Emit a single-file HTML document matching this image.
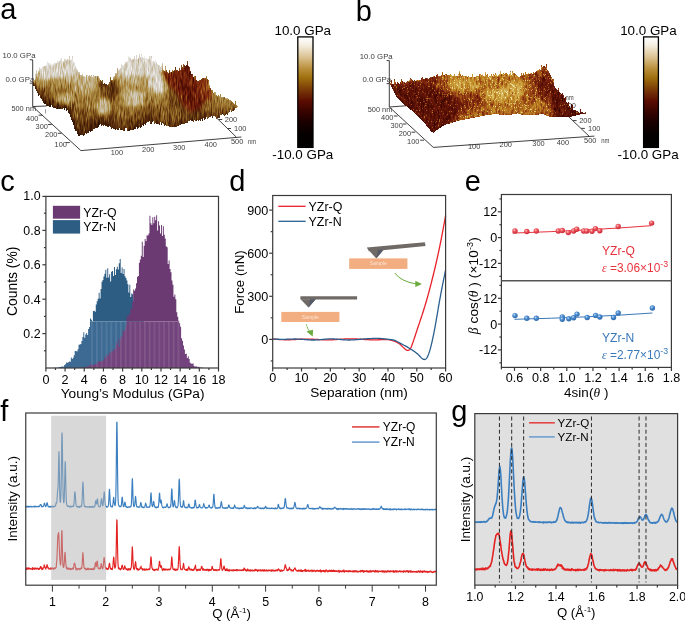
<!DOCTYPE html>
<html><head><meta charset="utf-8"><title>figure</title>
<style>html,body{margin:0;padding:0;background:#fff;width:685px;height:621px;overflow:hidden}svg{display:block;font-family:"Liberation Sans",sans-serif;will-change:transform}</style>
</head><body>
<svg width="685" height="621" viewBox="0 0 685 621">
<rect width="685" height="621" fill="#fff"/>
<defs><linearGradient id="cbar" x1="0" y1="0" x2="0" y2="1"><stop offset="0" stop-color="#ffffff"/><stop offset="0.07" stop-color="#f6f0e4"/><stop offset="0.18" stop-color="#dcc494"/><stop offset="0.28" stop-color="#bb9240"/><stop offset="0.37" stop-color="#a0700e"/><stop offset="0.47" stop-color="#7c3e08"/><stop offset="0.58" stop-color="#5a0c02"/><stop offset="0.67" stop-color="#3a0400"/><stop offset="0.77" stop-color="#1a0000"/><stop offset="0.88" stop-color="#060000"/><stop offset="1" stop-color="#000000"/></linearGradient></defs>
<rect x="297.8" y="36.9" width="15.199999999999989" height="110.5" fill="url(#cbar)" stroke="#000" stroke-width="1.3"/>
<text x="302.75" y="35.00" font-size="13.4" text-anchor="middle" fill="#000" >10.0 GPa</text>
<text x="302.75" y="159.40" font-size="13.4" text-anchor="middle" fill="#000" >-10.0 GPa</text>
<rect x="643.6" y="36.9" width="14.799999999999955" height="110.5" fill="url(#cbar)" stroke="#000" stroke-width="1.3"/>
<text x="648.45" y="35.00" font-size="13.4" text-anchor="middle" fill="#000" >10.0 GPa</text>
<text x="648.10" y="159.40" font-size="13.4" text-anchor="middle" fill="#000" >-10.0 GPa</text>
<line x1="32.7" y1="59.8" x2="32.7" y2="106.5" stroke="#2a2a2a" stroke-width="0.9"/>
<line x1="29.8" y1="59.8" x2="32.7" y2="59.8" stroke="#2a2a2a" stroke-width="0.9"/>
<line x1="29.8" y1="83.2" x2="32.7" y2="83.2" stroke="#2a2a2a" stroke-width="0.9"/>
<line x1="32.7" y1="106.5" x2="46.5" y2="106.0" stroke="#2a2a2a" stroke-width="0.9"/>
<line x1="45.6" y1="109.3" x2="45.6" y2="113.4" stroke="#777" stroke-width="0.8"/>
<line x1="32.7" y1="106.5" x2="80.9" y2="150.6" stroke="#2a2a2a" stroke-width="0.9"/>
<line x1="80.9" y1="150.6" x2="241.4" y2="137.0" stroke="#2a2a2a" stroke-width="0.9"/>
<line x1="236.2" y1="137.0" x2="216.0" y2="117.3" stroke="#2a2a2a" stroke-width="0.9"/>
<line x1="38.6" y1="115.2" x2="42.4" y2="115.2" stroke="#2a2a2a" stroke-width="0.9"/>
<line x1="47.9" y1="124.5" x2="51.7" y2="124.5" stroke="#2a2a2a" stroke-width="0.9"/>
<line x1="57.8" y1="133.3" x2="61.6" y2="133.3" stroke="#2a2a2a" stroke-width="0.9"/>
<line x1="66.0" y1="142.6" x2="69.8" y2="142.6" stroke="#2a2a2a" stroke-width="0.9"/>
<line x1="218.6" y1="119.5" x2="222.2" y2="119.5" stroke="#2a2a2a" stroke-width="0.9"/>
<line x1="227.4" y1="128.5" x2="231.0" y2="128.5" stroke="#2a2a2a" stroke-width="0.9"/>
<text x="2.5" y="57.9" font-family="Liberation Sans" font-size="7.2" fill="#3c3c3c" text-anchor="start" textLength="33.0" lengthAdjust="spacingAndGlyphs">10.0 GPa</text>
<text x="5.5" y="81.8" font-family="Liberation Sans" font-size="7.2" fill="#3c3c3c" text-anchor="start" textLength="28.8" lengthAdjust="spacingAndGlyphs">0.0 GPa</text>
<text x="11.4" y="111.2" font-family="Liberation Sans" font-size="7.2" fill="#3c3c3c" text-anchor="start" textLength="24.7" lengthAdjust="spacingAndGlyphs">500 nm</text>
<text x="26.0" y="120.5" font-family="Liberation Sans" font-size="7.2" fill="#3c3c3c" text-anchor="start" textLength="12.4" lengthAdjust="spacingAndGlyphs">400</text>
<text x="35.6" y="129.0" font-family="Liberation Sans" font-size="7.2" fill="#3c3c3c" text-anchor="start" textLength="12.4" lengthAdjust="spacingAndGlyphs">300</text>
<text x="45.0" y="137.4" font-family="Liberation Sans" font-size="7.2" fill="#3c3c3c" text-anchor="start" textLength="12.4" lengthAdjust="spacingAndGlyphs">200</text>
<text x="54.6" y="146.8" font-family="Liberation Sans" font-size="7.2" fill="#3c3c3c" text-anchor="start" textLength="12.4" lengthAdjust="spacingAndGlyphs">100</text>
<text x="110.7" y="154.6" font-family="Liberation Sans" font-size="7.2" fill="#3c3c3c" text-anchor="start" textLength="12.4" lengthAdjust="spacingAndGlyphs">100</text>
<text x="142.0" y="152.1" font-family="Liberation Sans" font-size="7.2" fill="#3c3c3c" text-anchor="start" textLength="12.4" lengthAdjust="spacingAndGlyphs">200</text>
<text x="173.0" y="149.6" font-family="Liberation Sans" font-size="7.2" fill="#3c3c3c" text-anchor="start" textLength="12.4" lengthAdjust="spacingAndGlyphs">300</text>
<text x="204.6" y="146.7" font-family="Liberation Sans" font-size="7.2" fill="#3c3c3c" text-anchor="start" textLength="12.4" lengthAdjust="spacingAndGlyphs">400</text>
<text x="230.9" y="143.6" font-family="Liberation Sans" font-size="7.2" fill="#3c3c3c" text-anchor="start" textLength="12.4" lengthAdjust="spacingAndGlyphs">500</text>
<text x="248.0" y="143.6" font-family="Liberation Sans" font-size="7.2" fill="#3c3c3c" text-anchor="start" textLength="8.2" lengthAdjust="spacingAndGlyphs">nm</text>
<text x="224.8" y="121.8" font-family="Liberation Sans" font-size="7.2" fill="#3c3c3c" text-anchor="start" textLength="12.4" lengthAdjust="spacingAndGlyphs">200</text>
<text x="234.0" y="131.0" font-family="Liberation Sans" font-size="7.2" fill="#3c3c3c" text-anchor="start" textLength="12.4" lengthAdjust="spacingAndGlyphs">100</text>
<line x1="389.3" y1="60.6" x2="389.3" y2="107.0" stroke="#2a2a2a" stroke-width="0.9"/>
<line x1="386.6" y1="60.6" x2="389.3" y2="60.6" stroke="#2a2a2a" stroke-width="0.9"/>
<line x1="386.6" y1="83.6" x2="389.3" y2="83.6" stroke="#2a2a2a" stroke-width="0.9"/>
<line x1="389.3" y1="107.0" x2="408.5" y2="105.6" stroke="#2a2a2a" stroke-width="0.9"/>
<line x1="389.3" y1="107.0" x2="433.3" y2="147.4" stroke="#2a2a2a" stroke-width="0.9"/>
<line x1="433.3" y1="147.4" x2="594.4" y2="136.1" stroke="#2a2a2a" stroke-width="0.9"/>
<line x1="589.2" y1="136.3" x2="568.3" y2="116.4" stroke="#2a2a2a" stroke-width="0.9"/>
<line x1="393.8" y1="116.0" x2="397.6" y2="116.0" stroke="#2a2a2a" stroke-width="0.9"/>
<line x1="402.6" y1="124.0" x2="406.4" y2="124.0" stroke="#2a2a2a" stroke-width="0.9"/>
<line x1="411.4" y1="132.2" x2="415.2" y2="132.2" stroke="#2a2a2a" stroke-width="0.9"/>
<line x1="420.2" y1="140.2" x2="424.0" y2="140.2" stroke="#2a2a2a" stroke-width="0.9"/>
<line x1="573.0" y1="120.6" x2="576.6" y2="120.6" stroke="#2a2a2a" stroke-width="0.9"/>
<line x1="581.3" y1="128.4" x2="584.9" y2="128.4" stroke="#2a2a2a" stroke-width="0.9"/>
<text x="359.7" y="58.6" font-family="Liberation Sans" font-size="7.2" fill="#3c3c3c" text-anchor="start" textLength="33.0" lengthAdjust="spacingAndGlyphs">10.0 GPa</text>
<text x="362.4" y="82.0" font-family="Liberation Sans" font-size="7.2" fill="#3c3c3c" text-anchor="start" textLength="28.8" lengthAdjust="spacingAndGlyphs">0.0 GPa</text>
<text x="367.7" y="112.1" font-family="Liberation Sans" font-size="7.2" fill="#3c3c3c" text-anchor="start" textLength="24.7" lengthAdjust="spacingAndGlyphs">500 nm</text>
<text x="381.0" y="120.0" font-family="Liberation Sans" font-size="7.2" fill="#3c3c3c" text-anchor="start" textLength="12.4" lengthAdjust="spacingAndGlyphs">400</text>
<text x="390.4" y="128.0" font-family="Liberation Sans" font-size="7.2" fill="#3c3c3c" text-anchor="start" textLength="12.4" lengthAdjust="spacingAndGlyphs">300</text>
<text x="398.7" y="136.0" font-family="Liberation Sans" font-size="7.2" fill="#3c3c3c" text-anchor="start" textLength="12.4" lengthAdjust="spacingAndGlyphs">200</text>
<text x="407.0" y="144.0" font-family="Liberation Sans" font-size="7.2" fill="#3c3c3c" text-anchor="start" textLength="12.4" lengthAdjust="spacingAndGlyphs">100</text>
<text x="467.9" y="148.7" font-family="Liberation Sans" font-size="7.2" fill="#3c3c3c" text-anchor="start" textLength="12.4" lengthAdjust="spacingAndGlyphs">100</text>
<text x="499.5" y="147.2" font-family="Liberation Sans" font-size="7.2" fill="#3c3c3c" text-anchor="start" textLength="12.4" lengthAdjust="spacingAndGlyphs">200</text>
<text x="532.3" y="145.7" font-family="Liberation Sans" font-size="7.2" fill="#3c3c3c" text-anchor="start" textLength="12.4" lengthAdjust="spacingAndGlyphs">300</text>
<text x="556.7" y="144.6" font-family="Liberation Sans" font-size="7.2" fill="#3c3c3c" text-anchor="start" textLength="12.4" lengthAdjust="spacingAndGlyphs">400</text>
<text x="584.0" y="143.1" font-family="Liberation Sans" font-size="7.2" fill="#3c3c3c" text-anchor="start" textLength="12.4" lengthAdjust="spacingAndGlyphs">500</text>
<text x="601.2" y="143.1" font-family="Liberation Sans" font-size="7.2" fill="#3c3c3c" text-anchor="start" textLength="8.2" lengthAdjust="spacingAndGlyphs">nm</text>
<text x="579.2" y="122.7" font-family="Liberation Sans" font-size="7.2" fill="#3c3c3c" text-anchor="start" textLength="12.4" lengthAdjust="spacingAndGlyphs">200</text>
<text x="588.1" y="131.0" font-family="Liberation Sans" font-size="7.2" fill="#3c3c3c" text-anchor="start" textLength="12.4" lengthAdjust="spacingAndGlyphs">100</text>
<text x="565.6" y="99.6" font-family="Liberation Sans" font-size="7.2" fill="#3c3c3c" text-anchor="start" textLength="8.2" lengthAdjust="spacingAndGlyphs">nm</text>
<text x="567.7" y="107.5" font-family="Liberation Sans" font-size="7.2" fill="#3c3c3c" text-anchor="start" textLength="8.2" lengthAdjust="spacingAndGlyphs">00</text><g fill="none" stroke-width="1"><path stroke="#eeece8" d="M42.5 70v4M44.5 72v5M46.5 64v1M47.5 64v2M51.5 64v2M52.5 64v1M53.5 63v2M54.5 62v2M57.5 66v5M59.5 72v2M62.5 61v1M65.5 72v1M73.5 61v1M73.5 67v2M126.5 72v3M128.5 56v1M128.5 61v1M129.5 63v4M131.5 67v3M144.5 56v2M145.5 59v3M146.5 58v2M147.5 69v5M151.5 60v1M152.5 61v1M153.5 73v1M155.5 60v3M156.5 77v4M159.5 83v2"/><path stroke="#e9e6e1" d="M42.5 69v1M44.5 77v1M46.5 65v1M47.5 63v1M49.5 64v1M50.5 63v2M53.5 73v2M56.5 70v2M57.5 65v1M59.5 74v1M61.5 75v1M65.5 71v1M65.5 73v1M68.5 59v1M71.5 59v1M72.5 60v1M73.5 69v1M74.5 65v2M122.5 69v2M123.5 65v1M126.5 71v1M127.5 68v2M128.5 57v1M128.5 60v1M128.5 65v3M129.5 67v1M129.5 70v3M131.5 66v1M133.5 70v1M134.5 73v1M139.5 68v1M141.5 56v2M143.5 60v2M145.5 58v1M146.5 60v1M147.5 63v1M147.5 67v2M147.5 74v1M150.5 56v2M151.5 59v1M151.5 61v1M152.5 62v2M153.5 72v1M153.5 74v1M154.5 61v1M154.5 72v2M155.5 63v1M156.5 76v1M156.5 81v1M159.5 82v1M159.5 85v1M161.5 87v4"/><path stroke="#e4e1da" d="M39.5 67v1M42.5 68v1M42.5 74v1M44.5 71v1M47.5 66v2M49.5 75v2M51.5 66v1M52.5 65v1M54.5 69v2M56.5 72v1M57.5 62v1M57.5 64v1M57.5 71v1M59.5 70v2M60.5 64v2M61.5 74v1M61.5 76v1M62.5 62v4M63.5 69v2M67.5 66v3M68.5 60v1M68.5 66v4M68.5 71v2M71.5 64v2M72.5 59v1M72.5 61v2M73.5 66v1M74.5 67v1M76.5 68v1M87.5 76v1M121.5 64v1M122.5 65v2M122.5 68v1M122.5 71v1M126.5 75v1M127.5 61v1M127.5 70v3M128.5 58v2M128.5 62v3M128.5 68v1M129.5 57v1M129.5 62v1M129.5 68v2M129.5 73v1M130.5 62v2M130.5 72v2M131.5 65v1M131.5 70v1M133.5 69v1M133.5 71v1M134.5 72v1M134.5 74v1M135.5 60v2M135.5 65v3M139.5 66v2M139.5 69v1M140.5 65v2M141.5 63v3M143.5 59v1M144.5 58v1M145.5 62v1M146.5 61v1M147.5 61v2M147.5 64v3M149.5 66v6M150.5 58v1M151.5 62v1M152.5 64v1M153.5 68v1M153.5 71v1M154.5 71v1M154.5 74v1M154.5 86v2M156.5 75v1M156.5 88v2M159.5 65v1M159.5 86v2M161.5 85v2"/><path stroke="#dfdbd4" d="M39.5 68v1M41.5 68v1M42.5 67v1M42.5 75v1M43.5 66v1M47.5 62v1M47.5 68v1M49.5 70v2M49.5 74v1M49.5 77v1M51.5 67v1M51.5 71v2M52.5 66v1M53.5 72v1M53.5 75v1M54.5 68v1M54.5 71v1M55.5 63v1M55.5 74v1M56.5 69v1M56.5 73v1M57.5 61v1M57.5 63v1M59.5 69v1M60.5 63v1M60.5 66v1M61.5 61v1M61.5 73v1M62.5 66v1M63.5 61v1M63.5 68v1M64.5 71v2M65.5 59v2M65.5 70v1M66.5 67v2M67.5 69v1M68.5 65v1M68.5 70v1M68.5 73v1M71.5 60v1M71.5 63v1M71.5 66v6M72.5 58v1M72.5 63v1M72.5 73v2M73.5 62v1M73.5 70v1M74.5 64v1M87.5 77v1M119.5 69v1M121.5 65v1M122.5 67v1M122.5 72v1M123.5 66v1M124.5 64v1M125.5 72v1M126.5 70v1M127.5 62v2M127.5 67v1M127.5 73v1M128.5 69v1M129.5 58v1M129.5 74v1M130.5 64v1M130.5 67v5M130.5 74v1M132.5 72v2M133.5 72v1M134.5 56v1M134.5 75v1M135.5 59v1M135.5 62v3M135.5 68v1M136.5 58v1M137.5 59v1M138.5 72v1M139.5 61v5M139.5 70v1M140.5 64v1M140.5 67v1M141.5 55v1M141.5 66v1M143.5 62v1M144.5 59v1M145.5 63v1M146.5 62v2M147.5 60v1M148.5 72v2M149.5 65v1M149.5 72v1M149.5 81v2M150.5 59v1M150.5 82v1M151.5 58v1M151.5 63v2M151.5 74v3M152.5 74v2M153.5 61v1M153.5 67v1M153.5 69v2M154.5 70v1M154.5 75v1M154.5 85v1M154.5 88v1M155.5 64v1M155.5 77v1M155.5 84v2M156.5 62v1M156.5 74v1M156.5 82v1M156.5 87v1M156.5 90v1M157.5 65v7M157.5 81v1M158.5 82v2M159.5 81v1M159.5 88v1M161.5 84v1M161.5 91v1"/><path stroke="#dad6cd" d="M37.5 73v1M40.5 69v4M41.5 69v1M44.5 70v1M44.5 78v1M46.5 66v2M46.5 71v1M47.5 69v1M48.5 64v1M48.5 66v3M48.5 74v3M49.5 69v1M49.5 72v2M51.5 68v3M51.5 73v1M52.5 75v1M53.5 65v1M54.5 64v1M54.5 67v1M54.5 72v2M55.5 73v1M55.5 75v1M56.5 74v1M57.5 72v1M58.5 62v1M59.5 68v1M60.5 60v2M61.5 58v3M61.5 72v1M62.5 67v1M64.5 70v1M64.5 73v2M65.5 74v1M66.5 66v1M66.5 69v1M67.5 65v1M67.5 70v1M68.5 64v1M68.5 74v1M69.5 69v5M71.5 62v1M71.5 72v1M72.5 57v1M72.5 64v1M72.5 72v1M73.5 63v1M73.5 65v1M74.5 63v1M74.5 68v1M75.5 66v2M87.5 75v1M87.5 78v1M120.5 68v1M121.5 66v2M123.5 67v1M123.5 70v2M124.5 65v2M125.5 73v1M126.5 62v1M127.5 64v1M128.5 70v1M129.5 59v3M130.5 61v1M130.5 65v2M131.5 64v1M132.5 59v1M132.5 71v1M133.5 68v1M134.5 57v2M134.5 64v4M134.5 71v1M135.5 69v1M136.5 55v3M136.5 97v3M137.5 60v4M138.5 71v1M138.5 73v1M139.5 54v2M139.5 60v1M139.5 71v1M140.5 62v2M140.5 73v1M141.5 58v1M141.5 62v1M141.5 73v1M142.5 57v1M142.5 70v1M143.5 58v1M145.5 64v1M145.5 67v3M146.5 64v1M146.5 68v2M146.5 73v3M147.5 75v1M148.5 63v4M148.5 74v1M149.5 56v2M149.5 73v1M149.5 83v2M150.5 80v2M150.5 83v1M151.5 65v1M151.5 73v1M151.5 77v1M151.5 83v1M152.5 65v1M152.5 73v1M153.5 66v1M153.5 75v1M153.5 83v4M154.5 62v1M155.5 65v2M155.5 75v2M155.5 78v1M155.5 83v1M155.5 86v1M156.5 68v6M157.5 64v1M157.5 72v1M157.5 79v2M157.5 82v1M158.5 81v1M158.5 84v3M159.5 66v2M159.5 80v1M159.5 89v1M160.5 78v6M161.5 67v1"/><path stroke="#d5d0c5" d="M40.5 73v2M42.5 76v1M43.5 67v1M45.5 74v2M46.5 68v3M46.5 72v2M47.5 70v1M47.5 77v1M48.5 63v1M48.5 65v1M48.5 69v1M48.5 73v1M49.5 65v1M49.5 68v1M50.5 65v1M52.5 67v1M52.5 70v2M52.5 73v2M53.5 76v1M54.5 65v2M54.5 74v1M55.5 72v1M55.5 76v1M56.5 68v1M56.5 75v1M59.5 67v1M59.5 75v1M60.5 62v1M60.5 67v1M61.5 62v2M61.5 71v1M61.5 77v1M62.5 68v1M62.5 75v1M63.5 71v1M64.5 59v2M64.5 69v1M64.5 75v1M65.5 69v1M66.5 70v1M68.5 61v1M68.5 63v1M69.5 58v1M69.5 68v1M69.5 74v2M70.5 60v1M70.5 62v2M70.5 71v1M71.5 61v1M72.5 75v1M73.5 64v1M73.5 71v1M74.5 72v2M75.5 68v1M75.5 88v1M76.5 69v1M84.5 76v1M85.5 77v3M118.5 70v1M119.5 70v1M122.5 73v1M123.5 68v2M123.5 72v1M125.5 62v2M125.5 71v1M125.5 74v1M126.5 69v1M126.5 76v1M127.5 65v2M127.5 74v1M128.5 71v1M128.5 76v2M129.5 75v1M130.5 58v2M131.5 63v1M131.5 71v1M132.5 74v1M133.5 63v2M133.5 73v1M134.5 59v1M134.5 62v2M134.5 68v3M134.5 76v1M134.5 95v2M135.5 70v1M136.5 59v4M136.5 72v2M136.5 96v1M138.5 66v3M139.5 58v2M139.5 72v1M140.5 57v1M140.5 61v1M140.5 68v1M140.5 71v2M140.5 74v2M141.5 54v1M141.5 59v1M141.5 61v1M141.5 67v2M141.5 71v2M141.5 74v1M142.5 58v3M142.5 68v2M142.5 71v1M143.5 72v1M144.5 60v1M145.5 65v2M145.5 70v1M146.5 65v3M146.5 70v3M147.5 59v1M148.5 59v1M148.5 62v1M148.5 71v1M149.5 58v1M149.5 64v1M149.5 80v1M149.5 85v1M150.5 66v4M150.5 75v5M151.5 57v1M151.5 66v1M151.5 78v1M151.5 81v2M151.5 84v1M152.5 76v1M153.5 62v1M153.5 81v2M153.5 87v1M154.5 63v1M154.5 69v1M154.5 76v1M154.5 84v1M154.5 89v1M155.5 67v2M155.5 73v2M155.5 79v4M155.5 87v2M156.5 63v5M156.5 83v1M156.5 86v1M156.5 91v1M157.5 73v2M157.5 77v2M157.5 83v1M158.5 73v3M158.5 80v1M158.5 87v3M159.5 68v1M159.5 76v4M160.5 68v1M160.5 77v1M160.5 84v1M160.5 88v2M161.5 66v1M161.5 68v2M161.5 83v1"/><path stroke="#d2cbbb" d="M35.5 75v2M36.5 70v1M37.5 74v1M39.5 69v1M40.5 75v1M41.5 70v3M43.5 68v1M44.5 69v1M45.5 76v1M46.5 74v1M47.5 76v1M47.5 78v1M48.5 70v1M48.5 72v1M48.5 77v1M49.5 66v1M49.5 78v1M50.5 70v4M51.5 74v1M52.5 68v2M52.5 72v1M52.5 76v1M53.5 71v1M54.5 75v1M55.5 64v1M57.5 73v2M58.5 75v1M59.5 61v2M60.5 68v2M61.5 70v1M62.5 74v1M62.5 76v1M63.5 67v1M64.5 61v1M64.5 76v1M65.5 61v4M66.5 60v1M66.5 65v1M66.5 71v1M67.5 64v1M67.5 71v1M68.5 62v1M68.5 75v1M69.5 57v1M69.5 59v1M69.5 66v2M69.5 76v1M69.5 79v2M70.5 61v1M70.5 64v1M70.5 68v3M70.5 72v3M71.5 73v1M72.5 56v1M72.5 65v1M72.5 71v1M73.5 72v1M74.5 69v1M74.5 71v1M75.5 87v1M75.5 89v1M76.5 70v1M81.5 87v1M85.5 80v1M87.5 79v1M100.5 101v2M104.5 100v2M119.5 71v1M120.5 69v3M121.5 68v3M123.5 73v1M124.5 67v1M125.5 70v1M125.5 75v1M126.5 68v1M128.5 72v4M130.5 60v1M131.5 62v1M131.5 92v3M132.5 70v1M133.5 62v1M133.5 65v3M134.5 60v2M134.5 93v2M134.5 97v1M135.5 71v1M136.5 63v2M136.5 71v1M136.5 100v1M137.5 64v1M138.5 65v1M138.5 69v2M138.5 74v1M139.5 56v2M139.5 73v1M140.5 60v1M140.5 69v2M140.5 76v1M141.5 60v1M141.5 69v2M141.5 95v2M142.5 61v7M142.5 72v1M143.5 63v1M143.5 71v1M143.5 73v1M145.5 71v2M146.5 76v1M148.5 61v1M148.5 67v1M148.5 75v1M148.5 82v2M149.5 59v1M149.5 63v1M149.5 74v1M149.5 86v1M150.5 60v3M150.5 65v1M150.5 70v1M150.5 73v2M150.5 84v1M151.5 56v1M151.5 67v1M151.5 72v1M151.5 79v2M151.5 85v1M152.5 72v1M153.5 63v1M153.5 65v1M153.5 80v1M154.5 83v1M155.5 72v1M155.5 89v1M156.5 84v2M157.5 75v2M157.5 84v4M158.5 70v3M158.5 76v1M158.5 79v1M158.5 90v1M159.5 69v1M159.5 75v1M159.5 90v1M160.5 67v1M160.5 69v1M160.5 76v1M160.5 85v3M160.5 90v1M162.5 83v2M162.5 89v1"/><path stroke="#cec6b1" d="M35.5 74v1M36.5 71v1M37.5 75v1M40.5 76v1M41.5 73v1M42.5 77v1M43.5 69v4M45.5 73v1M45.5 77v1M46.5 75v1M47.5 71v1M47.5 75v1M47.5 79v1M48.5 71v1M49.5 67v1M50.5 66v1M50.5 69v1M50.5 74v1M51.5 75v1M53.5 66v1M53.5 77v1M55.5 65v2M55.5 71v1M56.5 63v1M56.5 67v1M56.5 76v1M57.5 75v1M58.5 63v2M58.5 71v4M58.5 76v1M59.5 65v2M60.5 70v1M61.5 64v1M61.5 69v1M62.5 69v1M62.5 73v1M63.5 72v1M65.5 65v1M65.5 68v1M65.5 75v1M66.5 64v1M66.5 72v1M67.5 59v2M67.5 72v1M67.5 95v3M69.5 56v1M69.5 60v1M69.5 65v1M69.5 77v2M69.5 81v1M70.5 65v3M70.5 75v1M72.5 66v2M72.5 70v1M72.5 76v1M74.5 70v1M74.5 74v1M75.5 69v4M75.5 75v5M77.5 70v1M77.5 75v2M78.5 72v1M79.5 72v1M81.5 86v1M81.5 88v1M82.5 74v1M85.5 81v1M89.5 84v2M93.5 75v2M94.5 76v1M100.5 103v2M105.5 105v3M118.5 74v1M119.5 72v3M120.5 72v1M121.5 71v1M122.5 74v1M124.5 68v1M125.5 64v3M126.5 77v1M127.5 75v1M128.5 78v1M128.5 103v1M129.5 76v1M130.5 75v1M131.5 60v2M131.5 95v1M132.5 60v1M132.5 67v3M133.5 74v1M133.5 79v2M134.5 77v1M134.5 98v1M134.5 103v1M135.5 72v1M135.5 81v1M135.5 93v2M136.5 65v1M136.5 74v1M136.5 95v1M136.5 101v1M137.5 65v5M137.5 73v2M139.5 74v1M140.5 58v2M141.5 97v1M142.5 73v2M142.5 101v3M143.5 67v4M144.5 61v1M144.5 64v2M145.5 73v1M147.5 76v1M148.5 60v1M148.5 70v1M148.5 81v1M148.5 84v1M149.5 62v1M149.5 79v1M149.5 87v1M150.5 63v2M150.5 71v2M150.5 85v1M151.5 68v1M151.5 71v1M151.5 86v1M152.5 66v1M152.5 71v1M153.5 64v1M153.5 76v1M153.5 79v1M153.5 88v1M154.5 64v1M154.5 68v1M154.5 77v1M154.5 82v1M154.5 90v1M155.5 69v3M156.5 92v1M157.5 88v1M158.5 65v2M158.5 68v2M158.5 77v2M158.5 91v1M159.5 74v1M160.5 70v1M161.5 70v1M161.5 82v1M161.5 92v1M162.5 63v1M162.5 82v1M162.5 88v1M162.5 90v1"/><path stroke="#cbc0a6" d="M35.5 77v1M36.5 72v1M39.5 70v1M39.5 77v1M42.5 78v1M43.5 73v1M44.5 66v3M44.5 79v1M45.5 66v2M45.5 72v1M46.5 76v2M47.5 72v3M50.5 67v2M52.5 77v1M53.5 70v1M53.5 78v1M54.5 76v1M55.5 67v1M55.5 70v1M55.5 77v1M57.5 76v1M58.5 65v2M58.5 68v3M59.5 63v2M60.5 71v1M60.5 75v1M62.5 70v3M62.5 77v1M63.5 62v1M64.5 68v1M64.5 77v1M64.5 99v1M65.5 66v2M66.5 63v1M66.5 73v1M66.5 78v1M67.5 62v2M67.5 98v1M68.5 76v1M69.5 64v1M69.5 82v1M70.5 76v1M71.5 74v1M72.5 68v2M73.5 73v1M75.5 73v2M75.5 80v1M75.5 86v1M76.5 71v1M76.5 78v2M77.5 71v1M77.5 74v1M77.5 77v1M79.5 73v1M83.5 76v1M83.5 82v2M84.5 77v1M89.5 83v1M91.5 76v1M96.5 76v1M100.5 100v1M100.5 105v1M101.5 109v3M102.5 101v2M102.5 109v3M103.5 110v2M104.5 99v1M104.5 102v1M105.5 104v1M105.5 108v1M118.5 71v3M118.5 75v1M119.5 75v1M120.5 73v1M122.5 75v1M123.5 74v1M124.5 69v3M125.5 67v1M125.5 69v1M125.5 76v1M126.5 63v1M126.5 67v1M126.5 78v1M128.5 102v1M129.5 97v6M131.5 72v1M131.5 91v1M132.5 61v6M132.5 75v1M132.5 96v2M133.5 59v1M133.5 75v1M133.5 78v1M133.5 81v1M133.5 95v2M133.5 101v4M134.5 92v1M134.5 101v2M134.5 104v1M135.5 73v1M135.5 80v1M135.5 82v1M135.5 95v1M135.5 99v2M135.5 102v3M136.5 66v2M136.5 70v1M136.5 79v2M136.5 94v1M136.5 102v1M137.5 70v3M137.5 75v1M137.5 93v2M138.5 58v1M138.5 64v1M138.5 100v2M140.5 77v1M141.5 75v1M141.5 94v1M142.5 75v1M142.5 94v3M142.5 100v1M143.5 64v3M143.5 74v1M144.5 62v2M144.5 66v1M146.5 77v1M148.5 68v2M148.5 85v1M149.5 60v2M149.5 75v1M151.5 69v2M151.5 87v1M152.5 70v1M152.5 77v1M152.5 83v2M153.5 77v2M154.5 65v1M154.5 78v1M154.5 81v1M155.5 90v1M157.5 89v2M158.5 67v1M158.5 92v1M159.5 91v1M160.5 75v1M160.5 91v1M162.5 85v1M162.5 91v1"/><path stroke="#c8bb9c" d="M35.5 78v1M36.5 73v1M37.5 76v1M38.5 71v1M39.5 76v1M39.5 78v1M40.5 77v1M41.5 74v2M43.5 74v3M45.5 68v4M45.5 78v1M46.5 78v1M47.5 80v1M48.5 78v1M50.5 75v1M51.5 76v1M53.5 67v3M53.5 79v1M55.5 68v2M56.5 64v1M56.5 66v1M56.5 77v1M57.5 77v1M58.5 67v1M58.5 77v1M59.5 76v1M60.5 74v1M60.5 76v1M61.5 65v1M61.5 68v1M61.5 78v1M63.5 66v1M63.5 73v1M64.5 62v1M64.5 98v1M65.5 99v1M66.5 61v2M66.5 74v4M66.5 79v1M67.5 61v1M67.5 73v4M67.5 94v1M67.5 99v1M68.5 77v1M68.5 100v2M70.5 77v1M72.5 77v1M74.5 75v1M75.5 81v1M75.5 90v1M76.5 77v1M77.5 72v2M78.5 73v1M78.5 81v3M79.5 82v3M80.5 75v1M81.5 85v1M81.5 89v1M82.5 75v1M82.5 87v3M83.5 81v1M83.5 84v1M84.5 78v4M85.5 82v1M85.5 91v2M87.5 80v1M89.5 86v1M90.5 76v1M91.5 75v1M91.5 77v1M91.5 84v1M93.5 77v1M96.5 77v1M97.5 104v3M100.5 106v2M100.5 110v1M101.5 108v1M102.5 100v1M102.5 103v1M102.5 108v1M103.5 109v1M105.5 102v2M105.5 109v2M106.5 103v2M118.5 76v1M120.5 81v1M121.5 72v1M122.5 76v1M123.5 75v4M124.5 72v5M124.5 97v1M125.5 68v1M126.5 64v1M126.5 66v1M126.5 79v2M126.5 98v2M128.5 79v1M128.5 104v1M129.5 77v1M129.5 103v1M130.5 94v3M131.5 79v2M131.5 96v1M132.5 95v1M132.5 98v1M133.5 61v1M133.5 76v2M133.5 93v2M133.5 97v1M133.5 100v1M133.5 105v1M134.5 91v1M134.5 99v2M135.5 74v1M135.5 92v1M135.5 96v3M135.5 101v1M136.5 68v2M136.5 75v1M136.5 81v1M136.5 93v1M136.5 103v1M137.5 95v1M138.5 63v1M138.5 99v1M138.5 102v1M139.5 75v1M141.5 98v1M142.5 97v1M142.5 104v1M144.5 67v1M144.5 70v2M144.5 94v1M145.5 74v1M148.5 76v1M148.5 80v1M148.5 86v1M149.5 78v1M151.5 88v1M152.5 67v1M152.5 82v1M152.5 85v1M153.5 89v1M154.5 66v2M154.5 79v2M154.5 91v1M156.5 93v1M157.5 91v1M159.5 70v1M159.5 73v1M160.5 71v1M160.5 74v1M161.5 81v1M162.5 64v1M162.5 81v1M162.5 86v2"/><path stroke="#c4b48f" d="M34.5 80v1M36.5 74v1M39.5 71v1M39.5 79v1M41.5 76v2M43.5 77v3M50.5 76v1M56.5 65v1M60.5 72v2M61.5 66v2M62.5 78v1M62.5 98v2M63.5 74v1M64.5 63v2M64.5 67v1M64.5 78v1M64.5 100v1M65.5 76v1M65.5 98v1M65.5 100v1M66.5 80v1M67.5 77v1M67.5 80v1M68.5 78v1M69.5 61v1M69.5 63v1M69.5 83v1M70.5 78v1M73.5 74v1M73.5 79v2M74.5 80v2M76.5 72v1M76.5 76v1M76.5 80v1M77.5 78v1M78.5 79v2M79.5 81v1M79.5 85v1M80.5 76v1M81.5 75v1M82.5 86v1M82.5 90v3M83.5 77v1M83.5 80v1M84.5 82v1M85.5 90v1M85.5 93v1M86.5 85v3M87.5 86v1M88.5 80v3M88.5 90v3M89.5 75v1M89.5 82v1M90.5 84v2M91.5 78v1M91.5 82v2M91.5 85v1M92.5 77v11M93.5 78v1M94.5 77v1M96.5 78v1M97.5 107v1M99.5 78v1M100.5 108v2M100.5 111v1M101.5 107v1M102.5 104v1M103.5 112v1M104.5 103v1M105.5 101v1M105.5 111v1M106.5 105v5M109.5 105v2M115.5 73v1M116.5 73v1M119.5 76v1M120.5 74v1M120.5 80v1M120.5 82v1M122.5 77v2M123.5 79v1M124.5 77v1M124.5 95v2M124.5 98v1M126.5 65v1M126.5 81v1M126.5 87v1M126.5 97v1M126.5 100v1M127.5 76v1M127.5 94v2M128.5 80v1M128.5 101v1M129.5 90v2M129.5 96v1M130.5 93v1M130.5 97v2M131.5 73v1M131.5 78v1M131.5 81v1M131.5 90v1M132.5 76v1M132.5 99v1M133.5 60v1M133.5 82v1M133.5 98v2M134.5 78v1M134.5 90v1M135.5 79v1M135.5 83v1M136.5 78v1M136.5 82v1M136.5 92v1M137.5 76v1M137.5 92v1M137.5 96v1M137.5 101v3M138.5 75v1M138.5 96v3M139.5 76v1M139.5 93v2M140.5 78v1M140.5 94v3M140.5 98v3M141.5 99v3M142.5 76v1M142.5 93v1M142.5 98v2M143.5 75v1M144.5 68v2M144.5 72v1M144.5 93v1M145.5 75v1M145.5 79v3M147.5 77v1M148.5 77v3M148.5 87v1M149.5 76v2M149.5 88v1M150.5 86v1M151.5 89v1M152.5 68v2M152.5 81v1M152.5 86v1M153.5 90v1M155.5 91v1M157.5 92v1M158.5 93v1M160.5 72v2M160.5 92v1M161.5 80v1M162.5 65v1M162.5 80v1M162.5 92v1M165.5 88v2"/><path stroke="#c0ad80" d="M36.5 75v1M38.5 72v1M39.5 75v1M40.5 78v1M41.5 78v1M42.5 79v1M43.5 80v5M45.5 79v2M46.5 79v1M49.5 79v1M51.5 77v1M53.5 80v1M54.5 77v1M55.5 78v1M57.5 78v1M58.5 78v1M60.5 77v1M61.5 79v1M62.5 97v1M63.5 63v1M63.5 65v1M63.5 75v1M64.5 65v2M64.5 79v1M64.5 97v1M65.5 97v1M65.5 101v1M67.5 78v2M67.5 81v1M67.5 93v1M67.5 100v1M68.5 79v1M68.5 99v1M68.5 102v1M69.5 62v1M69.5 84v1M69.5 96v4M70.5 79v1M71.5 75v1M71.5 93v3M73.5 75v1M73.5 78v1M73.5 81v1M74.5 76v1M74.5 79v1M74.5 82v1M75.5 82v1M75.5 85v1M76.5 73v1M76.5 75v1M76.5 81v1M78.5 74v1M78.5 78v1M78.5 84v1M79.5 80v1M80.5 77v1M80.5 81v7M81.5 84v1M82.5 93v1M83.5 78v2M83.5 85v1M84.5 83v1M85.5 83v1M86.5 84v1M86.5 88v1M87.5 85v1M87.5 87v1M88.5 76v2M88.5 79v1M88.5 83v1M88.5 89v1M88.5 93v1M89.5 76v1M89.5 87v1M89.5 106v1M90.5 82v2M90.5 86v1M91.5 79v3M91.5 86v4M93.5 79v1M94.5 78v1M96.5 79v2M97.5 103v1M98.5 76v2M99.5 107v6M100.5 99v1M101.5 101v4M101.5 106v1M101.5 112v1M102.5 99v1M102.5 105v3M102.5 112v1M103.5 103v3M103.5 108v1M104.5 107v1M106.5 102v1M106.5 110v1M107.5 108v2M108.5 101v2M109.5 104v1M109.5 107v4M114.5 76v1M115.5 74v1M117.5 68v1M118.5 77v1M120.5 79v1M120.5 83v1M121.5 73v1M122.5 79v2M123.5 80v4M124.5 78v1M124.5 92v3M124.5 99v1M125.5 77v1M126.5 86v1M126.5 88v1M126.5 95v2M126.5 101v1M127.5 77v3M127.5 93v1M127.5 96v1M128.5 90v2M128.5 97v2M129.5 78v1M129.5 92v1M129.5 104v1M130.5 76v1M130.5 92v1M130.5 99v2M131.5 74v1M131.5 77v1M131.5 82v1M132.5 77v9M132.5 94v1M133.5 92v1M133.5 106v1M134.5 105v1M135.5 75v1M135.5 84v1M135.5 91v1M135.5 105v1M136.5 76v2M136.5 104v1M137.5 77v1M137.5 84v1M137.5 97v1M137.5 100v1M138.5 59v1M138.5 62v1M138.5 81v2M138.5 94v2M138.5 103v1M139.5 77v1M140.5 93v1M140.5 97v1M140.5 101v1M141.5 76v1M141.5 93v1M141.5 102v1M142.5 77v1M142.5 105v1M144.5 73v1M144.5 92v1M144.5 95v1M145.5 76v3M145.5 82v4M149.5 89v1M151.5 90v1M153.5 91v1M156.5 94v1M158.5 94v1M159.5 71v2M160.5 93v1M161.5 77v3M161.5 93v1M162.5 66v2M162.5 79v1M163.5 83v9M165.5 84v1M165.5 87v1M165.5 90v1M225.5 98v1M226.5 98v1"/><path stroke="#bca571" d="M34.5 81v1M37.5 77v1M38.5 73v4M39.5 72v1M39.5 80v1M41.5 79v1M43.5 85v2M45.5 81v1M45.5 83v2M47.5 81v1M48.5 79v1M50.5 77v1M52.5 78v1M56.5 78v1M58.5 95v1M58.5 98v2M59.5 77v1M59.5 82v2M59.5 98v2M60.5 97v2M61.5 80v1M62.5 79v1M62.5 96v1M62.5 100v1M63.5 64v1M63.5 76v1M63.5 96v2M64.5 101v1M66.5 81v1M67.5 82v1M67.5 101v1M68.5 80v1M69.5 85v2M70.5 80v1M71.5 92v1M72.5 78v1M73.5 76v2M73.5 99v2M74.5 77v2M74.5 83v1M75.5 83v1M76.5 74v1M76.5 85v2M77.5 79v1M78.5 75v3M79.5 74v1M79.5 86v1M79.5 90v2M80.5 78v3M81.5 76v2M81.5 90v1M82.5 76v1M82.5 85v1M82.5 94v1M84.5 84v1M85.5 89v1M86.5 75v2M86.5 89v4M87.5 81v1M87.5 84v1M87.5 102v2M88.5 78v1M88.5 88v1M89.5 77v1M89.5 107v1M90.5 77v5M90.5 87v2M91.5 90v1M92.5 88v1M93.5 80v6M94.5 79v9M94.5 106v1M95.5 85v1M96.5 81v1M98.5 109v2M99.5 106v1M99.5 113v1M101.5 105v1M103.5 106v2M104.5 98v1M104.5 104v3M104.5 108v2M105.5 100v1M105.5 112v1M107.5 107v1M107.5 110v1M108.5 103v1M113.5 77v1M116.5 74v1M117.5 69v9M119.5 77v1M120.5 75v1M121.5 74v1M122.5 81v1M123.5 84v1M123.5 94v3M124.5 90v2M124.5 100v1M126.5 82v1M126.5 85v1M126.5 89v1M126.5 93v2M126.5 102v3M127.5 80v1M127.5 87v4M127.5 92v1M127.5 97v1M127.5 102v3M128.5 81v5M128.5 89v1M128.5 92v1M128.5 96v1M128.5 99v2M129.5 79v2M129.5 89v1M129.5 95v1M130.5 101v3M131.5 75v2M131.5 83v1M131.5 97v1M131.5 102v1M132.5 93v1M132.5 100v2M133.5 91v1M133.5 107v1M134.5 88v2M135.5 76v3M135.5 85v1M135.5 90v1M136.5 83v1M136.5 91v1M137.5 83v1M137.5 85v1M137.5 91v1M137.5 98v2M137.5 104v1M138.5 60v2M138.5 83v1M138.5 92v2M139.5 78v3M139.5 82v5M139.5 92v1M139.5 95v1M139.5 102v2M140.5 79v1M140.5 92v1M141.5 103v1M142.5 92v1M143.5 76v1M144.5 74v2M144.5 79v4M144.5 85v1M146.5 78v1M148.5 88v4M149.5 90v2M150.5 87v1M150.5 97v2M151.5 91v2M152.5 78v1M152.5 80v1M152.5 87v1M153.5 92v1M154.5 92v1M155.5 92v1M157.5 93v1M158.5 95v1M159.5 92v1M160.5 94v2M162.5 68v1M162.5 93v2M163.5 82v1M165.5 67v1M165.5 85v2M167.5 87v1M215.5 92v3M219.5 96v1M227.5 98v1"/><path stroke="#b79d62" d="M38.5 77v2M39.5 73v2M40.5 79v1M41.5 80v1M42.5 80v1M44.5 80v1M45.5 82v1M45.5 85v1M47.5 82v1M50.5 78v1M51.5 78v1M51.5 88v1M52.5 84v3M57.5 79v1M58.5 79v1M58.5 94v1M58.5 96v2M58.5 100v1M59.5 78v4M59.5 84v1M59.5 97v1M59.5 100v1M60.5 96v1M60.5 99v1M61.5 81v1M62.5 80v2M62.5 95v1M63.5 77v1M63.5 83v3M63.5 95v1M64.5 80v2M65.5 77v1M65.5 96v1M65.5 102v1M66.5 82v1M66.5 93v2M67.5 102v1M68.5 98v1M69.5 87v1M69.5 95v1M69.5 100v1M71.5 76v1M71.5 96v1M72.5 79v1M73.5 82v1M73.5 94v2M73.5 98v1M74.5 84v2M74.5 90v1M75.5 84v1M75.5 91v1M76.5 82v3M76.5 87v1M76.5 90v2M77.5 94v1M78.5 85v1M79.5 75v1M79.5 79v1M79.5 87v3M79.5 92v1M80.5 88v1M81.5 78v1M81.5 83v1M82.5 77v5M82.5 84v1M83.5 86v1M83.5 89v3M84.5 85v1M85.5 94v1M86.5 77v4M86.5 83v1M87.5 82v2M87.5 88v1M87.5 96v3M87.5 101v1M87.5 104v1M88.5 84v1M88.5 87v1M88.5 94v1M89.5 81v1M89.5 105v1M90.5 89v1M90.5 95v2M91.5 91v1M92.5 89v1M93.5 86v5M94.5 88v1M94.5 105v1M94.5 107v1M95.5 78v3M95.5 84v1M95.5 86v2M96.5 82v1M97.5 102v1M97.5 108v1M98.5 78v1M98.5 108v1M98.5 111v1M99.5 79v1M99.5 105v1M100.5 112v1M101.5 100v1M102.5 98v1M103.5 102v1M104.5 110v2M105.5 113v1M106.5 111v1M107.5 106v1M107.5 111v1M108.5 104v1M109.5 103v1M109.5 111v1M113.5 78v1M114.5 77v1M115.5 75v1M116.5 75v1M117.5 78v1M118.5 78v1M119.5 112v1M120.5 78v1M120.5 84v1M121.5 75v1M121.5 92v2M122.5 82v1M123.5 93v1M124.5 79v1M124.5 89v1M125.5 78v1M125.5 98v3M125.5 103v1M126.5 83v2M126.5 92v1M127.5 91v1M127.5 98v1M127.5 100v2M127.5 105v1M128.5 86v1M128.5 88v1M128.5 93v1M128.5 95v1M128.5 105v1M129.5 81v1M129.5 93v2M129.5 105v1M130.5 81v2M130.5 91v1M130.5 104v1M131.5 89v1M131.5 101v1M131.5 103v1M132.5 86v1M132.5 102v2M133.5 83v1M133.5 108v1M134.5 79v1M134.5 83v5M135.5 86v4M136.5 105v1M137.5 78v1M137.5 82v1M138.5 76v1M138.5 80v1M138.5 91v1M138.5 104v1M139.5 81v1M139.5 87v5M139.5 101v1M139.5 104v1M140.5 80v4M140.5 102v1M141.5 82v1M142.5 78v3M143.5 87v2M144.5 76v3M144.5 83v2M144.5 86v1M144.5 91v1M144.5 96v1M145.5 86v1M145.5 93v4M147.5 78v1M148.5 92v1M149.5 92v1M151.5 93v1M152.5 79v1M154.5 93v1M156.5 95v1M158.5 96v1M160.5 96v1M162.5 95v1M163.5 81v1M163.5 92v1M165.5 66v1M165.5 91v1M166.5 87v3M167.5 88v1"/><path stroke="#b39656" d="M36.5 76v1M38.5 82v3M39.5 81v1M41.5 81v1M43.5 87v1M46.5 80v1M47.5 83v1M51.5 79v2M51.5 87v1M51.5 89v1M52.5 83v1M52.5 87v1M53.5 81v1M54.5 78v1M55.5 79v1M56.5 86v2M56.5 100v1M58.5 80v5M59.5 85v1M60.5 78v1M60.5 100v1M61.5 96v3M62.5 82v2M62.5 101v1M63.5 78v1M63.5 82v1M63.5 86v1M63.5 98v1M64.5 82v1M64.5 96v1M65.5 86v1M65.5 95v1M66.5 83v1M66.5 101v2M67.5 83v1M67.5 92v1M67.5 103v1M68.5 81v1M68.5 103v1M69.5 88v1M70.5 81v1M70.5 96v3M71.5 91v1M71.5 97v7M72.5 80v4M72.5 87v1M72.5 96v3M73.5 83v1M73.5 88v6M73.5 96v2M73.5 101v1M74.5 86v4M74.5 91v1M76.5 88v2M76.5 92v1M77.5 80v1M77.5 93v1M77.5 95v1M79.5 78v1M80.5 89v1M81.5 79v4M82.5 82v2M82.5 95v1M82.5 99v1M83.5 87v2M83.5 92v4M84.5 86v2M85.5 84v1M86.5 81v2M86.5 93v1M87.5 95v1M87.5 99v2M88.5 85v2M89.5 80v1M89.5 88v1M89.5 108v1M90.5 90v1M90.5 94v1M90.5 97v1M91.5 92v1M93.5 91v1M94.5 104v1M94.5 108v1M95.5 77v1M95.5 81v1M95.5 83v1M96.5 83v1M98.5 107v1M99.5 97v3M99.5 103v2M99.5 114v1M101.5 113v1M102.5 113v1M103.5 101v1M103.5 113v1M104.5 112v1M105.5 99v1M106.5 101v1M107.5 103v3M108.5 100v1M108.5 105v2M109.5 102v1M115.5 76v1M116.5 76v1M117.5 79v1M119.5 78v1M119.5 111v1M119.5 113v1M120.5 76v2M121.5 76v1M121.5 91v1M121.5 94v1M122.5 83v1M122.5 94v3M123.5 85v1M123.5 89v4M123.5 97v1M123.5 103v2M124.5 88v1M124.5 101v2M125.5 92v6M125.5 101v2M125.5 104v1M126.5 90v2M126.5 105v1M127.5 81v1M127.5 86v1M127.5 99v1M128.5 87v1M128.5 94v1M129.5 82v1M129.5 88v1M130.5 77v1M130.5 80v1M130.5 83v1M130.5 105v1M131.5 84v2M131.5 88v1M131.5 98v3M131.5 104v1M132.5 87v2M132.5 91v2M132.5 104v1M133.5 90v1M134.5 82v1M134.5 106v1M135.5 106v1M136.5 84v1M137.5 79v3M137.5 86v1M138.5 77v1M138.5 79v1M138.5 84v1M138.5 90v1M139.5 96v1M139.5 100v1M140.5 84v1M140.5 91v1M141.5 77v1M141.5 81v1M141.5 83v2M141.5 92v1M142.5 81v1M142.5 91v1M142.5 106v1M143.5 77v1M143.5 86v1M143.5 89v1M144.5 87v1M145.5 87v1M145.5 92v1M147.5 79v1M147.5 87v3M148.5 93v1M149.5 93v1M150.5 88v1M150.5 96v1M150.5 99v1M151.5 94v1M152.5 88v1M152.5 91v3M153.5 93v1M155.5 100v3M156.5 96v1M157.5 94v1M160.5 97v1M162.5 96v1M163.5 93v2M166.5 85v2M166.5 90v1M214.5 93v1M220.5 98v3M221.5 97v1M222.5 97v1M222.5 99v2M225.5 99v1M227.5 99v1"/><path stroke="#af904c" d="M34.5 82v1M35.5 79v1M36.5 77v5M37.5 78v1M37.5 82v2M38.5 79v3M39.5 82v1M40.5 80v1M45.5 86v1M48.5 80v1M49.5 80v1M50.5 79v1M51.5 81v1M51.5 86v1M52.5 79v1M52.5 88v2M54.5 81v2M55.5 80v1M56.5 79v1M56.5 82v4M56.5 88v1M56.5 99v1M57.5 80v1M58.5 85v1M58.5 93v1M59.5 86v1M59.5 96v1M59.5 101v1M60.5 83v3M60.5 95v1M61.5 82v1M61.5 95v1M62.5 84v2M62.5 94v1M63.5 81v1M63.5 94v1M64.5 83v1M65.5 78v1M65.5 85v1M65.5 87v1M66.5 84v1M66.5 92v1M66.5 95v1M66.5 100v1M67.5 84v1M67.5 88v4M68.5 94v4M69.5 89v1M69.5 94v1M70.5 95v1M70.5 99v1M71.5 77v2M71.5 82v3M71.5 104v2M72.5 84v3M72.5 88v1M73.5 84v1M73.5 87v1M76.5 93v1M76.5 103v4M77.5 88v5M77.5 96v1M77.5 115v2M78.5 86v1M79.5 76v2M79.5 93v1M81.5 91v1M82.5 96v3M82.5 100v1M83.5 96v1M84.5 88v2M85.5 85v1M85.5 88v1M85.5 95v1M87.5 89v1M87.5 105v1M89.5 78v2M89.5 89v1M89.5 91v2M89.5 104v1M90.5 91v1M90.5 93v1M90.5 98v1M92.5 90v1M94.5 89v1M94.5 103v1M95.5 76v1M95.5 82v1M95.5 88v2M96.5 88v3M96.5 106v1M97.5 82v1M97.5 109v1M98.5 79v1M98.5 104v3M98.5 112v1M99.5 80v1M99.5 91v1M99.5 95v2M99.5 100v3M100.5 98v1M101.5 99v1M106.5 112v1M107.5 102v1M107.5 112v1M108.5 107v1M109.5 112v1M110.5 107v2M114.5 78v1M116.5 77v1M117.5 80v1M119.5 110v1M120.5 85v1M120.5 94v2M120.5 100v3M121.5 77v1M121.5 79v8M122.5 93v1M122.5 97v1M122.5 113v2M123.5 86v3M123.5 102v1M123.5 105v1M124.5 80v1M124.5 87v1M124.5 103v1M125.5 79v1M125.5 90v2M125.5 105v1M127.5 82v1M127.5 85v1M127.5 106v1M129.5 83v1M129.5 106v1M130.5 79v1M130.5 84v1M130.5 90v1M131.5 86v2M131.5 105v1M132.5 89v2M133.5 88v2M133.5 109v1M134.5 80v2M136.5 90v1M137.5 90v1M137.5 105v1M138.5 78v1M138.5 85v1M138.5 89v1M138.5 105v1M139.5 97v3M139.5 105v1M141.5 79v2M141.5 85v1M141.5 87v2M141.5 104v1M142.5 82v5M142.5 90v1M143.5 78v1M143.5 90v4M143.5 97v2M143.5 103v1M144.5 88v3M144.5 97v1M145.5 91v1M145.5 97v1M146.5 79v1M147.5 80v1M147.5 86v1M147.5 102v2M148.5 94v4M148.5 99v3M149.5 94v2M149.5 97v3M150.5 89v3M152.5 89v2M152.5 94v2M154.5 94v1M155.5 93v1M155.5 99v1M155.5 103v2M158.5 97v1M159.5 93v1M159.5 97v1M161.5 94v1M163.5 95v1M163.5 114v1M165.5 92v1M166.5 91v1M215.5 99v2M217.5 104v1M219.5 97v1M220.5 96v2M220.5 101v1M222.5 98v1M222.5 101v1M225.5 100v1M226.5 99v1M229.5 100v5"/><path stroke="#ab8a43" d="M33.5 80v1M36.5 82v1M37.5 79v3M37.5 84v2M40.5 81v1M40.5 84v3M41.5 82v1M42.5 81v1M44.5 81v1M46.5 81v1M47.5 84v1M51.5 82v1M51.5 85v1M51.5 90v1M52.5 82v1M52.5 90v1M54.5 79v2M54.5 83v1M54.5 95v3M55.5 81v2M56.5 80v2M56.5 89v1M56.5 98v1M56.5 101v1M57.5 81v1M57.5 86v2M59.5 87v1M59.5 95v1M60.5 86v1M60.5 101v1M61.5 94v1M61.5 99v1M62.5 93v1M62.5 102v1M63.5 79v2M63.5 87v1M63.5 99v2M64.5 84v1M64.5 94v2M64.5 102v1M65.5 94v1M65.5 103v1M66.5 85v1M66.5 99v1M66.5 103v1M67.5 85v1M67.5 87v1M67.5 104v1M68.5 82v1M68.5 93v1M69.5 93v1M69.5 101v1M70.5 82v1M70.5 93v2M71.5 79v3M71.5 85v1M71.5 90v1M71.5 106v1M72.5 89v1M72.5 95v1M72.5 99v1M73.5 85v2M74.5 92v1M75.5 99v2M77.5 81v2M77.5 87v1M77.5 97v1M77.5 114v1M78.5 96v9M79.5 94v1M79.5 104v3M80.5 90v5M82.5 101v1M83.5 97v1M85.5 86v2M85.5 96v1M87.5 90v1M87.5 94v1M88.5 95v1M89.5 90v1M89.5 93v2M90.5 92v1M90.5 99v1M91.5 93v1M92.5 91v1M92.5 102v5M93.5 92v1M93.5 98v3M94.5 96v3M94.5 109v1M95.5 90v1M95.5 94v4M95.5 104v1M96.5 84v1M96.5 87v1M96.5 91v1M96.5 104v2M96.5 107v1M97.5 76v1M97.5 83v2M97.5 101v1M98.5 80v1M98.5 103v1M99.5 89v2M99.5 92v3M100.5 113v1M102.5 97v1M103.5 100v1M104.5 97v1M104.5 113v1M105.5 114v1M107.5 101v1M108.5 108v1M109.5 101v1M110.5 106v1M110.5 109v1M115.5 77v1M116.5 78v1M118.5 79v1M119.5 79v1M119.5 82v2M119.5 103v1M119.5 109v1M119.5 114v1M120.5 96v1M121.5 78v1M121.5 87v4M121.5 95v1M121.5 102v1M122.5 84v1M122.5 89v4M122.5 98v1M122.5 115v1M123.5 98v1M123.5 106v1M124.5 86v1M124.5 104v1M125.5 84v6M126.5 106v1M127.5 83v2M129.5 84v1M129.5 87v1M129.5 107v1M130.5 78v1M130.5 106v1M131.5 106v1M131.5 112v2M133.5 84v1M133.5 87v1M134.5 107v1M136.5 106v1M137.5 87v1M138.5 86v1M138.5 88v1M138.5 106v1M140.5 85v1M140.5 90v1M140.5 103v1M141.5 78v1M141.5 86v1M141.5 89v3M142.5 87v3M143.5 79v1M143.5 85v1M143.5 94v3M143.5 99v1M143.5 102v1M143.5 104v1M144.5 98v4M144.5 103v1M145.5 88v1M145.5 90v1M146.5 80v1M146.5 83v1M146.5 90v3M147.5 85v1M147.5 90v1M147.5 101v1M147.5 104v1M148.5 98v1M148.5 102v1M149.5 96v1M150.5 92v1M150.5 95v1M151.5 95v1M152.5 96v2M153.5 94v1M154.5 95v7M155.5 105v1M156.5 97v1M157.5 95v1M157.5 97v6M158.5 98v5M159.5 96v1M159.5 98v1M160.5 98v1M162.5 97v1M163.5 113v1M163.5 115v1M164.5 82v1M164.5 87v5M164.5 96v2M165.5 93v1M166.5 102v2M167.5 89v1M168.5 95v1M215.5 95v1M215.5 98v1M215.5 101v1M216.5 95v1M217.5 105v1M220.5 102v1M222.5 102v3M223.5 97v1M224.5 101v2M225.5 101v1M230.5 100v1M231.5 107v2M237.5 106v1"/><path stroke="#a5823b" d="M36.5 83v1M37.5 86v1M38.5 85v1M39.5 83v1M40.5 82v2M40.5 87v1M41.5 83v3M42.5 82v1M43.5 88v1M44.5 82v1M46.5 82v1M47.5 85v1M48.5 81v1M49.5 81v1M50.5 80v1M51.5 83v2M51.5 91v1M52.5 80v2M52.5 91v1M53.5 82v1M54.5 89v6M54.5 98v1M55.5 83v1M56.5 97v1M57.5 82v4M57.5 88v1M57.5 93v5M58.5 86v1M58.5 92v1M58.5 101v1M59.5 88v1M59.5 102v1M60.5 79v1M60.5 82v1M60.5 87v1M60.5 94v1M62.5 86v1M62.5 92v1M63.5 88v1M63.5 93v1M63.5 101v2M64.5 85v1M64.5 92v2M65.5 84v1M65.5 88v1M66.5 91v1M66.5 96v3M67.5 86v1M68.5 83v1M69.5 90v3M70.5 92v1M70.5 100v1M71.5 86v1M73.5 102v1M74.5 93v1M74.5 97v3M75.5 98v1M75.5 101v1M76.5 102v1M76.5 107v1M77.5 83v2M77.5 117v1M78.5 87v1M78.5 94v2M78.5 105v1M79.5 95v3M79.5 107v2M80.5 95v2M81.5 92v1M82.5 102v4M83.5 98v1M84.5 90v5M85.5 97v5M86.5 94v1M86.5 102v7M87.5 93v1M88.5 107v3M89.5 95v1M89.5 103v1M89.5 109v1M90.5 100v1M92.5 92v1M92.5 101v1M92.5 107v2M93.5 93v1M93.5 97v1M93.5 101v2M94.5 90v1M94.5 95v1M94.5 99v4M95.5 91v3M95.5 98v1M95.5 103v1M95.5 105v2M96.5 85v2M96.5 103v1M96.5 108v1M97.5 81v1M97.5 85v5M97.5 100v1M97.5 110v1M98.5 102v1M98.5 113v1M99.5 88v1M99.5 115v1M101.5 114v1M104.5 114v1M105.5 98v1M106.5 100v1M106.5 113v1M107.5 100v1M107.5 113v1M108.5 109v1M110.5 105v1M113.5 79v1M115.5 104v5M117.5 81v2M117.5 107v2M118.5 113v3M119.5 80v2M119.5 84v1M119.5 101v2M119.5 104v2M120.5 86v1M120.5 93v1M120.5 97v3M120.5 103v1M121.5 96v1M121.5 100v2M121.5 103v2M122.5 85v1M122.5 112v1M123.5 101v1M123.5 110v2M124.5 81v1M124.5 83v3M124.5 105v1M125.5 80v1M125.5 83v1M125.5 106v1M125.5 115v3M127.5 107v1M128.5 106v1M129.5 85v2M129.5 108v2M130.5 85v1M130.5 89v1M130.5 107v1M131.5 107v5M131.5 114v1M132.5 105v1M133.5 85v2M133.5 110v1M136.5 85v1M137.5 88v2M137.5 106v2M138.5 87v1M138.5 107v1M139.5 106v1M140.5 86v1M140.5 104v1M142.5 107v1M143.5 80v2M143.5 84v1M143.5 105v1M144.5 102v1M144.5 104v1M145.5 89v1M146.5 81v2M146.5 84v6M147.5 81v1M147.5 84v1M149.5 100v1M150.5 93v2M150.5 100v1M153.5 95v1M154.5 102v1M155.5 98v1M155.5 106v1M156.5 98v1M156.5 102v2M157.5 96v1M158.5 103v1M159.5 94v2M159.5 99v1M159.5 106v2M160.5 99v2M161.5 95v1M163.5 96v1M163.5 112v1M163.5 116v1M164.5 83v4M164.5 92v1M164.5 98v1M166.5 92v1M166.5 101v1M166.5 104v1M168.5 94v1M168.5 96v1M176.5 111v2M208.5 108v1M214.5 94v1M215.5 96v2M215.5 102v1M217.5 103v1M217.5 106v1M218.5 95v2M219.5 98v1M220.5 94v2M221.5 98v1M221.5 106v4M222.5 105v1M224.5 100v1M224.5 103v1M225.5 102v1M227.5 103v2M229.5 105v1M233.5 103v1M235.5 101v1"/><path stroke="#9f7a34" d="M35.5 80v1M41.5 86v1M42.5 83v2M44.5 83v1M45.5 87v1M46.5 83v1M48.5 82v3M49.5 82v4M50.5 81v1M51.5 92v1M52.5 92v1M53.5 83v1M53.5 85v3M54.5 84v1M54.5 88v1M55.5 84v1M56.5 90v1M56.5 96v1M57.5 89v1M57.5 92v1M57.5 98v2M59.5 94v1M60.5 81v1M60.5 102v1M61.5 83v1M61.5 93v1M61.5 100v1M62.5 87v1M64.5 86v2M65.5 79v1M65.5 93v1M66.5 86v1M67.5 105v1M68.5 92v1M68.5 104v1M69.5 102v1M70.5 83v1M70.5 91v1M71.5 87v3M71.5 107v1M72.5 94v1M72.5 100v1M74.5 94v3M74.5 108v3M75.5 92v1M75.5 102v1M75.5 113v1M76.5 94v1M76.5 101v1M77.5 85v2M77.5 98v1M77.5 113v1M78.5 93v1M78.5 106v1M79.5 98v2M79.5 103v1M79.5 109v1M80.5 97v2M81.5 93v2M81.5 104v3M82.5 106v1M84.5 95v1M85.5 102v1M86.5 101v1M86.5 109v1M87.5 91v2M87.5 114v1M88.5 96v1M88.5 110v1M89.5 96v1M89.5 102v1M89.5 114v1M90.5 101v1M91.5 94v4M92.5 93v3M92.5 100v1M92.5 109v1M93.5 94v3M93.5 103v1M94.5 94v1M95.5 102v1M95.5 107v1M96.5 92v1M96.5 102v1M96.5 109v1M97.5 97v3M97.5 111v1M98.5 87v1M98.5 96v4M98.5 101v1M99.5 81v1M100.5 97v1M101.5 98v1M103.5 99v1M103.5 114v1M106.5 114v4M107.5 99v1M108.5 99v1M108.5 110v3M109.5 113v1M110.5 104v1M111.5 104v6M112.5 99v4M114.5 79v1M115.5 78v1M115.5 103v1M115.5 109v1M116.5 79v1M116.5 97v3M117.5 83v2M117.5 96v3M117.5 106v1M118.5 102v2M118.5 112v1M119.5 85v1M119.5 94v4M119.5 100v1M119.5 106v3M119.5 115v1M120.5 92v1M121.5 97v3M122.5 86v1M122.5 88v1M122.5 99v6M122.5 116v1M123.5 99v2M123.5 107v3M123.5 112v1M124.5 82v1M124.5 106v2M125.5 81v2M125.5 112v3M127.5 108v1M129.5 110v1M130.5 86v3M130.5 108v6M132.5 111v2M133.5 111v1M135.5 107v1M136.5 89v1M137.5 108v2M138.5 108v1M139.5 107v2M140.5 87v3M140.5 105v1M142.5 108v1M143.5 82v2M143.5 100v2M144.5 105v1M145.5 98v1M145.5 104v2M146.5 93v1M147.5 82v2M147.5 91v1M147.5 105v1M148.5 103v1M152.5 98v1M153.5 96v1M154.5 103v1M155.5 94v1M156.5 101v1M156.5 104v1M157.5 103v1M159.5 105v1M159.5 108v1M160.5 101v2M161.5 96v4M161.5 110v4M162.5 98v1M163.5 97v1M163.5 103v1M163.5 117v1M164.5 93v1M164.5 95v1M164.5 99v5M165.5 94v2M165.5 102v3M166.5 100v1M166.5 105v1M166.5 113v1M167.5 90v1M167.5 93v2M167.5 100v2M168.5 93v1M168.5 97v1M168.5 109v2M172.5 117v2M176.5 110v1M176.5 113v1M178.5 117v2M180.5 113v3M206.5 108v2M207.5 103v1M208.5 107v1M208.5 109v1M209.5 103v1M210.5 104v3M212.5 105v1M214.5 95v2M216.5 98v4M217.5 96v1M218.5 99v4M219.5 99v1M220.5 103v1M221.5 99v1M221.5 105v1M222.5 106v1M224.5 104v1M225.5 103v2M226.5 100v1M227.5 102v1M227.5 105v4M228.5 99v1M229.5 106v1M230.5 101v1M231.5 101v1M231.5 106v1M231.5 109v1M234.5 104v1M236.5 105v3"/><path stroke="#99712d" d="M33.5 81v1M34.5 83v1M36.5 84v1M37.5 87v1M38.5 86v1M39.5 84v1M40.5 88v1M41.5 87v1M42.5 85v1M44.5 84v2M45.5 88v6M46.5 84v1M47.5 86v1M48.5 85v2M49.5 86v1M50.5 82v1M50.5 89v2M51.5 93v1M52.5 93v1M53.5 84v1M53.5 88v9M54.5 85v3M54.5 99v1M55.5 85v2M56.5 102v1M57.5 90v2M57.5 100v1M58.5 87v1M58.5 91v1M59.5 89v1M59.5 92v2M59.5 103v1M60.5 80v1M60.5 88v1M62.5 91v1M62.5 103v1M63.5 89v1M63.5 92v1M63.5 103v1M64.5 88v1M64.5 91v1M65.5 83v1M66.5 87v1M68.5 84v1M68.5 91v1M70.5 90v1M72.5 90v1M74.5 100v1M74.5 107v1M74.5 111v1M75.5 97v1M75.5 103v1M75.5 112v1M75.5 114v2M76.5 108v1M77.5 105v1M77.5 112v1M78.5 88v1M79.5 100v1M79.5 102v1M79.5 110v1M80.5 103v3M81.5 95v3M81.5 99v2M81.5 103v1M81.5 107v1M82.5 107v1M83.5 99v1M84.5 96v1M86.5 95v1M86.5 100v1M86.5 110v1M86.5 119v1M87.5 106v1M87.5 113v1M87.5 115v1M88.5 106v1M88.5 111v1M89.5 101v1M89.5 110v1M89.5 113v1M89.5 115v1M90.5 102v4M90.5 113v2M91.5 98v2M92.5 96v4M92.5 110v1M93.5 104v3M94.5 91v1M94.5 93v1M94.5 110v1M95.5 99v1M95.5 101v1M96.5 93v1M96.5 100v2M96.5 110v1M97.5 80v1M97.5 90v1M97.5 94v3M97.5 112v1M98.5 81v1M98.5 86v1M98.5 88v2M98.5 93v3M98.5 100v1M101.5 97v1M101.5 115v1M102.5 96v1M102.5 114v1M103.5 98v1M104.5 115v1M105.5 115v1M106.5 99v1M107.5 98v1M107.5 114v1M108.5 113v1M109.5 100v1M110.5 110v1M111.5 103v1M112.5 80v1M112.5 103v1M113.5 80v1M114.5 102v3M115.5 102v1M115.5 110v1M116.5 100v1M116.5 107v1M117.5 85v1M117.5 99v1M117.5 105v1M117.5 109v1M117.5 116v2M118.5 80v1M118.5 104v1M118.5 111v1M118.5 116v1M119.5 86v5M119.5 92v2M119.5 98v2M120.5 87v1M120.5 104v1M120.5 110v2M121.5 105v1M121.5 114v2M122.5 87v1M122.5 105v1M122.5 111v1M122.5 117v1M123.5 113v1M125.5 107v2M125.5 110v2M125.5 118v1M126.5 107v1M129.5 111v1M130.5 114v1M132.5 106v1M132.5 110v1M132.5 113v1M133.5 112v5M133.5 118v1M134.5 108v1M135.5 108v3M136.5 107v1M139.5 109v1M140.5 106v1M141.5 105v1M142.5 109v1M143.5 106v1M144.5 113v1M145.5 103v1M145.5 106v1M146.5 94v2M147.5 92v1M147.5 100v1M149.5 101v1M150.5 101v2M151.5 96v1M151.5 102v2M153.5 97v1M153.5 103v2M154.5 104v1M155.5 95v1M155.5 97v1M155.5 107v1M156.5 99v2M156.5 105v1M158.5 104v1M159.5 100v1M159.5 104v1M160.5 103v1M161.5 100v1M161.5 107v3M162.5 103v2M162.5 108v2M163.5 102v1M163.5 104v1M163.5 111v1M163.5 118v1M164.5 94v1M164.5 104v3M165.5 96v1M165.5 101v1M165.5 105v1M166.5 93v1M166.5 112v1M166.5 114v1M166.5 121v3M167.5 91v2M167.5 95v2M167.5 99v1M167.5 102v1M168.5 89v4M168.5 106v3M168.5 111v1M171.5 91v1M172.5 116v1M172.5 119v1M173.5 113v4M174.5 119v2M175.5 107v1M176.5 109v1M178.5 116v1M178.5 119v1M180.5 116v1M186.5 112v1M206.5 107v1M206.5 110v1M209.5 104v1M210.5 103v1M210.5 107v1M212.5 100v1M212.5 103v2M212.5 106v6M213.5 98v4M214.5 97v2M215.5 103v1M216.5 96v2M216.5 102v1M217.5 102v1M217.5 112v1M218.5 97v2M218.5 103v2M221.5 104v1M221.5 110v1M223.5 102v4M224.5 105v1M226.5 103v3M227.5 100v2M227.5 109v1M228.5 105v1M228.5 112v1M230.5 102v1M232.5 103v2M233.5 104v1M235.5 102v3"/><path stroke="#916827" d="M35.5 81v1M37.5 88v1M40.5 89v1M43.5 89v1M45.5 94v1M47.5 87v2M48.5 87v1M49.5 95v1M50.5 83v1M50.5 88v1M50.5 91v1M51.5 94v1M52.5 94v1M55.5 87v1M55.5 93v8M56.5 91v1M56.5 95v1M59.5 90v2M60.5 89v1M60.5 93v1M60.5 103v1M61.5 92v1M61.5 101v1M62.5 88v3M63.5 90v2M64.5 89v2M64.5 103v1M65.5 80v3M65.5 89v1M65.5 104v1M66.5 90v1M66.5 104v1M68.5 89v2M69.5 103v2M70.5 89v1M70.5 101v1M71.5 108v1M72.5 93v1M72.5 101v1M74.5 106v1M75.5 104v1M76.5 95v1M76.5 100v1M77.5 99v1M77.5 104v1M77.5 106v1M77.5 118v1M78.5 89v1M78.5 92v1M79.5 101v1M79.5 111v1M80.5 99v1M80.5 102v1M80.5 106v1M81.5 98v1M81.5 101v2M82.5 108v1M82.5 119v2M83.5 104v3M84.5 103v3M84.5 110v3M84.5 129v1M85.5 103v1M86.5 99v1M86.5 118v1M86.5 120v1M87.5 116v1M88.5 97v1M88.5 101v5M88.5 112v1M89.5 97v2M89.5 100v1M89.5 111v2M90.5 106v1M90.5 112v1M91.5 100v1M91.5 107v3M92.5 111v1M93.5 107v1M94.5 92v1M94.5 111v1M95.5 100v1M95.5 108v1M96.5 94v1M96.5 98v2M96.5 111v1M97.5 77v1M97.5 91v3M97.5 113v1M98.5 82v1M98.5 85v1M98.5 90v3M98.5 114v1M99.5 87v1M99.5 116v1M100.5 92v5M100.5 114v1M101.5 96v1M102.5 95v1M103.5 87v3M104.5 88v3M104.5 96v1M106.5 94v1M106.5 118v1M107.5 97v1M108.5 84v1M108.5 114v1M110.5 77v1M110.5 103v1M111.5 110v1M112.5 98v1M112.5 104v1M114.5 101v1M114.5 110v2M114.5 119v2M115.5 79v1M115.5 99v3M115.5 111v1M116.5 80v1M116.5 96v1M116.5 101v1M116.5 106v1M116.5 108v3M117.5 95v1M117.5 100v1M117.5 114v2M117.5 118v1M118.5 95v1M118.5 101v1M118.5 109v2M119.5 91v1M119.5 116v1M120.5 88v1M120.5 91v1M120.5 105v1M120.5 109v1M120.5 112v1M121.5 113v1M121.5 116v1M122.5 106v1M122.5 118v1M123.5 114v1M124.5 108v1M124.5 123v1M125.5 109v1M125.5 119v1M127.5 109v1M128.5 107v1M128.5 116v2M130.5 115v1M131.5 115v1M132.5 109v1M132.5 114v1M133.5 117v1M133.5 119v1M135.5 111v1M136.5 86v1M136.5 112v3M136.5 118v2M137.5 110v1M138.5 109v1M138.5 116v2M140.5 107v1M140.5 113v1M142.5 110v1M143.5 107v1M144.5 106v1M144.5 112v1M144.5 114v1M145.5 99v1M145.5 102v1M145.5 107v1M146.5 96v1M146.5 102v4M147.5 93v2M147.5 106v1M148.5 104v1M150.5 103v5M151.5 101v1M151.5 104v1M152.5 99v1M152.5 104v5M153.5 98v2M153.5 102v1M153.5 105v1M154.5 114v1M155.5 96v1M156.5 106v3M156.5 111v4M158.5 105v4M159.5 101v1M159.5 103v1M159.5 109v1M161.5 101v1M161.5 114v1M161.5 118v3M162.5 99v1M162.5 102v1M162.5 105v1M162.5 107v1M162.5 110v1M162.5 114v4M163.5 98v1M163.5 101v1M163.5 105v1M164.5 107v1M165.5 97v1M165.5 100v1M165.5 106v1M166.5 99v1M166.5 106v1M166.5 111v1M166.5 115v1M166.5 117v4M167.5 97v2M167.5 125v1M168.5 88v1M168.5 98v2M168.5 105v1M168.5 112v1M171.5 92v1M171.5 113v2M172.5 94v2M172.5 120v1M173.5 112v1M173.5 117v1M174.5 121v1M175.5 106v1M175.5 108v1M176.5 114v1M178.5 111v1M178.5 115v1M180.5 112v1M180.5 117v1M186.5 113v6M205.5 109v1M206.5 106v1M207.5 104v1M208.5 106v1M209.5 105v1M212.5 101v2M212.5 112v2M213.5 102v1M213.5 110v1M214.5 104v3M214.5 109v3M215.5 104v2M216.5 103v5M217.5 107v1M217.5 110v2M217.5 113v1M218.5 105v2M219.5 100v2M219.5 103v3M219.5 111v1M220.5 104v1M221.5 100v1M222.5 107v1M223.5 98v1M223.5 101v1M223.5 106v1M224.5 99v1M224.5 106v4M225.5 105v1M226.5 101v2M226.5 106v1M227.5 110v1M228.5 100v2M228.5 104v1M228.5 106v1M228.5 111v1M229.5 107v1M230.5 103v4M231.5 105v1M232.5 102v1M232.5 105v1M235.5 105v2"/><path stroke="#895f22" d="M38.5 87v1M39.5 85v1M41.5 88v1M42.5 86v1M44.5 86v1M44.5 93v2M46.5 85v1M46.5 89v2M47.5 89v4M48.5 88v1M49.5 87v1M49.5 91v4M49.5 96v1M50.5 87v1M51.5 95v5M52.5 95v1M53.5 97v1M54.5 100v1M55.5 92v1M56.5 94v1M57.5 101v1M58.5 88v1M58.5 90v1M60.5 90v3M61.5 84v1M61.5 89v3M63.5 104v1M65.5 90v1M65.5 92v1M66.5 88v2M67.5 106v1M68.5 85v1M68.5 88v1M69.5 105v1M70.5 84v1M70.5 88v1M72.5 91v2M73.5 103v1M73.5 114v3M74.5 112v1M75.5 93v1M75.5 105v1M75.5 111v1M75.5 116v1M76.5 109v1M76.5 115v2M77.5 107v1M77.5 111v1M77.5 125v2M78.5 90v2M78.5 107v1M80.5 100v2M80.5 107v3M80.5 116v2M81.5 108v1M81.5 114v2M82.5 118v1M82.5 121v1M83.5 100v4M83.5 107v1M84.5 97v1M84.5 102v1M84.5 106v2M84.5 109v1M84.5 113v1M84.5 128v1M84.5 130v1M85.5 104v1M85.5 107v1M86.5 96v1M86.5 111v1M86.5 117v1M87.5 112v1M88.5 100v1M88.5 113v2M88.5 117v2M89.5 99v1M89.5 116v1M90.5 107v1M90.5 115v1M91.5 101v1M91.5 106v1M91.5 110v1M92.5 112v4M93.5 117v2M96.5 95v1M96.5 97v1M96.5 112v1M97.5 79v1M97.5 114v1M98.5 83v2M99.5 82v1M100.5 91v1M102.5 94v1M103.5 90v2M103.5 97v1M104.5 87v1M104.5 91v1M104.5 116v4M105.5 97v1M105.5 116v1M106.5 90v1M106.5 92v2M106.5 95v4M107.5 115v1M108.5 119v1M109.5 83v1M109.5 99v1M109.5 114v1M110.5 78v1M110.5 102v1M110.5 111v1M111.5 111v1M113.5 104v4M114.5 105v1M114.5 109v1M114.5 112v2M114.5 118v1M115.5 97v2M115.5 112v1M116.5 81v3M116.5 102v4M116.5 111v1M117.5 86v1M117.5 101v4M117.5 110v1M117.5 113v1M117.5 119v1M118.5 81v1M118.5 83v4M118.5 94v1M118.5 96v1M118.5 105v4M118.5 117v5M120.5 89v2M120.5 106v1M121.5 106v1M121.5 112v1M121.5 117v1M122.5 110v1M122.5 119v1M123.5 115v1M123.5 122v3M124.5 109v1M124.5 122v1M124.5 124v1M125.5 120v1M126.5 108v1M126.5 111v2M126.5 115v3M127.5 110v1M128.5 118v1M129.5 112v3M130.5 116v1M132.5 107v2M133.5 120v1M134.5 109v1M136.5 88v1M136.5 108v2M136.5 111v1M136.5 115v3M136.5 120v1M138.5 115v1M139.5 110v1M139.5 117v2M140.5 108v1M140.5 111v2M140.5 114v2M141.5 110v2M142.5 120v1M144.5 115v1M145.5 100v2M145.5 108v1M146.5 97v1M146.5 101v1M146.5 106v1M147.5 95v2M147.5 99v1M147.5 107v1M149.5 102v1M150.5 108v2M152.5 103v1M152.5 109v1M153.5 100v2M153.5 106v1M154.5 105v1M154.5 113v1M154.5 115v1M155.5 108v1M156.5 109v2M157.5 104v1M158.5 109v1M159.5 102v1M160.5 104v1M161.5 106v1M161.5 115v1M161.5 117v1M162.5 100v2M162.5 106v1M162.5 111v1M162.5 113v1M162.5 118v2M163.5 99v2M163.5 119v1M164.5 108v1M164.5 111v3M164.5 121v1M165.5 98v2M165.5 107v1M165.5 113v6M166.5 94v1M166.5 116v1M166.5 124v1M167.5 103v1M167.5 105v3M167.5 124v1M168.5 100v5M168.5 113v1M168.5 119v1M169.5 102v1M170.5 108v3M171.5 93v1M171.5 111v2M171.5 115v1M172.5 93v1M172.5 115v1M172.5 121v1M173.5 111v1M173.5 118v1M174.5 101v2M174.5 118v1M175.5 96v4M175.5 109v1M175.5 114v2M177.5 99v2M178.5 110v1M178.5 112v3M178.5 120v1M180.5 111v1M183.5 117v2M186.5 119v1M197.5 114v3M203.5 107v5M204.5 106v2M205.5 108v1M205.5 110v1M207.5 105v4M207.5 116v1M208.5 110v1M209.5 106v2M210.5 102v1M210.5 108v3M211.5 102v1M213.5 103v1M213.5 108v2M213.5 111v1M214.5 99v1M214.5 107v2M215.5 106v2M216.5 108v1M217.5 97v1M217.5 101v1M217.5 108v2M217.5 114v1M218.5 107v1M219.5 102v1M219.5 106v2M219.5 110v1M219.5 112v1M220.5 105v2M221.5 101v1M221.5 103v1M221.5 111v1M223.5 99v2M223.5 107v1M224.5 97v1M224.5 110v2M225.5 106v1M226.5 107v2M228.5 102v2M228.5 107v1M230.5 107v1M231.5 102v1M231.5 110v1M232.5 106v2M233.5 105v1M234.5 105v1"/><path stroke="#80561c" d="M35.5 82v1M36.5 85v1M38.5 88v1M39.5 86v1M40.5 90v1M41.5 89v1M42.5 87v1M44.5 95v1M46.5 86v3M46.5 91v1M47.5 93v1M48.5 89v2M49.5 88v3M50.5 84v3M50.5 92v1M50.5 95v2M51.5 100v1M52.5 96v1M55.5 88v1M55.5 101v1M56.5 92v2M56.5 103v1M58.5 89v1M59.5 104v1M60.5 104v1M61.5 88v1M61.5 102v1M65.5 91v1M68.5 86v2M68.5 105v1M69.5 106v1M70.5 85v1M70.5 87v1M70.5 102v1M72.5 102v1M73.5 113v1M74.5 101v1M75.5 96v1M75.5 106v1M76.5 96v4M76.5 114v1M76.5 117v1M77.5 100v1M77.5 103v1M77.5 108v3M77.5 124v1M78.5 123v4M79.5 112v1M80.5 110v1M80.5 115v1M80.5 118v1M81.5 113v1M81.5 116v1M82.5 109v1M82.5 117v1M82.5 122v2M84.5 98v1M84.5 100v2M84.5 108v1M84.5 114v1M85.5 105v2M85.5 108v2M86.5 97v2M86.5 121v1M87.5 107v1M87.5 117v1M88.5 98v2M88.5 115v2M88.5 119v1M89.5 117v1M90.5 108v1M90.5 111v1M91.5 102v1M91.5 111v5M92.5 116v1M93.5 108v1M93.5 115v2M93.5 119v2M94.5 112v1M95.5 109v1M96.5 96v1M96.5 113v1M97.5 78v1M97.5 115v1M100.5 80v1M100.5 89v2M100.5 115v1M101.5 81v1M101.5 95v1M101.5 116v1M102.5 82v1M102.5 92v2M102.5 115v1M103.5 86v1M103.5 92v1M103.5 115v1M104.5 92v1M104.5 95v1M104.5 120v1M106.5 88v2M106.5 91v1M106.5 119v1M107.5 96v1M107.5 116v1M108.5 91v3M108.5 98v1M108.5 115v1M108.5 118v1M108.5 120v1M109.5 82v1M109.5 84v3M110.5 79v1M110.5 112v2M111.5 80v1M111.5 102v1M111.5 112v1M112.5 81v1M112.5 97v1M112.5 105v1M113.5 81v1M113.5 101v3M113.5 108v1M114.5 106v3M114.5 114v4M114.5 121v1M115.5 80v4M115.5 96v1M115.5 113v1M116.5 84v1M116.5 95v1M116.5 112v1M117.5 87v1M117.5 94v1M117.5 111v2M117.5 120v1M118.5 82v1M118.5 87v1M118.5 93v1M118.5 97v1M118.5 100v1M118.5 122v2M119.5 117v1M120.5 107v2M121.5 107v1M121.5 111v1M122.5 107v3M122.5 120v1M123.5 116v1M124.5 117v5M125.5 121v1M126.5 109v2M126.5 113v2M126.5 118v1M127.5 111v1M127.5 116v2M128.5 108v2M128.5 115v1M128.5 119v1M129.5 115v1M130.5 117v2M130.5 123v1M131.5 126v1M132.5 115v1M134.5 110v4M134.5 120v3M135.5 112v1M136.5 87v1M136.5 110v1M137.5 111v1M138.5 110v1M139.5 116v1M140.5 109v2M140.5 116v1M141.5 109v1M141.5 112v2M142.5 111v1M142.5 119v1M142.5 121v1M143.5 108v1M143.5 113v2M144.5 107v1M144.5 111v1M144.5 116v1M145.5 109v2M146.5 98v3M146.5 107v2M147.5 97v2M147.5 108v5M148.5 105v1M148.5 111v2M150.5 110v1M151.5 97v1M151.5 100v1M151.5 105v1M152.5 100v1M152.5 110v1M152.5 113v3M154.5 106v1M154.5 108v2M154.5 112v1M155.5 109v6M156.5 115v1M157.5 110v2M158.5 110v2M159.5 110v1M160.5 105v1M161.5 102v1M161.5 116v1M161.5 121v1M162.5 112v1M162.5 120v1M163.5 106v1M163.5 110v1M163.5 120v1M164.5 109v2M164.5 120v1M164.5 122v1M165.5 108v1M165.5 112v1M165.5 119v1M166.5 98v1M166.5 107v1M166.5 110v1M167.5 104v1M167.5 108v1M167.5 123v1M168.5 114v5M168.5 120v1M169.5 89v1M169.5 101v1M169.5 103v1M170.5 98v1M170.5 107v1M170.5 111v2M171.5 94v1M171.5 110v1M171.5 116v1M172.5 92v1M172.5 96v1M172.5 108v3M173.5 102v3M173.5 110v1M173.5 119v1M174.5 99v2M174.5 103v1M174.5 117v1M175.5 95v1M175.5 100v1M175.5 110v1M175.5 113v1M175.5 116v2M176.5 108v1M177.5 101v1M177.5 107v3M178.5 109v1M179.5 109v2M180.5 105v1M180.5 108v3M183.5 116v1M183.5 119v1M193.5 118v1M197.5 113v1M197.5 117v2M202.5 109v1M202.5 112v2M203.5 112v1M204.5 105v1M204.5 108v1M205.5 104v1M206.5 105v1M206.5 111v1M207.5 109v1M207.5 115v1M207.5 117v2M208.5 103v3M209.5 108v2M210.5 111v1M212.5 114v1M213.5 104v4M214.5 103v1M214.5 112v1M215.5 108v1M218.5 108v1M219.5 108v2M219.5 113v1M220.5 107v1M220.5 114v1M221.5 102v1M224.5 98v1M224.5 112v1M225.5 107v4M226.5 109v1M227.5 111v1M228.5 110v1M229.5 108v1M230.5 108v1M231.5 103v2M232.5 108v1M234.5 106v1M235.5 107v1"/><path stroke="#784d18" d="M37.5 89v1M38.5 89v1M39.5 87v1M40.5 91v2M44.5 87v1M45.5 95v1M46.5 92v1M47.5 94v1M47.5 98v2M48.5 91v1M49.5 97v1M50.5 93v2M50.5 97v1M51.5 101v1M53.5 98v1M55.5 91v1M55.5 102v3M58.5 102v1M61.5 85v1M61.5 87v1M61.5 103v1M62.5 104v1M70.5 86v1M70.5 103v1M71.5 109v1M73.5 112v1M73.5 117v1M74.5 105v1M74.5 113v1M75.5 117v1M76.5 110v1M76.5 118v2M77.5 101v2M77.5 119v1M77.5 127v1M78.5 122v1M79.5 113v1M80.5 119v1M81.5 109v1M81.5 112v1M81.5 117v1M82.5 116v1M82.5 124v1M83.5 108v1M84.5 99v1M84.5 131v1M85.5 110v1M86.5 112v1M86.5 116v1M88.5 120v1M88.5 123v3M89.5 118v1M90.5 109v2M90.5 116v1M91.5 105v1M92.5 117v1M93.5 114v1M93.5 121v1M94.5 113v2M95.5 110v4M96.5 114v1M96.5 120v2M97.5 116v1M98.5 115v1M99.5 83v1M99.5 86v1M100.5 81v1M100.5 87v2M101.5 94v1M102.5 80v2M102.5 91v1M103.5 93v1M103.5 96v1M104.5 86v1M104.5 93v1M105.5 117v1M107.5 85v1M108.5 116v2M108.5 121v1M109.5 87v1M109.5 98v1M110.5 80v2M110.5 100v2M110.5 114v1M111.5 113v1M112.5 106v4M113.5 82v1M113.5 109v1M114.5 80v1M114.5 100v1M115.5 84v2M115.5 92v4M115.5 114v1M116.5 85v1M118.5 88v5M118.5 98v2M118.5 124v2M119.5 118v1M119.5 124v1M120.5 113v1M120.5 121v2M121.5 108v3M122.5 121v1M123.5 117v1M123.5 121v1M123.5 125v1M124.5 110v1M124.5 116v1M125.5 122v1M127.5 112v4M127.5 118v1M128.5 110v2M128.5 114v1M129.5 116v1M130.5 119v1M130.5 122v1M130.5 124v1M131.5 116v1M131.5 125v1M131.5 127v1M132.5 116v1M132.5 119v2M133.5 121v1M134.5 114v1M134.5 119v1M134.5 123v1M138.5 111v1M138.5 114v1M138.5 118v1M139.5 111v1M139.5 115v1M139.5 119v1M140.5 117v1M141.5 106v1M141.5 108v1M141.5 114v1M142.5 118v1M142.5 122v1M143.5 109v4M143.5 115v1M144.5 110v1M144.5 117v1M145.5 111v1M146.5 109v5M147.5 113v2M148.5 109v2M148.5 113v1M149.5 110v2M151.5 98v1M152.5 101v2M152.5 111v2M152.5 116v1M153.5 107v1M153.5 116v3M154.5 107v1M154.5 110v2M154.5 116v1M154.5 120v3M155.5 115v1M156.5 116v1M157.5 109v1M157.5 112v1M157.5 116v3M158.5 112v2M160.5 118v3M161.5 105v1M164.5 114v1M165.5 109v3M166.5 95v1M166.5 97v1M166.5 108v2M167.5 109v1M169.5 90v1M169.5 93v2M169.5 100v1M169.5 110v2M170.5 97v1M170.5 106v1M170.5 113v1M171.5 95v1M171.5 109v1M172.5 97v1M172.5 107v1M172.5 111v4M172.5 122v1M173.5 93v2M173.5 100v2M173.5 105v5M173.5 120v5M174.5 96v3M174.5 104v1M174.5 110v3M174.5 122v1M175.5 105v1M175.5 111v2M175.5 118v1M176.5 115v1M177.5 102v1M177.5 106v1M177.5 110v1M177.5 114v2M178.5 103v2M178.5 108v1M178.5 121v1M179.5 108v1M179.5 111v1M179.5 117v2M180.5 106v2M180.5 118v1M181.5 106v2M183.5 114v2M183.5 120v1M184.5 115v1M186.5 120v1M187.5 61v1M188.5 113v1M191.5 114v2M193.5 117v1M193.5 119v1M195.5 119v1M197.5 112v1M198.5 113v3M201.5 110v2M202.5 110v2M202.5 114v1M203.5 113v1M205.5 107v1M205.5 111v1M206.5 104v1M207.5 110v1M207.5 114v1M208.5 111v1M208.5 115v1M209.5 110v1M211.5 103v1M213.5 112v1M214.5 100v1M214.5 102v1M214.5 113v1M215.5 109v3M216.5 109v1M216.5 113v4M217.5 98v3M220.5 113v1M221.5 112v1M222.5 108v1M223.5 108v1M223.5 111v2M224.5 113v1M225.5 111v1M228.5 108v2M230.5 109v1M232.5 109v1M233.5 106v1"/><path stroke="#704415" d="M34.5 84v1M35.5 83v1M38.5 90v1M39.5 91v2M40.5 93v1M41.5 90v1M42.5 88v2M43.5 90v1M44.5 92v1M44.5 96v1M46.5 93v6M47.5 95v3M47.5 100v1M48.5 92v2M50.5 98v1M51.5 102v1M52.5 97v1M54.5 101v4M55.5 89v2M56.5 104v1M57.5 102v1M61.5 86v1M61.5 104v1M63.5 105v1M64.5 104v1M66.5 105v1M67.5 107v1M69.5 107v1M70.5 104v1M72.5 103v1M73.5 111v1M74.5 102v1M75.5 94v2M75.5 107v1M75.5 110v1M75.5 118v1M76.5 113v1M76.5 120v1M77.5 123v1M78.5 108v1M78.5 110v7M78.5 121v1M78.5 127v1M79.5 127v2M80.5 111v1M80.5 114v1M80.5 120v1M81.5 110v2M81.5 118v1M82.5 110v1M82.5 115v1M83.5 109v1M84.5 127v1M85.5 111v1M85.5 117v2M86.5 113v1M86.5 122v1M87.5 111v1M87.5 118v1M88.5 121v2M88.5 126v1M89.5 119v1M91.5 103v2M91.5 116v1M93.5 109v1M93.5 113v1M93.5 122v1M94.5 115v1M95.5 114v1M95.5 118v2M96.5 115v1M96.5 119v1M96.5 122v1M97.5 117v1M98.5 116v1M99.5 117v1M100.5 82v2M100.5 86v1M100.5 116v1M101.5 91v3M102.5 83v1M102.5 89v2M103.5 94v2M104.5 94v1M105.5 90v2M105.5 96v1M105.5 118v1M106.5 87v1M106.5 120v1M107.5 86v1M107.5 95v1M107.5 117v1M108.5 85v1M108.5 90v1M108.5 94v1M108.5 97v1M109.5 88v4M109.5 115v1M110.5 83v1M110.5 99v1M111.5 88v2M111.5 114v1M112.5 82v1M112.5 96v1M112.5 110v3M113.5 83v1M113.5 100v1M113.5 110v1M113.5 114v4M114.5 91v4M114.5 122v1M115.5 86v1M115.5 88v4M116.5 86v2M116.5 94v1M116.5 113v1M116.5 121v1M117.5 88v1M117.5 93v1M117.5 121v1M118.5 126v1M119.5 119v1M119.5 123v1M119.5 125v1M120.5 119v2M120.5 123v2M121.5 118v1M122.5 125v2M123.5 118v3M124.5 125v1M125.5 123v1M126.5 119v1M126.5 123v4M127.5 119v1M127.5 126v4M128.5 112v2M128.5 120v1M129.5 117v1M130.5 120v2M131.5 124v1M131.5 128v1M132.5 117v2M133.5 122v3M134.5 115v1M134.5 117v2M136.5 121v1M137.5 112v6M138.5 112v2M139.5 114v1M139.5 124v3M140.5 118v1M141.5 107v1M141.5 115v2M141.5 120v3M142.5 112v1M142.5 117v1M143.5 116v1M144.5 108v2M144.5 118v1M148.5 106v3M149.5 103v1M149.5 109v1M149.5 112v1M150.5 111v1M151.5 99v1M151.5 106v1M153.5 108v1M153.5 115v1M153.5 119v1M154.5 117v1M154.5 119v1M155.5 116v1M157.5 105v1M157.5 113v3M158.5 114v6M159.5 111v1M160.5 106v1M160.5 116v2M160.5 121v1M161.5 103v2M162.5 121v1M163.5 107v1M163.5 109v1M163.5 121v1M164.5 119v1M164.5 123v1M165.5 120v1M166.5 96v1M166.5 125v1M167.5 110v1M167.5 115v3M167.5 122v1M168.5 121v1M169.5 91v2M169.5 95v2M169.5 104v1M169.5 112v1M170.5 96v1M170.5 99v1M170.5 105v1M170.5 114v1M171.5 96v1M171.5 101v8M171.5 117v1M171.5 125v1M172.5 123v1M173.5 95v5M173.5 125v1M174.5 95v1M174.5 105v1M174.5 108v2M174.5 113v4M175.5 101v1M175.5 119v1M176.5 107v1M176.5 120v3M177.5 103v1M177.5 105v1M177.5 111v3M177.5 116v2M178.5 102v1M178.5 105v3M179.5 107v1M179.5 116v1M181.5 108v1M182.5 110v3M182.5 118v1M183.5 113v1M183.5 121v1M184.5 114v1M184.5 116v1M185.5 111v1M185.5 116v2M187.5 113v1M188.5 118v3M191.5 116v1M193.5 116v1M193.5 120v1M195.5 118v1M197.5 119v1M198.5 112v1M198.5 116v1M201.5 112v1M202.5 115v1M203.5 114v1M204.5 109v1M205.5 105v2M206.5 103v1M206.5 112v1M207.5 111v3M208.5 112v3M208.5 116v1M209.5 111v1M210.5 112v1M212.5 115v1M214.5 101v1M214.5 114v2M215.5 112v1M215.5 116v1M216.5 110v3M216.5 117v2M217.5 115v1M218.5 109v1M219.5 114v1M220.5 108v1M220.5 112v1M221.5 113v1M223.5 109v2M223.5 113v1M224.5 114v1M226.5 110v1M227.5 112v1M229.5 109v1M234.5 107v1"/><path stroke="#673b11" d="M33.5 82v1M35.5 84v1M36.5 86v1M37.5 90v1M39.5 88v3M39.5 93v1M40.5 94v1M41.5 91v3M42.5 90v1M44.5 97v1M45.5 96v1M48.5 94v1M49.5 98v1M51.5 103v1M53.5 99v1M54.5 105v1M55.5 105v1M59.5 105v1M60.5 105v1M61.5 105v3M65.5 105v1M68.5 106v1M70.5 105v1M71.5 110v1M72.5 112v3M73.5 104v1M73.5 110v1M74.5 103v2M75.5 108v2M75.5 121v3M76.5 111v2M77.5 120v1M77.5 128v1M78.5 109v1M78.5 117v1M78.5 119v2M79.5 114v1M79.5 119v3M79.5 129v1M80.5 112v2M80.5 121v1M81.5 119v4M83.5 115v7M83.5 126v5M84.5 115v1M85.5 112v1M85.5 115v2M85.5 119v3M85.5 123v4M86.5 114v2M87.5 108v1M88.5 127v1M89.5 120v1M90.5 117v1M91.5 117v1M92.5 118v1M93.5 110v3M93.5 123v1M94.5 116v2M95.5 115v3M96.5 116v1M96.5 123v1M97.5 118v3M99.5 84v2M100.5 84v2M100.5 117v4M101.5 90v1M102.5 84v5M102.5 116v1M103.5 85v1M103.5 116v1M104.5 121v1M105.5 84v1M105.5 89v1M105.5 92v1M106.5 84v1M107.5 87v1M108.5 95v2M109.5 92v1M109.5 97v1M110.5 82v1M110.5 84v2M110.5 92v7M110.5 115v1M111.5 87v1M111.5 101v1M111.5 121v2M112.5 95v1M112.5 113v1M112.5 118v2M113.5 84v1M113.5 111v3M113.5 124v1M114.5 90v1M114.5 95v1M114.5 99v1M115.5 87v1M115.5 115v1M116.5 88v2M116.5 114v1M116.5 118v3M116.5 122v3M117.5 89v1M117.5 92v1M117.5 122v1M118.5 127v1M119.5 120v3M119.5 126v1M120.5 114v1M120.5 118v1M120.5 125v2M122.5 122v3M122.5 127v1M123.5 126v1M124.5 111v1M124.5 115v1M125.5 124v1M126.5 120v3M126.5 127v1M127.5 120v1M127.5 125v1M128.5 121v1M130.5 125v1M131.5 117v1M132.5 121v1M133.5 125v1M134.5 116v1M134.5 124v1M135.5 113v1M135.5 119v2M137.5 118v1M139.5 112v2M139.5 120v1M141.5 117v3M144.5 119v1M145.5 112v1M146.5 114v1M147.5 115v1M149.5 108v1M150.5 112v1M150.5 115v5M151.5 107v2M152.5 117v1M153.5 114v1M153.5 120v1M154.5 118v1M154.5 123v1M155.5 117v1M155.5 121v1M156.5 117v1M157.5 108v1M157.5 119v1M158.5 120v2M159.5 120v2M160.5 112v4M161.5 122v1M163.5 108v1M164.5 115v1M167.5 111v4M167.5 118v2M167.5 121v1M169.5 97v3M169.5 105v1M169.5 109v1M170.5 90v6M170.5 100v1M170.5 104v1M171.5 97v4M171.5 118v1M171.5 123v2M171.5 126v1M172.5 98v1M172.5 104v3M174.5 94v1M174.5 106v2M176.5 97v2M176.5 116v1M176.5 119v1M176.5 123v2M177.5 104v1M177.5 118v1M178.5 101v1M178.5 122v1M179.5 119v1M180.5 119v1M182.5 109v1M182.5 113v1M182.5 117v1M182.5 119v1M183.5 112v1M183.5 122v1M184.5 110v1M184.5 113v1M184.5 123v1M185.5 112v1M185.5 114v2M185.5 118v2M186.5 121v1M187.5 114v1M188.5 114v1M188.5 117v1M192.5 114v1M193.5 121v1M195.5 117v1M195.5 120v1M198.5 117v1M200.5 110v1M203.5 115v1M205.5 112v1M206.5 113v1M206.5 116v1M209.5 112v2M209.5 115v2M211.5 104v1M213.5 113v1M215.5 113v3M218.5 110v1M220.5 109v3M222.5 109v1M223.5 114v1M225.5 112v1M227.5 113v1M229.5 110v1M231.5 111v1M232.5 110v1M233.5 107v1M234.5 108v1"/><path stroke="#60350f" d="M35.5 85v1M36.5 87v1M38.5 91v1M39.5 94v1M40.5 95v1M41.5 94v1M42.5 91v2M42.5 97v1M43.5 91v1M43.5 94v2M44.5 98v1M46.5 99v1M47.5 101v1M48.5 95v3M48.5 101v1M50.5 99v1M52.5 98v1M53.5 105v1M56.5 105v1M57.5 103v1M61.5 108v1M62.5 105v1M63.5 106v1M67.5 108v1M69.5 108v1M72.5 104v1M72.5 111v1M72.5 115v2M73.5 109v1M73.5 118v1M74.5 114v1M75.5 119v2M75.5 124v1M76.5 121v1M77.5 122v1M78.5 118v1M78.5 128v1M79.5 115v4M79.5 122v1M79.5 126v1M79.5 130v1M81.5 123v2M81.5 126v3M82.5 111v1M82.5 114v1M82.5 125v1M83.5 110v5M83.5 122v2M83.5 125v1M83.5 131v2M84.5 116v1M84.5 119v1M85.5 113v2M85.5 122v1M85.5 127v1M86.5 123v1M86.5 127v3M87.5 109v2M87.5 119v1M88.5 128v1M89.5 121v2M90.5 118v1M93.5 124v2M94.5 128v1M95.5 120v1M96.5 117v2M97.5 121v1M98.5 117v1M99.5 118v1M100.5 121v2M101.5 82v1M101.5 89v1M101.5 117v1M103.5 117v1M104.5 83v1M104.5 85v1M105.5 88v1M105.5 93v1M105.5 95v1M105.5 119v1M106.5 86v1M106.5 121v1M107.5 88v2M107.5 94v1M107.5 118v1M108.5 86v1M108.5 89v1M108.5 122v1M109.5 93v1M109.5 116v1M110.5 86v1M110.5 91v1M110.5 116v1M111.5 90v1M111.5 115v1M111.5 120v1M111.5 123v1M112.5 83v1M112.5 94v1M112.5 114v1M112.5 117v1M112.5 120v1M113.5 85v1M113.5 94v3M113.5 99v1M113.5 118v1M113.5 123v1M113.5 125v1M114.5 81v1M114.5 86v2M114.5 89v1M114.5 96v3M114.5 123v1M115.5 119v6M116.5 90v1M116.5 93v1M116.5 115v3M116.5 125v4M117.5 90v2M117.5 123v1M120.5 115v1M120.5 117v1M120.5 127v1M121.5 125v2M122.5 128v1M123.5 127v3M124.5 112v1M124.5 114v1M124.5 126v1M125.5 125v1M127.5 121v1M127.5 130v1M128.5 122v1M128.5 125v2M129.5 118v1M133.5 126v1M135.5 118v1M135.5 121v1M136.5 122v1M137.5 119v1M138.5 119v1M139.5 121v1M139.5 123v1M141.5 123v1M142.5 116v1M142.5 123v1M144.5 120v1M147.5 116v1M147.5 121v1M148.5 114v1M149.5 104v1M149.5 113v1M150.5 113v2M150.5 120v1M151.5 109v5M153.5 109v5M155.5 118v3M155.5 122v1M156.5 118v1M157.5 106v2M158.5 122v1M159.5 112v1M159.5 119v1M160.5 107v1M160.5 111v1M162.5 122v1M163.5 122v1M164.5 118v1M165.5 121v1M167.5 120v1M168.5 122v1M169.5 106v3M169.5 113v1M170.5 103v1M170.5 115v1M170.5 119v3M170.5 126v1M171.5 119v1M171.5 122v1M172.5 103v1M172.5 124v1M173.5 126v1M174.5 123v1M175.5 67v1M175.5 104v1M175.5 120v1M176.5 99v1M176.5 102v3M176.5 106v1M176.5 117v2M176.5 125v1M177.5 119v2M179.5 106v1M179.5 112v1M179.5 115v1M179.5 124v1M181.5 109v1M182.5 108v1M182.5 114v3M182.5 120v1M183.5 111v1M183.5 123v1M184.5 111v2M184.5 117v1M184.5 122v1M185.5 113v1M185.5 120v1M186.5 122v1M187.5 115v5M188.5 115v2M189.5 114v1M190.5 114v4M191.5 117v1M192.5 115v1M193.5 115v1M194.5 113v2M198.5 111v1M198.5 118v1M199.5 115v1M201.5 113v1M202.5 116v1M203.5 116v1M204.5 110v1M206.5 114v2M208.5 117v1M209.5 114v1M210.5 113v1M210.5 116v1M211.5 105v3M212.5 116v1M213.5 114v1M217.5 116v1M219.5 115v1M221.5 114v1M224.5 115v1M225.5 113v1M234.5 109v1"/><path stroke="#592f0d" d="M36.5 88v2M37.5 91v1M40.5 96v1M42.5 93v1M42.5 96v1M42.5 98v1M43.5 92v2M43.5 96v1M44.5 88v1M44.5 91v1M44.5 99v1M46.5 100v1M47.5 102v1M48.5 98v3M48.5 102v2M51.5 104v1M53.5 104v1M53.5 106v1M56.5 106v2M60.5 106v1M68.5 107v1M70.5 106v1M71.5 111v1M72.5 105v3M72.5 110v1M72.5 117v1M73.5 105v1M73.5 107v2M74.5 115v4M75.5 125v1M77.5 121v1M79.5 123v1M79.5 125v1M79.5 131v1M80.5 122v1M81.5 125v1M81.5 129v1M82.5 112v2M82.5 134v1M83.5 124v1M83.5 133v1M84.5 117v2M84.5 120v1M84.5 126v1M84.5 132v1M86.5 124v1M86.5 126v1M86.5 130v1M88.5 129v1M89.5 123v5M90.5 119v4M91.5 118v1M91.5 121v1M92.5 119v1M93.5 126v1M94.5 118v1M94.5 127v1M97.5 122v1M101.5 83v1M101.5 88v1M102.5 117v1M102.5 120v1M105.5 87v1M105.5 94v1M106.5 85v1M107.5 90v2M107.5 119v1M108.5 87v2M109.5 94v3M110.5 117v2M111.5 81v1M111.5 86v1M111.5 91v1M111.5 97v4M111.5 116v1M111.5 119v1M111.5 124v3M112.5 115v2M113.5 86v1M113.5 93v1M113.5 97v2M113.5 126v1M114.5 85v1M114.5 88v1M115.5 116v1M115.5 118v1M115.5 125v1M116.5 91v2M117.5 124v2M118.5 128v1M119.5 127v1M120.5 116v1M120.5 128v1M121.5 119v1M121.5 124v1M121.5 127v1M122.5 129v1M123.5 130v1M124.5 113v1M125.5 126v2M127.5 122v3M128.5 123v2M128.5 127v1M129.5 123v2M131.5 118v1M131.5 123v1M131.5 129v1M132.5 122v1M132.5 126v3M135.5 117v1M135.5 122v2M136.5 123v1M138.5 123v2M139.5 122v1M140.5 119v1M142.5 113v1M142.5 115v1M143.5 117v1M144.5 121v1M145.5 113v1M146.5 115v1M146.5 119v3M148.5 115v1M149.5 105v3M149.5 114v1M150.5 121v1M151.5 114v1M152.5 118v1M156.5 119v1M157.5 120v1M158.5 123v1M159.5 122v1M163.5 123v1M164.5 116v2M164.5 124v1M169.5 114v1M169.5 126v1M170.5 101v2M170.5 116v3M170.5 122v4M171.5 120v2M172.5 99v1M172.5 102v1M172.5 125v1M175.5 102v1M175.5 121v1M176.5 100v2M176.5 105v1M176.5 126v1M177.5 121v5M178.5 123v1M179.5 120v1M179.5 122v2M181.5 114v3M182.5 121v1M183.5 110v1M184.5 118v1M184.5 121v1M185.5 121v1M187.5 120v2M189.5 115v2M189.5 119v1M190.5 118v1M193.5 114v1M194.5 115v2M198.5 119v2M199.5 112v3M199.5 116v2M200.5 111v1M201.5 114v4M210.5 114v2M211.5 108v1M213.5 115v1M218.5 111v1M218.5 115v3M219.5 116v1M225.5 114v1M226.5 111v1M227.5 114v1M229.5 111v1M233.5 108v1"/><path stroke="#51280b" d="M34.5 85v1M35.5 86v1M36.5 90v1M37.5 92v1M38.5 92v1M40.5 97v1M41.5 95v1M42.5 94v2M42.5 99v1M44.5 100v1M45.5 97v1M46.5 101v4M49.5 99v1M50.5 100v1M52.5 99v1M53.5 100v1M53.5 103v1M54.5 106v1M55.5 106v1M58.5 103v1M59.5 106v1M62.5 106v1M64.5 105v1M66.5 106v1M67.5 109v1M68.5 108v1M69.5 109v1M70.5 107v1M71.5 112v4M72.5 108v2M72.5 118v1M73.5 106v1M73.5 119v1M74.5 119v1M74.5 126v2M76.5 122v1M77.5 129v1M79.5 124v1M79.5 132v1M80.5 130v2M82.5 126v1M82.5 133v1M85.5 128v1M86.5 125v1M86.5 131v2M87.5 120v1M87.5 127v5M89.5 128v1M90.5 123v1M91.5 119v2M91.5 122v1M92.5 120v1M92.5 124v6M93.5 127v1M95.5 121v1M96.5 124v1M98.5 118v1M99.5 119v1M100.5 123v1M101.5 84v4M101.5 118v1M102.5 118v2M102.5 121v2M103.5 84v1M103.5 118v1M103.5 124v2M104.5 84v1M104.5 122v1M105.5 85v2M105.5 120v1M106.5 122v1M107.5 92v2M107.5 120v1M108.5 123v1M109.5 117v1M109.5 119v4M110.5 87v1M110.5 90v1M110.5 119v1M110.5 123v3M111.5 92v1M111.5 96v1M111.5 117v2M111.5 127v1M112.5 84v2M112.5 93v1M112.5 121v1M112.5 126v1M113.5 92v1M113.5 119v1M113.5 122v1M113.5 127v1M114.5 82v1M114.5 84v1M114.5 124v4M115.5 117v1M115.5 126v1M117.5 126v2M128.5 128v1M129.5 119v1M129.5 122v1M129.5 125v1M130.5 126v1M132.5 125v1M132.5 129v1M133.5 127v1M134.5 125v1M135.5 114v1M135.5 116v1M135.5 124v1M136.5 124v1M137.5 120v1M138.5 122v1M138.5 125v1M141.5 124v1M142.5 114v1M144.5 122v1M145.5 117v2M146.5 116v3M146.5 122v1M147.5 117v1M147.5 120v1M148.5 116v1M148.5 118v4M149.5 115v1M150.5 122v1M151.5 115v1M159.5 113v1M159.5 118v1M160.5 108v3M161.5 123v1M164.5 125v1M165.5 122v1M168.5 123v3M169.5 115v2M169.5 125v1M172.5 100v2M175.5 103v1M175.5 122v1M175.5 124v3M179.5 105v1M179.5 113v2M179.5 121v1M180.5 120v1M180.5 123v2M181.5 113v1M181.5 117v1M182.5 122v1M183.5 109v1M184.5 119v2M185.5 122v1M187.5 122v1M189.5 117v2M189.5 120v1M190.5 119v1M191.5 118v1M193.5 113v1M194.5 117v2M195.5 116v1M199.5 111v1M199.5 118v1M200.5 112v1M202.5 117v1M203.5 117v1M204.5 111v1M205.5 113v1M205.5 118v1M211.5 109v1M217.5 117v1M218.5 112v3M219.5 117v1M222.5 110v1M226.5 112v2M233.5 109v1"/><path stroke="#4a2309" d="M33.5 83v1M42.5 100v1M43.5 97v1M44.5 89v2M45.5 98v1M46.5 105v1M47.5 103v1M48.5 104v1M50.5 101v1M52.5 100v4M53.5 101v1M56.5 108v1M57.5 104v1M58.5 107v2M62.5 107v2M63.5 107v1M68.5 109v3M69.5 110v1M70.5 108v1M70.5 110v4M71.5 116v1M74.5 125v1M76.5 123v1M76.5 125v4M78.5 129v1M80.5 123v1M80.5 132v1M81.5 130v1M81.5 133v2M82.5 132v1M83.5 134v1M84.5 121v1M86.5 133v1M87.5 121v2M87.5 126v1M87.5 132v1M88.5 130v1M89.5 129v1M90.5 124v1M91.5 123v1M92.5 121v3M92.5 130v1M94.5 119v1M97.5 123v1M101.5 119v2M103.5 119v1M103.5 123v1M107.5 121v2M109.5 118v1M109.5 123v1M110.5 88v2M110.5 120v3M110.5 126v1M111.5 82v1M111.5 93v3M111.5 128v1M112.5 86v1M112.5 91v2M112.5 124v2M112.5 127v1M113.5 87v1M113.5 120v2M113.5 128v1M114.5 83v1M114.5 128v1M115.5 127v1M117.5 128v1M118.5 129v1M120.5 129v1M121.5 120v1M121.5 123v1M121.5 128v1M124.5 127v1M129.5 120v2M129.5 126v1M131.5 119v1M132.5 123v2M135.5 115v1M135.5 125v3M136.5 125v1M137.5 121v1M138.5 120v1M142.5 124v1M143.5 118v1M144.5 123v1M145.5 114v3M145.5 119v1M147.5 118v2M148.5 117v1M149.5 116v1M150.5 123v1M151.5 116v1M151.5 119v3M152.5 119v1M156.5 120v1M157.5 121v1M159.5 123v1M169.5 117v4M169.5 124v1M172.5 126v1M174.5 124v1M175.5 123v1M178.5 124v1M180.5 121v2M181.5 110v1M181.5 112v1M181.5 118v2M182.5 123v1M191.5 119v2M192.5 116v1M194.5 119v1M195.5 115v1M196.5 115v4M199.5 119v1M200.5 113v8M201.5 118v1M202.5 118v1M204.5 112v3M205.5 114v1M205.5 117v1M211.5 110v1M211.5 113v3M212.5 117v1M222.5 111v1M222.5 113v1M233.5 110v1"/><path stroke="#451f08" d="M35.5 87v1M38.5 93v1M41.5 96v1M43.5 98v1M44.5 101v1M45.5 99v1M48.5 105v1M49.5 100v1M50.5 102v1M52.5 104v1M53.5 102v1M53.5 107v1M58.5 106v1M60.5 107v1M64.5 106v1M65.5 106v1M68.5 112v1M70.5 109v1M70.5 114v1M71.5 117v1M72.5 119v1M73.5 120v1M74.5 120v1M74.5 124v1M74.5 128v1M75.5 126v1M76.5 124v1M76.5 129v2M77.5 130v1M79.5 133v1M80.5 124v2M80.5 129v1M81.5 131v2M82.5 127v1M82.5 131v1M85.5 129v1M87.5 123v3M88.5 131v1M89.5 130v1M90.5 125v1M93.5 128v1M94.5 126v1M95.5 122v1M96.5 125v1M97.5 127v1M98.5 119v1M99.5 120v1M101.5 121v5M102.5 123v1M103.5 120v3M104.5 123v1M105.5 121v1M106.5 123v1M106.5 125v1M107.5 123v4M108.5 124v1M108.5 126v1M109.5 124v1M111.5 85v1M112.5 87v2M112.5 90v1M112.5 122v2M113.5 88v4M117.5 129v1M121.5 122v1M124.5 128v3M128.5 129v1M130.5 127v1M131.5 122v1M135.5 128v1M136.5 126v1M137.5 122v1M138.5 121v1M138.5 126v2M140.5 120v1M141.5 125v1M143.5 119v1M145.5 123v2M149.5 117v1M151.5 117v2M151.5 122v1M152.5 120v1M156.5 123v1M159.5 114v1M159.5 117v1M159.5 124v1M165.5 123v1M169.5 121v3M178.5 125v1M179.5 103v2M181.5 111v1M181.5 120v1M195.5 113v2M196.5 112v3M196.5 119v1M202.5 119v1M204.5 115v2M204.5 118v2M205.5 115v2M211.5 111v2M222.5 112v1"/><path stroke="#401c07" d="M33.5 84v1M43.5 99v1M47.5 104v1M52.5 105v1M54.5 107v1M58.5 104v2M59.5 107v1M66.5 107v1M69.5 111v1M71.5 118v1M75.5 127v1M77.5 131v3M78.5 130v1M80.5 126v1M80.5 128v1M80.5 133v1M82.5 128v3M83.5 135v1M84.5 122v1M84.5 125v1M84.5 133v1M88.5 132v1M90.5 126v1M91.5 124v1M91.5 130v1M94.5 120v1M95.5 126v2M96.5 126v1M97.5 124v1M97.5 126v1M99.5 124v1M102.5 124v1M104.5 124v1M105.5 122v4M106.5 124v1M108.5 125v1M109.5 125v1M111.5 83v2M112.5 89v1M115.5 128v1M121.5 121v1M121.5 129v1M129.5 127v3M130.5 128v1M131.5 120v1M133.5 128v1M134.5 126v1M137.5 123v1M137.5 126v3M140.5 121v1M140.5 124v2M143.5 120v1M145.5 120v3M149.5 118v1M151.5 123v1M156.5 121v2M157.5 122v1M159.5 115v2M161.5 124v1M165.5 124v1M174.5 125v2M192.5 117v1M202.5 120v1M204.5 117v1"/><path stroke="#3a1906" d="M38.5 94v1M41.5 97v2M43.5 100v3M44.5 102v1M45.5 100v1M49.5 101v1M50.5 103v1M52.5 106v1M55.5 107v1M57.5 105v1M59.5 108v1M60.5 108v1M64.5 107v1M65.5 107v1M66.5 108v1M71.5 119v1M73.5 121v1M74.5 121v3M75.5 128v3M78.5 131v1M79.5 134v1M80.5 127v1M80.5 134v1M85.5 130v1M90.5 127v3M91.5 129v1M94.5 121v1M94.5 125v1M95.5 123v3M96.5 127v1M97.5 125v1M98.5 120v1M99.5 121v1M115.5 129v1M128.5 130v1M129.5 130v1M130.5 129v1M131.5 121v1M134.5 127v1M137.5 124v2M140.5 122v2M140.5 126v1M141.5 126v1M143.5 121v2M149.5 119v2M152.5 121v1M181.5 121v1M196.5 120v1"/><path stroke="#351504" d="M33.5 85v1M35.5 88v1M38.5 95v1M44.5 103v1M45.5 101v1M49.5 106v1M64.5 108v1M66.5 109v1M69.5 112v1M70.5 115v1M72.5 120v1M78.5 132v3M84.5 123v2M85.5 131v1M90.5 130v2M91.5 125v1M91.5 128v1M94.5 122v3M98.5 121v1M99.5 123v1M134.5 128v1M143.5 123v1M157.5 123v1M192.5 118v1"/><path stroke="#301303" d="M47.5 105v1M49.5 102v1M49.5 105v1M50.5 104v1M64.5 109v1M66.5 110v1M72.5 121v1M73.5 122v1M78.5 135v1M84.5 134v1M85.5 132v1M91.5 126v2M98.5 122v1M99.5 122v1M133.5 129v1M140.5 127v1M143.5 124v2M181.5 122v1"/><path stroke="#2d1203" d="M45.5 102v2M49.5 103v2M50.5 105v2M57.5 106v1M69.5 113v1M70.5 116v1M73.5 123v2M79.5 135v1M98.5 126v1M181.5 123v1M192.5 119v1"/><path stroke="#291003" d="M98.5 123v3M192.5 120v1"/><path stroke="#260f03" d="M57.5 107v1"/><path stroke="#220d02" d="M57.5 108v1"/><path stroke="#c8bb9c" d="M161.5 71v1"/><path stroke="#c4b48f" d="M162.5 76v1M165.5 83v1"/><path stroke="#c0aa7d" d="M162.5 75v1M162.5 77v2M165.5 82v1"/><path stroke="#bca16c" d="M161.5 76v1M165.5 68v2"/><path stroke="#b7985a" d="M161.5 72v1M164.5 79v1M167.5 86v1M214.5 92v1"/><path stroke="#b38f4b" d="M161.5 75v1M162.5 74v1M164.5 80v1M165.5 70v1M165.5 81v1"/><path stroke="#af8741" d="M161.5 73v2M162.5 69v1M163.5 80v1M164.5 81v1M166.5 84v1M167.5 85v1M207.5 101v1M212.5 95v2"/><path stroke="#aa8039" d="M162.5 70v1M162.5 73v1M163.5 76v1M163.5 79v1M166.5 83v1M206.5 76v1M207.5 102v1M212.5 94v1M212.5 97v1"/><path stroke="#a57832" d="M162.5 71v2M163.5 70v1M163.5 77v2M165.5 80v1M167.5 84v1M172.5 70v1M209.5 100v3M212.5 90v2M212.5 93v1M212.5 98v1"/><path stroke="#9f702d" d="M166.5 82v1M206.5 77v1M212.5 99v1M213.5 94v3"/><path stroke="#996727" d="M163.5 71v1M186.5 110v2M205.5 102v1M213.5 93v1M213.5 97v1"/><path stroke="#925e22" d="M171.5 90v1M183.5 64v2M186.5 109v1M202.5 105v3M205.5 103v1"/><path stroke="#8b551d" d="M166.5 70v1M168.5 87v1M169.5 70v1M171.5 89v1M173.5 90v1M179.5 68v1M181.5 65v2M203.5 105v2M211.5 101v1"/><path stroke="#834c19" d="M168.5 86v1M169.5 87v2M173.5 91v2M174.5 70v1M175.5 94v1M177.5 98v1M180.5 103v2M181.5 67v1M185.5 108v1M188.5 112v1M202.5 108v1M208.5 101v2M211.5 100v1"/><path stroke="#7c4416" d="M168.5 85v1M169.5 71v1M169.5 86v1M171.5 88v1M172.5 91v1M180.5 102v1M181.5 105v1M185.5 109v1M187.5 62v1M188.5 111v1M190.5 112v1M200.5 108v1M203.5 104v1M204.5 103v2M206.5 101v1M210.5 101v1M211.5 99v1"/><path stroke="#743b12" d="M172.5 89v2M175.5 69v1M175.5 92v2M177.5 97v1M181.5 104v1M184.5 108v1M185.5 110v1M187.5 63v1M187.5 112v1M191.5 113v1M192.5 112v2M194.5 111v1M200.5 109v1M201.5 109v1M204.5 102v1M206.5 102v1M210.5 100v1M211.5 98v1"/><path stroke="#6c3410" d="M170.5 87v2M175.5 68v1M176.5 96v1M177.5 96v1M180.5 101v1M181.5 103v1M184.5 107v1M184.5 109v1M189.5 111v3M190.5 113v1M191.5 112v1M194.5 112v1M197.5 111v1M203.5 103v1"/><path stroke="#652e0e" d="M170.5 89v1M174.5 93v1M176.5 95v1M177.5 95v1M178.5 97v4M179.5 99v2M182.5 107v1M183.5 106v2M184.5 65v1M187.5 111v1M197.5 110v1M201.5 108v1"/><path stroke="#5e280c" d="M176.5 94v1M182.5 105v2M183.5 108v1M187.5 110v1M196.5 110v1M201.5 107v1"/><path stroke="#56220a" d="M174.5 91v2M176.5 93v1M179.5 101v1M198.5 110v1M199.5 109v2"/><path stroke="#4f1d08" d="M179.5 102v1M193.5 112v1M195.5 111v2M196.5 111v1M198.5 109v1"/><path stroke="#491a07" d="M193.5 111v1"/><path stroke="#bc9d66" d="M209.5 85v1"/><path stroke="#b79252" d="M164.5 78v1"/><path stroke="#b38840" d="M164.5 77v1"/><path stroke="#af7f35" d="M208.5 82v1M209.5 86v1"/><path stroke="#aa772f" d="M163.5 75v1M164.5 76v1M170.5 72v1M194.5 77v1M207.5 100v1"/><path stroke="#a46e2a" d="M165.5 71v1M194.5 76v1M207.5 99v1M208.5 81v1"/><path stroke="#9e6625" d="M163.5 74v1M172.5 71v1M206.5 78v2M209.5 99v1"/><path stroke="#995d20" d="M163.5 73v1M164.5 75v1M166.5 81v1M167.5 83v1M170.5 73v1M204.5 78v1M208.5 80v1M211.5 90v4M212.5 92v1"/><path stroke="#93541d" d="M163.5 72v1M165.5 79v1M167.5 72v1M167.5 82v1M172.5 72v1M178.5 93v2M183.5 66v2M186.5 106v1M205.5 78v1M205.5 101v1M209.5 97v2M211.5 94v1"/><path stroke="#8d4b19" d="M166.5 80v1M167.5 81v1M170.5 84v1M175.5 89v1M179.5 69v1M186.5 107v2M190.5 110v1M195.5 76v3M202.5 78v1M202.5 104v1M204.5 79v1M211.5 95v1"/><path stroke="#864216" d="M164.5 74v1M165.5 72v1M165.5 78v1M166.5 71v1M167.5 80v1M173.5 89v1M175.5 90v1M177.5 70v2M178.5 95v1M179.5 70v1M181.5 99v1M182.5 67v1M183.5 68v1M185.5 107v1M190.5 111v1M201.5 79v1M203.5 78v1M205.5 100v1M206.5 99v2M207.5 79v1M210.5 88v1M210.5 94v4"/><path stroke="#803a13" d="M164.5 71v1M166.5 79v1M170.5 85v1M171.5 85v3M175.5 70v1M175.5 91v1M182.5 68v1M182.5 101v1M185.5 106v1M187.5 107v1M194.5 110v1M200.5 107v1M202.5 103v1M205.5 79v1M207.5 80v1M208.5 100v1M210.5 90v1M210.5 98v1M211.5 96v1"/><path stroke="#793210" d="M164.5 72v2M165.5 77v1M166.5 72v1M169.5 72v1M169.5 85v1M170.5 86v1M172.5 88v1M173.5 88v1M174.5 88v1M175.5 71v1M176.5 70v1M178.5 96v1M181.5 68v2M182.5 102v1M183.5 103v2M188.5 110v1M189.5 67v1M192.5 110v2M194.5 109v1M200.5 106v1M202.5 79v1M203.5 79v1M203.5 100v1M208.5 99v1M210.5 89v1M210.5 99v1M211.5 97v1"/><path stroke="#722c0e" d="M165.5 73v1M165.5 76v1M166.5 78v1M168.5 84v1M169.5 84v1M172.5 86v2M173.5 71v2M179.5 97v2M181.5 100v1M183.5 105v1M184.5 106v1M185.5 105v1M187.5 64v1M187.5 108v1M188.5 108v2M191.5 111v1M202.5 102v1M204.5 101v1M205.5 99v1M208.5 98v1"/><path stroke="#6b270c" d="M169.5 83v1M173.5 87v1M174.5 71v1M174.5 89v1M176.5 71v1M177.5 92v2M179.5 96v1M181.5 102v1M182.5 103v2M184.5 66v1M184.5 104v2M185.5 66v1M187.5 109v1M189.5 109v2M196.5 108v1M199.5 106v1M200.5 105v1M202.5 101v1M203.5 101v2M204.5 100v1"/><path stroke="#63210a" d="M168.5 83v1M169.5 73v1M174.5 72v1M177.5 94v1M180.5 100v1M181.5 101v1M188.5 66v1M191.5 110v1M196.5 109v1M197.5 109v1M198.5 107v1M199.5 107v1M201.5 103v1"/><path stroke="#5b1c08" d="M168.5 82v1M174.5 90v1M176.5 90v3M179.5 95v1M180.5 97v3M184.5 67v1M186.5 65v1M187.5 65v1M193.5 109v1M197.5 108v1M198.5 108v1M199.5 108v1M201.5 104v1M201.5 106v1"/><path stroke="#541707" d="M187.5 66v1M193.5 110v1M201.5 105v1"/><path stroke="#4d1406" d="M186.5 66v1M195.5 109v2"/><path stroke="#471205" d="M171.5 72v2"/><path stroke="#ae7629" d="M181.5 96v2M208.5 84v2"/><path stroke="#a96e26" d="M201.5 91v1M208.5 83v1M208.5 86v2"/><path stroke="#a36522" d="M181.5 95v1M201.5 90v1M201.5 92v1M202.5 96v1M206.5 82v2M206.5 86v4M209.5 87v1"/><path stroke="#9e5c1e" d="M181.5 98v1M199.5 80v1M202.5 95v1M202.5 97v1M204.5 88v2M206.5 81v1M206.5 84v2M206.5 90v1M207.5 87v1M208.5 88v1"/><path stroke="#99531a" d="M170.5 82v2M186.5 97v2M194.5 78v1M195.5 95v2M201.5 93v1M203.5 87v3M204.5 90v1M206.5 80v1M206.5 91v1M207.5 85v2M207.5 88v1M207.5 98v1M209.5 88v1M209.5 94v1"/><path stroke="#944a18" d="M170.5 74v1M170.5 81v1M175.5 87v2M181.5 94v1M186.5 96v1M186.5 99v1M190.5 82v2M191.5 79v4M195.5 97v1M197.5 81v1M201.5 89v1M202.5 84v2M202.5 94v1M202.5 98v1M203.5 86v1M204.5 87v1M204.5 91v1M207.5 89v1M207.5 97v1M208.5 89v1M209.5 92v2M209.5 95v2"/><path stroke="#8f4115" d="M167.5 74v2M172.5 73v1M174.5 79v2M175.5 86v1M180.5 72v2M186.5 105v1M189.5 103v1M190.5 81v1M191.5 83v1M194.5 79v1M195.5 79v1M195.5 94v1M197.5 82v1M197.5 88v3M202.5 83v1M202.5 86v2M203.5 84v2M203.5 90v1M204.5 80v1M206.5 92v1M207.5 84v1M207.5 96v1M209.5 89v1M209.5 91v1"/><path stroke="#893913" d="M167.5 73v1M167.5 76v1M168.5 73v1M170.5 75v1M170.5 80v1M172.5 74v1M174.5 78v1M174.5 81v1M175.5 80v1M175.5 85v1M177.5 72v1M177.5 81v5M178.5 92v1M180.5 71v1M180.5 74v1M181.5 76v2M184.5 73v2M186.5 95v1M186.5 100v1M186.5 104v1M189.5 83v1M189.5 102v1M189.5 104v1M190.5 84v1M190.5 109v1M191.5 78v1M191.5 84v1M192.5 74v2M193.5 93v2M195.5 98v1M197.5 91v2M197.5 98v3M198.5 88v1M199.5 81v1M199.5 86v2M200.5 84v2M200.5 91v2M201.5 94v1M202.5 88v1M202.5 93v1M203.5 82v2M204.5 81v1M204.5 86v1M205.5 93v2M206.5 98v1M207.5 90v1M207.5 95v1M209.5 90v1M210.5 92v2"/><path stroke="#833110" d="M167.5 77v3M170.5 76v2M171.5 79v1M172.5 75v1M172.5 82v2M174.5 77v1M175.5 79v1M175.5 81v1M177.5 80v1M177.5 86v1M179.5 84v1M180.5 70v1M180.5 75v1M181.5 75v1M181.5 93v1M182.5 100v1M184.5 75v1M186.5 101v1M189.5 68v1M189.5 82v1M189.5 84v1M189.5 105v1M190.5 80v1M191.5 85v1M193.5 85v1M193.5 92v1M193.5 95v1M193.5 102v1M194.5 80v1M195.5 99v1M197.5 83v1M197.5 87v1M197.5 93v2M197.5 97v1M197.5 101v1M198.5 82v2M198.5 87v1M198.5 89v2M199.5 85v1M200.5 83v1M200.5 86v1M200.5 93v1M201.5 80v2M201.5 88v1M201.5 95v1M202.5 82v1M202.5 99v1M203.5 80v2M203.5 91v1M203.5 97v3M204.5 82v1M204.5 85v1M204.5 92v1M205.5 82v3M205.5 92v1M205.5 95v1M206.5 93v1M207.5 83v1M207.5 94v1M208.5 90v1M210.5 91v1"/><path stroke="#7e2a0e" d="M170.5 78v2M171.5 78v1M171.5 80v2M171.5 83v2M172.5 76v1M172.5 84v1M174.5 76v1M174.5 87v1M175.5 72v1M175.5 82v3M177.5 73v1M177.5 78v2M177.5 87v4M178.5 76v2M178.5 91v1M179.5 83v1M179.5 85v1M180.5 84v2M180.5 91v2M181.5 78v1M181.5 92v1M182.5 99v1M183.5 69v1M184.5 72v1M184.5 76v6M184.5 92v1M185.5 74v3M185.5 97v1M186.5 75v1M186.5 94v1M186.5 102v2M187.5 84v1M187.5 106v1M188.5 71v2M188.5 105v3M189.5 69v1M189.5 81v1M189.5 85v1M189.5 101v1M189.5 106v1M190.5 76v2M190.5 79v1M190.5 85v1M190.5 108v1M191.5 77v1M191.5 86v1M191.5 90v2M192.5 76v1M192.5 108v2M193.5 86v1M193.5 91v1M193.5 96v1M193.5 101v1M193.5 103v3M194.5 81v1M195.5 80v1M195.5 93v1M195.5 100v3M197.5 84v3M197.5 95v2M197.5 102v1M198.5 81v1M198.5 84v3M199.5 82v1M199.5 88v1M200.5 80v3M200.5 87v1M200.5 90v1M201.5 82v2M201.5 96v4M202.5 81v1M202.5 89v1M202.5 92v1M203.5 92v1M203.5 95v2M204.5 83v2M205.5 80v2M205.5 85v1M205.5 91v1M205.5 96v1M206.5 94v1M206.5 97v1"/><path stroke="#77240c" d="M166.5 73v1M171.5 77v1M171.5 82v1M172.5 81v1M172.5 85v1M173.5 73v1M174.5 75v1M174.5 82v1M174.5 86v1M175.5 73v1M175.5 78v1M176.5 72v4M176.5 87v1M177.5 74v1M177.5 77v1M177.5 91v1M178.5 75v1M178.5 78v2M179.5 71v1M179.5 75v2M179.5 86v1M180.5 76v1M180.5 83v1M180.5 89v2M180.5 93v3M181.5 72v3M181.5 89v3M182.5 92v7M183.5 80v5M184.5 82v1M184.5 91v1M184.5 93v1M185.5 72v2M185.5 77v1M185.5 96v1M185.5 98v1M186.5 74v1M186.5 76v1M186.5 90v4M187.5 83v1M187.5 85v1M187.5 94v1M187.5 105v1M188.5 70v1M188.5 73v1M188.5 78v2M188.5 84v2M188.5 104v1M189.5 70v1M190.5 71v1M190.5 78v1M190.5 107v1M191.5 87v3M191.5 92v1M192.5 77v2M192.5 92v2M192.5 107v1M193.5 84v1M193.5 87v1M193.5 100v1M193.5 106v2M194.5 82v2M194.5 94v1M194.5 108v1M196.5 80v1M196.5 82v2M198.5 91v1M199.5 83v2M200.5 88v2M200.5 94v1M201.5 100v2M202.5 80v1M202.5 90v2M202.5 100v1M203.5 93v2M204.5 93v1M205.5 86v1M205.5 90v1M205.5 97v2M206.5 95v2M207.5 82v1M207.5 91v1M207.5 93v1M208.5 91v1M208.5 95v3"/><path stroke="#70200a" d="M165.5 74v2M166.5 74v1M168.5 74v1M171.5 76v1M172.5 77v1M172.5 80v1M174.5 74v1M175.5 74v1M176.5 86v1M176.5 88v1M177.5 75v2M178.5 71v1M178.5 74v1M178.5 80v1M178.5 90v1M179.5 72v3M179.5 77v3M179.5 81v2M180.5 86v3M180.5 96v1M181.5 70v2M181.5 88v1M182.5 69v1M182.5 91v1M183.5 70v1M183.5 72v4M183.5 79v1M183.5 85v1M183.5 102v1M184.5 71v1M184.5 83v1M184.5 99v2M185.5 78v1M185.5 81v3M185.5 89v1M185.5 95v1M185.5 99v1M186.5 73v1M186.5 77v1M186.5 89v1M187.5 77v2M187.5 82v1M187.5 93v1M187.5 95v1M187.5 104v1M188.5 69v1M188.5 74v1M188.5 77v1M188.5 80v1M188.5 83v1M188.5 103v1M189.5 80v1M189.5 86v1M189.5 100v1M189.5 107v2M190.5 75v1M190.5 86v1M190.5 105v2M191.5 76v1M191.5 93v1M192.5 79v3M192.5 91v1M192.5 94v1M192.5 102v5M193.5 90v1M193.5 97v1M193.5 108v1M194.5 84v1M194.5 93v1M194.5 95v1M195.5 81v1M195.5 87v1M195.5 103v1M196.5 81v1M196.5 89v4M196.5 99v3M197.5 103v1M198.5 92v2M198.5 100v1M199.5 89v1M199.5 94v3M200.5 99v1M201.5 84v1M201.5 87v1M201.5 102v1M204.5 94v1M205.5 87v3M207.5 81v1M207.5 92v1M208.5 93v2"/><path stroke="#691b09" d="M166.5 75v3M168.5 75v1M169.5 74v9M172.5 78v2M173.5 74v1M173.5 78v4M174.5 73v1M174.5 83v1M175.5 77v1M176.5 76v1M176.5 85v1M178.5 72v2M178.5 81v1M179.5 80v1M179.5 87v1M180.5 77v1M180.5 82v1M181.5 79v1M181.5 86v2M182.5 70v1M182.5 77v3M183.5 71v1M183.5 76v3M183.5 86v1M183.5 92v2M184.5 84v1M184.5 94v1M184.5 101v3M185.5 67v1M185.5 71v1M185.5 79v2M185.5 88v1M185.5 90v1M185.5 100v1M185.5 103v2M186.5 69v4M186.5 78v4M187.5 76v1M187.5 79v1M187.5 81v1M187.5 86v1M187.5 92v1M188.5 75v2M188.5 81v2M188.5 86v1M188.5 102v1M189.5 71v1M189.5 89v4M190.5 87v2M190.5 104v1M191.5 75v1M191.5 97v3M192.5 82v2M192.5 95v1M192.5 101v1M193.5 83v1M193.5 88v2M193.5 98v2M194.5 85v1M194.5 92v1M194.5 96v1M194.5 107v1M195.5 82v5M195.5 88v1M195.5 92v1M195.5 104v1M196.5 84v1M196.5 88v1M196.5 93v1M196.5 98v1M196.5 102v6M197.5 104v1M198.5 94v1M198.5 99v1M198.5 101v1M198.5 105v2M199.5 90v1M199.5 93v1M199.5 97v1M199.5 105v1M200.5 98v1M201.5 85v2M204.5 99v1M208.5 92v1"/><path stroke="#601507" d="M168.5 76v1M171.5 75v1M173.5 75v1M173.5 77v1M173.5 82v3M173.5 86v1M174.5 85v1M175.5 75v2M176.5 89v1M178.5 82v1M178.5 89v1M179.5 91v4M181.5 85v1M182.5 71v1M182.5 76v1M182.5 80v2M183.5 94v1M184.5 68v3M184.5 85v1M184.5 90v1M184.5 98v1M185.5 84v1M185.5 101v2M186.5 68v1M186.5 82v1M186.5 88v1M187.5 75v1M187.5 80v1M187.5 91v1M187.5 96v1M187.5 103v1M188.5 68v1M188.5 92v2M188.5 100v2M189.5 79v1M189.5 87v2M189.5 93v1M189.5 99v1M190.5 74v1M190.5 89v1M190.5 103v1M191.5 74v1M191.5 94v3M191.5 100v1M191.5 107v3M192.5 84v1M192.5 90v1M192.5 96v1M192.5 100v1M193.5 77v1M194.5 86v1M194.5 97v1M194.5 106v1M195.5 105v1M196.5 85v3M196.5 94v4M197.5 105v1M197.5 107v1M198.5 95v4M198.5 102v3M199.5 91v2M199.5 104v1M200.5 95v3M200.5 100v1M200.5 104v1M204.5 95v1"/><path stroke="#581105" d="M168.5 77v1M168.5 81v1M171.5 74v1M173.5 76v1M173.5 85v1M174.5 84v1M176.5 77v1M176.5 84v1M178.5 83v1M179.5 88v3M180.5 78v1M180.5 81v1M181.5 84v1M182.5 72v1M182.5 82v1M182.5 90v1M183.5 87v1M183.5 91v1M183.5 95v1M183.5 101v1M184.5 86v1M184.5 95v1M184.5 97v1M185.5 68v1M185.5 70v1M185.5 85v1M185.5 87v1M185.5 94v1M186.5 67v1M186.5 83v1M187.5 67v4M187.5 74v1M187.5 87v1M187.5 90v1M187.5 101v2M188.5 67v1M188.5 87v1M188.5 91v1M188.5 94v1M188.5 99v1M189.5 78v1M189.5 94v1M190.5 72v1M190.5 90v1M191.5 101v1M191.5 106v1M192.5 85v2M192.5 89v1M194.5 87v1M194.5 91v1M194.5 98v1M194.5 103v3M195.5 89v1M195.5 91v1M195.5 106v2M197.5 106v1M204.5 96v3"/><path stroke="#510f04" d="M168.5 78v1M168.5 80v1M176.5 78v6M178.5 84v1M178.5 88v1M180.5 79v2M181.5 80v1M181.5 83v1M182.5 73v3M182.5 83v1M183.5 88v3M184.5 87v3M184.5 96v1M185.5 69v1M185.5 86v1M185.5 91v1M186.5 84v1M186.5 87v1M187.5 71v3M187.5 88v2M187.5 97v1M187.5 99v2M188.5 90v1M188.5 95v1M188.5 98v1M189.5 72v1M189.5 77v1M189.5 98v1M190.5 73v1M190.5 97v3M190.5 102v1M191.5 102v4M192.5 87v2M192.5 97v3M193.5 82v1M194.5 88v3M194.5 99v4M195.5 90v1M195.5 108v1M199.5 98v1M199.5 103v1M200.5 101v1M200.5 103v1"/><path stroke="#4b0d04" d="M168.5 79v1M178.5 85v1M182.5 84v1M182.5 89v1M183.5 96v1M183.5 100v1M185.5 92v2M186.5 85v2M187.5 98v1M188.5 88v2M188.5 96v2M189.5 73v1M189.5 76v1M189.5 95v3M190.5 91v1M190.5 96v1M190.5 100v2M193.5 78v1M199.5 102v1M200.5 102v1"/><path stroke="#440b03" d="M178.5 86v2M181.5 81v2M182.5 85v4M183.5 97v3M189.5 74v2M190.5 92v1M190.5 95v1M199.5 99v1M199.5 101v1"/><path stroke="#3d0902" d="M190.5 93v2M193.5 79v1M193.5 81v1M199.5 100v1"/><path stroke="#380701" d="M193.5 80v1"/></g><g fill="none" stroke-width="1"><path stroke="#f4ecc8" d="M502.5 93v1M505.5 97v1"/><path stroke="#f1e7bc" d="M507.5 91v1"/><path stroke="#efe3b1" d="M459.5 82v1M464.5 87v1M499.5 93v1M501.5 90v1"/><path stroke="#eddea6" d="M457.5 85v1M487.5 91v1M492.5 90v1M496.5 74v1M496.5 92v1M497.5 92v1M501.5 98v1M506.5 92v1M513.5 86v1M517.5 89v1M518.5 92v1"/><path stroke="#ebda9b" d="M450.5 83v1M452.5 87v1M454.5 80v1M464.5 84v1M466.5 80v1M489.5 95v1M490.5 78v1M495.5 106v1M498.5 95v1M505.5 91v1M511.5 84v1M511.5 98v1M513.5 85v1M518.5 97v1M521.5 86v1"/><path stroke="#e8d590" d="M452.5 88v1M456.5 84v1M458.5 75v1M482.5 74v1M489.5 77v1M490.5 92v1M492.5 80v1M498.5 91v1M510.5 83v1M510.5 88v1M511.5 88v1M511.5 97v1M511.5 99v1M512.5 84v2M513.5 94v1M514.5 92v1M515.5 87v1M515.5 101v1M518.5 90v1"/><path stroke="#e6d185" d="M454.5 82v1M461.5 88v1M464.5 77v1M470.5 82v1M476.5 87v1M488.5 95v1M489.5 104v1M491.5 95v1M491.5 111v1M493.5 89v1M495.5 83v1M495.5 99v1M496.5 98v1M499.5 97v1M502.5 78v1M507.5 93v1M509.5 104v1M510.5 72v1M510.5 97v1M514.5 80v1M514.5 107v1M520.5 88v1M521.5 112v1M530.5 109v1"/><path stroke="#e4cc7a" d="M450.5 77v1M454.5 88v1M460.5 78v1M465.5 116v1M477.5 77v1M478.5 79v1M479.5 83v1M485.5 84v1M486.5 100v1M487.5 78v1M490.5 79v1M490.5 97v1M492.5 82v1M493.5 106v1M494.5 91v1M495.5 75v1M498.5 100v1M503.5 79v1M507.5 92v1M507.5 94v1M508.5 75v1M511.5 106v1M512.5 73v1M512.5 75v1M514.5 86v1M516.5 85v1M525.5 80v1M536.5 90v1M546.5 106v1"/><path stroke="#e0c56f" d="M460.5 80v1M490.5 84v1M492.5 94v2M494.5 92v1M495.5 87v1M499.5 83v1M500.5 80v1M501.5 93v2M502.5 92v1M504.5 90v1M505.5 82v1M511.5 93v1M511.5 103v1M513.5 89v2M516.5 107v1M525.5 105v1M526.5 95v1M527.5 95v1M531.5 109v1M534.5 102v1M534.5 111v1M536.5 99v1M541.5 102v1"/><path stroke="#dbbd64" d="M442.5 77v1M445.5 75v1M450.5 87v1M458.5 78v1M460.5 83v1M465.5 88v1M468.5 87v1M470.5 85v1M471.5 90v1M471.5 101v1M475.5 90v1M479.5 115v1M481.5 86v1M481.5 110v1M482.5 93v1M484.5 76v1M486.5 80v1M487.5 92v2M491.5 86v2M491.5 109v1M492.5 93v1M492.5 96v1M493.5 75v1M493.5 95v3M494.5 100v1M498.5 109v1M499.5 92v1M499.5 102v1M500.5 82v1M501.5 92v1M502.5 94v2M502.5 110v1M504.5 91v1M504.5 110v1M505.5 98v1M505.5 107v1M507.5 95v1M512.5 90v1M514.5 85v1M514.5 87v1M514.5 103v1M515.5 110v1M517.5 92v2M517.5 99v1M522.5 105v1M526.5 89v1M526.5 102v1M526.5 108v1M527.5 80v1M527.5 94v1M534.5 75v1M535.5 109v1M539.5 100v1M547.5 110v1"/><path stroke="#d6b45a" d="M457.5 83v2M458.5 86v2M459.5 83v2M459.5 87v1M460.5 87v1M460.5 92v1M462.5 77v1M463.5 84v1M463.5 89v2M464.5 86v1M467.5 116v1M469.5 99v1M470.5 84v1M470.5 86v1M472.5 87v1M473.5 87v2M477.5 86v1M477.5 110v1M482.5 100v1M483.5 92v1M483.5 109v1M489.5 99v1M489.5 101v1M492.5 91v2M492.5 97v2M493.5 94v1M496.5 79v1M497.5 89v1M499.5 106v1M501.5 95v3M502.5 91v1M502.5 96v1M503.5 74v1M503.5 87v1M503.5 94v2M504.5 89v1M505.5 102v1M509.5 81v1M510.5 74v1M510.5 92v1M510.5 103v1M512.5 89v1M513.5 88v1M513.5 91v1M514.5 104v1M515.5 96v1M515.5 103v1M516.5 99v1M516.5 111v1M517.5 88v1M518.5 95v1M519.5 87v2M520.5 102v1M520.5 107v1M522.5 112v1M524.5 104v1M525.5 88v1M525.5 109v1M528.5 73v1M529.5 80v1M529.5 85v1M531.5 111v1M535.5 92v1M535.5 111v1M537.5 70v1M553.5 81v1"/><path stroke="#d2ac4f" d="M409.5 80v1M447.5 82v1M447.5 89v1M451.5 75v1M451.5 77v1M454.5 85v2M457.5 82v1M458.5 85v1M458.5 88v1M459.5 71v1M459.5 81v1M459.5 86v1M459.5 120v1M460.5 82v1M460.5 84v1M460.5 86v1M460.5 116v1M463.5 82v2M463.5 85v1M464.5 81v1M464.5 85v1M467.5 90v1M467.5 117v1M468.5 110v1M469.5 77v1M469.5 81v2M472.5 86v1M473.5 77v1M473.5 86v1M474.5 85v1M475.5 85v1M477.5 87v1M477.5 114v1M480.5 75v1M483.5 87v1M484.5 98v1M485.5 72v2M487.5 94v1M487.5 101v2M487.5 111v1M489.5 96v1M490.5 101v1M493.5 76v1M493.5 93v1M493.5 98v1M496.5 75v1M496.5 84v1M497.5 93v2M499.5 90v1M499.5 104v1M500.5 89v3M500.5 93v1M501.5 89v1M501.5 91v1M501.5 101v1M502.5 88v1M503.5 88v1M503.5 96v1M504.5 75v1M504.5 92v1M504.5 97v2M504.5 114v1M505.5 89v2M506.5 90v2M507.5 103v1M508.5 84v1M508.5 87v2M510.5 73v1M510.5 75v1M510.5 93v1M511.5 83v1M512.5 88v1M513.5 103v1M514.5 88v1M515.5 76v1M515.5 95v1M515.5 97v1M516.5 100v1M517.5 84v2M517.5 87v1M517.5 91v1M517.5 94v1M518.5 87v2M518.5 96v1M518.5 106v1M519.5 86v1M519.5 89v1M519.5 94v1M519.5 103v1M520.5 92v1M521.5 100v1M521.5 107v1M523.5 88v1M526.5 105v1M528.5 105v1M530.5 86v1M531.5 90v1M533.5 82v1M535.5 94v1M539.5 98v1M541.5 67v1M548.5 104v1"/><path stroke="#cea444" d="M416.5 80v1M441.5 84v1M442.5 79v1M445.5 79v1M450.5 82v1M450.5 94v1M451.5 76v1M451.5 78v1M452.5 86v1M453.5 82v1M454.5 84v1M454.5 87v1M456.5 79v2M457.5 81v1M459.5 80v1M459.5 85v1M459.5 90v1M459.5 93v1M460.5 85v1M460.5 88v1M461.5 108v1M462.5 82v1M463.5 86v1M463.5 88v1M463.5 91v1M463.5 94v1M463.5 117v1M464.5 79v2M464.5 82v2M464.5 88v1M466.5 92v2M469.5 78v3M469.5 83v1M469.5 109v1M470.5 87v1M472.5 77v1M472.5 85v1M472.5 88v1M473.5 78v1M474.5 82v3M474.5 86v1M474.5 116v1M475.5 84v1M475.5 86v1M476.5 85v2M477.5 79v1M478.5 85v2M479.5 113v1M481.5 102v1M484.5 80v2M487.5 82v1M487.5 95v1M488.5 88v2M488.5 92v2M489.5 97v1M491.5 76v1M492.5 99v1M493.5 92v1M494.5 85v1M495.5 90v2M496.5 91v1M496.5 93v1M497.5 96v2M497.5 110v1M498.5 94v1M499.5 91v1M499.5 94v1M500.5 71v4M500.5 97v1M501.5 88v1M501.5 99v2M502.5 89v2M502.5 97v1M503.5 76v1M503.5 86v1M503.5 89v1M503.5 93v1M503.5 97v1M504.5 76v1M504.5 93v1M505.5 88v1M505.5 96v1M505.5 99v1M506.5 89v1M506.5 93v2M507.5 80v1M507.5 87v4M507.5 96v1M508.5 85v2M508.5 89v2M509.5 85v2M509.5 100v1M509.5 102v1M510.5 84v1M511.5 82v1M511.5 87v1M511.5 90v2M512.5 86v2M512.5 91v1M512.5 94v1M513.5 81v2M513.5 84v1M513.5 92v1M514.5 84v1M514.5 94v2M515.5 98v3M517.5 86v1M517.5 90v1M517.5 95v1M518.5 83v4M518.5 89v1M518.5 91v1M518.5 93v2M519.5 90v4M519.5 95v1M520.5 81v2M520.5 86v1M520.5 91v1M520.5 93v1M521.5 85v1M521.5 87v1M521.5 93v2M524.5 84v1M525.5 107v1M528.5 89v1M528.5 96v1M528.5 100v1M531.5 97v1M535.5 87v1M535.5 96v1M546.5 70v1M547.5 114v1M548.5 109v1"/><path stroke="#c99b39" d="M418.5 80v1M436.5 79v1M438.5 84v1M443.5 86v1M450.5 80v2M450.5 84v1M451.5 83v1M451.5 85v1M452.5 76v2M452.5 85v1M453.5 83v1M454.5 75v1M454.5 83v1M455.5 78v2M455.5 83v2M455.5 89v1M456.5 81v3M456.5 85v2M456.5 120v1M457.5 80v1M458.5 74v1M458.5 84v1M461.5 110v1M462.5 83v1M462.5 89v1M463.5 81v1M463.5 87v1M464.5 78v1M464.5 92v1M465.5 94v1M466.5 79v1M466.5 81v1M467.5 113v1M468.5 77v5M468.5 98v1M469.5 84v1M469.5 115v2M470.5 83v1M470.5 88v2M471.5 83v4M471.5 115v1M472.5 78v2M473.5 79v1M473.5 89v1M474.5 106v1M475.5 83v1M476.5 94v1M477.5 78v1M477.5 80v1M477.5 85v1M477.5 88v1M477.5 106v1M478.5 84v1M478.5 87v1M480.5 93v2M480.5 104v1M481.5 90v1M481.5 97v1M482.5 75v1M483.5 79v1M484.5 82v1M485.5 75v1M486.5 94v5M487.5 81v1M487.5 83v1M487.5 88v3M487.5 96v1M488.5 90v2M488.5 94v1M489.5 78v1M490.5 76v2M490.5 91v1M490.5 94v2M491.5 94v1M491.5 112v1M493.5 90v2M493.5 99v1M494.5 84v1M494.5 96v1M494.5 110v1M495.5 101v2M496.5 96v2M497.5 76v1M497.5 78v1M497.5 91v1M497.5 98v5M497.5 111v1M498.5 75v1M498.5 89v1M498.5 92v2M499.5 89v1M499.5 99v2M500.5 92v1M500.5 94v1M500.5 96v1M500.5 98v4M501.5 87v1M501.5 102v1M501.5 107v1M502.5 74v1M502.5 98v1M503.5 84v2M503.5 90v3M504.5 88v1M504.5 96v1M504.5 99v1M506.5 95v3M506.5 102v1M507.5 86v1M508.5 91v1M508.5 94v2M509.5 84v1M509.5 87v1M509.5 94v2M509.5 103v1M510.5 87v1M510.5 91v1M510.5 94v1M511.5 81v1M511.5 89v1M511.5 96v1M512.5 82v1M513.5 80v1M513.5 83v1M513.5 87v1M513.5 93v1M514.5 89v1M514.5 93v1M514.5 97v1M515.5 75v1M515.5 82v2M515.5 88v3M516.5 94v4M517.5 83v1M518.5 82v1M518.5 98v1M519.5 81v2M519.5 85v1M519.5 98v1M520.5 83v3M520.5 87v1M520.5 90v1M520.5 94v1M521.5 82v3M521.5 88v1M522.5 83v3M522.5 90v4M523.5 80v1M524.5 77v1M524.5 90v1M525.5 106v1M528.5 76v1M528.5 107v1M530.5 73v1M537.5 104v1M538.5 98v1M542.5 108v1M544.5 75v1M545.5 74v1M546.5 68v1M551.5 78v2"/><path stroke="#c5932e" d="M443.5 77v2M444.5 81v1M448.5 82v2M449.5 84v1M450.5 75v1M450.5 79v1M450.5 85v1M451.5 79v1M451.5 87v2M452.5 78v1M452.5 81v4M452.5 89v1M453.5 81v1M453.5 84v1M454.5 74v1M454.5 81v1M455.5 77v1M455.5 80v3M455.5 85v1M455.5 88v1M456.5 78v1M456.5 87v1M457.5 86v1M457.5 89v1M458.5 80v2M458.5 89v1M459.5 72v1M459.5 79v1M459.5 88v1M460.5 81v1M460.5 89v1M461.5 79v5M462.5 81v1M462.5 88v1M462.5 90v1M462.5 115v1M463.5 76v1M464.5 76v1M464.5 99v1M464.5 105v1M465.5 82v2M465.5 107v1M465.5 117v1M466.5 78v1M466.5 85v3M467.5 81v2M468.5 82v1M471.5 81v2M471.5 87v1M472.5 74v3M472.5 80v1M472.5 84v1M472.5 89v2M472.5 98v1M473.5 80v2M473.5 85v1M474.5 81v1M474.5 90v2M474.5 103v1M474.5 108v1M475.5 80v3M475.5 87v1M476.5 77v1M478.5 77v2M478.5 83v1M479.5 84v1M480.5 74v1M480.5 76v1M480.5 88v1M480.5 95v1M480.5 115v1M481.5 108v1M482.5 77v2M483.5 78v1M483.5 95v1M484.5 79v1M484.5 91v1M485.5 98v1M486.5 93v1M486.5 99v1M487.5 80v1M487.5 84v2M487.5 87v1M487.5 97v1M488.5 87v1M488.5 96v1M489.5 76v1M489.5 91v4M489.5 105v1M490.5 83v1M490.5 90v1M490.5 93v1M490.5 96v1M491.5 75v1M491.5 77v2M491.5 93v1M491.5 96v4M491.5 113v1M492.5 79v1M492.5 81v1M492.5 112v1M493.5 110v2M494.5 95v1M494.5 97v1M494.5 109v1M494.5 111v1M495.5 81v2M495.5 84v1M495.5 89v1M495.5 92v1M495.5 100v1M495.5 105v1M495.5 107v1M496.5 76v1M496.5 82v1M496.5 89v1M496.5 94v2M497.5 103v1M498.5 96v1M498.5 98v2M499.5 74v1M499.5 95v2M499.5 98v1M500.5 87v1M500.5 95v1M500.5 108v1M501.5 78v2M501.5 108v1M502.5 86v1M502.5 99v3M503.5 83v1M503.5 98v1M503.5 101v2M504.5 95v1M505.5 92v1M506.5 88v1M506.5 101v1M506.5 103v1M507.5 74v1M507.5 83v3M508.5 83v1M508.5 92v2M508.5 96v1M509.5 74v1M509.5 83v1M509.5 96v1M509.5 99v1M509.5 101v1M510.5 86v1M510.5 89v1M511.5 80v1M511.5 85v2M511.5 92v1M511.5 105v1M512.5 74v1M512.5 81v1M512.5 83v1M512.5 98v3M513.5 95v1M514.5 79v1M514.5 81v1M514.5 83v1M514.5 90v2M514.5 98v1M515.5 84v3M515.5 91v1M515.5 94v1M516.5 83v2M516.5 93v1M517.5 96v1M518.5 81v1M518.5 99v2M519.5 80v1M519.5 96v2M519.5 99v1M520.5 112v1M521.5 81v1M521.5 89v1M521.5 92v1M521.5 95v1M521.5 111v1M522.5 82v1M522.5 86v1M522.5 89v1M522.5 94v1M523.5 73v1M523.5 93v1M524.5 83v1M525.5 108v1M527.5 98v3M528.5 109v1M529.5 87v1M530.5 84v1M530.5 97v1M530.5 108v1M537.5 105v1M540.5 107v1M541.5 72v1M544.5 98v1M545.5 99v1M550.5 111v1"/><path stroke="#c08927" d="M401.5 82v1M408.5 81v1M433.5 83v1M448.5 81v1M448.5 84v1M449.5 85v1M449.5 90v1M450.5 74v1M450.5 78v1M450.5 122v1M451.5 80v1M451.5 82v1M451.5 84v1M451.5 89v1M452.5 80v1M452.5 90v1M453.5 85v1M454.5 78v2M455.5 76v1M455.5 86v2M456.5 77v1M457.5 79v1M457.5 87v2M457.5 90v1M458.5 82v2M460.5 90v1M461.5 85v2M461.5 89v3M462.5 78v3M462.5 84v1M462.5 91v2M463.5 92v1M464.5 89v1M465.5 81v1M465.5 84v1M465.5 118v1M466.5 77v1M466.5 83v2M468.5 76v1M468.5 84v2M469.5 85v1M469.5 90v1M470.5 80v2M470.5 90v1M470.5 108v1M471.5 80v1M471.5 88v1M472.5 81v3M472.5 91v1M473.5 82v1M474.5 87v1M474.5 89v1M475.5 79v1M475.5 114v2M476.5 78v2M477.5 76v1M478.5 76v1M479.5 85v2M480.5 86v1M480.5 92v1M480.5 114v1M481.5 79v2M481.5 107v1M481.5 109v1M482.5 76v1M482.5 79v1M483.5 77v1M483.5 80v1M483.5 84v2M484.5 92v1M485.5 74v1M485.5 76v1M485.5 97v1M486.5 76v3M486.5 88v2M486.5 92v1M487.5 79v1M487.5 86v1M487.5 105v1M488.5 97v1M489.5 90v1M489.5 98v1M489.5 103v1M489.5 106v2M491.5 82v1M491.5 84v1M491.5 100v1M492.5 100v1M492.5 113v1M493.5 80v1M493.5 88v1M493.5 109v1M493.5 112v1M494.5 80v2M494.5 90v1M494.5 94v1M494.5 98v1M494.5 102v1M494.5 108v1M495.5 85v1M495.5 103v1M496.5 81v1M496.5 88v1M496.5 99v2M497.5 95v1M497.5 104v1M497.5 109v1M497.5 112v1M498.5 97v1M499.5 75v1M499.5 84v2M499.5 88v1M499.5 101v1M500.5 85v2M500.5 102v1M500.5 107v1M500.5 109v1M501.5 80v1M501.5 86v1M501.5 106v1M501.5 109v1M502.5 75v3M502.5 79v1M502.5 87v1M502.5 102v1M503.5 73v1M503.5 82v1M503.5 99v2M503.5 103v1M503.5 105v2M504.5 87v1M504.5 100v1M504.5 108v2M505.5 73v1M505.5 93v3M505.5 109v1M506.5 80v2M506.5 87v1M506.5 98v1M506.5 104v1M506.5 109v2M507.5 97v1M507.5 100v2M509.5 75v1M509.5 88v1M509.5 92v1M509.5 105v1M509.5 111v1M510.5 76v3M510.5 90v1M510.5 98v4M511.5 95v1M511.5 100v1M511.5 104v1M511.5 107v1M512.5 72v1M512.5 80v1M512.5 96v2M513.5 100v2M514.5 78v1M514.5 82v1M514.5 99v1M514.5 101v1M514.5 108v1M515.5 92v1M516.5 75v1M516.5 77v2M516.5 82v1M516.5 86v7M516.5 98v1M517.5 76v1M517.5 78v2M519.5 78v2M519.5 83v2M519.5 100v1M520.5 80v1M520.5 95v1M520.5 111v1M521.5 80v1M521.5 90v2M522.5 87v2M523.5 84v1M523.5 86v1M523.5 92v1M523.5 94v1M524.5 89v1M525.5 73v2M527.5 97v1M527.5 101v1M528.5 113v1M529.5 110v2M532.5 78v1M532.5 89v1M532.5 107v1M533.5 106v1M533.5 114v1M534.5 97v1M534.5 103v3M534.5 113v2M535.5 104v5M536.5 100v1M537.5 103v1M538.5 70v1M539.5 80v1M540.5 106v1M540.5 108v1M542.5 103v1M542.5 105v1M543.5 74v1M543.5 103v2M545.5 70v1M546.5 105v1M546.5 115v1"/><path stroke="#ba7d23" d="M391.5 83v1M394.5 85v1M420.5 84v1M427.5 98v1M428.5 81v1M432.5 112v1M433.5 76v1M433.5 82v1M438.5 125v1M446.5 88v1M446.5 101v1M448.5 85v1M449.5 75v1M449.5 83v1M450.5 76v1M450.5 86v1M451.5 81v1M451.5 94v1M453.5 77v2M453.5 80v1M453.5 86v5M454.5 76v1M454.5 89v1M456.5 76v1M457.5 91v1M458.5 76v1M458.5 79v1M458.5 90v1M459.5 75v1M459.5 78v1M460.5 76v2M460.5 79v1M460.5 91v1M461.5 78v1M461.5 92v1M462.5 87v1M462.5 93v1M463.5 77v1M465.5 80v1M465.5 85v2M466.5 88v1M467.5 79v1M467.5 83v4M468.5 86v1M469.5 89v1M470.5 79v1M471.5 79v1M471.5 89v1M471.5 107v1M472.5 92v1M473.5 84v1M473.5 90v1M474.5 88v1M474.5 92v1M474.5 114v1M475.5 77v2M475.5 113v1M476.5 76v1M476.5 113v2M477.5 81v1M477.5 84v1M477.5 89v1M478.5 82v1M479.5 102v1M480.5 85v1M481.5 75v4M481.5 93v2M481.5 114v1M482.5 80v1M482.5 108v2M483.5 76v1M483.5 86v1M484.5 78v1M484.5 84v1M484.5 89v1M485.5 77v1M485.5 90v5M485.5 96v1M485.5 99v1M486.5 75v1M486.5 79v1M486.5 85v2M486.5 90v2M486.5 101v1M487.5 76v2M487.5 98v2M487.5 106v2M488.5 77v2M488.5 98v1M488.5 102v1M488.5 104v2M489.5 79v1M489.5 89v1M489.5 102v1M489.5 108v1M490.5 89v1M490.5 98v1M491.5 85v1M491.5 89v3M492.5 83v1M492.5 88v2M492.5 108v3M493.5 74v1M493.5 87v1M493.5 105v1M493.5 107v2M494.5 79v1M494.5 89v1M494.5 93v1M494.5 101v1M494.5 103v1M494.5 107v1M495.5 73v2M495.5 76v1M495.5 80v1M495.5 86v1M495.5 88v1M495.5 93v1M495.5 98v1M495.5 104v1M495.5 111v2M496.5 77v1M496.5 83v1M496.5 90v1M496.5 102v1M497.5 90v1M498.5 88v1M498.5 90v1M498.5 107v2M499.5 82v1M499.5 86v1M500.5 75v1M500.5 78v2M500.5 83v2M500.5 88v1M500.5 110v1M501.5 77v1M501.5 103v1M502.5 103v1M503.5 80v2M503.5 104v1M503.5 108v2M504.5 81v2M504.5 85v2M504.5 107v1M505.5 78v4M505.5 100v1M505.5 108v1M505.5 110v3M506.5 79v1M506.5 82v1M506.5 86v1M506.5 99v2M506.5 105v1M507.5 82v1M507.5 99v1M507.5 102v1M507.5 110v3M508.5 76v1M508.5 81v2M508.5 97v2M508.5 103v2M508.5 112v1M509.5 82v1M509.5 93v1M509.5 97v2M509.5 109v2M509.5 112v1M510.5 82v1M510.5 85v1M510.5 105v1M510.5 107v3M511.5 75v4M511.5 101v1M511.5 108v2M512.5 71v1M512.5 76v1M512.5 101v1M512.5 105v2M513.5 75v2M513.5 79v1M513.5 96v1M513.5 99v1M514.5 96v1M514.5 100v1M514.5 102v1M514.5 106v1M514.5 111v2M515.5 81v1M515.5 93v1M515.5 102v1M516.5 76v1M516.5 79v3M516.5 106v1M517.5 77v1M517.5 80v1M518.5 80v1M518.5 101v1M518.5 112v1M519.5 77v1M520.5 96v1M520.5 113v1M521.5 74v1M521.5 110v1M521.5 113v1M522.5 111v1M523.5 83v1M523.5 91v1M523.5 108v1M524.5 91v1M524.5 106v1M524.5 109v3M525.5 78v2M525.5 81v3M526.5 96v1M526.5 113v1M527.5 85v2M527.5 96v1M527.5 105v1M528.5 112v1M529.5 100v1M529.5 109v1M529.5 112v1M530.5 113v2M531.5 108v1M532.5 106v1M532.5 108v1M533.5 105v1M533.5 107v1M533.5 113v1M534.5 106v1M534.5 112v1M535.5 98v2M535.5 103v1M536.5 89v1M536.5 101v2M537.5 106v3M538.5 76v1M538.5 101v1M539.5 69v1M539.5 91v1M539.5 101v7M540.5 109v3M541.5 101v1M543.5 105v1M544.5 103v1M544.5 110v2M546.5 108v2M549.5 78v1M550.5 82v1M550.5 104v1"/><path stroke="#b3721f" d="M396.5 87v1M402.5 88v1M404.5 87v1M407.5 88v1M414.5 81v1M418.5 92v1M419.5 110v1M424.5 117v1M428.5 86v1M429.5 86v1M432.5 88v1M436.5 85v2M437.5 84v2M439.5 92v1M441.5 89v1M442.5 75v1M443.5 76v1M443.5 79v1M443.5 88v1M445.5 77v1M445.5 83v3M446.5 78v1M447.5 94v2M448.5 75v1M448.5 78v3M449.5 78v2M449.5 86v1M450.5 92v1M450.5 105v1M451.5 86v1M451.5 90v1M451.5 122v1M452.5 91v1M453.5 76v1M453.5 79v1M454.5 77v1M454.5 90v1M455.5 90v1M456.5 88v1M457.5 92v1M458.5 77v1M458.5 116v1M459.5 73v2M460.5 74v1M461.5 77v1M461.5 84v1M461.5 115v2M462.5 75v1M462.5 85v2M463.5 78v1M463.5 80v1M464.5 90v1M465.5 76v1M465.5 78v2M465.5 87v1M466.5 76v1M466.5 82v1M467.5 80v1M467.5 87v1M468.5 83v1M468.5 88v3M468.5 113v1M468.5 116v1M469.5 86v1M469.5 88v1M469.5 117v1M470.5 77v2M470.5 91v1M470.5 103v1M472.5 93v1M473.5 83v1M473.5 91v1M473.5 109v5M474.5 80v1M474.5 115v1M475.5 88v2M475.5 91v2M475.5 116v1M476.5 80v1M476.5 112v1M476.5 115v1M477.5 82v1M477.5 90v2M478.5 80v2M478.5 88v1M478.5 109v1M479.5 82v1M479.5 88v1M480.5 77v1M480.5 90v2M480.5 96v1M480.5 113v1M481.5 83v3M481.5 87v1M481.5 113v1M481.5 115v1M482.5 84v2M482.5 92v1M482.5 99v1M482.5 107v1M483.5 83v1M483.5 90v2M483.5 98v3M483.5 108v1M484.5 83v1M484.5 90v1M484.5 93v1M485.5 78v1M485.5 83v1M485.5 85v1M485.5 100v1M485.5 110v2M486.5 81v4M487.5 74v2M488.5 82v1M488.5 99v3M488.5 103v1M488.5 112v2M490.5 85v2M490.5 88v1M490.5 99v1M490.5 107v2M491.5 74v1M491.5 80v2M491.5 83v1M491.5 101v1M491.5 108v1M491.5 114v1M492.5 78v1M492.5 84v2M492.5 101v1M492.5 107v1M493.5 78v1M493.5 81v1M493.5 86v1M494.5 75v1M494.5 78v1M494.5 82v1M494.5 87v2M494.5 99v1M494.5 104v3M494.5 112v1M495.5 77v3M495.5 94v4M495.5 113v1M496.5 80v1M496.5 87v1M496.5 103v2M497.5 84v1M497.5 113v1M498.5 84v2M498.5 101v1M498.5 106v1M499.5 76v1M499.5 81v1M499.5 87v1M499.5 107v2M500.5 77v1M500.5 81v1M500.5 103v1M500.5 106v1M501.5 85v1M501.5 105v1M501.5 110v1M501.5 113v1M502.5 80v1M502.5 85v1M502.5 111v2M503.5 78v1M504.5 83v2M504.5 94v1M504.5 101v1M504.5 106v1M504.5 111v2M505.5 74v4M505.5 83v1M505.5 86v2M505.5 101v1M506.5 73v1M506.5 76v3M506.5 108v1M506.5 111v1M507.5 75v3M507.5 98v1M507.5 108v2M508.5 80v1M508.5 99v1M508.5 110v1M509.5 91v1M509.5 108v1M510.5 71v1M510.5 79v1M510.5 95v2M510.5 102v1M510.5 104v1M510.5 110v4M511.5 94v1M511.5 102v1M512.5 95v1M512.5 102v3M512.5 107v2M513.5 73v1M513.5 77v2M513.5 97v2M513.5 102v1M513.5 113v1M514.5 73v1M514.5 109v1M515.5 77v1M515.5 108v2M516.5 104v2M516.5 108v3M517.5 81v1M517.5 97v1M517.5 100v1M518.5 77v3M518.5 104v1M518.5 113v1M519.5 101v1M519.5 107v1M519.5 109v1M520.5 79v1M520.5 97v1M520.5 101v1M520.5 104v2M520.5 110v1M521.5 75v1M521.5 79v1M521.5 96v1M521.5 104v1M522.5 81v1M522.5 95v1M522.5 101v4M522.5 110v1M523.5 82v1M523.5 85v1M523.5 87v1M523.5 90v1M523.5 106v2M523.5 109v1M524.5 82v1M524.5 85v2M524.5 105v1M524.5 107v2M524.5 113v1M525.5 72v1M525.5 77v1M525.5 84v1M525.5 89v1M525.5 113v2M526.5 75v1M526.5 97v1M526.5 101v1M526.5 114v1M527.5 74v1M527.5 84v1M527.5 87v1M527.5 106v1M527.5 112v2M528.5 114v1M529.5 84v1M530.5 104v1M530.5 107v1M530.5 110v1M530.5 112v1M531.5 99v1M531.5 105v3M531.5 110v1M531.5 112v1M532.5 109v2M532.5 112v1M533.5 108v1M534.5 80v1M534.5 107v1M534.5 110v1M536.5 103v1M536.5 108v2M537.5 87v1M537.5 97v6M537.5 109v1M538.5 102v5M539.5 108v1M539.5 112v1M541.5 95v1M542.5 102v1M542.5 104v1M542.5 106v1M544.5 68v1M544.5 102v1M544.5 104v1M544.5 109v1M544.5 112v1M545.5 97v1M546.5 104v1M546.5 107v1M546.5 114v1M548.5 76v1M548.5 113v2M549.5 109v2M550.5 92v1M551.5 83v1M560.5 105v1M576.5 112v1"/><path stroke="#ad661b" d="M394.5 81v2M395.5 85v1M404.5 84v1M414.5 84v1M417.5 97v1M418.5 86v1M421.5 82v1M424.5 116v1M425.5 105v1M426.5 98v1M431.5 82v1M431.5 121v1M432.5 94v1M432.5 110v1M434.5 90v1M437.5 86v1M439.5 121v1M442.5 72v1M442.5 76v1M442.5 78v1M442.5 83v1M443.5 87v1M445.5 74v1M445.5 76v1M445.5 78v1M445.5 82v1M445.5 86v1M446.5 77v1M446.5 79v1M447.5 75v1M447.5 83v1M448.5 76v2M448.5 86v1M448.5 93v1M449.5 76v2M449.5 80v3M449.5 111v1M450.5 88v1M450.5 93v1M451.5 111v1M452.5 79v1M452.5 100v1M453.5 91v1M453.5 107v1M454.5 91v1M455.5 91v1M457.5 78v1M457.5 93v3M457.5 114v1M458.5 111v1M458.5 119v1M459.5 76v2M459.5 89v1M461.5 76v1M461.5 87v1M461.5 117v1M462.5 76v1M462.5 94v1M463.5 79v1M463.5 93v1M465.5 77v1M465.5 89v1M465.5 115v1M466.5 89v1M466.5 116v2M467.5 88v1M467.5 100v1M467.5 110v2M467.5 115v1M468.5 91v1M468.5 111v2M468.5 115v1M469.5 87v1M469.5 91v1M469.5 93v1M469.5 100v1M469.5 107v1M469.5 111v1M469.5 113v2M470.5 117v1M471.5 77v2M471.5 100v1M472.5 94v1M472.5 114v1M474.5 112v1M475.5 106v1M476.5 83v2M476.5 88v1M476.5 110v2M476.5 116v1M477.5 83v1M477.5 99v1M477.5 109v1M478.5 110v1M479.5 74v2M479.5 87v1M479.5 114v1M480.5 84v1M480.5 87v1M480.5 89v1M481.5 82v1M481.5 88v1M481.5 92v1M481.5 95v1M481.5 112v1M482.5 81v1M482.5 83v1M482.5 86v1M482.5 91v1M482.5 97v2M482.5 110v1M483.5 81v1M483.5 89v1M483.5 97v1M483.5 101v1M483.5 107v1M484.5 77v1M484.5 108v1M485.5 79v1M485.5 89v1M485.5 109v1M485.5 114v1M486.5 87v1M486.5 102v1M486.5 106v1M486.5 109v2M487.5 100v1M487.5 103v1M487.5 108v1M488.5 79v1M488.5 81v1M488.5 83v1M488.5 86v1M488.5 106v1M488.5 111v1M489.5 82v2M489.5 88v1M489.5 109v1M490.5 80v3M490.5 106v1M490.5 109v5M491.5 79v1M491.5 88v1M491.5 92v1M491.5 102v1M491.5 107v1M492.5 76v1M492.5 86v2M492.5 102v1M492.5 111v1M493.5 79v1M493.5 104v1M493.5 113v1M494.5 76v2M494.5 86v1M495.5 108v1M495.5 110v1M496.5 78v1M496.5 86v1M496.5 101v1M496.5 105v1M497.5 85v2M497.5 105v1M497.5 108v1M498.5 76v1M498.5 87v1M498.5 102v1M498.5 110v1M498.5 113v1M500.5 76v1M500.5 111v1M501.5 76v1M501.5 81v1M501.5 111v2M501.5 114v1M502.5 104v4M502.5 109v1M502.5 113v1M503.5 110v1M504.5 74v1M504.5 79v1M504.5 102v4M504.5 113v1M505.5 84v2M505.5 106v1M505.5 113v1M506.5 74v1M506.5 85v1M506.5 106v1M506.5 112v1M507.5 78v1M507.5 81v1M507.5 107v1M507.5 113v1M508.5 77v1M508.5 105v2M508.5 108v2M508.5 113v1M509.5 89v2M509.5 106v2M509.5 113v1M510.5 80v2M511.5 79v1M511.5 110v1M512.5 77v1M512.5 79v1M512.5 92v1M512.5 109v1M513.5 74v1M513.5 105v1M513.5 112v1M514.5 77v1M514.5 105v1M514.5 110v1M514.5 113v1M515.5 78v1M515.5 80v1M515.5 107v1M515.5 111v1M516.5 103v1M517.5 82v1M517.5 98v1M517.5 101v1M517.5 110v2M518.5 102v2M518.5 105v1M519.5 102v1M519.5 110v1M520.5 89v1M520.5 98v3M520.5 106v1M520.5 108v2M521.5 97v3M521.5 103v1M521.5 105v1M522.5 100v1M522.5 106v2M522.5 109v1M523.5 95v1M523.5 105v1M523.5 114v1M524.5 81v1M524.5 87v2M524.5 114v1M525.5 75v2M525.5 85v1M525.5 90v1M525.5 112v1M526.5 74v1M526.5 76v1M526.5 83v1M526.5 88v1M526.5 90v1M526.5 94v1M526.5 98v1M526.5 107v1M526.5 109v1M526.5 112v1M527.5 75v1M527.5 79v1M527.5 81v1M527.5 83v1M527.5 88v6M527.5 102v1M527.5 104v1M527.5 107v5M527.5 114v1M528.5 79v1M528.5 86v1M528.5 97v1M529.5 81v2M529.5 113v1M530.5 101v3M530.5 105v2M531.5 73v1M531.5 85v2M531.5 113v1M532.5 96v2M532.5 105v1M532.5 113v1M533.5 72v2M533.5 83v2M533.5 104v1M533.5 112v1M534.5 76v1M534.5 108v2M535.5 93v1M535.5 97v1M535.5 110v1M536.5 91v1M536.5 98v1M536.5 104v1M537.5 82v1M537.5 110v3M538.5 107v1M538.5 111v1M539.5 70v1M539.5 73v2M539.5 96v1M539.5 99v1M539.5 109v1M539.5 111v1M539.5 113v1M540.5 74v1M540.5 101v2M540.5 105v1M541.5 68v2M541.5 91v1M541.5 108v2M543.5 102v1M544.5 105v1M544.5 113v1M545.5 90v1M546.5 110v1M547.5 109v1M548.5 83v1M548.5 87v1M548.5 102v2M549.5 111v1M550.5 91v1M553.5 80v1M558.5 89v1M564.5 104v1M565.5 110v1M568.5 106v1"/><path stroke="#a55a18" d="M390.5 83v1M394.5 83v1M396.5 86v1M397.5 95v1M401.5 80v1M403.5 82v1M408.5 91v1M409.5 98v1M411.5 83v1M413.5 109v1M416.5 110v1M420.5 102v1M422.5 91v1M426.5 110v1M426.5 115v1M428.5 121v1M436.5 87v1M437.5 83v1M438.5 76v1M439.5 76v1M439.5 83v3M439.5 120v1M440.5 76v1M440.5 88v1M441.5 75v1M441.5 111v1M442.5 73v2M442.5 84v1M442.5 94v1M443.5 89v1M444.5 94v1M444.5 96v1M445.5 81v1M446.5 74v1M446.5 76v1M446.5 84v2M447.5 84v1M447.5 88v1M447.5 114v1M448.5 87v1M449.5 87v1M450.5 91v1M456.5 89v7M456.5 99v1M457.5 76v2M458.5 110v1M459.5 115v2M459.5 119v1M460.5 75v1M460.5 96v2M460.5 115v1M460.5 117v2M461.5 100v1M461.5 114v1M461.5 118v2M462.5 118v2M463.5 119v1M464.5 91v1M464.5 103v1M464.5 118v1M465.5 90v1M466.5 90v2M466.5 118v1M467.5 78v1M467.5 89v1M467.5 91v1M468.5 92v1M468.5 103v1M468.5 117v1M469.5 92v1M469.5 98v1M469.5 106v1M469.5 110v1M469.5 112v1M470.5 115v2M471.5 102v1M471.5 112v2M472.5 95v1M472.5 113v1M472.5 115v1M472.5 117v1M473.5 92v1M473.5 97v1M473.5 108v1M473.5 114v1M474.5 79v1M474.5 93v1M474.5 113v1M475.5 93v1M475.5 104v2M475.5 107v1M475.5 112v1M476.5 82v1M476.5 104v1M476.5 109v1M477.5 92v1M477.5 111v2M478.5 89v1M478.5 107v1M478.5 116v1M479.5 81v1M479.5 89v1M479.5 93v2M479.5 105v1M479.5 110v1M479.5 116v1M480.5 78v1M480.5 110v3M481.5 101v1M481.5 106v1M481.5 111v1M482.5 82v1M482.5 87v4M482.5 94v3M483.5 82v1M483.5 93v1M483.5 102v2M483.5 106v1M483.5 110v1M484.5 86v3M484.5 97v1M484.5 107v1M484.5 109v1M484.5 114v2M485.5 80v3M485.5 86v1M485.5 88v1M485.5 95v1M485.5 101v1M485.5 108v1M485.5 112v2M486.5 105v1M486.5 107v2M486.5 111v1M487.5 104v1M487.5 110v1M488.5 80v1M488.5 107v4M488.5 114v1M489.5 80v2M489.5 84v4M489.5 100v1M489.5 111v3M490.5 105v1M490.5 114v1M492.5 77v1M493.5 82v1M493.5 85v1M493.5 100v2M495.5 109v1M496.5 106v1M496.5 113v1M497.5 80v3M498.5 83v1M498.5 103v1M499.5 77v1M499.5 80v1M499.5 103v1M499.5 113v1M500.5 104v2M500.5 112v3M501.5 84v1M501.5 104v1M502.5 108v1M502.5 114v1M503.5 75v1M503.5 77v1M503.5 107v1M503.5 111v1M504.5 78v1M506.5 83v1M506.5 107v1M506.5 113v1M507.5 79v1M507.5 106v1M507.5 114v1M508.5 78v2M508.5 100v1M508.5 102v1M508.5 107v1M508.5 111v1M509.5 76v1M509.5 114v1M510.5 106v1M510.5 114v1M512.5 78v1M513.5 104v1M513.5 106v1M513.5 111v1M515.5 79v1M515.5 112v2M516.5 102v1M517.5 102v1M517.5 104v6M519.5 106v1M519.5 108v1M519.5 111v3M520.5 78v1M521.5 73v1M521.5 78v1M521.5 106v1M521.5 108v2M522.5 75v1M522.5 79v2M522.5 108v1M523.5 74v1M523.5 81v1M523.5 89v1M523.5 102v3M523.5 110v1M523.5 113v1M524.5 92v1M525.5 96v1M525.5 104v1M526.5 84v1M526.5 91v1M526.5 99v1M526.5 103v1M526.5 106v1M527.5 76v1M527.5 78v1M527.5 82v1M527.5 103v1M528.5 80v1M528.5 85v1M528.5 87v1M528.5 90v3M528.5 99v1M528.5 101v1M528.5 106v1M528.5 111v1M529.5 104v2M529.5 108v1M530.5 80v1M530.5 87v1M531.5 91v1M531.5 98v1M531.5 100v1M531.5 104v1M531.5 114v1M532.5 95v1M532.5 98v1M533.5 76v1M533.5 109v3M534.5 74v1M535.5 88v1M535.5 91v1M535.5 100v1M535.5 102v1M535.5 112v1M536.5 88v1M536.5 105v1M536.5 107v1M536.5 111v1M537.5 71v2M537.5 96v1M538.5 71v1M538.5 99v2M538.5 108v1M538.5 110v1M538.5 112v1M539.5 71v2M539.5 75v1M539.5 97v1M539.5 110v1M540.5 71v1M540.5 73v1M540.5 75v1M540.5 100v1M540.5 103v1M540.5 113v1M541.5 75v1M541.5 100v1M541.5 103v1M541.5 107v1M541.5 110v1M542.5 107v1M543.5 106v1M543.5 110v2M544.5 88v2M544.5 106v1M544.5 108v1M545.5 106v5M547.5 94v1M547.5 106v3M547.5 111v1M547.5 115v1M548.5 101v1M548.5 111v2M548.5 115v1M550.5 108v2M553.5 79v1M555.5 101v1M560.5 94v1M562.5 105v1M562.5 113v1M571.5 113v1"/><path stroke="#9c4e16" d="M393.5 87v1M394.5 80v1M401.5 79v1M401.5 97v1M403.5 87v1M406.5 86v1M407.5 92v1M407.5 94v1M410.5 79v2M410.5 87v1M415.5 112v1M416.5 95v1M417.5 80v1M417.5 102v1M418.5 113v1M419.5 80v1M420.5 80v1M424.5 106v1M427.5 78v1M427.5 82v1M427.5 96v1M428.5 93v1M429.5 98v1M432.5 127v1M436.5 121v1M437.5 74v1M437.5 87v1M437.5 102v1M438.5 79v2M438.5 82v2M439.5 79v4M439.5 86v1M439.5 93v1M439.5 106v1M439.5 119v1M440.5 77v2M440.5 86v1M441.5 81v3M442.5 82v1M443.5 75v1M443.5 83v1M443.5 113v1M444.5 78v1M445.5 80v1M445.5 87v1M445.5 94v1M446.5 86v1M446.5 96v1M447.5 76v3M447.5 85v1M447.5 87v1M447.5 90v1M448.5 88v2M448.5 120v1M449.5 88v1M450.5 89v1M451.5 91v1M451.5 115v1M453.5 92v1M454.5 92v2M455.5 92v1M455.5 104v1M455.5 117v2M457.5 96v1M457.5 104v1M458.5 91v1M458.5 96v1M459.5 92v1M459.5 117v2M460.5 93v1M460.5 95v1M460.5 98v1M460.5 114v1M460.5 119v1M461.5 93v1M461.5 96v2M461.5 101v1M461.5 107v1M461.5 109v1M462.5 101v1M462.5 112v1M462.5 116v2M463.5 96v2M463.5 115v2M464.5 106v2M464.5 114v1M464.5 117v1M464.5 119v1M465.5 91v1M466.5 94v5M466.5 110v1M466.5 115v1M467.5 92v1M467.5 112v1M467.5 114v1M467.5 118v1M468.5 102v1M468.5 104v1M469.5 94v1M469.5 97v1M469.5 101v1M469.5 108v1M469.5 118v1M470.5 92v1M470.5 114v1M471.5 91v1M471.5 99v1M471.5 104v1M471.5 111v1M471.5 114v1M471.5 117v1M472.5 116v1M473.5 96v1M473.5 98v1M474.5 77v2M474.5 110v2M475.5 103v1M476.5 89v1M476.5 103v1M476.5 105v1M477.5 108v1M477.5 113v1M477.5 115v2M478.5 92v2M478.5 106v1M479.5 76v2M479.5 80v1M479.5 92v1M479.5 95v1M479.5 104v1M479.5 106v1M479.5 111v1M480.5 79v2M480.5 83v1M480.5 97v1M480.5 109v1M481.5 81v1M481.5 89v1M481.5 96v1M481.5 100v1M482.5 106v1M482.5 111v1M482.5 115v1M483.5 88v1M483.5 96v1M483.5 104v2M483.5 111v1M484.5 85v1M484.5 94v1M484.5 96v1M484.5 110v1M484.5 112v2M485.5 87v1M485.5 104v4M486.5 103v2M486.5 114v1M488.5 84v2M489.5 114v1M490.5 87v1M490.5 102v2M491.5 103v1M491.5 106v1M491.5 110v1M492.5 103v1M492.5 106v1M493.5 83v2M493.5 102v2M494.5 83v1M496.5 85v1M496.5 107v4M497.5 88v1M497.5 106v2M498.5 104v2M498.5 112v1M499.5 78v2M499.5 105v1M499.5 109v1M499.5 112v1M501.5 74v1M501.5 82v2M502.5 81v1M504.5 77v1M504.5 80v1M505.5 103v1M505.5 105v1M505.5 114v1M506.5 84v1M508.5 101v1M509.5 79v2M511.5 111v1M513.5 107v4M514.5 74v1M514.5 76v1M515.5 74v1M515.5 104v1M515.5 106v1M516.5 101v1M516.5 112v1M517.5 103v1M518.5 107v4M519.5 104v2M520.5 76v2M521.5 77v1M521.5 101v2M521.5 114v1M522.5 78v1M522.5 96v1M522.5 113v1M523.5 75v1M523.5 101v1M523.5 112v1M524.5 80v1M524.5 95v4M524.5 100v1M524.5 112v1M525.5 86v2M525.5 91v5M525.5 97v1M525.5 102v2M526.5 77v1M526.5 82v1M526.5 92v2M526.5 104v1M526.5 110v1M527.5 77v1M528.5 74v1M528.5 78v1M528.5 81v4M528.5 88v1M528.5 102v1M529.5 86v1M529.5 91v6M529.5 102v2M529.5 106v2M530.5 79v1M530.5 85v1M530.5 88v2M530.5 100v1M531.5 74v1M531.5 79v3M531.5 84v1M531.5 87v1M531.5 92v1M531.5 95v1M532.5 74v1M532.5 83v1M532.5 99v1M532.5 103v2M532.5 111v1M532.5 114v1M533.5 75v1M533.5 77v1M533.5 85v1M533.5 94v2M533.5 102v2M534.5 73v1M534.5 83v2M534.5 94v1M535.5 89v2M535.5 113v1M536.5 78v2M536.5 86v2M536.5 92v1M536.5 97v1M536.5 106v1M536.5 112v2M537.5 113v2M538.5 72v2M538.5 78v1M539.5 76v1M539.5 95v1M540.5 72v1M540.5 98v2M540.5 104v1M540.5 112v1M541.5 65v2M541.5 74v1M541.5 76v1M541.5 111v1M542.5 67v1M542.5 101v1M542.5 111v1M543.5 109v1M543.5 112v1M544.5 107v1M544.5 114v1M545.5 78v1M545.5 103v3M545.5 111v1M546.5 66v1M546.5 96v1M546.5 103v1M546.5 111v1M546.5 113v1M547.5 85v1M547.5 90v1M548.5 71v1M548.5 89v1M548.5 100v1M548.5 110v1M549.5 103v3M549.5 108v1M549.5 112v1M550.5 110v1M551.5 77v1M551.5 113v4M552.5 113v2M553.5 82v1M553.5 113v1M554.5 93v1M555.5 112v1M577.5 112v1"/><path stroke="#934115" d="M395.5 82v1M401.5 81v1M403.5 83v1M404.5 99v1M406.5 82v1M409.5 81v1M410.5 84v1M411.5 79v2M411.5 104v1M412.5 89v1M412.5 99v1M414.5 93v1M417.5 81v1M418.5 94v1M419.5 97v1M419.5 114v1M420.5 81v1M421.5 117v1M422.5 108v1M423.5 92v1M423.5 101v1M424.5 101v1M425.5 103v1M428.5 98v1M431.5 77v1M431.5 102v1M435.5 126v1M436.5 88v1M436.5 93v1M437.5 96v1M437.5 99v1M437.5 119v1M438.5 77v2M439.5 78v1M439.5 87v1M440.5 85v1M440.5 103v1M441.5 76v5M442.5 80v2M442.5 85v3M442.5 92v2M442.5 123v1M443.5 80v1M443.5 82v1M444.5 80v1M444.5 88v3M445.5 88v4M446.5 75v1M446.5 80v1M446.5 83v1M447.5 79v1M447.5 81v1M447.5 86v1M448.5 90v1M448.5 104v1M450.5 90v1M453.5 93v2M454.5 94v1M455.5 94v1M455.5 116v1M455.5 119v1M456.5 96v1M458.5 95v1M459.5 91v1M459.5 95v2M460.5 94v1M460.5 99v1M461.5 95v1M461.5 98v2M462.5 102v1M462.5 113v1M463.5 95v1M463.5 98v1M463.5 118v1M464.5 113v1M464.5 115v1M465.5 92v1M465.5 95v1M465.5 106v1M465.5 110v1M465.5 114v1M466.5 111v1M467.5 77v1M467.5 93v3M467.5 109v1M468.5 94v4M468.5 105v1M468.5 114v1M469.5 96v1M470.5 99v2M470.5 110v3M471.5 98v1M471.5 103v1M471.5 105v1M471.5 110v1M471.5 116v1M472.5 96v2M472.5 104v1M472.5 112v1M473.5 93v1M473.5 115v1M474.5 94v1M474.5 109v1M475.5 94v1M475.5 96v1M475.5 108v1M476.5 92v2M476.5 106v1M476.5 108v1M477.5 107v1M478.5 90v2M478.5 94v1M478.5 105v1M478.5 108v1M478.5 111v1M478.5 114v1M479.5 78v2M479.5 90v1M479.5 112v1M480.5 81v2M480.5 105v2M481.5 91v1M481.5 99v1M481.5 103v1M482.5 101v1M483.5 94v1M484.5 95v1M484.5 99v6M484.5 106v1M485.5 102v2M486.5 112v2M487.5 112v1M493.5 77v1M494.5 113v1M496.5 112v1M497.5 77v1M497.5 79v1M497.5 83v1M498.5 82v1M498.5 86v1M499.5 114v1M502.5 84v1M503.5 112v1M505.5 104v1M506.5 75v1M506.5 114v1M507.5 104v2M508.5 114v1M509.5 77v1M511.5 112v2M512.5 93v1M512.5 111v3M514.5 75v1M515.5 105v1M516.5 113v1M517.5 112v1M518.5 111v1M520.5 103v1M521.5 76v1M522.5 97v2M523.5 76v2M523.5 96v1M523.5 100v1M523.5 111v1M524.5 75v2M524.5 78v2M524.5 93v2M524.5 99v1M524.5 101v3M525.5 98v1M525.5 101v1M525.5 110v2M526.5 78v4M526.5 85v1M526.5 87v1M526.5 100v1M526.5 111v1M528.5 75v1M528.5 77v1M528.5 93v1M528.5 98v1M528.5 103v2M528.5 110v1M529.5 83v1M529.5 89v2M529.5 97v1M529.5 101v1M529.5 114v1M530.5 90v2M530.5 93v4M530.5 111v1M531.5 75v1M531.5 82v2M531.5 88v2M531.5 93v2M532.5 82v1M532.5 94v1M532.5 102v1M533.5 78v1M533.5 81v1M533.5 96v1M533.5 100v2M534.5 77v1M534.5 85v1M534.5 87v3M534.5 93v1M534.5 95v1M534.5 100v2M535.5 77v1M535.5 95v1M535.5 114v1M536.5 85v1M536.5 93v1M536.5 110v1M536.5 114v1M537.5 73v1M537.5 92v2M537.5 95v1M538.5 74v1M538.5 79v1M539.5 77v2M540.5 97v1M541.5 70v1M541.5 73v1M541.5 106v1M542.5 68v2M542.5 109v2M542.5 112v1M543.5 98v1M543.5 101v1M543.5 113v1M544.5 73v2M544.5 101v1M545.5 67v1M545.5 77v1M545.5 86v1M545.5 112v1M546.5 67v1M546.5 112v1M547.5 112v2M548.5 98v2M548.5 105v1M548.5 108v1M549.5 94v2M549.5 102v1M549.5 106v1M550.5 106v2M550.5 116v1M551.5 110v2M552.5 80v1M552.5 110v3M553.5 110v1M554.5 115v1M561.5 99v1M562.5 114v1M563.5 97v1"/><path stroke="#8a3613" d="M390.5 84v1M391.5 80v1M393.5 90v1M394.5 79v1M394.5 84v1M395.5 83v1M403.5 90v1M407.5 82v2M410.5 78v1M410.5 81v1M411.5 81v1M412.5 82v1M417.5 82v1M417.5 106v1M417.5 110v1M419.5 106v1M420.5 89v1M422.5 77v3M422.5 81v1M423.5 99v1M424.5 121v1M426.5 82v1M426.5 100v1M426.5 103v1M426.5 105v1M427.5 99v1M428.5 79v1M428.5 84v1M430.5 77v1M430.5 108v1M431.5 79v1M432.5 84v1M433.5 108v1M435.5 122v1M436.5 80v1M436.5 104v1M437.5 82v1M438.5 85v2M438.5 92v1M439.5 77v1M439.5 90v1M440.5 79v1M441.5 86v1M441.5 119v1M442.5 88v1M442.5 114v1M442.5 120v1M443.5 81v1M443.5 84v2M444.5 77v1M444.5 82v1M444.5 84v1M444.5 91v1M444.5 102v1M446.5 87v1M446.5 90v2M447.5 80v1M447.5 91v1M449.5 89v1M449.5 92v1M451.5 92v1M452.5 92v1M453.5 120v2M454.5 95v1M455.5 95v1M455.5 107v1M458.5 92v1M458.5 97v1M459.5 97v1M459.5 113v1M460.5 111v3M461.5 94v1M461.5 106v1M461.5 111v1M462.5 111v1M463.5 113v2M464.5 100v2M464.5 108v1M464.5 116v1M465.5 93v1M465.5 96v1M465.5 105v1M465.5 109v1M465.5 111v1M466.5 99v1M466.5 109v1M467.5 96v2M468.5 99v3M468.5 106v1M468.5 109v1M469.5 95v1M469.5 105v1M470.5 101v1M470.5 109v1M471.5 92v1M471.5 95v3M471.5 106v1M472.5 103v1M472.5 110v2M473.5 94v1M473.5 107v1M473.5 116v1M474.5 95v1M474.5 97v2M474.5 102v1M474.5 105v1M474.5 107v1M475.5 95v1M475.5 102v1M475.5 109v1M475.5 111v1M476.5 81v1M476.5 90v2M476.5 98v2M476.5 102v1M477.5 93v1M478.5 95v1M478.5 104v1M478.5 115v1M479.5 91v1M479.5 96v1M479.5 107v3M480.5 101v3M480.5 107v2M481.5 98v1M481.5 104v2M482.5 102v1M482.5 105v1M482.5 114v1M483.5 112v1M484.5 105v1M487.5 109v1M487.5 114v1M489.5 110v1M490.5 100v1M490.5 104v1M491.5 104v2M492.5 105v1M496.5 111v1M497.5 87v1M498.5 77v1M498.5 81v1M498.5 111v1M499.5 110v2M502.5 82v1M503.5 113v1M522.5 77v1M522.5 99v1M522.5 114v1M523.5 78v2M523.5 99v1M525.5 99v2M526.5 86v1M528.5 94v2M528.5 108v1M529.5 75v1M529.5 79v1M529.5 88v1M530.5 76v1M530.5 78v1M530.5 92v1M530.5 98v2M531.5 78v1M531.5 101v1M531.5 103v1M532.5 75v1M532.5 84v1M532.5 87v2M532.5 91v3M532.5 100v2M533.5 79v2M533.5 86v1M533.5 88v4M533.5 97v3M534.5 86v1M534.5 90v1M534.5 96v1M535.5 76v1M536.5 71v1M536.5 77v1M536.5 80v1M536.5 84v1M537.5 91v1M537.5 94v1M538.5 113v1M539.5 79v1M539.5 89v2M539.5 94v1M540.5 70v1M540.5 76v1M540.5 96v1M541.5 71v1M541.5 104v2M543.5 66v1M543.5 68v3M543.5 97v1M543.5 99v2M544.5 72v1M545.5 68v1M545.5 98v1M545.5 113v1M546.5 65v1M546.5 69v1M546.5 71v1M547.5 70v2M547.5 77v2M549.5 97v2M549.5 107v1M549.5 113v1M549.5 115v2M550.5 105v1M551.5 101v1M551.5 109v1M552.5 79v1M552.5 109v1M552.5 115v1M553.5 106v1M557.5 91v1M559.5 106v1M560.5 114v1M565.5 102v1M566.5 104v1M570.5 109v1M571.5 108v1M571.5 116v1M585.5 112v1"/><path stroke="#832f10" d="M398.5 90v1M401.5 83v1M403.5 84v1M406.5 83v1M407.5 81v1M416.5 85v1M417.5 83v1M419.5 81v1M420.5 82v1M420.5 85v2M422.5 80v1M423.5 87v1M424.5 82v1M425.5 93v1M426.5 81v1M426.5 83v1M427.5 100v1M428.5 80v1M428.5 83v1M428.5 85v1M430.5 90v1M431.5 80v1M432.5 83v1M432.5 85v1M433.5 77v1M433.5 84v1M433.5 92v1M433.5 121v1M433.5 129v1M433.5 131v1M434.5 76v2M434.5 83v2M435.5 77v1M435.5 84v2M436.5 76v1M436.5 78v1M436.5 83v2M436.5 89v1M437.5 75v1M437.5 78v2M437.5 112v1M438.5 81v1M438.5 87v1M438.5 124v1M439.5 88v2M439.5 91v1M439.5 114v1M440.5 80v1M440.5 84v1M440.5 87v1M440.5 125v1M441.5 85v1M443.5 90v1M443.5 92v1M443.5 94v1M444.5 75v1M444.5 79v1M444.5 85v1M444.5 87v1M445.5 92v1M446.5 81v2M446.5 89v1M446.5 102v1M448.5 91v1M449.5 91v1M450.5 95v1M451.5 93v1M452.5 94v1M454.5 96v1M455.5 93v1M455.5 96v1M455.5 120v1M456.5 97v1M456.5 119v1M458.5 93v2M458.5 113v2M459.5 94v1M459.5 112v1M459.5 114v1M460.5 100v1M460.5 110v1M461.5 102v1M461.5 112v1M462.5 95v2M462.5 99v1M462.5 103v1M462.5 114v1M463.5 99v2M463.5 107v1M463.5 111v1M464.5 93v1M464.5 95v4M465.5 97v3M465.5 108v1M466.5 112v3M467.5 98v1M468.5 118v1M470.5 93v1M470.5 98v1M470.5 107v1M471.5 93v2M471.5 109v1M472.5 102v1M472.5 105v1M472.5 109v1M473.5 99v1M473.5 106v1M473.5 117v1M474.5 96v1M474.5 99v1M474.5 101v1M474.5 104v1M474.5 117v1M475.5 98v4M475.5 110v1M476.5 95v1M476.5 100v2M477.5 105v1M478.5 96v1M478.5 98v2M478.5 112v2M479.5 103v1M480.5 98v1M480.5 100v1M482.5 103v2M484.5 111v1M487.5 113v1M498.5 80v1M502.5 83v1M503.5 114v1M511.5 114v1M512.5 110v1M522.5 76v1M523.5 97v2M529.5 74v1M529.5 76v1M529.5 98v1M530.5 75v1M530.5 77v1M530.5 81v2M531.5 76v1M531.5 96v1M531.5 102v1M532.5 76v2M532.5 79v3M532.5 85v2M532.5 90v1M533.5 87v1M533.5 92v1M534.5 91v2M535.5 72v1M535.5 75v1M535.5 86v1M535.5 101v1M536.5 76v1M536.5 94v1M536.5 96v1M537.5 85v2M538.5 75v1M538.5 97v1M538.5 109v1M541.5 77v1M541.5 80v2M541.5 93v1M541.5 112v1M542.5 70v1M542.5 95v1M543.5 67v1M543.5 73v1M543.5 89v1M543.5 91v2M543.5 96v1M543.5 107v1M544.5 71v1M544.5 76v1M544.5 97v1M544.5 99v2M545.5 69v1M545.5 71v2M545.5 102v1M545.5 114v1M546.5 64v1M546.5 102v1M547.5 72v1M547.5 76v1M547.5 79v1M547.5 97v2M547.5 100v2M547.5 104v2M548.5 72v3M548.5 97v1M548.5 106v1M549.5 73v1M549.5 93v1M549.5 99v1M549.5 101v1M549.5 114v1M550.5 75v1M550.5 77v1M550.5 94v2M550.5 99v4M550.5 112v1M550.5 115v1M551.5 80v1M551.5 100v1M551.5 102v1M551.5 108v1M551.5 112v1M553.5 88v1M553.5 105v1M554.5 111v1M563.5 111v2M585.5 113v1"/><path stroke="#7b270e" d="M391.5 81v1M393.5 84v1M396.5 89v2M397.5 83v1M400.5 83v1M402.5 84v1M404.5 82v1M404.5 85v2M405.5 83v1M407.5 89v2M408.5 84v2M411.5 109v1M412.5 80v1M413.5 89v1M414.5 80v1M414.5 82v1M415.5 93v1M415.5 95v1M416.5 84v1M416.5 97v1M418.5 81v1M419.5 89v1M419.5 109v1M420.5 83v1M421.5 78v2M422.5 82v1M423.5 86v1M423.5 88v1M424.5 79v1M424.5 81v1M425.5 82v3M425.5 94v1M425.5 108v1M427.5 79v1M427.5 120v1M428.5 82v1M429.5 78v1M429.5 80v1M429.5 83v2M429.5 118v1M430.5 78v1M430.5 98v1M432.5 82v1M432.5 86v1M432.5 111v1M433.5 78v2M433.5 124v1M434.5 108v1M435.5 78v1M435.5 86v1M436.5 75v1M436.5 81v1M436.5 98v1M437.5 76v2M437.5 80v2M437.5 88v1M438.5 108v1M438.5 123v1M440.5 81v3M440.5 98v1M441.5 87v1M442.5 89v1M442.5 96v1M444.5 76v1M444.5 86v1M444.5 92v1M446.5 92v1M446.5 103v1M447.5 92v1M447.5 123v1M449.5 93v1M452.5 93v1M452.5 95v1M452.5 97v2M452.5 115v1M453.5 96v3M453.5 119v1M454.5 97v1M454.5 120v1M456.5 116v3M457.5 97v1M457.5 120v1M458.5 98v3M458.5 112v1M458.5 115v1M459.5 98v1M459.5 111v1M460.5 105v5M462.5 98v1M462.5 100v1M463.5 106v1M463.5 108v1M463.5 110v1M464.5 94v1M464.5 109v1M464.5 112v1M465.5 100v2M465.5 112v2M467.5 108v1M468.5 93v1M468.5 107v2M470.5 97v1M470.5 102v1M470.5 105v2M470.5 113v1M472.5 99v3M472.5 106v1M473.5 103v1M473.5 105v1M474.5 100v1M476.5 97v1M477.5 94v1M478.5 97v1M478.5 100v2M478.5 103v1M479.5 97v1M480.5 99v1M482.5 113v1M483.5 113v1M483.5 115v1M498.5 78v2M501.5 75v1M509.5 78v1M529.5 78v1M530.5 74v1M530.5 83v1M531.5 77v1M533.5 74v1M534.5 81v1M534.5 98v1M535.5 73v1M535.5 79v1M535.5 85v1M536.5 75v1M536.5 83v1M536.5 95v1M537.5 74v1M537.5 77v4M537.5 84v1M537.5 90v1M538.5 90v2M538.5 94v3M538.5 114v1M539.5 81v1M539.5 88v1M540.5 78v1M540.5 95v1M541.5 87v1M541.5 92v1M541.5 94v1M541.5 113v1M542.5 100v1M543.5 71v1M543.5 75v1M543.5 88v1M543.5 90v1M543.5 93v3M543.5 108v1M544.5 70v1M544.5 91v2M545.5 73v1M545.5 100v1M546.5 72v1M546.5 78v3M546.5 98v4M547.5 81v1M547.5 96v1M547.5 99v1M547.5 102v1M549.5 76v1M549.5 96v1M549.5 100v1M550.5 76v1M550.5 78v1M550.5 83v1M550.5 93v1M550.5 96v1M550.5 98v1M550.5 103v1M550.5 113v2M551.5 81v2M551.5 98v2M552.5 108v1M553.5 87v1M553.5 107v1M554.5 86v1M561.5 109v2M562.5 109v2M563.5 110v1M573.5 113v1M576.5 113v1"/><path stroke="#731f0b" d="M391.5 82v1M394.5 86v1M395.5 84v1M396.5 88v1M397.5 82v1M397.5 84v2M399.5 84v1M399.5 95v2M400.5 82v1M400.5 84v1M400.5 100v1M401.5 84v2M402.5 82v2M402.5 85v1M403.5 85v1M403.5 98v1M405.5 84v1M406.5 84v1M406.5 90v1M407.5 84v1M408.5 86v1M409.5 82v1M409.5 101v2M414.5 83v1M416.5 82v2M416.5 86v1M416.5 96v1M416.5 98v1M416.5 101v2M418.5 82v1M418.5 87v2M419.5 82v1M419.5 90v1M419.5 108v1M420.5 87v1M420.5 103v1M421.5 80v2M421.5 113v1M423.5 79v1M423.5 81v2M424.5 80v1M424.5 83v1M424.5 94v1M425.5 78v1M425.5 81v1M425.5 85v1M425.5 92v1M426.5 84v1M427.5 124v1M428.5 91v1M429.5 79v1M429.5 81v2M429.5 85v1M429.5 117v1M430.5 79v3M430.5 99v1M431.5 78v1M431.5 81v1M431.5 111v2M431.5 122v1M432.5 80v1M432.5 87v1M432.5 104v1M432.5 113v2M433.5 80v2M433.5 85v1M433.5 126v1M434.5 78v1M434.5 82v1M434.5 85v1M434.5 107v1M435.5 83v1M435.5 91v2M436.5 77v1M436.5 82v1M436.5 90v1M436.5 97v1M437.5 111v1M438.5 96v1M438.5 107v1M438.5 126v1M439.5 111v1M440.5 99v1M442.5 95v1M442.5 97v1M444.5 83v1M446.5 93v1M446.5 120v1M447.5 93v1M447.5 96v1M447.5 122v1M448.5 92v1M448.5 95v1M449.5 101v1M450.5 104v1M450.5 109v2M450.5 121v1M451.5 100v1M451.5 103v1M451.5 117v1M452.5 96v1M452.5 99v1M452.5 102v1M452.5 117v1M452.5 119v2M453.5 99v2M454.5 117v1M454.5 119v1M455.5 115v1M455.5 121v1M456.5 101v3M456.5 114v2M457.5 112v2M458.5 101v1M458.5 120v1M459.5 99v2M459.5 110v1M460.5 101v1M461.5 113v1M462.5 97v1M462.5 110v1M463.5 102v1M463.5 109v1M463.5 112v1M465.5 102v3M466.5 101v2M466.5 104v5M467.5 99v1M467.5 105v3M469.5 102v3M470.5 96v1M471.5 108v1M472.5 107v2M473.5 95v1M473.5 102v1M475.5 97v1M476.5 96v1M476.5 107v1M477.5 101v4M478.5 102v1M479.5 101v1M483.5 114v1M492.5 104v1M529.5 77v1M529.5 99v1M533.5 93v1M534.5 82v1M535.5 78v1M535.5 80v2M535.5 84v1M536.5 72v3M536.5 82v1M537.5 75v2M537.5 83v1M538.5 92v2M539.5 82v2M540.5 79v1M541.5 79v1M541.5 82v1M542.5 71v1M542.5 73v5M542.5 94v1M542.5 113v1M543.5 87v1M544.5 67v1M544.5 69v1M544.5 93v1M544.5 96v1M545.5 75v1M545.5 81v2M545.5 101v1M546.5 75v3M546.5 81v1M547.5 73v2M547.5 82v2M547.5 95v1M547.5 103v1M548.5 96v1M548.5 107v1M549.5 75v1M549.5 79v3M549.5 88v1M549.5 92v1M550.5 79v1M550.5 81v1M550.5 97v1M551.5 97v1M551.5 103v1M551.5 106v2M552.5 81v1M552.5 107v1M552.5 116v1M553.5 83v1M553.5 89v1M555.5 105v2M555.5 114v2M556.5 94v1M556.5 96v1M557.5 111v2M559.5 95v1M560.5 106v1M561.5 102v1M562.5 93v1M562.5 108v1M562.5 111v1M563.5 95v1M563.5 109v1M563.5 113v1M564.5 103v1M565.5 99v1M565.5 108v2M566.5 114v1M568.5 104v1M576.5 111v1M584.5 113v1"/><path stroke="#6d1b0a" d="M391.5 84v1M394.5 87v3M395.5 86v1M396.5 91v1M398.5 94v2M399.5 94v1M400.5 85v2M402.5 81v1M402.5 87v1M402.5 89v1M402.5 98v1M403.5 97v1M403.5 99v1M404.5 101v1M405.5 85v1M406.5 89v1M406.5 91v1M407.5 91v1M408.5 82v2M409.5 97v1M409.5 103v1M410.5 82v1M410.5 88v1M411.5 82v1M411.5 87v1M411.5 96v1M412.5 81v1M413.5 81v1M413.5 93v2M413.5 99v1M414.5 86v3M415.5 105v2M415.5 111v1M416.5 81v1M416.5 99v2M416.5 103v1M417.5 84v1M417.5 96v1M417.5 113v1M418.5 89v1M418.5 91v1M418.5 107v2M419.5 83v1M419.5 88v1M420.5 104v1M420.5 107v3M421.5 93v1M421.5 114v1M422.5 83v1M422.5 85v2M422.5 92v1M423.5 80v1M423.5 89v1M423.5 117v1M424.5 93v1M424.5 118v1M425.5 97v1M425.5 104v1M425.5 119v1M426.5 78v1M426.5 80v1M426.5 85v1M426.5 123v1M427.5 80v1M427.5 101v1M427.5 123v1M428.5 92v1M429.5 114v3M429.5 119v1M430.5 82v2M430.5 97v1M430.5 100v2M431.5 98v1M431.5 113v1M431.5 123v1M432.5 79v1M432.5 95v1M432.5 103v1M432.5 115v1M433.5 97v1M433.5 99v3M434.5 79v1M434.5 109v1M435.5 79v1M435.5 87v1M435.5 89v2M435.5 93v1M435.5 105v1M435.5 109v1M436.5 109v1M436.5 114v2M437.5 117v1M438.5 95v1M438.5 97v1M438.5 106v1M439.5 101v1M439.5 103v1M439.5 110v1M439.5 122v1M440.5 97v1M440.5 116v3M441.5 90v1M441.5 121v1M442.5 90v1M442.5 117v1M444.5 93v1M445.5 93v1M445.5 102v2M445.5 108v1M446.5 94v1M446.5 100v1M446.5 104v1M447.5 112v2M448.5 94v1M448.5 96v1M448.5 106v1M449.5 94v1M449.5 112v1M450.5 111v1M451.5 99v1M451.5 102v1M451.5 104v1M451.5 116v1M451.5 118v4M452.5 101v1M452.5 103v1M452.5 114v1M452.5 118v1M452.5 121v2M453.5 95v1M453.5 101v1M453.5 108v1M454.5 118v1M455.5 97v1M456.5 98v1M456.5 100v1M456.5 104v2M456.5 113v1M457.5 115v3M457.5 119v1M458.5 106v2M458.5 117v2M459.5 101v3M459.5 109v1M460.5 104v1M461.5 105v1M462.5 104v1M463.5 101v1M463.5 103v2M464.5 104v1M464.5 110v1M466.5 103v1M467.5 101v2M467.5 104v1M470.5 94v1M470.5 104v1M473.5 100v2M477.5 95v1M477.5 98v1M477.5 100v1M479.5 98v1M479.5 100v1M482.5 112v1M534.5 78v1M534.5 99v1M535.5 82v2M537.5 81v1M537.5 88v2M538.5 81v3M538.5 89v1M539.5 84v1M539.5 87v1M539.5 92v1M540.5 77v1M540.5 80v2M540.5 89v2M540.5 94v1M541.5 78v1M541.5 86v1M541.5 88v1M541.5 96v1M541.5 99v1M542.5 72v1M542.5 92v2M542.5 96v1M543.5 76v1M543.5 82v2M543.5 86v1M544.5 66v1M544.5 83v2M544.5 90v1M544.5 94v2M545.5 80v1M545.5 89v1M545.5 93v1M546.5 74v1M546.5 85v4M546.5 97v1M547.5 80v1M547.5 84v1M547.5 89v1M548.5 80v2M548.5 84v3M548.5 92v2M549.5 74v1M549.5 77v1M549.5 82v1M549.5 87v1M550.5 80v1M550.5 84v1M551.5 89v2M551.5 95v2M551.5 104v2M552.5 82v1M552.5 93v2M552.5 105v2M553.5 104v1M555.5 91v2M555.5 116v1M556.5 89v1M556.5 92v2M558.5 88v1M559.5 96v2M560.5 103v2M560.5 107v1M561.5 101v1M561.5 103v1M561.5 108v1M561.5 111v1M562.5 94v1M562.5 107v1M562.5 112v1M563.5 96v1M563.5 103v2M565.5 97v2M565.5 100v1M565.5 105v3M566.5 113v1M571.5 114v1M576.5 114v1M577.5 111v1M580.5 110v1"/><path stroke="#671709" d="M391.5 85v2M395.5 88v1M396.5 84v2M397.5 86v1M397.5 93v1M398.5 84v1M398.5 92v2M398.5 96v1M399.5 85v1M399.5 97v1M400.5 87v2M400.5 96v1M401.5 86v1M402.5 86v1M402.5 97v1M402.5 99v1M404.5 83v1M404.5 88v1M404.5 102v1M405.5 86v1M405.5 92v1M405.5 99v3M406.5 85v1M407.5 85v1M407.5 87v1M407.5 103v2M408.5 87v1M408.5 92v1M409.5 100v1M410.5 89v1M410.5 100v1M411.5 84v3M411.5 88v1M411.5 97v1M412.5 94v1M413.5 95v1M413.5 100v1M413.5 110v1M414.5 85v1M414.5 101v1M415.5 81v3M415.5 85v2M415.5 99v1M415.5 110v1M416.5 104v1M417.5 85v3M417.5 95v1M417.5 103v2M417.5 112v1M418.5 83v1M418.5 90v1M418.5 93v1M419.5 84v1M419.5 87v1M419.5 91v1M419.5 107v1M419.5 111v2M420.5 105v1M420.5 110v1M420.5 116v1M421.5 83v2M421.5 86v2M421.5 92v1M421.5 94v1M421.5 112v1M422.5 84v1M422.5 93v1M422.5 105v2M423.5 85v1M423.5 90v1M423.5 116v1M423.5 118v1M424.5 113v3M424.5 119v1M425.5 80v1M425.5 86v1M425.5 91v1M425.5 95v2M425.5 98v1M425.5 114v3M425.5 118v1M425.5 120v1M426.5 79v1M426.5 86v2M426.5 97v1M426.5 109v1M426.5 114v1M426.5 116v1M426.5 124v1M427.5 84v2M427.5 88v2M427.5 97v1M427.5 117v2M427.5 125v1M428.5 87v1M428.5 89v1M428.5 117v2M428.5 120v1M429.5 87v1M429.5 90v2M429.5 99v1M429.5 113v1M429.5 124v1M430.5 84v1M430.5 102v1M430.5 110v2M431.5 94v1M431.5 97v1M431.5 99v1M431.5 110v1M431.5 120v1M431.5 124v1M432.5 89v1M432.5 93v1M432.5 96v1M432.5 98v2M432.5 105v1M432.5 118v1M433.5 96v1M433.5 102v1M433.5 114v2M434.5 81v1M434.5 86v1M434.5 89v1M434.5 106v1M435.5 82v1M435.5 88v1M435.5 104v1M435.5 108v1M435.5 110v1M436.5 91v1M436.5 108v1M436.5 110v1M436.5 113v1M436.5 116v4M437.5 89v1M437.5 107v1M438.5 89v1M438.5 94v1M438.5 98v4M438.5 109v1M438.5 127v1M439.5 97v2M439.5 107v3M439.5 112v1M439.5 123v2M440.5 91v2M440.5 115v1M440.5 122v2M441.5 91v1M441.5 97v2M441.5 101v1M441.5 110v1M441.5 122v1M442.5 106v2M442.5 111v1M442.5 116v1M443.5 111v2M444.5 95v1M444.5 108v1M444.5 116v1M444.5 123v2M445.5 101v1M445.5 104v1M445.5 107v1M445.5 109v1M445.5 117v1M446.5 95v1M446.5 123v1M447.5 97v1M447.5 101v1M447.5 105v3M447.5 111v1M447.5 121v1M448.5 97v1M448.5 105v1M449.5 104v2M449.5 113v1M449.5 120v4M450.5 96v1M450.5 103v1M450.5 112v2M450.5 120v1M451.5 95v1M451.5 105v1M452.5 104v1M452.5 112v1M452.5 116v1M453.5 104v1M453.5 106v1M453.5 109v3M454.5 98v1M454.5 115v1M454.5 121v1M455.5 99v2M456.5 106v1M457.5 105v4M457.5 118v1M458.5 102v1M458.5 109v1M459.5 104v5M460.5 102v2M462.5 105v3M462.5 109v1M464.5 111v1M466.5 100v1M467.5 103v1M470.5 95v1M473.5 104v1M477.5 96v2M479.5 99v1M534.5 79v1M535.5 74v1M536.5 81v1M538.5 88v1M539.5 85v1M540.5 82v1M540.5 88v1M540.5 91v2M541.5 97v2M542.5 88v1M542.5 90v2M542.5 97v1M542.5 99v1M543.5 72v1M543.5 84v2M544.5 77v1M544.5 82v1M544.5 85v1M544.5 87v1M545.5 83v1M545.5 91v2M545.5 94v1M546.5 89v1M547.5 75v1M548.5 75v1M548.5 77v1M548.5 79v1M548.5 82v1M548.5 88v1M548.5 94v2M549.5 83v2M549.5 89v1M551.5 84v1M551.5 88v1M551.5 93v1M552.5 83v2M552.5 87v2M552.5 102v3M553.5 84v1M553.5 86v1M553.5 112v1M554.5 87v2M554.5 91v2M554.5 100v1M555.5 88v1M555.5 90v1M555.5 102v1M555.5 104v1M555.5 113v1M556.5 91v1M556.5 97v1M557.5 110v1M557.5 113v1M558.5 90v1M559.5 98v1M560.5 95v2M560.5 108v1M562.5 95v1M562.5 103v2M562.5 106v1M563.5 100v3M563.5 105v1M563.5 108v1M564.5 98v1M565.5 111v1M566.5 108v1M566.5 115v1M567.5 103v1M568.5 102v2M568.5 111v1M569.5 112v2M579.5 113v1M580.5 109v1M580.5 111v1M581.5 112v1M583.5 113v1"/><path stroke="#601307" d="M389.5 82v1M393.5 86v1M393.5 88v1M395.5 89v1M395.5 93v1M396.5 92v3M397.5 87v1M397.5 92v1M398.5 83v1M398.5 85v1M398.5 97v1M399.5 98v1M400.5 97v1M401.5 87v1M401.5 92v1M401.5 98v1M402.5 90v1M402.5 92v1M402.5 94v1M402.5 96v1M403.5 91v2M403.5 96v1M403.5 100v1M404.5 89v4M404.5 100v1M404.5 103v1M405.5 87v1M405.5 91v1M405.5 93v1M405.5 98v1M406.5 92v1M406.5 103v1M407.5 86v1M407.5 101v2M408.5 90v1M408.5 96v2M409.5 83v1M409.5 86v3M409.5 96v1M409.5 99v1M409.5 104v1M410.5 83v1M410.5 93v1M410.5 99v1M410.5 105v1M411.5 95v1M412.5 93v1M412.5 95v1M413.5 82v2M413.5 92v1M413.5 98v1M413.5 111v1M414.5 89v4M414.5 100v1M414.5 103v1M414.5 106v2M415.5 87v1M415.5 98v1M415.5 100v2M415.5 104v1M415.5 107v1M416.5 90v2M416.5 105v1M416.5 109v1M416.5 111v2M417.5 88v1M417.5 91v3M417.5 114v2M418.5 84v2M418.5 106v1M418.5 109v1M419.5 85v2M419.5 92v1M419.5 113v1M420.5 88v1M420.5 93v2M420.5 111v1M420.5 115v1M421.5 85v1M421.5 88v1M421.5 115v1M422.5 87v1M422.5 94v1M422.5 107v1M422.5 112v2M422.5 118v2M423.5 83v1M423.5 91v1M423.5 95v3M423.5 115v1M424.5 84v1M424.5 87v3M424.5 95v2M424.5 107v6M425.5 79v1M425.5 87v1M425.5 89v2M425.5 113v1M425.5 117v1M426.5 88v1M426.5 96v1M426.5 99v1M426.5 108v1M426.5 111v3M426.5 117v1M426.5 122v1M427.5 81v1M427.5 83v1M427.5 86v2M427.5 109v3M427.5 122v1M428.5 88v1M428.5 90v1M428.5 116v1M428.5 119v1M429.5 88v1M429.5 92v1M429.5 100v1M429.5 104v1M429.5 110v1M429.5 120v1M429.5 123v1M429.5 126v1M430.5 85v1M430.5 103v1M430.5 109v1M430.5 112v1M430.5 118v2M430.5 124v2M431.5 83v1M431.5 86v2M431.5 89v1M431.5 95v1M431.5 114v1M431.5 119v1M431.5 125v5M432.5 77v1M432.5 81v1M432.5 97v1M432.5 100v1M432.5 102v1M432.5 116v2M432.5 119v1M432.5 122v1M432.5 125v2M433.5 87v1M433.5 103v2M434.5 80v1M434.5 87v2M434.5 91v1M434.5 104v2M434.5 110v1M434.5 119v2M434.5 129v1M435.5 94v1M435.5 103v1M435.5 106v2M435.5 111v1M436.5 106v2M436.5 120v1M437.5 100v2M437.5 108v1M437.5 116v1M437.5 125v4M438.5 88v1M438.5 90v1M438.5 102v1M438.5 122v1M439.5 96v1M439.5 99v1M439.5 102v1M439.5 104v1M439.5 125v2M440.5 90v1M440.5 100v1M440.5 107v3M440.5 114v1M440.5 119v3M440.5 124v1M441.5 88v1M441.5 92v2M441.5 109v1M441.5 112v1M441.5 120v1M441.5 123v1M442.5 98v1M442.5 108v3M442.5 112v1M442.5 118v1M443.5 91v1M443.5 97v1M443.5 108v2M443.5 114v1M443.5 121v1M444.5 109v1M444.5 115v1M444.5 117v1M445.5 106v1M445.5 116v1M445.5 121v2M446.5 105v1M446.5 109v1M446.5 114v1M446.5 116v1M447.5 102v1M447.5 104v1M447.5 108v1M447.5 110v1M448.5 98v2M448.5 107v1M448.5 111v1M448.5 121v1M449.5 95v1M449.5 119v1M450.5 99v2M450.5 108v1M451.5 101v1M451.5 110v1M451.5 112v1M452.5 105v1M452.5 111v1M453.5 102v1M453.5 112v1M454.5 107v1M454.5 116v1M455.5 98v1M455.5 101v3M456.5 112v1M457.5 98v1M457.5 101v2M457.5 109v2M458.5 103v1M458.5 105v1M461.5 103v1M462.5 108v1M464.5 102v1M538.5 84v1M538.5 87v1M539.5 86v1M539.5 93v1M540.5 83v2M540.5 86v1M541.5 83v1M541.5 89v2M542.5 78v1M542.5 86v2M542.5 89v1M543.5 81v1M544.5 81v1M544.5 86v1M545.5 76v1M545.5 84v1M545.5 88v1M545.5 95v2M546.5 73v1M546.5 82v1M546.5 84v1M546.5 90v4M547.5 87v1M547.5 93v1M548.5 78v1M548.5 91v1M549.5 85v2M549.5 91v1M550.5 85v1M550.5 89v2M551.5 91v2M552.5 85v2M552.5 92v1M552.5 101v1M553.5 85v1M553.5 111v1M553.5 114v2M554.5 89v2M554.5 96v1M554.5 98v2M554.5 102v1M555.5 89v1M555.5 93v1M555.5 100v1M555.5 103v1M555.5 107v1M556.5 90v1M556.5 95v1M556.5 98v1M556.5 105v1M556.5 111v1M556.5 114v3M557.5 90v1M557.5 95v2M558.5 101v3M558.5 107v3M558.5 112v2M559.5 93v1M559.5 103v2M560.5 93v1M560.5 97v2M560.5 102v1M560.5 109v4M561.5 100v1M561.5 104v1M561.5 107v1M561.5 115v1M564.5 102v1M564.5 108v2M565.5 104v1M566.5 106v2M566.5 109v1M566.5 112v1M567.5 111v4M568.5 112v1M569.5 109v3M569.5 114v3M571.5 115v1M577.5 113v1M578.5 112v1M579.5 114v1M580.5 112v1"/><path stroke="#5a1106" d="M392.5 84v1M393.5 85v1M393.5 89v1M394.5 90v1M395.5 87v1M395.5 91v2M395.5 94v1M396.5 95v2M397.5 88v1M397.5 91v1M397.5 96v1M398.5 86v1M398.5 91v1M399.5 86v1M399.5 88v1M399.5 93v1M401.5 88v1M401.5 90v2M401.5 93v1M401.5 96v1M401.5 99v1M402.5 91v1M402.5 95v1M403.5 93v1M403.5 101v2M404.5 94v1M404.5 98v1M405.5 88v3M405.5 96v1M405.5 102v4M406.5 88v1M406.5 93v1M406.5 99v1M406.5 104v1M407.5 93v1M407.5 95v1M407.5 100v1M407.5 105v1M408.5 88v2M408.5 93v3M409.5 84v1M409.5 89v2M410.5 90v3M410.5 94v2M410.5 101v1M410.5 104v1M410.5 106v1M410.5 108v1M411.5 89v1M411.5 91v2M412.5 88v1M412.5 92v1M412.5 96v3M412.5 107v1M413.5 84v1M413.5 96v2M413.5 101v1M413.5 108v1M414.5 98v2M414.5 104v2M414.5 111v2M415.5 97v1M415.5 102v1M415.5 108v2M416.5 87v1M416.5 92v1M416.5 106v1M416.5 108v1M416.5 113v1M417.5 89v2M417.5 94v1M417.5 98v1M417.5 105v1M417.5 111v1M418.5 98v5M418.5 112v1M418.5 114v1M419.5 93v1M419.5 96v1M419.5 102v1M420.5 92v1M420.5 112v3M420.5 117v1M421.5 89v3M421.5 95v1M421.5 116v1M421.5 119v1M422.5 95v2M422.5 104v1M422.5 111v1M423.5 84v1M423.5 94v1M423.5 98v1M423.5 100v1M423.5 119v1M424.5 85v2M424.5 92v1M424.5 105v1M424.5 120v1M425.5 88v1M425.5 99v1M425.5 106v1M425.5 121v1M426.5 90v2M426.5 94v2M426.5 107v1M426.5 125v1M427.5 95v1M427.5 102v1M427.5 108v1M427.5 112v2M427.5 116v1M427.5 126v1M428.5 94v2M428.5 100v1M428.5 103v1M428.5 114v2M428.5 122v1M429.5 89v1M429.5 101v1M429.5 103v1M429.5 105v1M429.5 108v2M429.5 111v2M429.5 122v1M429.5 127v1M430.5 88v1M430.5 104v1M430.5 117v1M430.5 123v1M430.5 126v1M431.5 84v2M431.5 90v1M431.5 93v1M431.5 100v2M431.5 103v1M431.5 109v1M432.5 78v1M432.5 92v1M432.5 101v1M432.5 120v2M432.5 123v2M432.5 128v1M433.5 88v1M433.5 95v1M433.5 98v1M433.5 105v1M433.5 113v1M433.5 116v1M434.5 93v1M434.5 100v4M434.5 130v1M435.5 80v2M435.5 112v1M435.5 116v3M435.5 120v2M435.5 125v1M436.5 92v1M436.5 105v1M436.5 111v1M436.5 122v1M436.5 125v2M437.5 90v1M437.5 97v2M437.5 106v1M437.5 115v1M437.5 118v1M437.5 129v1M438.5 91v1M438.5 93v1M438.5 105v1M438.5 121v1M438.5 128v1M439.5 94v2M439.5 100v1M439.5 105v1M439.5 113v1M439.5 118v1M439.5 127v1M440.5 89v1M440.5 93v1M440.5 101v1M440.5 110v4M441.5 94v1M441.5 96v1M441.5 99v1M442.5 104v2M442.5 113v1M442.5 115v1M443.5 96v1M443.5 98v2M443.5 107v1M443.5 115v2M443.5 120v1M443.5 122v1M444.5 97v1M444.5 104v1M444.5 110v1M444.5 114v1M444.5 118v1M444.5 122v1M445.5 100v1M445.5 105v1M445.5 110v3M445.5 115v1M445.5 118v1M445.5 120v1M445.5 123v1M446.5 99v1M446.5 108v1M446.5 110v1M446.5 115v1M446.5 117v1M446.5 122v1M447.5 100v1M447.5 103v1M447.5 109v1M447.5 115v2M448.5 100v1M448.5 110v1M448.5 113v1M448.5 119v1M448.5 122v1M449.5 106v1M449.5 110v1M449.5 114v1M450.5 97v2M450.5 101v2M450.5 106v1M450.5 114v3M451.5 98v1M451.5 106v1M452.5 113v1M453.5 103v1M453.5 105v1M453.5 115v1M453.5 118v1M454.5 99v3M454.5 106v1M454.5 108v4M454.5 114v1M455.5 105v1M455.5 109v1M455.5 114v1M456.5 107v5M457.5 99v2M457.5 103v1M457.5 111v1M458.5 104v1M458.5 108v1M461.5 104v1M463.5 105v1M538.5 77v1M538.5 85v2M540.5 85v1M540.5 93v1M541.5 85v1M542.5 81v2M542.5 85v1M542.5 98v1M545.5 85v1M545.5 87v1M546.5 83v1M546.5 94v2M547.5 86v1M547.5 88v1M548.5 90v1M550.5 86v1M550.5 88v1M551.5 85v1M551.5 87v1M551.5 94v1M552.5 95v1M553.5 90v1M553.5 95v1M553.5 102v2M553.5 109v1M554.5 94v2M554.5 97v1M554.5 101v1M554.5 104v3M554.5 112v3M554.5 116v1M556.5 99v1M556.5 107v1M556.5 110v1M556.5 112v2M557.5 109v1M557.5 114v1M558.5 100v1M558.5 104v3M559.5 94v1M559.5 105v1M559.5 116v1M560.5 99v3M561.5 106v1M561.5 112v1M561.5 114v1M561.5 116v1M562.5 102v1M563.5 99v1M563.5 106v2M564.5 105v1M564.5 107v1M564.5 110v3M564.5 114v3M565.5 101v1M565.5 112v1M565.5 115v1M566.5 102v1M566.5 105v1M567.5 110v1M567.5 115v1M568.5 105v1M568.5 107v1M568.5 110v1M569.5 106v1M570.5 114v1M572.5 106v2M574.5 110v1M574.5 114v2M575.5 110v1M578.5 113v1M582.5 112v2"/><path stroke="#530e04" d="M392.5 85v3M397.5 89v2M397.5 94v1M398.5 98v1M399.5 87v1M399.5 89v1M399.5 99v1M400.5 89v1M400.5 95v1M401.5 100v1M402.5 93v1M402.5 100v1M403.5 86v1M403.5 88v1M403.5 94v2M403.5 103v1M404.5 95v1M404.5 97v1M404.5 104v1M405.5 94v1M406.5 87v1M406.5 94v1M406.5 97v2M406.5 100v3M406.5 105v1M407.5 106v1M408.5 102v2M409.5 91v2M409.5 105v1M410.5 97v2M411.5 90v1M411.5 93v2M411.5 98v1M411.5 103v1M411.5 105v1M412.5 85v3M412.5 90v2M412.5 100v2M412.5 106v1M412.5 108v1M413.5 85v3M413.5 91v1M413.5 102v3M413.5 107v1M414.5 94v1M414.5 102v1M414.5 108v1M414.5 110v1M415.5 84v1M415.5 88v1M415.5 96v1M415.5 103v1M416.5 89v1M416.5 114v1M417.5 101v1M418.5 95v3M418.5 103v3M418.5 110v2M418.5 115v1M419.5 94v2M419.5 100v1M419.5 115v1M420.5 90v2M420.5 95v3M420.5 101v1M420.5 106v1M421.5 98v2M421.5 102v1M421.5 111v1M422.5 88v1M422.5 90v1M422.5 109v2M422.5 114v1M422.5 117v1M422.5 120v1M423.5 93v1M423.5 109v2M423.5 114v1M423.5 120v2M424.5 90v1M424.5 97v1M424.5 100v1M424.5 102v3M425.5 112v1M425.5 122v1M426.5 92v2M426.5 101v2M426.5 104v1M426.5 106v1M426.5 118v1M427.5 91v1M427.5 94v1M427.5 103v1M427.5 114v2M427.5 119v1M428.5 96v2M428.5 102v1M428.5 108v4M428.5 113v1M428.5 123v5M429.5 93v1M429.5 96v2M429.5 106v2M429.5 121v1M429.5 125v1M429.5 128v1M430.5 86v2M430.5 89v1M430.5 96v1M430.5 105v1M430.5 120v1M430.5 122v1M431.5 91v2M431.5 104v2M431.5 115v1M431.5 118v1M431.5 130v1M432.5 90v1M432.5 106v1M432.5 109v1M432.5 129v1M433.5 86v1M433.5 89v1M433.5 94v1M433.5 107v1M433.5 109v4M433.5 117v1M434.5 94v1M434.5 99v1M434.5 111v1M434.5 117v2M434.5 128v1M435.5 102v1M435.5 113v2M435.5 119v1M435.5 123v1M435.5 127v3M436.5 123v2M436.5 127v1M436.5 129v1M437.5 91v1M437.5 94v2M437.5 103v1M437.5 113v2M437.5 123v1M440.5 96v1M440.5 102v1M440.5 104v2M441.5 95v1M441.5 113v5M442.5 91v1M442.5 102v2M442.5 119v1M442.5 121v2M442.5 124v1M443.5 95v1M443.5 103v2M443.5 106v1M443.5 117v1M443.5 119v1M443.5 123v1M444.5 107v1M444.5 111v1M444.5 119v1M445.5 95v2M445.5 113v1M445.5 119v1M445.5 124v1M446.5 97v1M446.5 106v2M446.5 111v1M447.5 98v2M447.5 120v1M448.5 108v2M448.5 114v1M448.5 123v1M449.5 103v1M449.5 107v1M449.5 118v1M450.5 107v1M450.5 118v2M451.5 96v1M451.5 107v1M451.5 109v1M451.5 113v2M452.5 106v1M452.5 110v1M453.5 113v2M453.5 116v2M454.5 102v1M454.5 104v2M455.5 106v1M455.5 108v1M455.5 110v1M538.5 80v1M540.5 87v1M541.5 84v1M542.5 79v2M542.5 83v2M543.5 80v1M544.5 80v1M545.5 79v1M547.5 91v2M549.5 90v1M550.5 87v1M551.5 86v1M552.5 90v1M552.5 96v2M552.5 100v1M553.5 94v1M553.5 96v1M553.5 100v2M553.5 108v1M553.5 116v1M554.5 103v1M554.5 107v1M555.5 99v1M555.5 111v1M556.5 106v1M557.5 92v3M557.5 97v1M557.5 104v1M557.5 115v2M558.5 91v1M558.5 95v5M558.5 114v1M558.5 116v1M559.5 92v1M559.5 102v1M559.5 113v3M560.5 113v1M561.5 94v1M561.5 98v1M561.5 105v1M561.5 113v1M563.5 98v1M563.5 114v1M564.5 106v1M565.5 103v1M565.5 114v1M565.5 116v1M566.5 103v1M566.5 110v2M567.5 104v3M567.5 109v1M568.5 113v1M570.5 113v1M571.5 109v1M571.5 112v1M572.5 108v1M573.5 110v1M574.5 113v1M575.5 111v1M578.5 114v1M580.5 113v1M581.5 113v1"/><path stroke="#4d0c03" d="M392.5 88v1M394.5 91v2M395.5 90v1M397.5 97v1M398.5 87v1M400.5 92v2M400.5 98v1M401.5 94v2M401.5 101v1M402.5 101v1M403.5 89v1M404.5 93v1M404.5 96v1M406.5 96v1M407.5 96v1M407.5 99v1M408.5 98v1M408.5 104v1M409.5 93v1M409.5 95v1M409.5 106v1M409.5 108v1M410.5 102v2M412.5 83v2M412.5 109v2M413.5 88v1M413.5 105v2M414.5 95v1M414.5 97v1M414.5 109v1M415.5 89v4M415.5 113v1M416.5 88v1M417.5 107v3M418.5 116v1M419.5 98v2M419.5 103v3M419.5 116v1M420.5 98v1M420.5 100v1M421.5 96v2M421.5 104v1M421.5 110v1M421.5 118v1M422.5 89v1M422.5 97v1M422.5 103v1M423.5 102v1M423.5 108v1M424.5 91v1M424.5 99v1M424.5 122v1M425.5 100v1M425.5 102v1M425.5 109v3M425.5 123v1M426.5 89v1M426.5 119v1M426.5 121v1M427.5 90v1M427.5 92v2M427.5 104v1M427.5 106v2M427.5 121v1M428.5 99v1M428.5 101v1M428.5 104v1M428.5 112v1M429.5 95v1M430.5 91v3M430.5 106v2M430.5 116v1M430.5 121v1M430.5 128v2M431.5 88v1M431.5 96v1M431.5 106v1M431.5 108v1M431.5 117v1M432.5 91v1M433.5 90v2M433.5 93v1M433.5 118v2M433.5 122v2M433.5 128v1M433.5 130v1M433.5 132v1M434.5 95v1M434.5 98v1M434.5 115v2M434.5 121v1M434.5 131v1M435.5 95v1M435.5 130v1M436.5 94v1M436.5 99v5M436.5 128v1M437.5 92v2M437.5 104v2M437.5 109v1M437.5 120v3M437.5 124v1M438.5 103v2M438.5 113v5M439.5 117v1M441.5 108v1M441.5 118v1M441.5 124v1M442.5 99v1M442.5 125v1M443.5 100v1M443.5 102v1M443.5 105v1M443.5 110v1M443.5 118v1M443.5 124v2M444.5 98v1M444.5 105v1M444.5 112v2M444.5 120v2M445.5 97v1M445.5 99v1M445.5 114v1M446.5 98v1M446.5 121v1M447.5 117v1M448.5 101v1M448.5 112v1M448.5 115v1M448.5 118v1M449.5 96v1M449.5 108v2M449.5 115v1M451.5 97v1M451.5 108v1M454.5 103v1M454.5 112v2M455.5 111v3M543.5 77v1M543.5 79v1M544.5 78v1M552.5 89v1M552.5 91v1M552.5 98v2M553.5 91v1M553.5 93v1M553.5 97v1M553.5 99v1M554.5 108v1M555.5 94v1M555.5 98v1M556.5 100v1M556.5 104v1M556.5 108v2M557.5 98v2M557.5 103v1M557.5 105v1M557.5 108v1M558.5 92v1M558.5 94v1M558.5 111v1M558.5 115v1M559.5 100v2M559.5 107v1M559.5 112v1M560.5 115v2M561.5 96v2M562.5 101v1M564.5 100v2M564.5 113v1M565.5 113v1M567.5 107v2M567.5 116v1M568.5 108v2M568.5 114v1M568.5 116v1M569.5 107v1M570.5 110v1M570.5 115v1M571.5 104v1M571.5 110v2M572.5 105v1M572.5 115v1M573.5 114v1"/><path stroke="#460902" d="M398.5 88v2M399.5 92v1M400.5 94v1M401.5 89v1M405.5 97v1M406.5 95v1M408.5 101v1M409.5 85v1M409.5 94v1M409.5 107v1M410.5 85v1M410.5 109v1M411.5 99v1M411.5 106v1M411.5 108v1M412.5 102v4M413.5 90v1M416.5 93v2M416.5 107v1M417.5 99v1M419.5 101v1M420.5 118v1M421.5 100v2M421.5 109v1M422.5 102v1M422.5 115v2M423.5 107v1M423.5 111v3M424.5 98v1M425.5 107v1M426.5 120v1M427.5 105v1M428.5 107v1M429.5 94v1M429.5 102v1M430.5 94v2M430.5 114v2M430.5 130v1M431.5 107v1M431.5 116v1M431.5 131v1M432.5 108v1M434.5 92v1M434.5 96v2M434.5 112v3M435.5 99v3M436.5 112v1M438.5 110v1M438.5 120v1M440.5 94v1M440.5 106v1M440.5 127v1M441.5 100v1M441.5 104v1M442.5 100v1M443.5 93v1M443.5 101v1M444.5 101v1M444.5 103v1M444.5 106v1M445.5 98v1M446.5 113v1M446.5 118v1M447.5 118v2M448.5 102v2M448.5 116v2M449.5 99v2M449.5 116v2M452.5 107v1M544.5 79v1M553.5 92v1M554.5 109v2M555.5 95v2M555.5 108v1M555.5 110v1M556.5 101v1M557.5 100v1M557.5 106v2M558.5 93v1M558.5 110v1M559.5 99v1M559.5 108v1M561.5 95v1M562.5 96v1M564.5 99v1M566.5 116v1M568.5 115v1M570.5 108v1M570.5 111v2M571.5 107v1M572.5 109v3M572.5 114v1M573.5 111v1M573.5 115v1M574.5 111v2M577.5 114v1"/><path stroke="#3f0700" d="M399.5 90v1M400.5 90v2M400.5 99v1M405.5 95v1M407.5 97v2M408.5 99v2M408.5 105v3M410.5 96v1M410.5 107v1M411.5 102v1M411.5 107v1M419.5 117v1M421.5 103v1M421.5 105v1M422.5 98v4M423.5 103v1M423.5 105v1M428.5 105v2M430.5 113v1M432.5 107v1M432.5 130v1M433.5 106v1M433.5 125v1M433.5 127v1M435.5 96v1M435.5 98v1M435.5 115v1M435.5 124v1M436.5 96v1M437.5 110v1M438.5 118v1M439.5 115v2M440.5 95v1M440.5 126v1M441.5 103v1M441.5 105v1M441.5 125v1M444.5 99v1M446.5 112v1M449.5 102v1M450.5 117v1M452.5 108v2M556.5 102v2M557.5 101v2M562.5 100v1M562.5 115v1M569.5 108v1M570.5 116v1M571.5 106v1M572.5 112v2M573.5 112v1M575.5 112v3"/><path stroke="#3a0500" d="M399.5 91v1M402.5 102v1M411.5 100v2M414.5 96v1M420.5 99v1M421.5 108v1M423.5 104v1M430.5 127v1M432.5 131v1M433.5 120v1M434.5 124v1M434.5 127v1M435.5 97v1M438.5 112v1M438.5 119v1M441.5 106v2M442.5 101v1M446.5 119v1M449.5 97v2M543.5 78v1M553.5 98v1M555.5 97v1M555.5 109v1M559.5 109v1M559.5 111v1M562.5 97v3M563.5 115v1M575.5 115v1"/><path stroke="#360500" d="M410.5 86v1M417.5 100v1M421.5 106v1M423.5 106v1M425.5 101v1M434.5 122v1M434.5 125v2M438.5 111v1M441.5 102v1M441.5 126v1M562.5 116v1M563.5 116v1M571.5 105v1"/><path stroke="#310400" d="M415.5 94v1M421.5 107v1M434.5 123v1M436.5 95v1M444.5 100v1M559.5 110v1"/></g>
<text x="0.30" y="19.20" font-size="29" text-anchor="start" fill="#000" >a</text>
<text x="355.80" y="20.50" font-size="29" text-anchor="start" fill="#000" >b</text>
<text x="0.30" y="190.70" font-size="29" text-anchor="start" fill="#000" >c</text>
<text x="229.20" y="191.20" font-size="29" text-anchor="start" fill="#000" >d</text>
<text x="464.70" y="190.60" font-size="29" text-anchor="start" fill="#000" >e</text>
<text x="0.20" y="420.60" font-size="29" text-anchor="start" fill="#000" >f</text>
<text x="451.20" y="420.80" font-size="29" text-anchor="start" fill="#000" >g</text>
<defs><clipPath id="cup"><rect x="45.9" y="196.4" width="172.6" height="125.16"/></clipPath><clipPath id="clo"><rect x="45.9" y="321.56" width="172.6" height="46.44"/></clipPath><pattern id="stripes" x="0" y="0" width="4.8" height="10" patternUnits="userSpaceOnUse"><rect x="0" y="0" width="1.6" height="10" fill="#fff" fill-opacity="0.11"/></pattern></defs>
<g clip-path="url(#cup)"><path d="M53.57,368.00 L53.57,367.75 L54.53,367.75 L54.53,367.73 L55.49,367.73 L55.49,367.66 L56.45,367.66 L56.45,368.00 L57.41,368.00 L57.41,367.49 L58.37,367.49 L58.37,367.35 L59.32,367.35 L59.32,367.09 L60.28,367.09 L60.28,367.09 L61.24,367.09 L61.24,366.53 L62.20,366.53 L62.20,366.46 L63.16,366.46 L63.16,366.66 L64.12,366.66 L64.12,365.01 L65.08,365.01 L65.08,364.29 L66.04,364.29 L66.04,362.51 L67.00,362.51 L67.00,362.87 L67.95,362.87 L67.95,362.32 L68.91,362.32 L68.91,361.50 L69.87,361.50 L69.87,361.70 L70.83,361.70 L70.83,357.54 L71.79,357.54 L71.79,358.92 L72.75,358.92 L72.75,357.84 L73.71,357.84 L73.71,355.19 L74.67,355.19 L74.67,351.00 L75.63,351.00 L75.63,351.11 L76.58,351.11 L76.58,351.46 L77.54,351.46 L77.54,349.15 L78.50,349.15 L78.50,344.82 L79.46,344.82 L79.46,344.51 L80.42,344.51 L80.42,343.95 L81.38,343.95 L81.38,341.03 L82.34,341.03 L82.34,337.03 L83.30,337.03 L83.30,332.28 L84.26,332.28 L84.26,337.81 L85.21,337.81 L85.21,334.51 L86.17,334.51 L86.17,333.10 L87.13,333.10 L87.13,335.12 L88.09,335.12 L88.09,328.97 L89.05,328.97 L89.05,326.91 L90.01,326.91 L90.01,318.61 L90.97,318.61 L90.97,319.70 L91.93,319.70 L91.93,321.16 L92.89,321.16 L92.89,311.00 L93.84,311.00 L93.84,310.63 L94.80,310.63 L94.80,311.68 L95.76,311.68 L95.76,304.61 L96.72,304.61 L96.72,301.19 L97.68,301.19 L97.68,298.79 L98.64,298.79 L98.64,292.73 L99.60,292.73 L99.60,298.51 L100.56,298.51 L100.56,289.00 L101.52,289.00 L101.52,281.86 L102.47,281.86 L102.47,280.00 L103.43,280.00 L103.43,276.49 L104.39,276.49 L104.39,273.80 L105.35,273.80 L105.35,269.71 L106.31,269.71 L106.31,277.84 L107.27,277.84 L107.27,268.29 L108.23,268.29 L108.23,277.48 L109.19,277.48 L109.19,274.34 L110.15,274.34 L110.15,281.47 L111.10,281.47 L111.10,271.75 L112.06,271.75 L112.06,271.05 L113.02,271.05 L113.02,275.90 L113.98,275.90 L113.98,266.95 L114.94,266.95 L114.94,274.91 L115.90,274.91 L115.90,269.24 L116.86,269.24 L116.86,266.86 L117.82,266.86 L117.82,269.53 L118.78,269.53 L118.78,263.13 L119.73,263.13 L119.73,259.00 L120.69,259.00 L120.69,273.12 L121.65,273.12 L121.65,267.53 L122.61,267.53 L122.61,274.12 L123.57,274.12 L123.57,268.94 L124.53,268.94 L124.53,276.37 L125.49,276.37 L125.49,277.99 L126.45,277.99 L126.45,280.44 L127.41,280.44 L127.41,284.23 L128.36,284.23 L128.36,292.56 L129.32,292.56 L129.32,284.72 L130.28,284.72 L130.28,296.91 L131.24,296.91 L131.24,293.42 L132.20,293.42 L132.20,294.28 L133.16,294.28 L133.16,301.40 L134.12,301.40 L134.12,300.22 L135.08,300.22 L135.08,299.01 L136.04,299.01 L136.04,305.08 L136.99,305.08 L136.99,309.94 L137.95,309.94 L137.95,318.30 L138.91,318.30 L138.91,314.23 L139.87,314.23 L139.87,315.09 L140.83,315.09 L140.83,316.90 L141.79,316.90 L141.79,320.22 L142.75,320.22 L142.75,318.42 L143.71,318.42 L143.71,323.16 L144.67,323.16 L144.67,323.92 L145.62,323.92 L145.62,323.89 L146.58,323.89 L146.58,329.97 L147.54,329.97 L147.54,330.57 L148.50,330.57 L148.50,326.59 L149.46,326.59 L149.46,331.86 L150.42,331.86 L150.42,338.99 L151.38,338.99 L151.38,338.08 L152.34,338.08 L152.34,338.39 L153.30,338.39 L153.30,338.74 L154.25,338.74 L154.25,342.76 L155.21,342.76 L155.21,345.82 L156.17,345.82 L156.17,347.88 L157.13,347.88 L157.13,347.05 L158.09,347.05 L158.09,349.40 L159.05,349.40 L159.05,352.51 L160.01,352.51 L160.01,353.67 L160.97,353.67 L160.97,355.29 L161.93,355.29 L161.93,354.49 L162.88,354.49 L162.88,357.35 L163.84,357.35 L163.84,356.60 L164.80,356.60 L164.80,357.02 L165.76,357.02 L165.76,358.37 L166.72,358.37 L166.72,360.80 L167.68,360.80 L167.68,359.21 L168.64,359.21 L168.64,362.25 L169.60,362.25 L169.60,362.00 L170.56,362.00 L170.56,363.74 L171.51,363.74 L171.51,365.00 L172.47,365.00 L172.47,363.73 L173.43,363.73 L173.43,364.12 L174.39,364.12 L174.39,364.83 L175.35,364.83 L175.35,365.02 L176.31,365.02 L176.31,366.04 L177.27,366.04 L177.27,366.48 L178.23,366.48 L178.23,366.58 L179.19,366.58 L179.19,366.12 L180.14,366.12 L180.14,366.85 L181.10,366.85 L181.10,367.38 L182.06,367.38 L182.06,367.02 L183.02,367.02 L183.02,367.42 L183.98,367.42 L183.98,367.45 L184.94,367.45 L184.94,367.03 L185.90,367.03 L185.90,367.53 L186.86,367.53 L186.86,367.92 L187.82,367.92 L187.82,367.70 L188.77,367.70 L188.77,367.43 L189.73,367.43 L189.73,367.45 L190.69,367.45 L190.69,367.17 L191.65,367.17 L191.65,367.75 L192.61,367.75 L192.61,367.39 L193.57,367.39 L193.57,367.51 L194.53,367.51 L194.53,367.69 L195.49,367.69 L195.49,367.49 L196.45,367.49 L196.45,367.61 L197.40,367.61 L197.40,367.93 L198.36,367.93 L198.36,367.58 L199.32,367.58 L199.32,368.00 L200.28,368.00 L200.28,367.84 L201.24,367.84 L201.24,367.88 L202.20,367.88 L202.20,367.87 L203.16,367.87 L203.16,368.00 L204.12,368.00 L204.12,367.99 L205.08,367.99 L205.08,368.00 Z" fill="#2e5d84"/><path d="M53.57,368.00 L53.57,368.00 L54.53,368.00 L54.53,368.00 L55.49,368.00 L55.49,368.00 L56.45,368.00 L56.45,368.00 L57.41,368.00 L57.41,368.00 L58.37,368.00 L58.37,368.00 L59.32,368.00 L59.32,368.00 L60.28,368.00 L60.28,368.00 L61.24,368.00 L61.24,368.00 L62.20,368.00 L62.20,368.00 L63.16,368.00 L63.16,368.00 L64.12,368.00 L64.12,368.00 L65.08,368.00 L65.08,368.00 L66.04,368.00 L66.04,368.00 L67.00,368.00 L67.00,368.00 L67.95,368.00 L67.95,368.00 L68.91,368.00 L68.91,368.00 L69.87,368.00 L69.87,368.00 L70.83,368.00 L70.83,368.00 L71.79,368.00 L71.79,368.00 L72.75,368.00 L72.75,368.00 L73.71,368.00 L73.71,368.00 L74.67,368.00 L74.67,368.00 L75.63,368.00 L75.63,368.00 L76.58,368.00 L76.58,368.00 L77.54,368.00 L77.54,368.00 L78.50,368.00 L78.50,368.00 L79.46,368.00 L79.46,368.00 L80.42,368.00 L80.42,367.95 L81.38,367.95 L81.38,367.50 L82.34,367.50 L82.34,367.19 L83.30,367.19 L83.30,367.43 L84.26,367.43 L84.26,367.29 L85.21,367.29 L85.21,367.55 L86.17,367.55 L86.17,366.77 L87.13,366.77 L87.13,366.35 L88.09,366.35 L88.09,365.94 L89.05,365.94 L89.05,366.35 L90.01,366.35 L90.01,364.33 L90.97,364.33 L90.97,364.50 L91.93,364.50 L91.93,365.07 L92.89,365.07 L92.89,365.10 L93.84,365.10 L93.84,364.63 L94.80,364.63 L94.80,363.89 L95.76,363.89 L95.76,363.66 L96.72,363.66 L96.72,362.85 L97.68,362.85 L97.68,362.21 L98.64,362.21 L98.64,361.25 L99.60,361.25 L99.60,361.06 L100.56,361.06 L100.56,361.93 L101.52,361.93 L101.52,360.82 L102.47,360.82 L102.47,360.85 L103.43,360.85 L103.43,360.30 L104.39,360.30 L104.39,356.43 L105.35,356.43 L105.35,358.58 L106.31,358.58 L106.31,354.50 L107.27,354.50 L107.27,356.85 L108.23,356.85 L108.23,355.03 L109.19,355.03 L109.19,352.62 L110.15,352.62 L110.15,353.10 L111.10,353.10 L111.10,351.36 L112.06,351.36 L112.06,351.28 L113.02,351.28 L113.02,350.57 L113.98,350.57 L113.98,348.91 L114.94,348.91 L114.94,348.48 L115.90,348.48 L115.90,342.58 L116.86,342.58 L116.86,344.51 L117.82,344.51 L117.82,339.09 L118.78,339.09 L118.78,346.77 L119.73,346.77 L119.73,339.49 L120.69,339.49 L120.69,336.50 L121.65,336.50 L121.65,336.45 L122.61,336.45 L122.61,331.16 L123.57,331.16 L123.57,330.21 L124.53,330.21 L124.53,330.47 L125.49,330.47 L125.49,325.81 L126.45,325.81 L126.45,315.61 L127.41,315.61 L127.41,318.90 L128.36,318.90 L128.36,315.06 L129.32,315.06 L129.32,313.61 L130.28,313.61 L130.28,308.18 L131.24,308.18 L131.24,309.17 L132.20,309.17 L132.20,302.12 L133.16,302.12 L133.16,289.53 L134.12,289.53 L134.12,290.65 L135.08,290.65 L135.08,288.55 L136.04,288.55 L136.04,283.26 L136.99,283.26 L136.99,276.72 L137.95,276.72 L137.95,276.08 L138.91,276.08 L138.91,262.79 L139.87,262.79 L139.87,259.39 L140.83,259.39 L140.83,255.87 L141.79,255.87 L141.79,241.68 L142.75,241.68 L142.75,256.88 L143.71,256.88 L143.71,245.81 L144.67,245.81 L144.67,238.92 L145.62,238.92 L145.62,241.32 L146.58,241.32 L146.58,235.25 L147.54,235.25 L147.54,235.42 L148.50,235.42 L148.50,233.43 L149.46,233.43 L149.46,215.77 L150.42,215.77 L150.42,223.36 L151.38,223.36 L151.38,224.88 L152.34,224.88 L152.34,217.30 L153.30,217.30 L153.30,223.27 L154.25,223.27 L154.25,216.84 L155.21,216.84 L155.21,220.27 L156.17,220.27 L156.17,215.31 L157.13,215.31 L157.13,230.39 L158.09,230.39 L158.09,221.21 L159.05,221.21 L159.05,225.62 L160.01,225.62 L160.01,233.44 L160.97,233.44 L160.97,225.03 L161.93,225.03 L161.93,235.90 L162.88,235.90 L162.88,226.25 L163.84,226.25 L163.84,234.69 L164.80,234.69 L164.80,238.61 L165.76,238.61 L165.76,246.16 L166.72,246.16 L166.72,247.27 L167.68,247.27 L167.68,264.04 L168.64,264.04 L168.64,260.40 L169.60,260.40 L169.60,269.09 L170.56,269.09 L170.56,272.23 L171.51,272.23 L171.51,280.39 L172.47,280.39 L172.47,284.80 L173.43,284.80 L173.43,296.85 L174.39,296.85 L174.39,294.61 L175.35,294.61 L175.35,299.27 L176.31,299.27 L176.31,312.28 L177.27,312.28 L177.27,316.66 L178.23,316.66 L178.23,320.79 L179.19,320.79 L179.19,323.24 L180.14,323.24 L180.14,326.86 L181.10,326.86 L181.10,338.31 L182.06,338.31 L182.06,340.82 L183.02,340.82 L183.02,345.60 L183.98,345.60 L183.98,349.48 L184.94,349.48 L184.94,354.12 L185.90,354.12 L185.90,353.80 L186.86,353.80 L186.86,357.90 L187.82,357.90 L187.82,356.30 L188.77,356.30 L188.77,359.11 L189.73,359.11 L189.73,362.65 L190.69,362.65 L190.69,363.50 L191.65,363.50 L191.65,363.98 L192.61,363.98 L192.61,363.28 L193.57,363.28 L193.57,365.87 L194.53,365.87 L194.53,366.81 L195.49,366.81 L195.49,366.31 L196.45,366.31 L196.45,366.45 L197.40,366.45 L197.40,367.24 L198.36,367.24 L198.36,366.76 L199.32,366.76 L199.32,367.46 L200.28,367.46 L200.28,367.50 L201.24,367.50 L201.24,367.89 L202.20,367.89 L202.20,367.79 L203.16,367.79 L203.16,367.89 L204.12,367.89 L204.12,368.00 L205.08,368.00 L205.08,368.00 Z" fill="#6b3a73"/></g>
<g clip-path="url(#clo)"><path d="M53.57,368.00 L53.57,367.75 L54.53,367.75 L54.53,367.73 L55.49,367.73 L55.49,367.66 L56.45,367.66 L56.45,368.00 L57.41,368.00 L57.41,367.49 L58.37,367.49 L58.37,367.35 L59.32,367.35 L59.32,367.09 L60.28,367.09 L60.28,367.09 L61.24,367.09 L61.24,366.53 L62.20,366.53 L62.20,366.46 L63.16,366.46 L63.16,366.66 L64.12,366.66 L64.12,365.01 L65.08,365.01 L65.08,364.29 L66.04,364.29 L66.04,362.51 L67.00,362.51 L67.00,362.87 L67.95,362.87 L67.95,362.32 L68.91,362.32 L68.91,361.50 L69.87,361.50 L69.87,361.70 L70.83,361.70 L70.83,357.54 L71.79,357.54 L71.79,358.92 L72.75,358.92 L72.75,357.84 L73.71,357.84 L73.71,355.19 L74.67,355.19 L74.67,351.00 L75.63,351.00 L75.63,351.11 L76.58,351.11 L76.58,351.46 L77.54,351.46 L77.54,349.15 L78.50,349.15 L78.50,344.82 L79.46,344.82 L79.46,344.51 L80.42,344.51 L80.42,343.95 L81.38,343.95 L81.38,341.03 L82.34,341.03 L82.34,337.03 L83.30,337.03 L83.30,332.28 L84.26,332.28 L84.26,337.81 L85.21,337.81 L85.21,334.51 L86.17,334.51 L86.17,333.10 L87.13,333.10 L87.13,335.12 L88.09,335.12 L88.09,328.97 L89.05,328.97 L89.05,326.91 L90.01,326.91 L90.01,318.61 L90.97,318.61 L90.97,319.70 L91.93,319.70 L91.93,321.16 L92.89,321.16 L92.89,311.00 L93.84,311.00 L93.84,310.63 L94.80,310.63 L94.80,311.68 L95.76,311.68 L95.76,304.61 L96.72,304.61 L96.72,301.19 L97.68,301.19 L97.68,298.79 L98.64,298.79 L98.64,292.73 L99.60,292.73 L99.60,298.51 L100.56,298.51 L100.56,289.00 L101.52,289.00 L101.52,281.86 L102.47,281.86 L102.47,280.00 L103.43,280.00 L103.43,276.49 L104.39,276.49 L104.39,273.80 L105.35,273.80 L105.35,269.71 L106.31,269.71 L106.31,277.84 L107.27,277.84 L107.27,268.29 L108.23,268.29 L108.23,277.48 L109.19,277.48 L109.19,274.34 L110.15,274.34 L110.15,281.47 L111.10,281.47 L111.10,271.75 L112.06,271.75 L112.06,271.05 L113.02,271.05 L113.02,275.90 L113.98,275.90 L113.98,266.95 L114.94,266.95 L114.94,274.91 L115.90,274.91 L115.90,269.24 L116.86,269.24 L116.86,266.86 L117.82,266.86 L117.82,269.53 L118.78,269.53 L118.78,263.13 L119.73,263.13 L119.73,259.00 L120.69,259.00 L120.69,273.12 L121.65,273.12 L121.65,267.53 L122.61,267.53 L122.61,274.12 L123.57,274.12 L123.57,268.94 L124.53,268.94 L124.53,276.37 L125.49,276.37 L125.49,277.99 L126.45,277.99 L126.45,280.44 L127.41,280.44 L127.41,284.23 L128.36,284.23 L128.36,292.56 L129.32,292.56 L129.32,284.72 L130.28,284.72 L130.28,296.91 L131.24,296.91 L131.24,293.42 L132.20,293.42 L132.20,294.28 L133.16,294.28 L133.16,301.40 L134.12,301.40 L134.12,300.22 L135.08,300.22 L135.08,299.01 L136.04,299.01 L136.04,305.08 L136.99,305.08 L136.99,309.94 L137.95,309.94 L137.95,318.30 L138.91,318.30 L138.91,314.23 L139.87,314.23 L139.87,315.09 L140.83,315.09 L140.83,316.90 L141.79,316.90 L141.79,320.22 L142.75,320.22 L142.75,318.42 L143.71,318.42 L143.71,323.16 L144.67,323.16 L144.67,323.92 L145.62,323.92 L145.62,323.89 L146.58,323.89 L146.58,329.97 L147.54,329.97 L147.54,330.57 L148.50,330.57 L148.50,326.59 L149.46,326.59 L149.46,331.86 L150.42,331.86 L150.42,338.99 L151.38,338.99 L151.38,338.08 L152.34,338.08 L152.34,338.39 L153.30,338.39 L153.30,338.74 L154.25,338.74 L154.25,342.76 L155.21,342.76 L155.21,345.82 L156.17,345.82 L156.17,347.88 L157.13,347.88 L157.13,347.05 L158.09,347.05 L158.09,349.40 L159.05,349.40 L159.05,352.51 L160.01,352.51 L160.01,353.67 L160.97,353.67 L160.97,355.29 L161.93,355.29 L161.93,354.49 L162.88,354.49 L162.88,357.35 L163.84,357.35 L163.84,356.60 L164.80,356.60 L164.80,357.02 L165.76,357.02 L165.76,358.37 L166.72,358.37 L166.72,360.80 L167.68,360.80 L167.68,359.21 L168.64,359.21 L168.64,362.25 L169.60,362.25 L169.60,362.00 L170.56,362.00 L170.56,363.74 L171.51,363.74 L171.51,365.00 L172.47,365.00 L172.47,363.73 L173.43,363.73 L173.43,364.12 L174.39,364.12 L174.39,364.83 L175.35,364.83 L175.35,365.02 L176.31,365.02 L176.31,366.04 L177.27,366.04 L177.27,366.48 L178.23,366.48 L178.23,366.58 L179.19,366.58 L179.19,366.12 L180.14,366.12 L180.14,366.85 L181.10,366.85 L181.10,367.38 L182.06,367.38 L182.06,367.02 L183.02,367.02 L183.02,367.42 L183.98,367.42 L183.98,367.45 L184.94,367.45 L184.94,367.03 L185.90,367.03 L185.90,367.53 L186.86,367.53 L186.86,367.92 L187.82,367.92 L187.82,367.70 L188.77,367.70 L188.77,367.43 L189.73,367.43 L189.73,367.45 L190.69,367.45 L190.69,367.17 L191.65,367.17 L191.65,367.75 L192.61,367.75 L192.61,367.39 L193.57,367.39 L193.57,367.51 L194.53,367.51 L194.53,367.69 L195.49,367.69 L195.49,367.49 L196.45,367.49 L196.45,367.61 L197.40,367.61 L197.40,367.93 L198.36,367.93 L198.36,367.58 L199.32,367.58 L199.32,368.00 L200.28,368.00 L200.28,367.84 L201.24,367.84 L201.24,367.88 L202.20,367.88 L202.20,367.87 L203.16,367.87 L203.16,368.00 L204.12,368.00 L204.12,367.99 L205.08,367.99 L205.08,368.00 Z" fill="#3d6a93"/><path d="M53.57,368.00 L53.57,368.00 L54.53,368.00 L54.53,368.00 L55.49,368.00 L55.49,368.00 L56.45,368.00 L56.45,368.00 L57.41,368.00 L57.41,368.00 L58.37,368.00 L58.37,368.00 L59.32,368.00 L59.32,368.00 L60.28,368.00 L60.28,368.00 L61.24,368.00 L61.24,368.00 L62.20,368.00 L62.20,368.00 L63.16,368.00 L63.16,368.00 L64.12,368.00 L64.12,368.00 L65.08,368.00 L65.08,368.00 L66.04,368.00 L66.04,368.00 L67.00,368.00 L67.00,368.00 L67.95,368.00 L67.95,368.00 L68.91,368.00 L68.91,368.00 L69.87,368.00 L69.87,368.00 L70.83,368.00 L70.83,368.00 L71.79,368.00 L71.79,368.00 L72.75,368.00 L72.75,368.00 L73.71,368.00 L73.71,368.00 L74.67,368.00 L74.67,368.00 L75.63,368.00 L75.63,368.00 L76.58,368.00 L76.58,368.00 L77.54,368.00 L77.54,368.00 L78.50,368.00 L78.50,368.00 L79.46,368.00 L79.46,368.00 L80.42,368.00 L80.42,367.95 L81.38,367.95 L81.38,367.50 L82.34,367.50 L82.34,367.19 L83.30,367.19 L83.30,367.43 L84.26,367.43 L84.26,367.29 L85.21,367.29 L85.21,367.55 L86.17,367.55 L86.17,366.77 L87.13,366.77 L87.13,366.35 L88.09,366.35 L88.09,365.94 L89.05,365.94 L89.05,366.35 L90.01,366.35 L90.01,364.33 L90.97,364.33 L90.97,364.50 L91.93,364.50 L91.93,365.07 L92.89,365.07 L92.89,365.10 L93.84,365.10 L93.84,364.63 L94.80,364.63 L94.80,363.89 L95.76,363.89 L95.76,363.66 L96.72,363.66 L96.72,362.85 L97.68,362.85 L97.68,362.21 L98.64,362.21 L98.64,361.25 L99.60,361.25 L99.60,361.06 L100.56,361.06 L100.56,361.93 L101.52,361.93 L101.52,360.82 L102.47,360.82 L102.47,360.85 L103.43,360.85 L103.43,360.30 L104.39,360.30 L104.39,356.43 L105.35,356.43 L105.35,358.58 L106.31,358.58 L106.31,354.50 L107.27,354.50 L107.27,356.85 L108.23,356.85 L108.23,355.03 L109.19,355.03 L109.19,352.62 L110.15,352.62 L110.15,353.10 L111.10,353.10 L111.10,351.36 L112.06,351.36 L112.06,351.28 L113.02,351.28 L113.02,350.57 L113.98,350.57 L113.98,348.91 L114.94,348.91 L114.94,348.48 L115.90,348.48 L115.90,342.58 L116.86,342.58 L116.86,344.51 L117.82,344.51 L117.82,339.09 L118.78,339.09 L118.78,346.77 L119.73,346.77 L119.73,339.49 L120.69,339.49 L120.69,336.50 L121.65,336.50 L121.65,336.45 L122.61,336.45 L122.61,331.16 L123.57,331.16 L123.57,330.21 L124.53,330.21 L124.53,330.47 L125.49,330.47 L125.49,325.81 L126.45,325.81 L126.45,315.61 L127.41,315.61 L127.41,318.90 L128.36,318.90 L128.36,315.06 L129.32,315.06 L129.32,313.61 L130.28,313.61 L130.28,308.18 L131.24,308.18 L131.24,309.17 L132.20,309.17 L132.20,302.12 L133.16,302.12 L133.16,289.53 L134.12,289.53 L134.12,290.65 L135.08,290.65 L135.08,288.55 L136.04,288.55 L136.04,283.26 L136.99,283.26 L136.99,276.72 L137.95,276.72 L137.95,276.08 L138.91,276.08 L138.91,262.79 L139.87,262.79 L139.87,259.39 L140.83,259.39 L140.83,255.87 L141.79,255.87 L141.79,241.68 L142.75,241.68 L142.75,256.88 L143.71,256.88 L143.71,245.81 L144.67,245.81 L144.67,238.92 L145.62,238.92 L145.62,241.32 L146.58,241.32 L146.58,235.25 L147.54,235.25 L147.54,235.42 L148.50,235.42 L148.50,233.43 L149.46,233.43 L149.46,215.77 L150.42,215.77 L150.42,223.36 L151.38,223.36 L151.38,224.88 L152.34,224.88 L152.34,217.30 L153.30,217.30 L153.30,223.27 L154.25,223.27 L154.25,216.84 L155.21,216.84 L155.21,220.27 L156.17,220.27 L156.17,215.31 L157.13,215.31 L157.13,230.39 L158.09,230.39 L158.09,221.21 L159.05,221.21 L159.05,225.62 L160.01,225.62 L160.01,233.44 L160.97,233.44 L160.97,225.03 L161.93,225.03 L161.93,235.90 L162.88,235.90 L162.88,226.25 L163.84,226.25 L163.84,234.69 L164.80,234.69 L164.80,238.61 L165.76,238.61 L165.76,246.16 L166.72,246.16 L166.72,247.27 L167.68,247.27 L167.68,264.04 L168.64,264.04 L168.64,260.40 L169.60,260.40 L169.60,269.09 L170.56,269.09 L170.56,272.23 L171.51,272.23 L171.51,280.39 L172.47,280.39 L172.47,284.80 L173.43,284.80 L173.43,296.85 L174.39,296.85 L174.39,294.61 L175.35,294.61 L175.35,299.27 L176.31,299.27 L176.31,312.28 L177.27,312.28 L177.27,316.66 L178.23,316.66 L178.23,320.79 L179.19,320.79 L179.19,323.24 L180.14,323.24 L180.14,326.86 L181.10,326.86 L181.10,338.31 L182.06,338.31 L182.06,340.82 L183.02,340.82 L183.02,345.60 L183.98,345.60 L183.98,349.48 L184.94,349.48 L184.94,354.12 L185.90,354.12 L185.90,353.80 L186.86,353.80 L186.86,357.90 L187.82,357.90 L187.82,356.30 L188.77,356.30 L188.77,359.11 L189.73,359.11 L189.73,362.65 L190.69,362.65 L190.69,363.50 L191.65,363.50 L191.65,363.98 L192.61,363.98 L192.61,363.28 L193.57,363.28 L193.57,365.87 L194.53,365.87 L194.53,366.81 L195.49,366.81 L195.49,366.31 L196.45,366.31 L196.45,366.45 L197.40,366.45 L197.40,367.24 L198.36,367.24 L198.36,366.76 L199.32,366.76 L199.32,367.46 L200.28,367.46 L200.28,367.50 L201.24,367.50 L201.24,367.89 L202.20,367.89 L202.20,367.79 L203.16,367.79 L203.16,367.89 L204.12,367.89 L204.12,368.00 L205.08,368.00 L205.08,368.00 Z" fill="#72437c"/><rect x="90.96777777777777" y="321.56" width="91.09444444444443" height="46.44" fill="url(#stripes)"/></g>
<rect x="52.9" y="205.8" width="27.2" height="12.9" fill="#6b3a73"/>
<rect x="52.9" y="220.1" width="27.2" height="13.5" fill="#2e5d84"/>
<text x="83.20" y="216.50" font-size="12.3" text-anchor="start" fill="#000" >YZr-Q</text>
<text x="83.20" y="230.60" font-size="12.3" text-anchor="start" fill="#000" >YZr-N</text>
<rect x="45.9" y="196.4" width="172.6" height="171.6" fill="none" stroke="#3a3a3a" stroke-width="1.2"/>
<line x1="45.90" y1="368.00" x2="45.90" y2="371.50" stroke="#3a3a3a" stroke-width="1.2" />
<text x="45.90" y="383.60" font-size="12.6" text-anchor="middle" fill="#000" >0</text>
<line x1="55.49" y1="368.00" x2="55.49" y2="370.00" stroke="#3a3a3a" stroke-width="1.2" />
<line x1="65.08" y1="368.00" x2="65.08" y2="371.50" stroke="#3a3a3a" stroke-width="1.2" />
<text x="65.08" y="383.60" font-size="12.6" text-anchor="middle" fill="#000" >2</text>
<line x1="74.67" y1="368.00" x2="74.67" y2="370.00" stroke="#3a3a3a" stroke-width="1.2" />
<line x1="84.26" y1="368.00" x2="84.26" y2="371.50" stroke="#3a3a3a" stroke-width="1.2" />
<text x="84.26" y="383.60" font-size="12.6" text-anchor="middle" fill="#000" >4</text>
<line x1="93.84" y1="368.00" x2="93.84" y2="370.00" stroke="#3a3a3a" stroke-width="1.2" />
<line x1="103.43" y1="368.00" x2="103.43" y2="371.50" stroke="#3a3a3a" stroke-width="1.2" />
<text x="103.43" y="383.60" font-size="12.6" text-anchor="middle" fill="#000" >6</text>
<line x1="113.02" y1="368.00" x2="113.02" y2="370.00" stroke="#3a3a3a" stroke-width="1.2" />
<line x1="122.61" y1="368.00" x2="122.61" y2="371.50" stroke="#3a3a3a" stroke-width="1.2" />
<text x="122.61" y="383.60" font-size="12.6" text-anchor="middle" fill="#000" >8</text>
<line x1="132.20" y1="368.00" x2="132.20" y2="370.00" stroke="#3a3a3a" stroke-width="1.2" />
<line x1="141.79" y1="368.00" x2="141.79" y2="371.50" stroke="#3a3a3a" stroke-width="1.2" />
<text x="141.79" y="383.60" font-size="12.6" text-anchor="middle" fill="#000" >10</text>
<line x1="151.38" y1="368.00" x2="151.38" y2="370.00" stroke="#3a3a3a" stroke-width="1.2" />
<line x1="160.97" y1="368.00" x2="160.97" y2="371.50" stroke="#3a3a3a" stroke-width="1.2" />
<text x="160.97" y="383.60" font-size="12.6" text-anchor="middle" fill="#000" >12</text>
<line x1="170.56" y1="368.00" x2="170.56" y2="370.00" stroke="#3a3a3a" stroke-width="1.2" />
<line x1="180.14" y1="368.00" x2="180.14" y2="371.50" stroke="#3a3a3a" stroke-width="1.2" />
<text x="180.14" y="383.60" font-size="12.6" text-anchor="middle" fill="#000" >14</text>
<line x1="189.73" y1="368.00" x2="189.73" y2="370.00" stroke="#3a3a3a" stroke-width="1.2" />
<line x1="199.32" y1="368.00" x2="199.32" y2="371.50" stroke="#3a3a3a" stroke-width="1.2" />
<text x="199.32" y="383.60" font-size="12.6" text-anchor="middle" fill="#000" >16</text>
<line x1="208.91" y1="368.00" x2="208.91" y2="370.00" stroke="#3a3a3a" stroke-width="1.2" />
<line x1="218.50" y1="368.00" x2="218.50" y2="371.50" stroke="#3a3a3a" stroke-width="1.2" />
<text x="218.50" y="383.60" font-size="12.6" text-anchor="middle" fill="#000" >18</text>
<line x1="45.90" y1="350.80" x2="43.90" y2="350.80" stroke="#3a3a3a" stroke-width="1.2" />
<line x1="45.90" y1="333.60" x2="42.40" y2="333.60" stroke="#3a3a3a" stroke-width="1.2" />
<text x="40.60" y="338.00" font-size="12.4" text-anchor="end" fill="#000" >0.2</text>
<line x1="45.90" y1="316.40" x2="43.90" y2="316.40" stroke="#3a3a3a" stroke-width="1.2" />
<line x1="45.90" y1="299.20" x2="42.40" y2="299.20" stroke="#3a3a3a" stroke-width="1.2" />
<text x="40.60" y="303.60" font-size="12.4" text-anchor="end" fill="#000" >0.4</text>
<line x1="45.90" y1="282.00" x2="43.90" y2="282.00" stroke="#3a3a3a" stroke-width="1.2" />
<line x1="45.90" y1="264.80" x2="42.40" y2="264.80" stroke="#3a3a3a" stroke-width="1.2" />
<text x="40.60" y="269.20" font-size="12.4" text-anchor="end" fill="#000" >0.6</text>
<line x1="45.90" y1="247.60" x2="43.90" y2="247.60" stroke="#3a3a3a" stroke-width="1.2" />
<line x1="45.90" y1="230.40" x2="42.40" y2="230.40" stroke="#3a3a3a" stroke-width="1.2" />
<text x="40.60" y="234.80" font-size="12.4" text-anchor="end" fill="#000" >0.8</text>
<line x1="45.90" y1="213.20" x2="43.90" y2="213.20" stroke="#3a3a3a" stroke-width="1.2" />
<text x="1.00" y="0.00" font-size="1" text-anchor="start" fill="#000" ></text>
<text x="40.60" y="200.40" font-size="12.4" text-anchor="end" fill="#000" >1.0</text>
<line x1="45.90" y1="196.40" x2="42.40" y2="196.40" stroke="#3a3a3a" stroke-width="1.2" />
<text x="132.60" y="398.30" font-size="13.7" text-anchor="middle" fill="#000" >Young’s Modulus (GPa)</text>
<text transform="translate(17.4,281.3) rotate(-90)" font-size="13.9" text-anchor="middle">Counts (%)</text>
<path d="M272.70,339.09 L273.13,339.12 L273.57,339.14 L274.00,339.17 L274.43,339.20 L274.87,339.22 L275.30,339.25 L275.73,339.28 L276.17,339.31 L276.60,339.34 L277.03,339.37 L277.47,339.39 L277.90,339.42 L278.33,339.45 L278.77,339.48 L279.20,339.50 L279.63,339.53 L280.07,339.55 L280.50,339.58 L280.93,339.60 L281.37,339.62 L281.80,339.64 L282.23,339.66 L282.67,339.68 L283.10,339.70 L283.53,339.71 L283.97,339.73 L284.40,339.74 L284.83,339.75 L285.27,339.76 L285.70,339.77 L286.13,339.77 L286.57,339.78 L287.00,339.78 L287.43,339.78 L287.87,339.78 L288.30,339.77 L288.73,339.77 L289.17,339.76 L289.60,339.76 L290.03,339.75 L290.47,339.74 L290.90,339.72 L291.33,339.71 L291.77,339.69 L292.20,339.68 L292.63,339.66 L293.07,339.64 L293.50,339.62 L293.93,339.60 L294.37,339.58 L294.80,339.56 L295.23,339.54 L295.67,339.52 L296.10,339.49 L296.53,339.47 L296.97,339.45 L297.40,339.42 L297.83,339.40 L298.27,339.38 L298.70,339.36 L299.13,339.33 L299.57,339.31 L300.00,339.29 L300.43,339.27 L300.87,339.25 L301.30,339.23 L301.73,339.21 L302.17,339.20 L302.60,339.18 L303.03,339.16 L303.47,339.15 L303.90,339.14 L304.33,339.13 L304.77,339.12 L305.20,339.11 L305.63,339.11 L306.07,339.10 L306.50,339.10 L306.93,339.10 L307.37,339.10 L307.80,339.10 L308.23,339.10 L308.67,339.11 L309.10,339.12 L309.53,339.12 L309.97,339.13 L310.40,339.15 L310.83,339.16 L311.27,339.17 L311.70,339.19 L312.13,339.20 L312.57,339.22 L313.00,339.24 L313.43,339.26 L313.87,339.28 L314.30,339.30 L314.73,339.33 L315.17,339.35 L315.60,339.37 L316.03,339.40 L316.47,339.42 L316.90,339.45 L317.33,339.47 L317.77,339.50 L318.20,339.52 L318.63,339.55 L319.07,339.57 L319.50,339.60 L319.93,339.62 L320.37,339.64 L320.80,339.67 L321.23,339.69 L321.67,339.71 L322.10,339.73 L322.53,339.75 L322.97,339.76 L323.40,339.78 L323.83,339.79 L324.27,339.81 L324.70,339.82 L325.13,339.83 L325.57,339.84 L326.00,339.85 L326.43,339.85 L326.87,339.85 L327.30,339.86 L327.73,339.86 L328.17,339.86 L328.60,339.85 L329.03,339.85 L329.47,339.84 L329.90,339.83 L330.33,339.82 L330.77,339.81 L331.20,339.80 L331.63,339.78 L332.07,339.76 L332.50,339.75 L332.93,339.73 L333.37,339.70 L333.80,339.68 L334.23,339.66 L334.67,339.63 L335.10,339.61 L335.53,339.58 L335.97,339.55 L336.40,339.52 L336.83,339.50 L337.27,339.47 L337.70,339.44 L338.13,339.40 L338.57,339.37 L339.00,339.34 L339.43,339.31 L339.87,339.28 L340.30,339.25 L340.73,339.22 L341.17,339.19 L341.60,339.16 L342.03,339.13 L342.47,339.10 L342.90,339.08 L343.33,339.05 L343.77,339.03 L344.20,339.00 L344.63,338.98 L345.07,338.96 L345.50,338.94 L345.93,338.92 L346.37,338.90 L346.80,338.88 L347.23,338.87 L347.67,338.86 L348.10,338.85 L348.53,338.84 L348.97,338.83 L349.40,338.82 L349.83,338.82 L350.27,338.82 L350.70,338.82 L351.13,338.82 L351.57,338.82 L352.00,338.83 L352.43,338.83 L352.87,338.84 L353.30,338.85 L353.73,338.86 L354.17,338.88 L354.60,338.89 L355.03,338.91 L355.47,338.92 L355.90,338.94 L356.33,338.96 L356.77,338.99 L357.20,339.01 L357.63,339.03 L358.07,339.06 L358.50,339.08 L358.93,339.11 L359.37,339.14 L359.80,339.16 L360.23,339.19 L360.67,339.22 L361.10,339.25 L361.53,339.28 L361.97,339.31 L362.40,339.34 L362.83,339.37 L363.27,339.40 L363.70,339.42 L364.13,339.45 L364.57,339.48 L365.00,339.51 L365.43,339.54 L365.87,339.56 L366.30,339.59 L366.73,339.61 L367.17,339.64 L367.60,339.66 L368.03,339.68 L368.47,339.70 L368.90,339.72 L369.33,339.74 L369.77,339.76 L370.20,339.78 L370.63,339.79 L371.07,339.80 L371.50,339.82 L371.93,339.83 L372.37,339.84 L372.80,339.85 L373.23,339.85 L373.67,339.86 L374.10,339.86 L374.53,339.87 L374.97,339.87 L375.40,339.87 L375.83,339.87 L376.27,339.87 L376.70,339.85 L377.13,339.83 L377.57,339.81 L378.00,339.79 L378.43,339.77 L378.87,339.75 L379.30,339.73 L379.73,339.72 L380.17,339.70 L380.60,339.68 L381.03,339.67 L381.47,339.66 L381.90,339.65 L382.33,339.64 L382.77,339.63 L383.20,339.62 L383.63,339.62 L384.07,339.62 L384.50,339.62 L384.93,339.62 L385.37,339.62 L385.80,339.63 L386.23,339.64 L386.67,339.65 L387.10,339.66 L387.53,339.67 L387.97,339.69 L388.40,339.72 L388.83,339.76 L389.27,339.82 L389.70,339.90 L390.13,339.98 L390.57,340.08 L391.00,340.18 L391.43,340.30 L391.87,340.42 L392.30,340.54 L392.73,340.67 L393.17,340.81 L393.60,340.94 L394.03,341.08 L394.47,341.23 L394.90,341.39 L395.33,341.57 L395.77,341.76 L396.20,341.96 L396.63,342.18 L397.07,342.40 L397.50,342.64 L397.93,342.88 L398.37,343.14 L398.80,343.41 L399.23,343.68 L399.67,343.97 L400.10,344.31 L400.53,344.69 L400.97,345.10 L401.40,345.53 L401.83,345.98 L402.27,346.43 L402.70,346.87 L403.13,347.28 L403.57,347.67 L404.00,348.03 L404.43,348.40 L404.87,348.80 L405.30,349.20 L405.73,349.58 L406.17,349.91 L406.60,350.18 L407.03,350.37 L407.47,350.46 L407.90,350.44 L408.33,350.34 L408.77,350.17 L409.20,349.96 L409.63,349.71 L410.07,349.22 L410.50,348.47 L410.93,347.62 L411.37,346.68 L411.80,345.55 L412.23,344.34 L412.67,343.14 L413.10,341.92 L413.53,340.66 L413.97,339.38 L414.40,338.07 L414.83,336.76 L415.27,335.43 L415.70,334.10 L416.13,332.76 L416.57,331.44 L417.00,330.12 L417.43,328.82 L417.87,327.52 L418.30,326.23 L418.73,324.95 L419.17,323.66 L419.60,322.38 L420.03,321.10 L420.47,319.81 L420.90,318.52 L421.33,317.22 L421.77,315.91 L422.20,314.60 L422.63,313.27 L423.07,311.93 L423.50,310.57 L423.93,309.20 L424.37,307.80 L424.80,306.39 L425.23,304.95 L425.67,303.49 L426.10,302.00 L426.53,300.50 L426.97,298.98 L427.40,297.44 L427.83,295.89 L428.27,294.32 L428.70,292.74 L429.13,291.14 L429.57,289.52 L430.00,287.89 L430.43,286.24 L430.87,284.58 L431.30,282.90 L431.73,281.20 L432.17,279.48 L432.60,277.75 L433.03,276.00 L433.47,274.23 L433.90,272.45 L434.33,270.65 L434.77,268.83 L435.20,266.99 L435.63,265.13 L436.07,263.26 L436.50,261.37 L436.93,259.46 L437.37,257.53 L437.80,255.58 L438.23,253.59 L438.67,251.57 L439.10,249.52 L439.53,247.44 L439.97,245.33 L440.40,243.18 L440.83,241.01 L441.27,238.81 L441.70,236.59 L442.13,234.34 L442.57,232.06 L443.00,229.77 L443.43,227.45 L443.87,225.11 L444.30,222.75 L444.73,220.37 L445.17,217.97 L445.60,215.56" fill="none" stroke="#e8202a" stroke-width="1.3"/>
<path d="M272.70,338.99 L273.13,339.01 L273.57,339.03 L274.00,339.05 L274.43,339.08 L274.87,339.10 L275.30,339.12 L275.73,339.14 L276.17,339.17 L276.60,339.19 L277.03,339.21 L277.47,339.23 L277.90,339.24 L278.33,339.26 L278.77,339.28 L279.20,339.29 L279.63,339.30 L280.07,339.31 L280.50,339.32 L280.93,339.33 L281.37,339.33 L281.80,339.34 L282.23,339.34 L282.67,339.34 L283.10,339.33 L283.53,339.33 L283.97,339.32 L284.40,339.32 L284.83,339.31 L285.27,339.30 L285.70,339.28 L286.13,339.27 L286.57,339.26 L287.00,339.24 L287.43,339.22 L287.87,339.21 L288.30,339.19 L288.73,339.17 L289.17,339.16 L289.60,339.14 L290.03,339.12 L290.47,339.11 L290.90,339.09 L291.33,339.08 L291.77,339.06 L292.20,339.05 L292.63,339.04 L293.07,339.03 L293.50,339.02 L293.93,339.02 L294.37,339.01 L294.80,339.01 L295.23,339.01 L295.67,339.02 L296.10,339.02 L296.53,339.03 L296.97,339.04 L297.40,339.05 L297.83,339.06 L298.27,339.08 L298.70,339.10 L299.13,339.12 L299.57,339.15 L300.00,339.17 L300.43,339.20 L300.87,339.23 L301.30,339.26 L301.73,339.29 L302.17,339.33 L302.60,339.36 L303.03,339.40 L303.47,339.44 L303.90,339.47 L304.33,339.51 L304.77,339.55 L305.20,339.59 L305.63,339.62 L306.07,339.66 L306.50,339.70 L306.93,339.73 L307.37,339.77 L307.80,339.80 L308.23,339.83 L308.67,339.86 L309.10,339.89 L309.53,339.91 L309.97,339.94 L310.40,339.96 L310.83,339.98 L311.27,339.99 L311.70,340.00 L312.13,340.01 L312.57,340.02 L313.00,340.02 L313.43,340.02 L313.87,340.02 L314.30,340.01 L314.73,340.00 L315.17,339.99 L315.60,339.97 L316.03,339.96 L316.47,339.93 L316.90,339.91 L317.33,339.88 L317.77,339.86 L318.20,339.82 L318.63,339.79 L319.07,339.76 L319.50,339.72 L319.93,339.68 L320.37,339.64 L320.80,339.60 L321.23,339.56 L321.67,339.52 L322.10,339.47 L322.53,339.43 L322.97,339.39 L323.40,339.35 L323.83,339.31 L324.27,339.27 L324.70,339.23 L325.13,339.19 L325.57,339.15 L326.00,339.12 L326.43,339.09 L326.87,339.06 L327.30,339.03 L327.73,339.01 L328.17,338.98 L328.60,338.96 L329.03,338.95 L329.47,338.93 L329.90,338.92 L330.33,338.92 L330.77,338.91 L331.20,338.91 L331.63,338.92 L332.07,338.92 L332.50,338.93 L332.93,338.94 L333.37,338.96 L333.80,338.97 L334.23,339.00 L334.67,339.02 L335.10,339.05 L335.53,339.07 L335.97,339.10 L336.40,339.14 L336.83,339.17 L337.27,339.21 L337.70,339.24 L338.13,339.28 L338.57,339.32 L339.00,339.36 L339.43,339.40 L339.87,339.44 L340.30,339.48 L340.73,339.52 L341.17,339.56 L341.60,339.60 L342.03,339.64 L342.47,339.68 L342.90,339.72 L343.33,339.75 L343.77,339.78 L344.20,339.81 L344.63,339.84 L345.07,339.87 L345.50,339.89 L345.93,339.92 L346.37,339.93 L346.80,339.95 L347.23,339.97 L347.67,339.98 L348.10,339.98 L348.53,339.99 L348.97,339.99 L349.40,339.99 L349.83,339.99 L350.27,339.98 L350.70,339.97 L351.13,339.96 L351.57,339.95 L352.00,339.93 L352.43,339.91 L352.87,339.89 L353.30,339.87 L353.73,339.84 L354.17,339.81 L354.60,339.78 L355.03,339.75 L355.47,339.72 L355.90,339.69 L356.33,339.66 L356.77,339.62 L357.20,339.59 L357.63,339.55 L358.07,339.51 L358.50,339.48 L358.93,339.44 L359.37,339.40 L359.80,339.35 L360.23,339.31 L360.67,339.26 L361.10,339.22 L361.53,339.18 L361.97,339.13 L362.40,339.09 L362.83,339.05 L363.27,339.02 L363.70,338.98 L364.13,338.94 L364.57,338.91 L365.00,338.88 L365.43,338.85 L365.87,338.82 L366.30,338.79 L366.73,338.77 L367.17,338.74 L367.60,338.72 L368.03,338.70 L368.47,338.68 L368.90,338.67 L369.33,338.65 L369.77,338.64 L370.20,338.62 L370.63,338.61 L371.07,338.57 L371.50,338.54 L371.93,338.50 L372.37,338.48 L372.80,338.45 L373.23,338.43 L373.67,338.41 L374.10,338.40 L374.53,338.39 L374.97,338.38 L375.40,338.38 L375.83,338.37 L376.27,338.37 L376.70,338.38 L377.13,338.38 L377.57,338.39 L378.00,338.40 L378.43,338.41 L378.87,338.42 L379.30,338.44 L379.73,338.46 L380.17,338.48 L380.60,338.51 L381.03,338.54 L381.47,338.58 L381.90,338.62 L382.33,338.66 L382.77,338.70 L383.20,338.74 L383.63,338.78 L384.07,338.82 L384.50,338.87 L384.93,338.91 L385.37,338.96 L385.80,339.01 L386.23,339.06 L386.67,339.11 L387.10,339.16 L387.53,339.21 L387.97,339.26 L388.40,339.30 L388.83,339.35 L389.27,339.40 L389.70,339.45 L390.13,339.51 L390.57,339.56 L391.00,339.62 L391.43,339.69 L391.87,339.76 L392.30,339.83 L392.73,339.91 L393.17,340.00 L393.60,340.09 L394.03,340.19 L394.47,340.33 L394.90,340.48 L395.33,340.66 L395.77,340.86 L396.20,341.07 L396.63,341.30 L397.07,341.53 L397.50,341.77 L397.93,342.01 L398.37,342.25 L398.80,342.49 L399.23,342.72 L399.67,342.94 L400.10,343.15 L400.53,343.38 L400.97,343.60 L401.40,343.82 L401.83,344.05 L402.27,344.28 L402.70,344.51 L403.13,344.74 L403.57,344.98 L404.00,345.21 L404.43,345.45 L404.87,345.69 L405.30,345.93 L405.73,346.18 L406.17,346.42 L406.60,346.67 L407.03,346.92 L407.47,347.17 L407.90,347.42 L408.33,347.68 L408.77,347.93 L409.20,348.19 L409.63,348.45 L410.07,348.71 L410.50,348.97 L410.93,349.24 L411.37,349.51 L411.80,349.78 L412.23,350.06 L412.67,350.35 L413.10,350.63 L413.53,350.93 L413.97,351.23 L414.40,351.53 L414.83,351.85 L415.27,352.18 L415.70,352.51 L416.13,352.85 L416.57,353.19 L417.00,353.54 L417.43,353.88 L417.87,354.23 L418.30,354.62 L418.73,355.05 L419.17,355.50 L419.60,355.97 L420.03,356.44 L420.47,356.91 L420.90,357.38 L421.33,357.82 L421.77,358.23 L422.20,358.60 L422.63,358.92 L423.07,359.18 L423.50,359.37 L423.93,359.48 L424.37,359.51 L424.80,359.44 L425.23,359.28 L425.67,359.06 L426.10,358.78 L426.53,358.42 L426.97,357.76 L427.40,356.89 L427.83,355.91 L428.27,354.93 L428.70,353.82 L429.13,352.61 L429.57,351.28 L430.00,349.87 L430.43,348.36 L430.87,346.70 L431.30,344.92 L431.73,343.05 L432.17,341.12 L432.60,339.15 L433.03,337.16 L433.47,335.09 L433.90,332.93 L434.33,330.71 L434.77,328.44 L435.20,326.09 L435.63,323.68 L436.07,321.21 L436.50,318.69 L436.93,316.14 L437.37,313.58 L437.80,311.01 L438.23,308.46 L438.67,305.92 L439.10,303.42 L439.53,300.97 L439.97,298.59 L440.40,296.27 L440.83,293.97 L441.27,291.69 L441.70,289.43 L442.13,287.20 L442.57,284.99 L443.00,282.80 L443.43,280.63 L443.87,278.49 L444.30,276.37 L444.73,274.27 L445.17,272.20 L445.60,270.15" fill="none" stroke="#2b5f8f" stroke-width="1.3"/>
<rect x="272.7" y="195.5" width="172.90000000000003" height="172.5" fill="none" stroke="#3a3a3a" stroke-width="1.2"/>
<line x1="272.70" y1="368.00" x2="272.70" y2="371.50" stroke="#3a3a3a" stroke-width="1.2" />
<text x="272.70" y="381.90" font-size="12.6" text-anchor="middle" fill="#000" >0</text>
<line x1="287.11" y1="368.00" x2="287.11" y2="370.00" stroke="#3a3a3a" stroke-width="1.2" />
<line x1="301.52" y1="368.00" x2="301.52" y2="371.50" stroke="#3a3a3a" stroke-width="1.2" />
<text x="301.52" y="381.90" font-size="12.6" text-anchor="middle" fill="#000" >10</text>
<line x1="315.93" y1="368.00" x2="315.93" y2="370.00" stroke="#3a3a3a" stroke-width="1.2" />
<line x1="330.33" y1="368.00" x2="330.33" y2="371.50" stroke="#3a3a3a" stroke-width="1.2" />
<text x="330.33" y="381.90" font-size="12.6" text-anchor="middle" fill="#000" >20</text>
<line x1="344.74" y1="368.00" x2="344.74" y2="370.00" stroke="#3a3a3a" stroke-width="1.2" />
<line x1="359.15" y1="368.00" x2="359.15" y2="371.50" stroke="#3a3a3a" stroke-width="1.2" />
<text x="359.15" y="381.90" font-size="12.6" text-anchor="middle" fill="#000" >30</text>
<line x1="373.56" y1="368.00" x2="373.56" y2="370.00" stroke="#3a3a3a" stroke-width="1.2" />
<line x1="387.97" y1="368.00" x2="387.97" y2="371.50" stroke="#3a3a3a" stroke-width="1.2" />
<text x="387.97" y="381.90" font-size="12.6" text-anchor="middle" fill="#000" >40</text>
<line x1="402.38" y1="368.00" x2="402.38" y2="370.00" stroke="#3a3a3a" stroke-width="1.2" />
<line x1="416.78" y1="368.00" x2="416.78" y2="371.50" stroke="#3a3a3a" stroke-width="1.2" />
<text x="416.78" y="381.90" font-size="12.6" text-anchor="middle" fill="#000" >50</text>
<line x1="431.19" y1="368.00" x2="431.19" y2="370.00" stroke="#3a3a3a" stroke-width="1.2" />
<line x1="445.60" y1="368.00" x2="445.60" y2="371.50" stroke="#3a3a3a" stroke-width="1.2" />
<text x="445.60" y="381.90" font-size="12.6" text-anchor="middle" fill="#000" >60</text>
<line x1="272.70" y1="360.95" x2="270.70" y2="360.95" stroke="#3a3a3a" stroke-width="1.2" />
<line x1="272.70" y1="339.40" x2="269.20" y2="339.40" stroke="#3a3a3a" stroke-width="1.2" />
<text x="268.20" y="343.80" font-size="12.6" text-anchor="end" fill="#000" >0</text>
<line x1="272.70" y1="317.85" x2="270.70" y2="317.85" stroke="#3a3a3a" stroke-width="1.2" />
<line x1="272.70" y1="296.30" x2="269.20" y2="296.30" stroke="#3a3a3a" stroke-width="1.2" />
<text x="268.20" y="300.70" font-size="12.6" text-anchor="end" fill="#000" >300</text>
<line x1="272.70" y1="274.75" x2="270.70" y2="274.75" stroke="#3a3a3a" stroke-width="1.2" />
<line x1="272.70" y1="253.20" x2="269.20" y2="253.20" stroke="#3a3a3a" stroke-width="1.2" />
<text x="268.20" y="257.60" font-size="12.6" text-anchor="end" fill="#000" >600</text>
<line x1="272.70" y1="231.65" x2="270.70" y2="231.65" stroke="#3a3a3a" stroke-width="1.2" />
<line x1="272.70" y1="210.10" x2="269.20" y2="210.10" stroke="#3a3a3a" stroke-width="1.2" />
<text x="268.20" y="214.50" font-size="12.6" text-anchor="end" fill="#000" >900</text>
<text x="359.00" y="397.30" font-size="13.6" text-anchor="middle" fill="#000" >Separation (nm)</text>
<text transform="translate(243.6,282) rotate(-90)" font-size="13.3" text-anchor="middle">Force (nN)</text>
<line x1="278.30" y1="206.30" x2="305.60" y2="206.30" stroke="#e8202a" stroke-width="1.3" />
<line x1="278.30" y1="221.30" x2="305.60" y2="221.30" stroke="#2b5f8f" stroke-width="1.3" />
<text x="308.60" y="210.60" font-size="12.4" text-anchor="start" fill="#000" >YZr-Q</text>
<text x="308.60" y="225.70" font-size="12.4" text-anchor="start" fill="#000" >YZr-N</text>
<path d="M300.40,296.20 L357.10,296.20 L357.10,299.50 L300.40,299.50 Z" fill="#6f6a66"/>
<path d="M300.60,299.30 L315.70,299.30 L308.50,307.60 Z" fill="#6f6a66"/>
<path d="M310.15,299.30 L315.70,299.30 L308.50,307.60 Z" fill="#545a66"/>
<rect x="281.3" y="311.9" width="58.099999999999966" height="10.100000000000023" fill="#f2ad80"/>
<text x="310.35" y="318.75" font-size="5" text-anchor="middle" fill="#fbe3d3" >Sample</text>
<path d="M306.3,324.4 Q307.5,328.5 309.6,331.6" fill="none" stroke="#6aab3c" stroke-width="1" stroke-dasharray="2,0.6"/><path d="M306.5,331.6 L313.1,329.7 L312.7,336.5 Z" fill="#6aab3c"/>
<path d="M366.80,247.60 L424.80,242.30 L425.60,246.00 L372.50,251.20 L369.00,251.20 Z" fill="#6f6a66"/>
<path d="M368.30,249.80 L383.50,249.80 L376.30,258.40 Z" fill="#6f6a66"/>
<path d="M377.90,249.80 L383.50,249.80 L376.30,258.40 Z" fill="#545a66"/>
<rect x="349.2" y="258.4" width="58.19999999999999" height="10.5" fill="#f2ad80"/>
<text x="378.30" y="265.45" font-size="5" text-anchor="middle" fill="#fbe3d3" >Sample</text>
<path d="M394.9,273.1 Q401,281.5 416,283.9" fill="none" stroke="#6aab3c" stroke-width="1"/><path d="M415.3,280.7 L421.9,283.9 L415.3,286.9 Z" fill="#6aab3c"/>
<defs><radialGradient id="sr" cx="0.38" cy="0.35" r="0.7"><stop offset="0" stop-color="#ffd0d0"/><stop offset="0.35" stop-color="#ee5a60"/><stop offset="1" stop-color="#c82030"/></radialGradient><radialGradient id="sb" cx="0.38" cy="0.35" r="0.7"><stop offset="0" stop-color="#d0e4ff"/><stop offset="0.35" stop-color="#4f8fd0"/><stop offset="1" stop-color="#2a64a8"/></radialGradient></defs>
<path d="M512.6,233.1 Q590,230.5 651.1,225.7" fill="none" stroke="#e8323c" stroke-width="1"/>
<path d="M514.5,319.3 Q590,317.5 652.4,313" fill="none" stroke="#3a78b8" stroke-width="1"/>
<circle cx="515" cy="231" r="2.7" fill="url(#sr)"/>
<circle cx="526.8" cy="231.5" r="2.7" fill="url(#sr)"/>
<circle cx="536.3" cy="231" r="2.7" fill="url(#sr)"/>
<circle cx="558.3" cy="231" r="2.7" fill="url(#sr)"/>
<circle cx="562.3" cy="230.5" r="2.7" fill="url(#sr)"/>
<circle cx="568.3" cy="232.6" r="2.7" fill="url(#sr)"/>
<circle cx="573.6" cy="231" r="2.7" fill="url(#sr)"/>
<circle cx="576.7" cy="229.2" r="2.7" fill="url(#sr)"/>
<circle cx="583.6" cy="231" r="2.7" fill="url(#sr)"/>
<circle cx="586.7" cy="231" r="2.7" fill="url(#sr)"/>
<circle cx="592" cy="231.3" r="2.7" fill="url(#sr)"/>
<circle cx="595.4" cy="228.6" r="2.7" fill="url(#sr)"/>
<circle cx="599.8" cy="230.7" r="2.7" fill="url(#sr)"/>
<circle cx="618.2" cy="226.5" r="2.7" fill="url(#sr)"/>
<circle cx="651.6" cy="223.1" r="2.7" fill="url(#sr)"/>
<circle cx="515" cy="315.6" r="2.7" fill="url(#sb)"/>
<circle cx="526.8" cy="318.3" r="2.7" fill="url(#sb)"/>
<circle cx="536.3" cy="318.3" r="2.7" fill="url(#sb)"/>
<circle cx="562.3" cy="317" r="2.7" fill="url(#sb)"/>
<circle cx="562.3" cy="319.3" r="2.7" fill="url(#sb)"/>
<circle cx="568.8" cy="318.8" r="2.7" fill="url(#sb)"/>
<circle cx="573.6" cy="317.7" r="2.7" fill="url(#sb)"/>
<circle cx="577" cy="314.1" r="2.7" fill="url(#sb)"/>
<circle cx="587.2" cy="317.5" r="2.7" fill="url(#sb)"/>
<circle cx="595.6" cy="315.4" r="2.7" fill="url(#sb)"/>
<circle cx="599.8" cy="317" r="2.7" fill="url(#sb)"/>
<circle cx="613.5" cy="317.5" r="2.7" fill="url(#sb)"/>
<circle cx="618.2" cy="313" r="2.7" fill="url(#sb)"/>
<circle cx="652.4" cy="308" r="2.7" fill="url(#sb)"/>
<rect x="501.4" y="194.5" width="170.0" height="172.89999999999998" fill="none" stroke="#3a3a3a" stroke-width="1.2"/>
<line x1="501.40" y1="280.70" x2="671.40" y2="280.70" stroke="#555" stroke-width="1.6" />
<line x1="501.40" y1="276.30" x2="499.40" y2="276.30" stroke="#3a3a3a" stroke-width="1.2" />
<line x1="501.40" y1="362.80" x2="499.40" y2="362.80" stroke="#3a3a3a" stroke-width="1.2" />
<line x1="501.40" y1="263.40" x2="497.90" y2="263.40" stroke="#3a3a3a" stroke-width="1.2" />
<text x="497.30" y="267.80" font-size="12.6" text-anchor="end" fill="#000" >-12</text>
<line x1="501.40" y1="349.90" x2="497.90" y2="349.90" stroke="#3a3a3a" stroke-width="1.2" />
<text x="497.30" y="354.30" font-size="12.6" text-anchor="end" fill="#000" >-12</text>
<line x1="501.40" y1="250.50" x2="499.40" y2="250.50" stroke="#3a3a3a" stroke-width="1.2" />
<line x1="501.40" y1="337.00" x2="499.40" y2="337.00" stroke="#3a3a3a" stroke-width="1.2" />
<line x1="501.40" y1="237.60" x2="497.90" y2="237.60" stroke="#3a3a3a" stroke-width="1.2" />
<text x="497.30" y="242.00" font-size="12.6" text-anchor="end" fill="#000" >0</text>
<line x1="501.40" y1="324.10" x2="497.90" y2="324.10" stroke="#3a3a3a" stroke-width="1.2" />
<text x="497.30" y="328.50" font-size="12.6" text-anchor="end" fill="#000" >0</text>
<line x1="501.40" y1="224.70" x2="499.40" y2="224.70" stroke="#3a3a3a" stroke-width="1.2" />
<line x1="501.40" y1="311.20" x2="499.40" y2="311.20" stroke="#3a3a3a" stroke-width="1.2" />
<line x1="501.40" y1="211.80" x2="497.90" y2="211.80" stroke="#3a3a3a" stroke-width="1.2" />
<text x="497.30" y="216.20" font-size="12.6" text-anchor="end" fill="#000" >12</text>
<line x1="501.40" y1="298.30" x2="497.90" y2="298.30" stroke="#3a3a3a" stroke-width="1.2" />
<text x="497.30" y="302.70" font-size="12.6" text-anchor="end" fill="#000" >12</text>
<line x1="501.40" y1="198.90" x2="499.40" y2="198.90" stroke="#3a3a3a" stroke-width="1.2" />
<line x1="501.40" y1="285.40" x2="499.40" y2="285.40" stroke="#3a3a3a" stroke-width="1.2" />
<line x1="501.43" y1="367.40" x2="501.43" y2="369.40" stroke="#3a3a3a" stroke-width="1.2" />
<line x1="514.50" y1="367.40" x2="514.50" y2="370.90" stroke="#3a3a3a" stroke-width="1.2" />
<text x="514.50" y="381.70" font-size="12.6" text-anchor="middle" fill="#000" >0.6</text>
<line x1="527.58" y1="367.40" x2="527.58" y2="369.40" stroke="#3a3a3a" stroke-width="1.2" />
<line x1="540.65" y1="367.40" x2="540.65" y2="370.90" stroke="#3a3a3a" stroke-width="1.2" />
<text x="540.65" y="381.70" font-size="12.6" text-anchor="middle" fill="#000" >0.8</text>
<line x1="553.73" y1="367.40" x2="553.73" y2="369.40" stroke="#3a3a3a" stroke-width="1.2" />
<line x1="566.80" y1="367.40" x2="566.80" y2="370.90" stroke="#3a3a3a" stroke-width="1.2" />
<text x="566.80" y="381.70" font-size="12.6" text-anchor="middle" fill="#000" >1.0</text>
<line x1="579.88" y1="367.40" x2="579.88" y2="369.40" stroke="#3a3a3a" stroke-width="1.2" />
<line x1="592.95" y1="367.40" x2="592.95" y2="370.90" stroke="#3a3a3a" stroke-width="1.2" />
<text x="592.95" y="381.70" font-size="12.6" text-anchor="middle" fill="#000" >1.2</text>
<line x1="606.02" y1="367.40" x2="606.02" y2="369.40" stroke="#3a3a3a" stroke-width="1.2" />
<line x1="619.10" y1="367.40" x2="619.10" y2="370.90" stroke="#3a3a3a" stroke-width="1.2" />
<text x="619.10" y="381.70" font-size="12.6" text-anchor="middle" fill="#000" >1.4</text>
<line x1="632.17" y1="367.40" x2="632.17" y2="369.40" stroke="#3a3a3a" stroke-width="1.2" />
<line x1="645.25" y1="367.40" x2="645.25" y2="370.90" stroke="#3a3a3a" stroke-width="1.2" />
<text x="645.25" y="381.70" font-size="12.6" text-anchor="middle" fill="#000" >1.6</text>
<line x1="658.33" y1="367.40" x2="658.33" y2="369.40" stroke="#3a3a3a" stroke-width="1.2" />
<line x1="671.40" y1="367.40" x2="671.40" y2="370.90" stroke="#3a3a3a" stroke-width="1.2" />
<text x="671.40" y="381.70" font-size="12.6" text-anchor="middle" fill="#000" >1.8</text>
<text x="586.20" y="397.20" font-size="13.4" text-anchor="middle" fill="#000" textLength="44.5" lengthAdjust="spacing">4sin(<tspan font-family="Liberation Serif" font-style="italic">θ</tspan> )</text>
<text transform="translate(477.6,285.8) rotate(-90)" font-size="13.6" text-anchor="middle" textLength="97" lengthAdjust="spacing"><tspan font-family="Liberation Serif" font-style="italic">β</tspan> cos(<tspan font-family="Liberation Serif" font-style="italic">θ</tspan> ) (×10<tspan font-size="9" dy="-5">-3</tspan><tspan dy="5">)</tspan></text>
<text x="602.00" y="255.30" font-size="12.1" text-anchor="start" fill="#e8323c" >YZr-Q</text>
<text x="602.00" y="271.70" font-size="11.9" text-anchor="start" fill="#e8323c" ><tspan font-family="Liberation Serif" font-style="italic">ε</tspan> =3.06×10<tspan font-size="8.8" dy="-5">-3</tspan></text>
<text x="602.00" y="342.30" font-size="12.1" text-anchor="start" fill="#3a78b8" >YZr-N</text>
<text x="602.00" y="358.70" font-size="11.9" text-anchor="start" fill="#3a78b8" ><tspan font-family="Liberation Serif" font-style="italic">ε</tspan> =2.77×10<tspan font-size="8.8" dy="-5">-3</tspan></text>
<path d="M25.75,506.18 L25.96,506.74 L26.18,506.72 L26.39,506.86 L26.60,506.37 L26.82,507.17 L27.03,506.16 L27.24,506.78 L27.46,506.52 L27.67,506.66 L27.88,506.23 L28.10,507.11 L28.31,506.68 L28.52,506.70 L28.73,506.32 L28.95,506.88 L29.16,506.65 L29.37,506.83 L29.59,506.60 L29.80,506.46 L30.01,506.89 L30.23,506.33 L30.44,506.39 L30.65,506.49 L30.87,506.39 L31.08,506.79 L31.29,506.65 L31.51,506.85 L31.72,506.69 L31.93,506.49 L32.15,506.80 L32.36,506.72 L32.57,506.80 L32.79,506.84 L33.00,506.80 L33.21,506.63 L33.43,506.91 L33.64,506.57 L33.85,506.22 L34.06,506.45 L34.28,506.68 L34.49,506.86 L34.70,506.82 L34.92,506.21 L35.13,506.62 L35.34,506.80 L35.56,506.59 L35.77,506.11 L35.98,506.61 L36.20,506.49 L36.41,506.56 L36.62,506.73 L36.84,506.93 L37.05,506.73 L37.26,506.69 L37.48,506.49 L37.69,506.43 L37.90,506.40 L38.12,506.56 L38.33,506.41 L38.54,506.81 L38.76,506.31 L38.97,506.48 L39.18,506.66 L39.39,506.42 L39.61,506.45 L39.82,505.89 L40.03,505.33 L40.25,504.52 L40.46,504.78 L40.67,504.51 L40.89,504.56 L41.10,505.02 L41.31,505.49 L41.53,506.09 L41.74,506.92 L41.95,506.60 L42.17,506.36 L42.38,506.52 L42.59,506.39 L42.81,506.62 L43.02,506.58 L43.23,506.38 L43.45,506.08 L43.66,505.64 L43.87,504.87 L44.09,504.12 L44.30,503.15 L44.51,503.21 L44.72,503.66 L44.94,504.58 L45.15,505.62 L45.36,506.24 L45.58,506.52 L45.79,506.28 L46.00,506.22 L46.22,505.94 L46.43,505.12 L46.64,504.26 L46.86,502.92 L47.07,502.76 L47.28,502.80 L47.50,504.02 L47.71,505.00 L47.92,506.17 L48.14,506.26 L48.35,506.30 L48.56,506.79 L48.78,506.65 L48.99,506.59 L49.20,506.95 L49.42,506.54 L49.63,506.41 L49.84,506.84 L50.05,506.54 L50.27,506.95 L50.48,506.63 L50.69,507.03 L50.91,506.34 L51.12,506.52 L51.33,506.62 L51.55,506.80 L51.76,506.28 L51.97,506.10 L52.19,507.05 L52.40,506.27 L52.61,506.16 L52.83,506.48 L53.04,506.85 L53.25,506.32 L53.47,506.56 L53.68,506.65 L53.89,506.78 L54.11,506.31 L54.32,506.22 L54.53,506.54 L54.75,506.21 L54.96,506.57 L55.17,506.00 L55.38,506.01 L55.60,505.63 L55.81,504.72 L56.02,503.28 L56.24,502.51 L56.45,502.64 L56.66,502.82 L56.88,501.80 L57.09,499.15 L57.30,495.69 L57.52,491.98 L57.73,489.66 L57.94,488.42 L58.16,484.09 L58.37,476.01 L58.58,464.65 L58.80,453.93 L59.01,451.65 L59.22,460.58 L59.44,474.95 L59.65,488.37 L59.86,496.86 L60.08,501.28 L60.29,502.41 L60.50,502.18 L60.71,499.83 L60.93,495.16 L61.14,486.07 L61.35,472.95 L61.57,456.02 L61.78,441.54 L61.99,432.73 L62.21,435.35 L62.42,447.75 L62.63,465.11 L62.85,480.28 L63.06,491.45 L63.27,497.78 L63.49,501.57 L63.70,502.59 L63.91,502.61 L64.13,500.90 L64.34,496.04 L64.55,488.28 L64.77,477.63 L64.98,467.46 L65.19,461.61 L65.41,463.55 L65.62,472.67 L65.83,483.81 L66.04,493.37 L66.26,499.36 L66.47,502.99 L66.68,504.22 L66.90,505.13 L67.11,505.57 L67.32,506.34 L67.54,505.92 L67.75,506.07 L67.96,506.05 L68.18,506.06 L68.39,506.48 L68.60,506.22 L68.82,506.60 L69.03,506.01 L69.24,506.86 L69.46,506.99 L69.67,506.99 L69.88,506.81 L70.10,506.89 L70.31,506.13 L70.52,506.71 L70.74,506.98 L70.95,506.37 L71.16,506.80 L71.37,506.96 L71.59,506.44 L71.80,506.50 L72.01,506.76 L72.23,506.28 L72.44,506.59 L72.65,506.19 L72.87,506.44 L73.08,506.12 L73.29,506.38 L73.51,506.47 L73.72,504.94 L73.93,504.33 L74.15,501.75 L74.36,498.29 L74.57,494.37 L74.79,491.89 L75.00,492.06 L75.21,493.97 L75.43,496.50 L75.64,499.94 L75.85,502.81 L76.07,504.68 L76.28,505.72 L76.49,506.58 L76.70,506.24 L76.92,506.69 L77.13,506.71 L77.34,506.67 L77.56,507.05 L77.77,506.93 L77.98,506.57 L78.20,506.59 L78.41,506.86 L78.62,506.30 L78.84,507.08 L79.05,506.84 L79.26,506.81 L79.48,507.44 L79.69,506.25 L79.90,506.63 L80.12,506.96 L80.33,506.15 L80.54,506.48 L80.76,506.47 L80.97,506.66 L81.18,506.36 L81.40,506.52 L81.61,505.37 L81.82,504.35 L82.03,501.61 L82.25,496.96 L82.46,491.30 L82.67,485.41 L82.89,482.04 L83.10,483.49 L83.31,488.08 L83.53,494.07 L83.74,499.51 L83.95,502.96 L84.17,505.29 L84.38,506.17 L84.59,506.69 L84.81,506.20 L85.02,506.67 L85.23,506.32 L85.45,506.91 L85.66,506.87 L85.87,506.77 L86.09,506.59 L86.30,506.82 L86.51,506.80 L86.73,506.87 L86.94,506.84 L87.15,507.18 L87.36,506.89 L87.58,506.96 L87.79,506.94 L88.00,506.81 L88.22,507.11 L88.43,506.96 L88.64,507.02 L88.86,506.85 L89.07,506.76 L89.28,507.20 L89.50,506.82 L89.71,506.45 L89.92,507.34 L90.14,507.18 L90.35,507.19 L90.56,507.04 L90.78,506.57 L90.99,506.97 L91.20,507.15 L91.42,506.82 L91.63,507.12 L91.84,506.69 L92.06,506.90 L92.27,506.62 L92.48,507.13 L92.69,506.20 L92.91,506.75 L93.12,506.78 L93.33,506.95 L93.55,507.11 L93.76,507.13 L93.97,506.92 L94.19,507.05 L94.40,506.70 L94.61,506.80 L94.83,506.01 L95.04,505.07 L95.25,504.10 L95.47,501.98 L95.68,501.11 L95.89,500.69 L96.11,501.92 L96.32,502.98 L96.53,504.00 L96.75,503.05 L96.96,500.88 L97.17,499.42 L97.39,498.89 L97.60,499.85 L97.81,502.15 L98.02,504.26 L98.24,505.41 L98.45,505.85 L98.66,506.66 L98.88,506.62 L99.09,506.78 L99.30,506.77 L99.52,506.81 L99.73,506.78 L99.94,506.54 L100.16,506.76 L100.37,505.77 L100.58,504.90 L100.80,503.69 L101.01,501.43 L101.22,499.79 L101.44,498.58 L101.65,498.80 L101.86,500.55 L102.08,502.67 L102.29,504.44 L102.50,505.46 L102.72,505.44 L102.93,505.85 L103.14,504.21 L103.35,502.38 L103.57,499.25 L103.78,495.93 L103.99,493.86 L104.21,491.84 L104.42,493.10 L104.63,496.10 L104.85,499.62 L105.06,502.21 L105.27,504.56 L105.49,505.19 L105.70,506.11 L105.91,506.00 L106.13,506.85 L106.34,507.15 L106.55,506.57 L106.77,506.55 L106.98,506.75 L107.19,507.13 L107.41,506.84 L107.62,506.53 L107.83,506.64 L108.05,506.42 L108.26,505.92 L108.47,504.86 L108.68,502.22 L108.90,498.36 L109.11,492.69 L109.32,489.65 L109.54,489.41 L109.75,493.38 L109.96,497.79 L110.18,502.53 L110.39,504.36 L110.60,505.85 L110.82,505.82 L111.03,506.86 L111.24,506.59 L111.46,506.55 L111.67,506.34 L111.88,506.74 L112.10,506.57 L112.31,507.02 L112.52,506.42 L112.74,505.46 L112.95,504.00 L113.16,502.27 L113.38,499.21 L113.59,497.43 L113.80,497.82 L114.01,500.13 L114.23,502.30 L114.44,503.96 L114.65,504.58 L114.87,505.17 L115.08,505.66 L115.29,504.58 L115.51,502.54 L115.72,499.33 L115.93,491.67 L116.15,477.30 L116.36,458.33 L116.57,437.21 L116.79,422.19 L117.00,422.28 L117.21,437.22 L117.43,458.08 L117.64,477.59 L117.85,491.34 L118.07,499.36 L118.28,502.79 L118.49,504.71 L118.71,505.31 L118.92,505.54 L119.13,505.84 L119.34,505.76 L119.56,506.23 L119.77,506.86 L119.98,506.80 L120.20,506.23 L120.41,506.68 L120.62,506.49 L120.84,506.73 L121.05,506.02 L121.26,505.70 L121.48,503.85 L121.69,502.10 L121.90,499.00 L122.12,497.13 L122.33,497.49 L122.54,499.04 L122.76,502.25 L122.97,504.50 L123.18,505.52 L123.40,506.53 L123.61,506.73 L123.82,506.56 L124.04,506.28 L124.25,504.88 L124.46,503.73 L124.67,502.65 L124.89,502.12 L125.10,502.56 L125.31,503.51 L125.53,505.03 L125.74,506.31 L125.95,506.51 L126.17,506.96 L126.38,507.08 L126.59,506.61 L126.81,507.20 L127.02,507.23 L127.23,507.61 L127.45,507.48 L127.66,507.02 L127.87,507.31 L128.09,507.01 L128.30,507.41 L128.51,507.32 L128.73,506.95 L128.94,506.74 L129.15,506.95 L129.37,506.78 L129.58,506.63 L129.79,506.76 L130.00,507.21 L130.22,506.95 L130.43,506.69 L130.64,506.84 L130.86,506.40 L131.07,506.38 L131.28,504.87 L131.50,501.58 L131.71,496.90 L131.92,489.12 L132.14,481.51 L132.35,478.69 L132.56,481.48 L132.78,489.02 L132.99,496.38 L133.20,501.72 L133.42,504.55 L133.63,506.03 L133.84,506.35 L134.06,506.67 L134.27,506.30 L134.48,505.59 L134.70,504.90 L134.91,502.92 L135.12,500.44 L135.33,497.22 L135.55,496.38 L135.76,497.64 L135.97,500.10 L136.19,503.05 L136.40,504.87 L136.61,505.91 L136.83,506.92 L137.04,506.96 L137.25,506.64 L137.47,506.89 L137.68,506.98 L137.89,506.86 L138.11,507.35 L138.32,507.06 L138.53,506.87 L138.75,506.82 L138.96,507.43 L139.17,507.28 L139.39,507.09 L139.60,507.17 L139.81,506.98 L140.03,506.20 L140.24,505.54 L140.45,504.61 L140.66,502.81 L140.88,502.46 L141.09,503.09 L141.30,504.57 L141.52,505.22 L141.73,506.96 L141.94,507.34 L142.16,507.21 L142.37,506.92 L142.58,506.94 L142.80,507.58 L143.01,507.34 L143.22,507.68 L143.44,507.06 L143.65,507.68 L143.86,507.34 L144.08,507.03 L144.29,507.30 L144.50,506.76 L144.72,507.07 L144.93,506.20 L145.14,505.17 L145.36,504.34 L145.57,503.16 L145.78,503.37 L145.99,504.72 L146.21,504.40 L146.42,506.13 L146.63,506.83 L146.85,507.48 L147.06,507.23 L147.27,507.40 L147.49,507.14 L147.70,507.22 L147.91,506.85 L148.13,507.27 L148.34,507.17 L148.55,507.19 L148.77,507.30 L148.98,507.27 L149.19,506.91 L149.41,506.91 L149.62,507.09 L149.83,506.77 L150.05,505.47 L150.26,503.04 L150.47,499.93 L150.69,495.43 L150.90,493.06 L151.11,492.82 L151.32,496.48 L151.54,500.05 L151.75,503.36 L151.96,505.25 L152.18,505.95 L152.39,506.70 L152.60,506.25 L152.82,505.91 L153.03,504.77 L153.24,503.62 L153.46,501.66 L153.67,501.63 L153.88,501.92 L154.10,503.81 L154.31,505.26 L154.52,506.62 L154.74,507.00 L154.95,507.06 L155.16,507.28 L155.38,507.64 L155.59,506.96 L155.80,507.26 L156.02,507.10 L156.23,507.16 L156.44,507.52 L156.65,507.83 L156.87,507.57 L157.08,507.02 L157.29,507.57 L157.51,507.07 L157.72,507.38 L157.93,507.05 L158.15,507.44 L158.36,506.26 L158.57,505.55 L158.79,503.26 L159.00,500.14 L159.21,496.05 L159.43,493.35 L159.64,493.08 L159.85,496.42 L160.07,499.92 L160.28,502.05 L160.49,502.99 L160.71,502.24 L160.92,500.88 L161.13,500.10 L161.35,501.23 L161.56,502.78 L161.77,504.98 L161.98,506.17 L162.20,506.55 L162.41,506.87 L162.62,507.55 L162.84,507.13 L163.05,507.64 L163.26,507.22 L163.48,507.89 L163.69,507.71 L163.90,507.57 L164.12,507.49 L164.33,507.10 L164.54,507.23 L164.76,507.06 L164.97,507.15 L165.18,507.52 L165.40,507.50 L165.61,507.12 L165.82,507.26 L166.04,507.03 L166.25,506.76 L166.46,505.55 L166.68,505.14 L166.89,503.76 L167.10,503.88 L167.31,504.26 L167.53,505.64 L167.74,506.50 L167.95,506.64 L168.17,507.51 L168.38,507.28 L168.59,507.87 L168.81,507.38 L169.02,507.29 L169.23,507.17 L169.45,507.59 L169.66,507.25 L169.87,507.20 L170.09,507.21 L170.30,507.03 L170.51,506.60 L170.73,505.75 L170.94,504.16 L171.15,500.70 L171.37,494.86 L171.58,490.19 L171.79,488.89 L172.01,490.54 L172.22,495.29 L172.43,500.16 L172.64,503.80 L172.86,505.97 L173.07,506.57 L173.28,506.79 L173.50,506.28 L173.71,505.47 L173.92,503.90 L174.14,501.75 L174.35,500.32 L174.56,500.94 L174.78,502.17 L174.99,504.15 L175.20,505.24 L175.42,506.55 L175.63,506.65 L175.84,507.33 L176.06,507.27 L176.27,507.63 L176.48,506.96 L176.70,507.36 L176.91,507.60 L177.12,507.32 L177.34,507.66 L177.55,506.94 L177.76,506.55 L177.97,505.69 L178.19,503.56 L178.40,500.49 L178.61,494.62 L178.83,487.69 L179.04,481.40 L179.25,479.17 L179.47,481.12 L179.68,487.90 L179.89,494.83 L180.11,500.75 L180.32,503.88 L180.53,505.75 L180.75,506.60 L180.96,506.99 L181.17,506.86 L181.39,506.96 L181.60,507.08 L181.81,506.45 L182.03,507.42 L182.24,507.28 L182.45,507.14 L182.67,506.09 L182.88,505.10 L183.09,503.81 L183.30,501.68 L183.52,500.59 L183.73,501.15 L183.94,503.57 L184.16,505.15 L184.37,506.34 L184.58,507.21 L184.80,507.22 L185.01,507.48 L185.22,507.46 L185.44,507.75 L185.65,507.21 L185.86,507.61 L186.08,507.29 L186.29,507.73 L186.50,507.48 L186.72,507.80 L186.93,507.87 L187.14,507.79 L187.36,507.61 L187.57,507.58 L187.78,506.96 L188.00,507.23 L188.21,506.48 L188.42,504.76 L188.63,504.02 L188.85,504.20 L189.06,504.05 L189.27,505.13 L189.49,506.76 L189.70,507.06 L189.91,507.38 L190.13,507.38 L190.34,507.40 L190.55,507.65 L190.77,507.43 L190.98,507.73 L191.19,507.92 L191.41,507.94 L191.62,507.58 L191.83,508.20 L192.05,507.55 L192.26,507.99 L192.47,507.80 L192.69,507.58 L192.90,507.39 L193.11,508.17 L193.33,507.87 L193.54,507.62 L193.75,507.73 L193.96,507.22 L194.18,507.59 L194.39,506.17 L194.60,504.67 L194.82,502.70 L195.03,500.41 L195.24,500.11 L195.46,500.41 L195.67,502.89 L195.88,504.60 L196.10,506.35 L196.31,506.88 L196.52,507.25 L196.74,507.96 L196.95,507.69 L197.16,507.70 L197.38,507.75 L197.59,507.89 L197.80,507.24 L198.02,507.64 L198.23,507.26 L198.44,507.66 L198.66,507.48 L198.87,506.64 L199.08,506.04 L199.29,504.54 L199.51,504.75 L199.72,504.86 L199.93,505.97 L200.15,506.77 L200.36,507.25 L200.57,507.46 L200.79,507.47 L201.00,507.77 L201.21,507.93 L201.43,508.03 L201.64,507.79 L201.85,507.62 L202.07,507.64 L202.28,507.74 L202.49,507.81 L202.71,507.45 L202.92,506.94 L203.13,506.35 L203.35,505.29 L203.56,504.34 L203.77,503.63 L203.99,504.42 L204.20,505.28 L204.41,506.26 L204.62,506.92 L204.84,507.13 L205.05,507.52 L205.26,507.61 L205.48,508.16 L205.69,507.66 L205.90,507.25 L206.12,508.04 L206.33,508.09 L206.54,507.89 L206.76,507.58 L206.97,507.70 L207.18,507.95 L207.40,507.83 L207.61,507.54 L207.82,507.58 L208.04,507.00 L208.25,507.05 L208.46,506.66 L208.68,505.82 L208.89,505.30 L209.10,505.13 L209.32,505.17 L209.53,505.85 L209.74,507.10 L209.95,507.43 L210.17,507.69 L210.38,507.67 L210.59,507.85 L210.81,507.69 L211.02,507.77 L211.23,507.53 L211.45,508.21 L211.66,507.35 L211.87,507.38 L212.09,507.69 L212.30,507.46 L212.51,507.32 L212.73,507.25 L212.94,506.05 L213.15,503.92 L213.37,500.87 L213.58,496.90 L213.79,494.34 L214.01,494.34 L214.22,497.36 L214.43,501.04 L214.65,504.25 L214.86,505.68 L215.07,507.03 L215.28,507.75 L215.50,507.56 L215.71,507.78 L215.92,508.54 L216.14,507.69 L216.35,508.23 L216.56,507.71 L216.78,508.11 L216.99,508.25 L217.20,507.77 L217.42,508.28 L217.63,508.02 L217.84,507.86 L218.06,507.76 L218.27,507.73 L218.48,507.92 L218.70,508.12 L218.91,507.43 L219.12,508.05 L219.34,507.44 L219.55,507.99 L219.76,507.55 L219.98,507.50 L220.19,507.85 L220.40,507.05 L220.61,506.03 L220.83,504.57 L221.04,503.04 L221.25,501.62 L221.47,501.79 L221.68,503.29 L221.89,504.51 L222.11,506.37 L222.32,506.81 L222.53,507.46 L222.75,508.02 L222.96,507.92 L223.17,507.99 L223.39,508.15 L223.60,507.83 L223.81,508.08 L224.03,507.57 L224.24,507.77 L224.45,508.21 L224.67,508.00 L224.88,508.06 L225.09,508.39 L225.31,507.77 L225.52,507.77 L225.73,507.78 L225.94,508.13 L226.16,507.74 L226.37,508.06 L226.58,507.77 L226.80,507.55 L227.01,507.96 L227.22,508.34 L227.44,508.03 L227.65,507.71 L227.86,507.35 L228.08,507.52 L228.29,506.61 L228.50,505.69 L228.72,505.04 L228.93,504.92 L229.14,505.99 L229.36,506.67 L229.57,507.00 L229.78,507.58 L230.00,507.77 L230.21,507.69 L230.42,507.98 L230.64,507.89 L230.85,508.11 L231.06,508.38 L231.27,508.37 L231.49,508.03 L231.70,508.10 L231.91,508.22 L232.13,507.98 L232.34,508.28 L232.55,508.02 L232.77,508.05 L232.98,508.25 L233.19,508.59 L233.41,507.60 L233.62,507.75 L233.83,508.19 L234.05,507.08 L234.26,506.10 L234.47,505.50 L234.69,504.97 L234.90,505.69 L235.11,506.17 L235.33,507.00 L235.54,507.59 L235.75,507.91 L235.97,507.94 L236.18,507.81 L236.39,508.20 L236.60,508.19 L236.82,508.05 L237.03,508.13 L237.24,508.01 L237.46,507.93 L237.67,507.79 L237.88,508.15 L238.10,508.69 L238.31,508.14 L238.52,508.04 L238.74,508.18 L238.95,508.17 L239.16,508.75 L239.38,508.01 L239.59,508.22 L239.80,508.52 L240.02,508.36 L240.23,508.36 L240.44,507.99 L240.66,508.01 L240.87,507.77 L241.08,507.99 L241.30,508.49 L241.51,508.50 L241.72,507.86 L241.93,507.75 L242.15,508.20 L242.36,508.00 L242.57,508.50 L242.79,508.60 L243.00,508.36 L243.21,508.04 L243.43,507.83 L243.64,507.30 L243.85,506.72 L244.07,505.80 L244.28,505.33 L244.49,505.96 L244.71,506.10 L244.92,507.41 L245.13,507.85 L245.35,507.87 L245.56,508.18 L245.77,507.84 L245.99,508.32 L246.20,507.84 L246.41,508.13 L246.63,507.54 L246.84,508.30 L247.05,508.24 L247.26,508.16 L247.48,508.74 L247.69,508.05 L247.90,508.08 L248.12,508.18 L248.33,508.60 L248.54,508.60 L248.76,508.07 L248.97,507.92 L249.18,507.82 L249.40,508.44 L249.61,508.48 L249.82,508.29 L250.04,508.72 L250.25,508.38 L250.46,508.02 L250.68,507.82 L250.89,508.16 L251.10,507.82 L251.32,508.13 L251.53,508.19 L251.74,508.28 L251.96,508.19 L252.17,508.31 L252.38,508.28 L252.59,508.41 L252.81,508.18 L253.02,508.24 L253.23,508.62 L253.45,508.31 L253.66,508.46 L253.87,508.76 L254.09,508.13 L254.30,507.86 L254.51,507.66 L254.73,507.86 L254.94,508.47 L255.15,507.96 L255.37,507.97 L255.58,508.74 L255.79,508.03 L256.01,508.08 L256.22,508.17 L256.43,508.08 L256.65,508.00 L256.86,507.33 L257.07,507.38 L257.29,506.79 L257.50,506.34 L257.71,506.28 L257.92,507.19 L258.14,506.94 L258.35,507.69 L258.56,507.89 L258.78,508.12 L258.99,508.28 L259.20,508.34 L259.42,508.24 L259.63,508.24 L259.84,507.99 L260.06,508.20 L260.27,508.32 L260.48,507.79 L260.70,508.61 L260.91,508.63 L261.12,508.21 L261.34,508.35 L261.55,508.75 L261.76,508.38 L261.98,508.48 L262.19,508.02 L262.40,508.46 L262.62,508.04 L262.83,508.19 L263.04,508.36 L263.25,508.30 L263.47,508.20 L263.68,508.88 L263.89,508.21 L264.11,508.37 L264.32,507.80 L264.53,508.33 L264.75,507.67 L264.96,508.21 L265.17,506.87 L265.39,506.50 L265.60,506.41 L265.81,506.60 L266.03,507.14 L266.24,507.49 L266.45,508.00 L266.67,508.62 L266.88,508.31 L267.09,507.74 L267.31,508.31 L267.52,508.26 L267.73,508.44 L267.95,508.30 L268.16,508.30 L268.37,508.41 L268.58,508.14 L268.80,508.59 L269.01,508.39 L269.22,508.23 L269.44,508.43 L269.65,508.67 L269.86,508.23 L270.08,508.61 L270.29,508.48 L270.50,508.58 L270.72,508.40 L270.93,508.48 L271.14,508.50 L271.36,508.21 L271.57,507.94 L271.78,508.47 L272.00,508.25 L272.21,508.47 L272.42,508.36 L272.64,508.10 L272.85,508.37 L273.06,508.59 L273.28,508.57 L273.49,508.54 L273.70,508.39 L273.91,508.18 L274.13,508.73 L274.34,508.65 L274.55,508.62 L274.77,508.83 L274.98,508.06 L275.19,508.40 L275.41,507.91 L275.62,508.74 L275.83,508.06 L276.05,508.55 L276.26,508.47 L276.47,508.61 L276.69,508.58 L276.90,508.64 L277.11,508.19 L277.33,508.39 L277.54,507.71 L277.75,506.92 L277.97,505.71 L278.18,504.84 L278.39,504.34 L278.61,504.74 L278.82,505.89 L279.03,506.83 L279.24,507.90 L279.46,508.26 L279.67,507.77 L279.88,508.32 L280.10,508.52 L280.31,508.02 L280.52,508.41 L280.74,508.54 L280.95,508.74 L281.16,508.19 L281.38,508.65 L281.59,508.51 L281.80,508.22 L282.02,508.33 L282.23,508.39 L282.44,508.41 L282.66,508.05 L282.87,507.77 L283.08,508.43 L283.30,508.12 L283.51,507.70 L283.72,507.76 L283.94,507.87 L284.15,507.16 L284.36,506.07 L284.57,504.47 L284.79,502.28 L285.00,499.97 L285.21,498.82 L285.43,498.46 L285.64,500.01 L285.85,502.23 L286.07,504.03 L286.28,505.86 L286.49,507.00 L286.71,507.46 L286.92,507.91 L287.13,508.24 L287.35,508.05 L287.56,508.25 L287.77,507.63 L287.99,508.11 L288.20,508.11 L288.41,508.09 L288.63,508.40 L288.84,508.11 L289.05,508.44 L289.27,508.66 L289.48,508.60 L289.69,508.33 L289.90,508.85 L290.12,508.41 L290.33,508.65 L290.54,508.29 L290.76,508.66 L290.97,508.00 L291.18,508.28 L291.40,508.79 L291.61,508.03 L291.82,508.52 L292.04,508.64 L292.25,508.71 L292.46,508.30 L292.68,508.05 L292.89,508.55 L293.10,508.61 L293.32,508.56 L293.53,507.70 L293.74,507.27 L293.96,507.10 L294.17,505.87 L294.38,504.74 L294.60,503.50 L294.81,502.42 L295.02,502.56 L295.23,503.41 L295.45,504.82 L295.66,505.81 L295.87,507.10 L296.09,507.70 L296.30,508.05 L296.51,508.60 L296.73,508.47 L296.94,508.52 L297.15,508.45 L297.37,508.77 L297.58,508.80 L297.79,508.11 L298.01,508.24 L298.22,508.31 L298.43,508.08 L298.65,508.44 L298.86,508.57 L299.07,508.43 L299.29,509.03 L299.50,508.84 L299.71,508.38 L299.93,508.56 L300.14,508.89 L300.35,508.41 L300.56,508.33 L300.78,508.41 L300.99,508.59 L301.20,508.79 L301.42,508.56 L301.63,508.48 L301.84,508.68 L302.06,508.44 L302.27,508.51 L302.48,508.51 L302.70,509.10 L302.91,508.33 L303.12,508.17 L303.34,508.70 L303.55,508.97 L303.76,508.44 L303.98,508.71 L304.19,508.84 L304.40,508.29 L304.62,508.94 L304.83,508.41 L305.04,508.90 L305.26,508.21 L305.47,508.44 L305.68,508.62 L305.89,508.49 L306.11,508.32 L306.32,508.12 L306.53,507.87 L306.75,507.49 L306.96,507.07 L307.17,505.94 L307.39,505.60 L307.60,504.48 L307.81,504.51 L308.03,504.93 L308.24,506.26 L308.45,506.92 L308.67,507.42 L308.88,508.01 L309.09,508.46 L309.31,508.41 L309.52,508.53 L309.73,508.34 L309.95,508.76 L310.16,508.53 L310.37,508.55 L310.59,508.44 L310.80,508.66 L311.01,508.61 L311.22,508.67 L311.44,508.65 L311.65,508.66 L311.86,508.74 L312.08,507.96 L312.29,508.88 L312.50,508.96 L312.72,508.87 L312.93,508.85 L313.14,508.68 L313.36,508.32 L313.57,508.26 L313.78,508.63 L314.00,509.31 L314.21,508.59 L314.42,509.02 L314.64,508.82 L314.85,508.98 L315.06,508.59 L315.28,508.85 L315.49,508.50 L315.70,508.58 L315.92,508.76 L316.13,508.68 L316.34,508.47 L316.55,508.79 L316.77,508.47 L316.98,508.70 L317.19,508.62 L317.41,508.49 L317.62,508.35 L317.83,508.54 L318.05,508.63 L318.26,508.41 L318.47,508.89 L318.69,507.94 L318.90,508.46 L319.11,507.60 L319.33,507.61 L319.54,506.99 L319.75,506.88 L319.97,506.67 L320.18,507.05 L320.39,507.66 L320.61,507.38 L320.82,507.99 L321.03,508.30 L321.25,508.55 L321.46,508.03 L321.67,508.76 L321.88,508.59 L322.10,508.99 L322.31,508.34 L322.52,508.87 L322.74,509.38 L322.95,508.06 L323.16,509.02 L323.38,508.42 L323.59,508.57 L323.80,508.59 L324.02,508.82 L324.23,508.72 L324.44,508.46 L324.66,508.84 L324.87,508.71 L325.08,508.54 L325.30,508.75 L325.51,508.88 L325.72,508.42 L325.94,508.70 L326.15,508.81 L326.36,508.98 L326.58,509.04 L326.79,508.57 L327.00,508.55 L327.21,509.34 L327.43,508.95 L327.64,508.55 L327.85,508.19 L328.07,508.26 L328.28,508.56 L328.49,508.46 L328.71,508.94 L328.92,508.61 L329.13,509.12 L329.35,508.95 L329.56,508.73 L329.77,508.27 L329.99,508.62 L330.20,508.74 L330.41,508.86 L330.63,509.14 L330.84,508.66 L331.05,508.90 L331.27,508.75 L331.48,509.04 L331.69,508.78 L331.91,509.20 L332.12,508.69 L332.33,508.48 L332.54,508.58 L332.76,508.27 L332.97,508.69 L333.18,508.61 L333.40,508.54 L333.61,508.78 L333.82,507.85 L334.04,507.92 L334.25,507.96 L334.46,507.86 L334.68,507.29 L334.89,507.14 L335.10,507.40 L335.32,507.59 L335.53,507.96 L335.74,508.18 L335.96,508.07 L336.17,508.23 L336.38,509.07 L336.60,508.73 L336.81,509.11 L337.02,509.16 L337.24,508.69 L337.45,509.06 L337.66,509.64 L337.87,508.70 L338.09,508.54 L338.30,508.36 L338.51,508.97 L338.73,508.51 L338.94,509.53 L339.15,509.14 L339.37,508.75 L339.58,508.76 L339.79,508.55 L340.01,508.65 L340.22,508.91 L340.43,508.51 L340.65,508.72 L340.86,508.47 L341.07,509.10 L341.29,508.82 L341.50,509.01 L341.71,508.70 L341.93,508.96 L342.14,508.97 L342.35,509.24 L342.57,508.83 L342.78,508.63 L342.99,508.66 L343.20,509.67 L343.42,509.32 L343.63,508.42 L343.84,508.97 L344.06,508.96 L344.27,508.63 L344.48,508.88 L344.70,509.09 L344.91,508.98 L345.12,508.46 L345.34,509.28 L345.55,508.61 L345.76,509.01 L345.98,509.00 L346.19,508.47 L346.40,509.10 L346.62,508.73 L346.83,509.03 L347.04,509.30 L347.26,508.99 L347.47,508.66 L347.68,509.00 L347.90,508.81 L348.11,508.91 L348.32,508.94 L348.53,509.06 L348.75,508.92 L348.96,509.47 L349.17,509.07 L349.39,509.41 L349.60,508.90 L349.81,508.88 L350.03,509.17 L350.24,508.77 L350.45,508.87 L350.67,508.90 L350.88,509.06 L351.09,508.86 L351.31,508.71 L351.52,509.14 L351.73,509.18 L351.95,508.68 L352.16,509.56 L352.37,509.64 L352.59,509.44 L352.80,508.94 L353.01,508.95 L353.23,508.87 L353.44,508.97 L353.65,508.61 L353.86,508.60 L354.08,508.71 L354.29,509.29 L354.50,508.91 L354.72,509.22 L354.93,509.13 L355.14,509.26 L355.36,509.00 L355.57,508.87 L355.78,508.99 L356.00,509.31 L356.21,509.39 L356.42,509.21 L356.64,509.21 L356.85,508.82 L357.06,509.10 L357.28,509.07 L357.49,509.06 L357.70,508.75 L357.92,508.62 L358.13,508.92 L358.34,509.09 L358.56,508.68 L358.77,508.92 L358.98,509.14 L359.19,508.78 L359.41,508.98 L359.62,509.40 L359.83,508.88 L360.05,508.97 L360.26,509.51 L360.47,509.58 L360.69,509.01 L360.90,508.88 L361.11,508.90 L361.33,509.39 L361.54,509.14 L361.75,508.89 L361.97,509.44 L362.18,509.04 L362.39,509.00 L362.61,508.83 L362.82,509.67 L363.03,509.03 L363.25,508.56 L363.46,509.22 L363.67,509.15 L363.89,508.83 L364.10,509.26 L364.31,508.78 L364.52,508.94 L364.74,509.47 L364.95,509.05 L365.16,509.44 L365.38,508.84 L365.59,509.50 L365.80,509.54 L366.02,509.37 L366.23,509.29 L366.44,508.76 L366.66,509.09 L366.87,509.02 L367.08,508.82 L367.30,509.27 L367.51,509.24 L367.72,509.31 L367.94,508.90 L368.15,508.69 L368.36,509.04 L368.58,509.26 L368.79,509.23 L369.00,509.38 L369.22,508.92 L369.43,509.37 L369.64,509.17 L369.85,509.40 L370.07,509.59 L370.28,509.75 L370.49,509.34 L370.71,509.06 L370.92,509.20 L371.13,509.18 L371.35,509.39 L371.56,509.36 L371.77,509.39 L371.99,509.07 L372.20,508.62 L372.41,509.16 L372.63,509.47 L372.84,508.81 L373.05,509.38 L373.27,508.99 L373.48,509.25 L373.69,509.12 L373.91,508.28 L374.12,509.33 L374.33,509.29 L374.55,509.05 L374.76,509.15 L374.97,509.25 L375.18,509.32 L375.40,509.00 L375.61,508.88 L375.82,509.39 L376.04,509.43 L376.25,508.69 L376.46,509.51 L376.68,508.97 L376.89,509.04 L377.10,509.43 L377.32,508.96 L377.53,509.42 L377.74,509.42 L377.96,509.49 L378.17,508.94 L378.38,509.25 L378.60,508.86 L378.81,509.33 L379.02,508.96 L379.24,508.74 L379.45,509.07 L379.66,509.24 L379.88,508.90 L380.09,508.27 L380.30,508.06 L380.51,507.93 L380.73,507.81 L380.94,506.80 L381.15,506.32 L381.37,506.32 L381.58,506.87 L381.79,507.43 L382.01,508.04 L382.22,508.41 L382.43,509.01 L382.65,508.30 L382.86,508.99 L383.07,508.48 L383.29,509.14 L383.50,509.55 L383.71,508.70 L383.93,509.39 L384.14,509.29 L384.35,508.78 L384.57,508.83 L384.78,509.71 L384.99,509.20 L385.21,509.48 L385.42,509.08 L385.63,508.76 L385.84,509.35 L386.06,508.85 L386.27,509.45 L386.48,508.68 L386.70,509.43 L386.91,509.35 L387.12,509.16 L387.34,509.58 L387.55,508.85 L387.76,509.51 L387.98,509.09 L388.19,509.56 L388.40,509.22 L388.62,509.25 L388.83,509.34 L389.04,509.13 L389.26,509.53 L389.47,508.87 L389.68,509.20 L389.90,509.95 L390.11,508.76 L390.32,509.15 L390.54,508.87 L390.75,509.31 L390.96,509.83 L391.17,509.37 L391.39,509.58 L391.60,509.28 L391.81,509.39 L392.03,509.22 L392.24,509.72 L392.45,509.26 L392.67,509.39 L392.88,509.12 L393.09,509.71 L393.31,509.39 L393.52,508.87 L393.73,509.58 L393.95,509.10 L394.16,508.96 L394.37,509.29 L394.59,509.05 L394.80,509.03 L395.01,508.90 L395.23,509.39 L395.44,509.33 L395.65,509.10 L395.87,509.49 L396.08,509.29 L396.29,509.48 L396.50,509.89 L396.72,509.23 L396.93,508.89 L397.14,509.41 L397.36,509.29 L397.57,509.43 L397.78,509.50 L398.00,509.29 L398.21,509.05 L398.42,508.77 L398.64,509.12 L398.85,509.57 L399.06,509.68 L399.28,509.00 L399.49,509.25 L399.70,509.48 L399.92,509.60 L400.13,509.54 L400.34,509.03 L400.56,509.34 L400.77,509.69 L400.98,509.12 L401.20,509.27 L401.41,509.42 L401.62,509.19 L401.83,509.55 L402.05,509.11 L402.26,509.71 L402.47,509.58 L402.69,509.70 L402.90,509.46 L403.11,509.55 L403.33,509.45 L403.54,509.36 L403.75,509.22 L403.97,509.33 L404.18,509.30 L404.39,508.97 L404.61,509.43 L404.82,509.73 L405.03,509.13 L405.25,508.91 L405.46,509.33 L405.67,509.17 L405.89,509.54 L406.10,509.33 L406.31,509.22 L406.53,509.29 L406.74,509.52 L406.95,508.98 L407.16,509.34 L407.38,509.16 L407.59,509.29 L407.80,509.17 L408.02,509.16 L408.23,509.45 L408.44,509.19 L408.66,508.86 L408.87,508.90 L409.08,509.21 L409.30,508.98 L409.51,509.73 L409.72,509.04 L409.94,509.39 L410.15,509.86 L410.36,509.37 L410.58,509.17 L410.79,509.59 L411.00,508.93 L411.22,509.08 L411.43,509.74 L411.64,509.17 L411.86,509.39 L412.07,509.56 L412.28,509.50 L412.49,509.54 L412.71,509.73 L412.92,509.54 L413.13,509.26 L413.35,509.08 L413.56,509.07 L413.77,509.58 L413.99,509.47 L414.20,509.65 L414.41,509.18 L414.63,509.85 L414.84,509.78 L415.05,509.60 L415.27,509.38 L415.48,509.53 L415.69,509.44 L415.91,509.44 L416.12,509.39 L416.33,509.71 L416.55,509.54 L416.76,509.31 L416.97,509.39 L417.19,509.19 L417.40,509.65 L417.61,509.24 L417.82,509.10 L418.04,509.50 L418.25,509.40 L418.46,509.41 L418.68,509.34 L418.89,509.38 L419.10,509.11 L419.32,509.35 L419.53,509.26 L419.74,509.40 L419.96,509.74 L420.17,509.37 L420.38,509.54 L420.60,509.64 L420.81,509.71 L421.02,509.51 L421.24,509.64 L421.45,508.98 L421.66,509.09 L421.88,509.56 L422.09,509.32 L422.30,509.21 L422.52,509.54 L422.73,509.04 L422.94,509.27 L423.15,509.53 L423.37,509.96 L423.58,509.75 L423.79,509.43 L424.01,509.62 L424.22,509.52 L424.43,509.71 L424.65,509.45 L424.86,509.63 L425.07,509.91 L425.29,509.61 L425.50,509.66 L425.71,509.91 L425.93,509.17 L426.14,509.55 L426.35,509.61 L426.57,509.34 L426.78,509.55 L426.99,509.34 L427.21,509.90 L427.42,509.79 L427.63,509.40 L427.85,509.17 L428.06,509.53 L428.27,509.49 L428.48,509.75 L428.70,509.55 L428.91,509.72 L429.12,509.59 L429.34,509.37 L429.55,510.05 L429.76,509.50 L429.98,509.76 L430.19,509.72 L430.40,509.27 L430.62,509.48 L430.83,509.33 L431.04,510.00 L431.26,509.67 L431.47,509.68 L431.68,509.71 L431.90,509.46 L432.11,509.35 L432.32,509.85 L432.54,509.81 L432.75,509.89 L432.96,509.29 L433.18,509.71 L433.39,509.60 L433.60,509.66 L433.81,509.82 L434.03,509.49 L434.24,509.49 L434.45,509.35 L434.67,509.64 L434.88,509.66 L435.09,509.74 L435.31,509.22 L435.52,509.34 L435.73,509.61 L435.95,509.44" fill="none" stroke="#3b7fc0" stroke-width="1.15" stroke-linejoin="round"/>
<path d="M25.75,568.77 L25.96,568.61 L26.18,569.55 L26.39,567.85 L26.60,569.40 L26.82,568.97 L27.03,568.37 L27.24,569.16 L27.46,569.08 L27.67,569.01 L27.88,568.35 L28.10,567.57 L28.31,568.59 L28.52,569.11 L28.73,568.37 L28.95,568.88 L29.16,568.62 L29.37,568.08 L29.59,568.95 L29.80,568.61 L30.01,569.01 L30.23,568.69 L30.44,568.50 L30.65,569.07 L30.87,568.77 L31.08,568.73 L31.29,568.91 L31.51,569.16 L31.72,569.27 L31.93,568.70 L32.15,568.75 L32.36,567.63 L32.57,569.73 L32.79,568.58 L33.00,568.47 L33.21,568.02 L33.43,568.41 L33.64,569.02 L33.85,568.64 L34.06,568.40 L34.28,568.78 L34.49,568.30 L34.70,569.48 L34.92,567.87 L35.13,567.98 L35.34,568.80 L35.56,568.37 L35.77,568.63 L35.98,569.02 L36.20,568.61 L36.41,568.20 L36.62,568.82 L36.84,568.82 L37.05,568.68 L37.26,568.45 L37.48,568.07 L37.69,568.93 L37.90,568.42 L38.12,568.55 L38.33,569.48 L38.54,568.83 L38.76,568.70 L38.97,568.65 L39.18,568.47 L39.39,569.50 L39.61,568.47 L39.82,568.59 L40.03,568.56 L40.25,567.16 L40.46,566.56 L40.67,566.96 L40.89,566.51 L41.10,567.56 L41.31,567.88 L41.53,568.77 L41.74,567.76 L41.95,569.76 L42.17,568.63 L42.38,568.29 L42.59,569.51 L42.81,568.67 L43.02,568.58 L43.23,568.07 L43.45,567.64 L43.66,567.89 L43.87,567.54 L44.09,565.35 L44.30,564.72 L44.51,565.47 L44.72,565.80 L44.94,566.73 L45.15,567.43 L45.36,568.07 L45.58,567.75 L45.79,569.20 L46.00,567.83 L46.22,567.79 L46.43,567.42 L46.64,565.90 L46.86,566.60 L47.07,564.64 L47.28,565.38 L47.50,566.95 L47.71,567.15 L47.92,568.13 L48.14,567.19 L48.35,567.69 L48.56,568.38 L48.78,568.93 L48.99,568.88 L49.20,568.77 L49.42,568.88 L49.63,569.04 L49.84,568.90 L50.05,568.75 L50.27,568.86 L50.48,568.94 L50.69,569.04 L50.91,567.47 L51.12,569.28 L51.33,569.07 L51.55,568.41 L51.76,568.74 L51.97,568.39 L52.19,568.21 L52.40,567.99 L52.61,568.21 L52.83,568.98 L53.04,568.01 L53.25,569.29 L53.47,568.52 L53.68,568.67 L53.89,568.89 L54.11,568.11 L54.32,568.42 L54.53,567.83 L54.75,568.90 L54.96,567.78 L55.17,567.83 L55.38,567.86 L55.60,568.35 L55.81,567.50 L56.02,567.57 L56.24,566.99 L56.45,563.28 L56.66,562.29 L56.88,558.82 L57.09,555.37 L57.30,549.21 L57.52,543.15 L57.73,538.12 L57.94,535.31 L58.16,533.91 L58.37,533.88 L58.58,532.45 L58.80,534.30 L59.01,538.77 L59.22,545.61 L59.44,550.40 L59.65,555.89 L59.86,559.70 L60.08,561.28 L60.29,563.71 L60.50,565.02 L60.71,564.25 L60.93,561.92 L61.14,557.17 L61.35,548.67 L61.57,536.93 L61.78,530.90 L61.99,530.65 L62.21,539.88 L62.42,549.12 L62.63,557.57 L62.85,563.46 L63.06,566.32 L63.27,566.80 L63.49,567.42 L63.70,567.41 L63.91,565.93 L64.13,564.27 L64.34,562.01 L64.55,558.65 L64.77,554.49 L64.98,552.23 L65.19,553.13 L65.41,557.29 L65.62,560.76 L65.83,563.82 L66.04,565.95 L66.26,567.03 L66.47,567.70 L66.68,568.81 L66.90,568.74 L67.11,569.04 L67.32,567.73 L67.54,568.51 L67.75,568.37 L67.96,568.18 L68.18,568.82 L68.39,569.21 L68.60,568.90 L68.82,568.79 L69.03,568.07 L69.24,568.36 L69.46,569.25 L69.67,568.47 L69.88,568.45 L70.10,569.27 L70.31,568.85 L70.52,569.64 L70.74,568.66 L70.95,568.95 L71.16,569.42 L71.37,569.13 L71.59,568.71 L71.80,569.07 L72.01,568.68 L72.23,568.56 L72.44,569.18 L72.65,568.93 L72.87,567.81 L73.08,568.68 L73.29,569.01 L73.51,568.23 L73.72,567.90 L73.93,565.10 L74.15,563.77 L74.36,563.07 L74.57,563.81 L74.79,564.30 L75.00,563.94 L75.21,565.05 L75.43,566.92 L75.64,568.32 L75.85,568.70 L76.07,569.85 L76.28,567.98 L76.49,569.60 L76.70,568.88 L76.92,569.46 L77.13,569.78 L77.34,568.92 L77.56,569.02 L77.77,568.96 L77.98,568.65 L78.20,569.17 L78.41,568.72 L78.62,568.66 L78.84,569.04 L79.05,569.01 L79.26,568.64 L79.48,568.85 L79.69,568.79 L79.90,569.92 L80.12,568.81 L80.33,568.65 L80.54,568.86 L80.76,568.61 L80.97,567.86 L81.18,568.60 L81.40,568.17 L81.61,568.47 L81.82,567.61 L82.03,565.72 L82.25,563.07 L82.46,558.73 L82.67,555.25 L82.89,552.69 L83.10,554.05 L83.31,557.44 L83.53,561.07 L83.74,564.70 L83.95,566.81 L84.17,568.04 L84.38,568.51 L84.59,568.13 L84.81,568.10 L85.02,568.45 L85.23,568.99 L85.45,568.18 L85.66,569.57 L85.87,569.82 L86.09,568.80 L86.30,568.94 L86.51,569.01 L86.73,568.95 L86.94,569.71 L87.15,569.50 L87.36,568.43 L87.58,568.53 L87.79,569.32 L88.00,568.13 L88.22,569.49 L88.43,569.27 L88.64,568.88 L88.86,569.55 L89.07,569.24 L89.28,569.10 L89.50,569.20 L89.71,568.63 L89.92,568.76 L90.14,569.52 L90.35,569.34 L90.56,568.95 L90.78,569.06 L90.99,569.39 L91.20,568.84 L91.42,568.66 L91.63,569.31 L91.84,568.67 L92.06,569.75 L92.27,569.75 L92.48,568.79 L92.69,569.39 L92.91,569.45 L93.12,569.11 L93.33,569.29 L93.55,568.82 L93.76,569.60 L93.97,569.07 L94.19,567.40 L94.40,568.58 L94.61,569.03 L94.83,566.97 L95.04,565.50 L95.25,563.35 L95.47,562.57 L95.68,562.87 L95.89,563.10 L96.11,564.80 L96.32,566.59 L96.53,564.88 L96.75,563.71 L96.96,561.27 L97.17,561.12 L97.39,561.52 L97.60,563.83 L97.81,565.74 L98.02,567.50 L98.24,568.49 L98.45,568.64 L98.66,568.53 L98.88,568.69 L99.09,568.18 L99.30,568.72 L99.52,568.63 L99.73,567.95 L99.94,568.82 L100.16,568.47 L100.37,568.63 L100.58,567.64 L100.80,565.78 L101.01,565.02 L101.22,563.50 L101.44,564.62 L101.65,565.75 L101.86,566.31 L102.08,568.17 L102.29,566.99 L102.50,567.86 L102.72,568.86 L102.93,567.90 L103.14,567.11 L103.35,565.06 L103.57,563.06 L103.78,560.12 L103.99,557.79 L104.21,557.71 L104.42,558.99 L104.63,560.31 L104.85,563.14 L105.06,564.78 L105.27,566.99 L105.49,567.55 L105.70,568.31 L105.91,568.81 L106.13,569.05 L106.34,568.59 L106.55,567.81 L106.77,568.59 L106.98,569.04 L107.19,568.67 L107.41,568.94 L107.62,569.56 L107.83,568.83 L108.05,568.22 L108.26,568.92 L108.47,568.94 L108.68,567.51 L108.90,565.77 L109.11,564.82 L109.32,563.78 L109.54,563.20 L109.75,564.51 L109.96,566.26 L110.18,567.81 L110.39,568.35 L110.60,568.80 L110.82,568.50 L111.03,569.32 L111.24,568.23 L111.46,568.85 L111.67,569.08 L111.88,568.49 L112.10,569.72 L112.31,569.02 L112.52,568.58 L112.74,567.07 L112.95,565.95 L113.16,562.34 L113.38,559.92 L113.59,557.05 L113.80,557.56 L114.01,559.08 L114.23,562.89 L114.44,565.19 L114.65,567.24 L114.87,568.21 L115.08,567.95 L115.29,567.08 L115.51,567.15 L115.72,565.25 L115.93,560.21 L116.15,551.81 L116.36,541.34 L116.57,528.78 L116.79,519.86 L117.00,520.10 L117.21,528.44 L117.43,540.38 L117.64,552.22 L117.85,560.21 L118.07,564.35 L118.28,566.90 L118.49,568.25 L118.71,568.70 L118.92,568.96 L119.13,567.74 L119.34,568.72 L119.56,568.52 L119.77,568.52 L119.98,569.31 L120.20,568.64 L120.41,569.20 L120.62,569.90 L120.84,569.04 L121.05,569.33 L121.26,568.74 L121.48,567.88 L121.69,566.12 L121.90,566.30 L122.12,565.36 L122.33,565.13 L122.54,566.01 L122.76,567.25 L122.97,568.58 L123.18,569.08 L123.40,569.00 L123.61,569.50 L123.82,569.19 L124.04,569.18 L124.25,567.57 L124.46,567.99 L124.67,565.71 L124.89,566.51 L125.10,567.06 L125.31,567.88 L125.53,567.78 L125.74,568.23 L125.95,569.38 L126.17,568.99 L126.38,569.27 L126.59,569.33 L126.81,569.17 L127.02,568.90 L127.23,570.11 L127.45,570.26 L127.66,569.16 L127.87,569.29 L128.09,568.95 L128.30,570.02 L128.51,569.69 L128.73,568.55 L128.94,569.82 L129.15,569.06 L129.37,569.57 L129.58,569.37 L129.79,569.78 L130.00,568.60 L130.22,569.95 L130.43,569.57 L130.64,569.35 L130.86,568.24 L131.07,568.23 L131.28,567.03 L131.50,565.05 L131.71,560.78 L131.92,554.84 L132.14,548.67 L132.35,546.74 L132.56,550.02 L132.78,554.53 L132.99,560.82 L133.20,565.51 L133.42,567.37 L133.63,568.74 L133.84,567.74 L134.06,568.94 L134.27,569.64 L134.48,568.30 L134.70,568.04 L134.91,565.64 L135.12,564.12 L135.33,562.98 L135.55,561.53 L135.76,562.70 L135.97,564.59 L136.19,566.62 L136.40,568.72 L136.61,568.55 L136.83,569.41 L137.04,569.57 L137.25,568.89 L137.47,568.42 L137.68,569.58 L137.89,568.50 L138.11,570.25 L138.32,569.08 L138.53,569.61 L138.75,569.38 L138.96,569.79 L139.17,569.61 L139.39,569.47 L139.60,569.44 L139.81,568.96 L140.03,567.80 L140.24,568.58 L140.45,567.60 L140.66,567.56 L140.88,567.57 L141.09,566.15 L141.30,568.14 L141.52,568.66 L141.73,568.87 L141.94,568.78 L142.16,569.18 L142.37,568.54 L142.58,569.49 L142.80,570.25 L143.01,569.37 L143.22,569.39 L143.44,569.82 L143.65,569.60 L143.86,569.72 L144.08,568.68 L144.29,569.74 L144.50,570.09 L144.72,569.34 L144.93,570.29 L145.14,569.28 L145.36,569.29 L145.57,569.85 L145.78,569.73 L145.99,569.75 L146.21,568.75 L146.42,569.30 L146.63,570.02 L146.85,570.03 L147.06,569.50 L147.27,569.47 L147.49,569.81 L147.70,569.33 L147.91,569.54 L148.13,568.96 L148.34,569.23 L148.55,569.46 L148.77,569.33 L148.98,569.76 L149.19,568.93 L149.41,569.08 L149.62,569.30 L149.83,568.68 L150.05,568.07 L150.26,564.87 L150.47,563.25 L150.69,559.30 L150.90,556.77 L151.11,557.29 L151.32,559.53 L151.54,563.20 L151.75,565.89 L151.96,567.73 L152.18,568.40 L152.39,568.77 L152.60,569.46 L152.82,569.59 L153.03,569.66 L153.24,569.81 L153.46,570.23 L153.67,569.19 L153.88,569.51 L154.10,569.58 L154.31,570.24 L154.52,570.18 L154.74,570.64 L154.95,569.56 L155.16,569.22 L155.38,569.26 L155.59,569.56 L155.80,570.01 L156.02,569.53 L156.23,569.52 L156.44,569.20 L156.65,569.17 L156.87,569.63 L157.08,569.52 L157.29,569.18 L157.51,569.27 L157.72,569.52 L157.93,570.38 L158.15,569.61 L158.36,568.70 L158.57,568.45 L158.79,566.95 L159.00,565.72 L159.21,563.36 L159.43,561.42 L159.64,561.44 L159.85,563.10 L160.07,564.77 L160.28,566.07 L160.49,566.44 L160.71,567.33 L160.92,566.03 L161.13,565.60 L161.35,566.11 L161.56,567.72 L161.77,567.45 L161.98,569.25 L162.20,569.17 L162.41,570.49 L162.62,569.72 L162.84,569.64 L163.05,569.97 L163.26,569.23 L163.48,568.51 L163.69,569.98 L163.90,569.98 L164.12,568.81 L164.33,569.35 L164.54,569.75 L164.76,570.19 L164.97,569.29 L165.18,569.53 L165.40,568.93 L165.61,570.02 L165.82,569.71 L166.04,569.77 L166.25,569.73 L166.46,569.16 L166.68,569.26 L166.89,569.92 L167.10,569.68 L167.31,569.74 L167.53,569.23 L167.74,569.71 L167.95,570.13 L168.17,569.78 L168.38,569.64 L168.59,569.20 L168.81,569.03 L169.02,569.01 L169.23,569.42 L169.45,569.80 L169.66,569.28 L169.87,569.59 L170.09,569.74 L170.30,569.23 L170.51,568.96 L170.73,568.18 L170.94,567.70 L171.15,565.74 L171.37,561.53 L171.58,559.03 L171.79,556.75 L172.01,559.09 L172.22,562.02 L172.43,565.80 L172.64,566.38 L172.86,568.78 L173.07,569.18 L173.28,569.61 L173.50,569.57 L173.71,569.14 L173.92,569.50 L174.14,569.57 L174.35,569.05 L174.56,570.20 L174.78,569.09 L174.99,568.89 L175.20,570.23 L175.42,569.48 L175.63,570.18 L175.84,570.54 L176.06,569.96 L176.27,569.32 L176.48,569.20 L176.70,569.67 L176.91,569.86 L177.12,569.62 L177.34,569.67 L177.55,569.50 L177.76,570.02 L177.97,568.39 L178.19,566.88 L178.40,563.06 L178.61,559.29 L178.83,554.06 L179.04,548.88 L179.25,546.62 L179.47,549.23 L179.68,554.94 L179.89,559.93 L180.11,564.14 L180.32,566.78 L180.53,568.61 L180.75,569.35 L180.96,569.33 L181.17,569.32 L181.39,569.15 L181.60,569.56 L181.81,569.27 L182.03,569.91 L182.24,569.01 L182.45,569.15 L182.67,569.15 L182.88,567.55 L183.09,565.85 L183.30,564.87 L183.52,563.41 L183.73,564.56 L183.94,565.74 L184.16,567.95 L184.37,568.48 L184.58,568.90 L184.80,569.71 L185.01,569.71 L185.22,569.93 L185.44,569.55 L185.65,569.70 L185.86,569.51 L186.08,569.77 L186.29,570.32 L186.50,570.34 L186.72,569.96 L186.93,569.55 L187.14,568.73 L187.36,569.34 L187.57,569.96 L187.78,570.46 L188.00,569.02 L188.21,568.69 L188.42,568.47 L188.63,566.77 L188.85,566.83 L189.06,567.36 L189.27,568.81 L189.49,568.28 L189.70,569.24 L189.91,569.69 L190.13,570.15 L190.34,569.94 L190.55,569.24 L190.77,569.58 L190.98,568.92 L191.19,569.35 L191.41,569.68 L191.62,569.43 L191.83,569.77 L192.05,570.49 L192.26,570.11 L192.47,569.69 L192.69,570.26 L192.90,570.07 L193.11,570.39 L193.33,569.06 L193.54,570.40 L193.75,570.25 L193.96,570.11 L194.18,569.09 L194.39,568.62 L194.60,568.64 L194.82,567.10 L195.03,566.75 L195.24,565.90 L195.46,565.17 L195.67,566.94 L195.88,568.42 L196.10,569.74 L196.31,569.68 L196.52,570.33 L196.74,570.79 L196.95,569.56 L197.16,569.59 L197.38,569.78 L197.59,569.42 L197.80,570.63 L198.02,569.26 L198.23,570.38 L198.44,569.72 L198.66,569.69 L198.87,569.41 L199.08,568.99 L199.29,569.73 L199.51,570.05 L199.72,570.38 L199.93,569.74 L200.15,570.21 L200.36,570.37 L200.57,569.67 L200.79,568.88 L201.00,568.58 L201.21,567.88 L201.43,566.33 L201.64,566.51 L201.85,567.08 L202.07,566.76 L202.28,568.34 L202.49,568.30 L202.71,570.27 L202.92,569.32 L203.13,569.94 L203.35,568.69 L203.56,570.01 L203.77,570.12 L203.99,569.74 L204.20,569.86 L204.41,570.16 L204.62,569.54 L204.84,569.65 L205.05,569.56 L205.26,569.79 L205.48,570.29 L205.69,570.29 L205.90,569.71 L206.12,570.40 L206.33,569.22 L206.54,569.97 L206.76,570.34 L206.97,569.52 L207.18,570.00 L207.40,569.45 L207.61,569.90 L207.82,569.20 L208.04,570.17 L208.25,570.98 L208.46,570.68 L208.68,570.73 L208.89,569.73 L209.10,569.18 L209.32,570.08 L209.53,570.60 L209.74,569.69 L209.95,569.79 L210.17,570.16 L210.38,569.80 L210.59,569.97 L210.81,570.47 L211.02,569.59 L211.23,569.99 L211.45,569.88 L211.66,569.01 L211.87,567.42 L212.09,566.49 L212.30,566.41 L212.51,567.59 L212.73,568.59 L212.94,568.75 L213.15,569.54 L213.37,569.71 L213.58,570.42 L213.79,570.36 L214.01,570.47 L214.22,569.65 L214.43,569.53 L214.65,570.32 L214.86,569.76 L215.07,569.74 L215.28,570.36 L215.50,570.03 L215.71,569.67 L215.92,570.49 L216.14,569.47 L216.35,570.13 L216.56,570.01 L216.78,570.14 L216.99,570.69 L217.20,569.87 L217.42,570.02 L217.63,570.20 L217.84,570.11 L218.06,569.81 L218.27,570.05 L218.48,570.21 L218.70,569.91 L218.91,569.58 L219.12,569.85 L219.34,570.14 L219.55,569.19 L219.76,569.15 L219.98,567.53 L220.19,565.64 L220.40,562.89 L220.61,560.01 L220.83,558.50 L221.04,559.54 L221.25,563.48 L221.47,565.39 L221.68,567.28 L221.89,569.10 L222.11,570.03 L222.32,570.49 L222.53,569.70 L222.75,569.59 L222.96,569.60 L223.17,568.93 L223.39,568.83 L223.60,567.62 L223.81,566.39 L224.03,566.18 L224.24,566.31 L224.45,567.33 L224.67,568.72 L224.88,569.77 L225.09,570.08 L225.31,569.45 L225.52,570.56 L225.73,570.03 L225.94,570.52 L226.16,569.05 L226.37,570.38 L226.58,569.82 L226.80,570.55 L227.01,568.69 L227.22,570.73 L227.44,569.97 L227.65,570.70 L227.86,569.77 L228.08,570.71 L228.29,570.35 L228.50,570.87 L228.72,570.34 L228.93,570.16 L229.14,569.38 L229.36,571.20 L229.57,569.92 L229.78,570.15 L230.00,570.45 L230.21,570.27 L230.42,570.00 L230.64,570.20 L230.85,570.20 L231.06,570.54 L231.27,570.37 L231.49,569.97 L231.70,570.61 L231.91,570.43 L232.13,570.16 L232.34,570.05 L232.55,570.03 L232.77,570.29 L232.98,571.12 L233.19,569.86 L233.41,569.76 L233.62,569.67 L233.83,570.06 L234.05,569.83 L234.26,570.35 L234.47,570.72 L234.69,570.30 L234.90,570.33 L235.11,569.78 L235.33,569.87 L235.54,570.46 L235.75,570.42 L235.97,570.25 L236.18,570.20 L236.39,569.60 L236.60,570.46 L236.82,569.66 L237.03,570.87 L237.24,570.55 L237.46,569.50 L237.67,570.07 L237.88,570.21 L238.10,569.99 L238.31,570.35 L238.52,570.23 L238.74,570.16 L238.95,570.16 L239.16,570.10 L239.38,570.52 L239.59,570.10 L239.80,570.59 L240.02,570.01 L240.23,570.34 L240.44,570.16 L240.66,570.15 L240.87,570.60 L241.08,570.51 L241.30,570.34 L241.51,570.07 L241.72,569.85 L241.93,570.29 L242.15,570.57 L242.36,570.16 L242.57,570.27 L242.79,569.91 L243.00,569.67 L243.21,569.25 L243.43,570.66 L243.64,569.76 L243.85,569.07 L244.07,568.18 L244.28,568.01 L244.49,568.51 L244.71,568.70 L244.92,569.81 L245.13,570.10 L245.35,570.00 L245.56,570.71 L245.77,569.57 L245.99,570.64 L246.20,570.80 L246.41,570.16 L246.63,571.16 L246.84,570.50 L247.05,570.39 L247.26,569.75 L247.48,568.96 L247.69,570.25 L247.90,570.90 L248.12,570.21 L248.33,570.04 L248.54,570.75 L248.76,570.18 L248.97,569.63 L249.18,570.12 L249.40,570.69 L249.61,570.59 L249.82,571.08 L250.04,570.54 L250.25,570.61 L250.46,569.73 L250.68,571.05 L250.89,571.06 L251.10,570.27 L251.32,570.10 L251.53,570.61 L251.74,570.28 L251.96,570.07 L252.17,570.04 L252.38,570.20 L252.59,570.13 L252.81,571.06 L253.02,570.02 L253.23,570.31 L253.45,570.75 L253.66,570.56 L253.87,570.51 L254.09,570.63 L254.30,570.46 L254.51,570.56 L254.73,571.04 L254.94,569.43 L255.15,570.22 L255.37,569.40 L255.58,570.52 L255.79,569.68 L256.01,570.46 L256.22,569.70 L256.43,569.99 L256.65,570.06 L256.86,570.48 L257.07,570.31 L257.29,569.81 L257.50,571.30 L257.71,570.72 L257.92,570.97 L258.14,570.82 L258.35,570.14 L258.56,570.04 L258.78,570.51 L258.99,569.91 L259.20,570.75 L259.42,570.69 L259.63,570.37 L259.84,570.24 L260.06,570.48 L260.27,570.91 L260.48,570.17 L260.70,569.67 L260.91,570.60 L261.12,570.42 L261.34,570.93 L261.55,570.44 L261.76,570.85 L261.98,570.36 L262.19,569.75 L262.40,570.21 L262.62,570.77 L262.83,570.08 L263.04,571.22 L263.25,569.91 L263.47,570.31 L263.68,570.93 L263.89,570.60 L264.11,570.86 L264.32,569.56 L264.53,570.20 L264.75,570.91 L264.96,570.76 L265.17,570.39 L265.39,570.72 L265.60,570.36 L265.81,570.30 L266.03,571.12 L266.24,570.20 L266.45,569.73 L266.67,570.33 L266.88,570.20 L267.09,570.71 L267.31,570.71 L267.52,570.35 L267.73,570.88 L267.95,571.21 L268.16,570.12 L268.37,570.78 L268.58,570.39 L268.80,570.44 L269.01,570.31 L269.22,570.23 L269.44,570.26 L269.65,570.63 L269.86,570.14 L270.08,570.66 L270.29,570.34 L270.50,570.78 L270.72,570.47 L270.93,570.89 L271.14,569.89 L271.36,570.36 L271.57,570.84 L271.78,571.32 L272.00,570.84 L272.21,569.93 L272.42,570.81 L272.64,570.08 L272.85,570.62 L273.06,570.67 L273.28,570.99 L273.49,570.40 L273.70,570.06 L273.91,570.18 L274.13,570.29 L274.34,570.99 L274.55,570.49 L274.77,571.04 L274.98,570.91 L275.19,570.37 L275.41,571.01 L275.62,570.32 L275.83,570.67 L276.05,569.89 L276.26,570.60 L276.47,570.30 L276.69,570.05 L276.90,570.20 L277.11,570.08 L277.33,570.97 L277.54,569.51 L277.75,570.25 L277.97,569.40 L278.18,569.83 L278.39,568.74 L278.61,569.04 L278.82,569.21 L279.03,569.98 L279.24,570.00 L279.46,570.54 L279.67,570.47 L279.88,570.11 L280.10,571.50 L280.31,570.57 L280.52,570.63 L280.74,571.26 L280.95,570.76 L281.16,569.93 L281.38,570.41 L281.59,570.82 L281.80,570.24 L282.02,570.40 L282.23,571.13 L282.44,570.72 L282.66,570.56 L282.87,570.52 L283.08,570.34 L283.30,570.44 L283.51,570.33 L283.72,570.42 L283.94,570.05 L284.15,569.65 L284.36,568.52 L284.57,567.97 L284.79,567.27 L285.00,565.86 L285.21,564.61 L285.43,565.76 L285.64,565.62 L285.85,567.24 L286.07,567.81 L286.28,568.33 L286.49,568.89 L286.71,568.91 L286.92,570.37 L287.13,570.28 L287.35,569.79 L287.56,569.84 L287.77,570.78 L287.99,570.33 L288.20,569.74 L288.41,569.42 L288.63,570.07 L288.84,569.07 L289.05,569.78 L289.27,567.93 L289.48,567.35 L289.69,568.64 L289.90,568.49 L290.12,569.44 L290.33,569.47 L290.54,569.44 L290.76,569.75 L290.97,570.07 L291.18,571.03 L291.40,570.87 L291.61,569.70 L291.82,570.46 L292.04,570.76 L292.25,570.46 L292.46,570.84 L292.68,570.50 L292.89,570.89 L293.10,570.81 L293.32,571.13 L293.53,569.49 L293.74,569.73 L293.96,569.44 L294.17,568.92 L294.38,568.91 L294.60,568.94 L294.81,567.98 L295.02,567.90 L295.23,568.22 L295.45,569.05 L295.66,570.01 L295.87,569.39 L296.09,569.90 L296.30,570.35 L296.51,570.58 L296.73,570.62 L296.94,570.86 L297.15,571.30 L297.37,570.70 L297.58,570.86 L297.79,570.53 L298.01,570.82 L298.22,570.56 L298.43,571.23 L298.65,570.49 L298.86,569.77 L299.07,570.75 L299.29,570.42 L299.50,570.32 L299.71,570.55 L299.93,570.61 L300.14,571.42 L300.35,571.09 L300.56,570.03 L300.78,570.64 L300.99,570.63 L301.20,569.86 L301.42,571.50 L301.63,570.26 L301.84,570.45 L302.06,571.62 L302.27,571.03 L302.48,570.55 L302.70,571.06 L302.91,571.09 L303.12,570.48 L303.34,570.84 L303.55,570.67 L303.76,570.83 L303.98,570.70 L304.19,570.62 L304.40,569.77 L304.62,570.58 L304.83,571.08 L305.04,570.60 L305.26,570.65 L305.47,569.28 L305.68,571.41 L305.89,570.46 L306.11,570.66 L306.32,570.09 L306.53,571.24 L306.75,571.34 L306.96,570.63 L307.17,570.41 L307.39,570.59 L307.60,570.51 L307.81,570.81 L308.03,570.34 L308.24,570.74 L308.45,571.02 L308.67,570.14 L308.88,571.19 L309.09,571.52 L309.31,570.98 L309.52,570.87 L309.73,570.84 L309.95,570.95 L310.16,570.64 L310.37,570.97 L310.59,571.21 L310.80,570.19 L311.01,570.90 L311.22,570.33 L311.44,570.74 L311.65,570.61 L311.86,570.13 L312.08,571.66 L312.29,570.32 L312.50,570.80 L312.72,570.44 L312.93,571.04 L313.14,570.83 L313.36,570.91 L313.57,571.34 L313.78,570.87 L314.00,570.03 L314.21,570.27 L314.42,570.22 L314.64,570.95 L314.85,570.93 L315.06,571.05 L315.28,571.78 L315.49,570.96 L315.70,571.19 L315.92,570.47 L316.13,570.44 L316.34,570.67 L316.55,571.26 L316.77,571.13 L316.98,570.26 L317.19,570.72 L317.41,570.42 L317.62,571.07 L317.83,570.44 L318.05,571.02 L318.26,571.09 L318.47,570.76 L318.69,571.21 L318.90,571.40 L319.11,570.27 L319.33,570.57 L319.54,571.10 L319.75,570.90 L319.97,570.38 L320.18,571.12 L320.39,571.98 L320.61,569.88 L320.82,571.56 L321.03,571.11 L321.25,571.89 L321.46,571.89 L321.67,570.76 L321.88,571.50 L322.10,570.62 L322.31,570.98 L322.52,570.99 L322.74,570.64 L322.95,570.62 L323.16,570.31 L323.38,571.54 L323.59,571.26 L323.80,570.62 L324.02,570.58 L324.23,571.17 L324.44,571.48 L324.66,570.93 L324.87,572.28 L325.08,571.69 L325.30,570.43 L325.51,571.52 L325.72,570.02 L325.94,570.89 L326.15,570.82 L326.36,569.73 L326.58,570.54 L326.79,571.09 L327.00,571.20 L327.21,571.24 L327.43,571.88 L327.64,570.79 L327.85,570.94 L328.07,571.27 L328.28,570.57 L328.49,571.23 L328.71,571.76 L328.92,571.47 L329.13,571.00 L329.35,570.83 L329.56,570.14 L329.77,571.16 L329.99,570.75 L330.20,570.53 L330.41,570.72 L330.63,570.86 L330.84,571.50 L331.05,571.17 L331.27,570.02 L331.48,570.92 L331.69,571.02 L331.91,571.53 L332.12,570.89 L332.33,570.23 L332.54,571.28 L332.76,571.42 L332.97,571.04 L333.18,571.24 L333.40,571.31 L333.61,570.05 L333.82,570.67 L334.04,571.67 L334.25,571.06 L334.46,570.62 L334.68,571.17 L334.89,570.67 L335.10,571.55 L335.32,570.81 L335.53,571.07 L335.74,570.79 L335.96,571.07 L336.17,571.35 L336.38,570.87 L336.60,570.85 L336.81,570.76 L337.02,571.67 L337.24,571.28 L337.45,571.16 L337.66,571.19 L337.87,571.23 L338.09,571.03 L338.30,570.46 L338.51,570.30 L338.73,570.55 L338.94,570.83 L339.15,572.54 L339.37,571.37 L339.58,570.84 L339.79,571.49 L340.01,570.58 L340.22,571.38 L340.43,571.01 L340.65,571.28 L340.86,570.97 L341.07,571.74 L341.29,571.23 L341.50,571.48 L341.71,571.59 L341.93,571.83 L342.14,570.66 L342.35,571.60 L342.57,570.78 L342.78,571.17 L342.99,570.90 L343.20,571.12 L343.42,571.14 L343.63,571.69 L343.84,569.93 L344.06,570.66 L344.27,570.68 L344.48,572.12 L344.70,571.44 L344.91,571.46 L345.12,571.05 L345.34,571.45 L345.55,570.86 L345.76,571.10 L345.98,570.79 L346.19,570.64 L346.40,571.52 L346.62,571.43 L346.83,571.57 L347.04,570.79 L347.26,571.20 L347.47,571.36 L347.68,571.73 L347.90,571.00 L348.11,571.18 L348.32,571.12 L348.53,571.33 L348.75,571.82 L348.96,570.61 L349.17,571.17 L349.39,571.06 L349.60,571.51 L349.81,570.58 L350.03,571.55 L350.24,571.39 L350.45,571.58 L350.67,571.68 L350.88,570.84 L351.09,571.40 L351.31,571.66 L351.52,571.27 L351.73,571.33 L351.95,571.18 L352.16,571.46 L352.37,571.09 L352.59,571.94 L352.80,571.61 L353.01,570.89 L353.23,570.83 L353.44,572.01 L353.65,571.04 L353.86,571.23 L354.08,570.70 L354.29,571.68 L354.50,571.04 L354.72,570.84 L354.93,571.83 L355.14,571.51 L355.36,570.80 L355.57,571.32 L355.78,570.82 L356.00,571.15 L356.21,571.84 L356.42,571.18 L356.64,571.05 L356.85,571.48 L357.06,570.77 L357.28,571.82 L357.49,571.26 L357.70,571.38 L357.92,571.60 L358.13,571.89 L358.34,572.15 L358.56,571.79 L358.77,571.32 L358.98,571.50 L359.19,571.31 L359.41,571.35 L359.62,571.46 L359.83,571.15 L360.05,570.87 L360.26,571.92 L360.47,571.14 L360.69,571.99 L360.90,570.28 L361.11,571.67 L361.33,571.43 L361.54,570.87 L361.75,571.08 L361.97,570.85 L362.18,570.63 L362.39,571.40 L362.61,570.38 L362.82,571.56 L363.03,571.40 L363.25,570.88 L363.46,572.32 L363.67,571.55 L363.89,571.37 L364.10,570.91 L364.31,571.59 L364.52,570.89 L364.74,571.74 L364.95,570.84 L365.16,570.94 L365.38,571.51 L365.59,571.41 L365.80,571.37 L366.02,571.45 L366.23,571.54 L366.44,570.68 L366.66,571.10 L366.87,571.09 L367.08,571.98 L367.30,571.31 L367.51,570.81 L367.72,571.24 L367.94,571.53 L368.15,571.34 L368.36,570.94 L368.58,571.38 L368.79,572.25 L369.00,571.65 L369.22,571.24 L369.43,572.01 L369.64,571.31 L369.85,571.10 L370.07,570.32 L370.28,570.66 L370.49,571.14 L370.71,572.11 L370.92,571.19 L371.13,571.97 L371.35,571.79 L371.56,570.83 L371.77,571.68 L371.99,571.03 L372.20,571.24 L372.41,570.91 L372.63,571.41 L372.84,571.40 L373.05,570.64 L373.27,571.02 L373.48,571.17 L373.69,571.33 L373.91,571.08 L374.12,571.38 L374.33,571.06 L374.55,571.38 L374.76,572.10 L374.97,572.08 L375.18,571.64 L375.40,570.44 L375.61,570.72 L375.82,571.51 L376.04,571.70 L376.25,571.56 L376.46,571.44 L376.68,570.80 L376.89,571.60 L377.10,572.02 L377.32,571.58 L377.53,571.89 L377.74,570.67 L377.96,571.42 L378.17,571.31 L378.38,571.38 L378.60,572.23 L378.81,571.25 L379.02,571.14 L379.24,571.55 L379.45,571.20 L379.66,571.52 L379.88,571.41 L380.09,571.01 L380.30,571.55 L380.51,571.14 L380.73,571.34 L380.94,571.37 L381.15,571.60 L381.37,571.70 L381.58,571.38 L381.79,570.84 L382.01,571.21 L382.22,570.84 L382.43,571.37 L382.65,572.09 L382.86,570.85 L383.07,571.41 L383.29,570.89 L383.50,571.05 L383.71,571.01 L383.93,571.19 L384.14,572.72 L384.35,571.02 L384.57,571.27 L384.78,571.06 L384.99,570.99 L385.21,571.25 L385.42,571.11 L385.63,572.06 L385.84,571.36 L386.06,571.09 L386.27,571.11 L386.48,571.81 L386.70,572.24 L386.91,571.69 L387.12,571.40 L387.34,571.30 L387.55,570.68 L387.76,570.86 L387.98,571.76 L388.19,571.14 L388.40,571.61 L388.62,571.07 L388.83,571.73 L389.04,570.85 L389.26,571.68 L389.47,571.60 L389.68,571.85 L389.90,571.07 L390.11,571.41 L390.32,571.25 L390.54,571.11 L390.75,571.82 L390.96,570.70 L391.17,571.10 L391.39,571.35 L391.60,571.45 L391.81,571.57 L392.03,571.69 L392.24,571.04 L392.45,571.37 L392.67,571.47 L392.88,571.71 L393.09,571.39 L393.31,570.55 L393.52,571.26 L393.73,572.36 L393.95,572.51 L394.16,571.15 L394.37,572.09 L394.59,571.34 L394.80,571.20 L395.01,571.17 L395.23,570.59 L395.44,571.66 L395.65,571.38 L395.87,571.75 L396.08,572.07 L396.29,571.83 L396.50,570.83 L396.72,570.83 L396.93,571.86 L397.14,571.13 L397.36,571.57 L397.57,571.09 L397.78,571.89 L398.00,571.36 L398.21,571.43 L398.42,571.89 L398.64,571.75 L398.85,571.73 L399.06,571.50 L399.28,570.75 L399.49,570.79 L399.70,570.78 L399.92,571.24 L400.13,571.07 L400.34,571.95 L400.56,571.48 L400.77,571.01 L400.98,571.35 L401.20,571.81 L401.41,571.30 L401.62,571.42 L401.83,571.43 L402.05,571.76 L402.26,571.22 L402.47,571.59 L402.69,571.87 L402.90,571.53 L403.11,571.27 L403.33,570.92 L403.54,571.01 L403.75,572.32 L403.97,571.05 L404.18,571.27 L404.39,571.32 L404.61,570.91 L404.82,570.77 L405.03,571.24 L405.25,571.58 L405.46,571.78 L405.67,571.43 L405.89,571.36 L406.10,571.84 L406.31,570.75 L406.53,570.84 L406.74,571.14 L406.95,570.67 L407.16,571.13 L407.38,571.70 L407.59,571.13 L407.80,570.63 L408.02,571.64 L408.23,572.11 L408.44,571.10 L408.66,572.32 L408.87,572.00 L409.08,571.39 L409.30,571.74 L409.51,570.78 L409.72,571.55 L409.94,571.27 L410.15,571.06 L410.36,571.54 L410.58,571.33 L410.79,572.38 L411.00,570.65 L411.22,571.53 L411.43,571.69 L411.64,571.86 L411.86,571.49 L412.07,571.85 L412.28,571.49 L412.49,571.89 L412.71,572.24 L412.92,571.95 L413.13,571.98 L413.35,571.44 L413.56,571.56 L413.77,571.85 L413.99,571.47 L414.20,571.91 L414.41,571.65 L414.63,571.76 L414.84,571.45 L415.05,572.03 L415.27,571.70 L415.48,571.65 L415.69,572.13 L415.91,571.62 L416.12,571.66 L416.33,571.23 L416.55,572.14 L416.76,572.30 L416.97,572.38 L417.19,571.56 L417.40,571.89 L417.61,572.10 L417.82,571.55 L418.04,571.27 L418.25,570.81 L418.46,571.11 L418.68,571.95 L418.89,571.01 L419.10,572.00 L419.32,571.48 L419.53,571.32 L419.74,572.33 L419.96,571.61 L420.17,571.63 L420.38,570.70 L420.60,571.95 L420.81,571.34 L421.02,571.76 L421.24,571.65 L421.45,572.10 L421.66,571.25 L421.88,571.13 L422.09,571.16 L422.30,572.46 L422.52,572.53 L422.73,571.73 L422.94,571.19 L423.15,571.34 L423.37,571.82 L423.58,572.01 L423.79,570.95 L424.01,571.07 L424.22,572.04 L424.43,571.74 L424.65,571.75 L424.86,570.78 L425.07,571.40 L425.29,571.21 L425.50,572.11 L425.71,571.59 L425.93,571.77 L426.14,571.65 L426.35,571.54 L426.57,571.76 L426.78,572.20 L426.99,571.20 L427.21,572.15 L427.42,572.09 L427.63,572.56 L427.85,571.58 L428.06,571.68 L428.27,572.03 L428.48,572.13 L428.70,571.67 L428.91,571.88 L429.12,572.21 L429.34,571.54 L429.55,571.34 L429.76,571.59 L429.98,571.37 L430.19,571.64 L430.40,571.06 L430.62,571.35 L430.83,571.91 L431.04,571.26 L431.26,571.60 L431.47,571.99 L431.68,572.06 L431.90,571.89 L432.11,572.64 L432.32,572.11 L432.54,571.99 L432.75,572.46 L432.96,572.16 L433.18,572.22 L433.39,572.47 L433.60,571.84 L433.81,571.69 L434.03,571.63 L434.24,571.27 L434.45,571.86 L434.67,572.00 L434.88,571.79 L435.09,571.23 L435.31,571.08 L435.52,572.04 L435.73,571.62 L435.95,571.87" fill="none" stroke="#e32222" stroke-width="1.15" stroke-linejoin="round"/>
<rect x="51.2" y="415.7" width="54.89999999999999" height="164.2" fill="#b2b2b2" fill-opacity="0.5"/>
<rect x="25.75" y="413.0" width="410.55" height="172.20000000000005" fill="none" stroke="#3a3a3a" stroke-width="1.2"/>
<line x1="52.40" y1="585.20" x2="52.40" y2="591.70" stroke="#3a3a3a" stroke-width="1.0" />
<text x="52.40" y="606.30" font-size="12.4" text-anchor="middle" fill="#000" >1</text>
<line x1="79.05" y1="585.20" x2="79.05" y2="588.60" stroke="#3a3a3a" stroke-width="1.0" />
<line x1="105.70" y1="585.20" x2="105.70" y2="591.70" stroke="#3a3a3a" stroke-width="1.0" />
<text x="105.70" y="606.30" font-size="12.4" text-anchor="middle" fill="#000" >2</text>
<line x1="132.35" y1="585.20" x2="132.35" y2="588.60" stroke="#3a3a3a" stroke-width="1.0" />
<line x1="159.00" y1="585.20" x2="159.00" y2="591.70" stroke="#3a3a3a" stroke-width="1.0" />
<text x="159.00" y="606.30" font-size="12.4" text-anchor="middle" fill="#000" >3</text>
<line x1="185.65" y1="585.20" x2="185.65" y2="588.60" stroke="#3a3a3a" stroke-width="1.0" />
<line x1="212.30" y1="585.20" x2="212.30" y2="591.70" stroke="#3a3a3a" stroke-width="1.0" />
<text x="212.30" y="606.30" font-size="12.4" text-anchor="middle" fill="#000" >4</text>
<line x1="238.95" y1="585.20" x2="238.95" y2="588.60" stroke="#3a3a3a" stroke-width="1.0" />
<line x1="265.60" y1="585.20" x2="265.60" y2="591.70" stroke="#3a3a3a" stroke-width="1.0" />
<text x="265.60" y="606.30" font-size="12.4" text-anchor="middle" fill="#000" >5</text>
<line x1="292.25" y1="585.20" x2="292.25" y2="588.60" stroke="#3a3a3a" stroke-width="1.0" />
<line x1="318.90" y1="585.20" x2="318.90" y2="591.70" stroke="#3a3a3a" stroke-width="1.0" />
<text x="318.90" y="606.30" font-size="12.4" text-anchor="middle" fill="#000" >6</text>
<line x1="345.55" y1="585.20" x2="345.55" y2="588.60" stroke="#3a3a3a" stroke-width="1.0" />
<line x1="372.20" y1="585.20" x2="372.20" y2="591.70" stroke="#3a3a3a" stroke-width="1.0" />
<text x="372.20" y="606.30" font-size="12.4" text-anchor="middle" fill="#000" >7</text>
<line x1="398.85" y1="585.20" x2="398.85" y2="588.60" stroke="#3a3a3a" stroke-width="1.0" />
<line x1="425.50" y1="585.20" x2="425.50" y2="591.70" stroke="#3a3a3a" stroke-width="1.0" />
<text x="425.50" y="606.30" font-size="12.4" text-anchor="middle" fill="#000" >8</text>
<line x1="352.00" y1="426.90" x2="379.50" y2="426.90" stroke="#e54444" stroke-width="1.6" />
<line x1="352.00" y1="442.10" x2="379.50" y2="442.10" stroke="#6fa0d0" stroke-width="1.6" />
<text x="382.80" y="431.00" font-size="12" text-anchor="start" fill="#000" >YZr-Q</text>
<text x="382.80" y="446.10" font-size="12" text-anchor="start" fill="#000" >YZr-N</text>
<text x="231.50" y="618.30" font-size="13.2" text-anchor="middle" fill="#000" >Q (Å<tspan font-size="8" dy="-5">-1</tspan><tspan dy="5">)</tspan></text>
<text transform="translate(17.2,498.7) rotate(-90)" font-size="13.5" text-anchor="middle">Intensity (a.u.)</text>
<rect x="474.8" y="413.6" width="202.8" height="171.5" fill="#e0e0e0"/>
<defs><clipPath id="gclip"><rect x="474.80" y="413.60" width="202.80" height="171.50"/></clipPath></defs>
<path clip-path="url(#gclip)" d="M474.90,521.73 L475.20,522.00 L475.51,522.06 L475.81,522.45 L476.12,522.13 L476.42,522.14 L476.72,522.08 L477.03,522.19 L477.33,522.07 L477.64,522.15 L477.94,522.31 L478.24,521.87 L478.55,521.87 L478.85,521.70 L479.16,522.02 L479.46,522.11 L479.76,522.13 L480.07,522.32 L480.37,521.81 L480.68,522.22 L480.98,522.23 L481.29,522.02 L481.59,521.67 L481.89,521.91 L482.20,522.16 L482.50,522.08 L482.81,521.80 L483.11,521.95 L483.41,522.05 L483.72,521.93 L484.02,521.72 L484.33,521.45 L484.63,522.07 L484.93,521.92 L485.24,521.93 L485.54,522.21 L485.85,521.86 L486.15,521.81 L486.45,521.27 L486.76,521.37 L487.06,521.46 L487.37,520.73 L487.67,520.59 L487.97,520.45 L488.28,519.77 L488.58,519.31 L488.89,518.95 L489.19,518.44 L489.49,518.70 L489.80,518.25 L490.10,518.06 L490.41,518.20 L490.71,518.24 L491.01,518.23 L491.32,518.00 L491.62,518.17 L491.93,517.22 L492.23,516.98 L492.53,515.75 L492.84,514.85 L493.14,512.96 L493.45,511.52 L493.75,510.41 L494.06,508.64 L494.36,507.86 L494.66,506.58 L494.97,505.65 L495.27,505.14 L495.58,504.20 L495.88,503.25 L496.18,503.01 L496.49,501.45 L496.79,499.96 L497.10,497.24 L497.40,494.45 L497.70,490.69 L498.01,486.42 L498.31,481.87 L498.62,477.54 L498.92,472.69 L499.22,469.77 L499.53,467.24 L499.83,466.54 L500.14,467.94 L500.44,470.48 L500.74,474.33 L501.05,479.54 L501.35,485.18 L501.66,491.14 L501.96,496.09 L502.26,500.89 L502.57,505.14 L502.87,508.82 L503.18,511.44 L503.48,513.88 L503.78,515.47 L504.09,516.50 L504.39,517.61 L504.70,517.97 L505.00,517.69 L505.31,517.92 L505.61,518.11 L505.91,517.39 L506.22,516.52 L506.52,515.33 L506.83,514.11 L507.13,512.37 L507.43,510.02 L507.74,506.77 L508.04,503.23 L508.35,499.13 L508.65,494.16 L508.95,488.71 L509.26,482.53 L509.56,476.56 L509.87,469.99 L510.17,463.80 L510.47,458.28 L510.78,453.84 L511.08,449.91 L511.39,448.34 L511.69,447.84 L511.99,449.51 L512.30,452.73 L512.60,456.68 L512.91,462.02 L513.21,468.08 L513.51,474.31 L513.82,480.82 L514.12,486.93 L514.43,492.48 L514.73,497.19 L515.03,501.91 L515.34,506.01 L515.64,508.99 L515.95,511.80 L516.25,513.85 L516.55,515.18 L516.86,516.64 L517.16,517.74 L517.47,518.17 L517.77,518.33 L518.08,518.47 L518.38,518.19 L518.68,518.33 L518.99,517.55 L519.29,516.84 L519.60,515.88 L519.90,514.23 L520.20,512.42 L520.51,510.35 L520.81,507.14 L521.12,504.32 L521.42,500.37 L521.72,496.38 L522.03,492.14 L522.33,488.26 L522.64,484.28 L522.94,481.02 L523.24,478.33 L523.55,477.29 L523.85,476.94 L524.16,478.07 L524.46,480.47 L524.76,482.78 L525.07,487.08 L525.37,491.48 L525.68,495.14 L525.98,499.77 L526.28,503.37 L526.59,506.78 L526.89,510.14 L527.20,512.69 L527.50,514.84 L527.80,516.46 L528.11,518.09 L528.41,519.02 L528.72,519.57 L529.02,519.89 L529.32,520.39 L529.63,520.47 L529.93,520.90 L530.24,521.31 L530.54,521.36 L530.85,521.85 L531.15,521.72 L531.45,521.80 L531.76,521.60 L532.06,521.58 L532.37,521.87 L532.67,521.92 L532.97,522.15 L533.28,521.91 L533.58,521.86 L533.89,521.86 L534.19,522.13 L534.49,521.60 L534.80,521.79 L535.10,522.07 L535.41,522.18 L535.71,522.16 L536.01,522.08 L536.32,522.14 L536.62,522.05 L536.93,522.01 L537.23,521.91 L537.53,521.97 L537.84,522.23 L538.14,522.15 L538.45,522.31 L538.75,522.37 L539.05,521.88 L539.36,522.36 L539.66,521.88 L539.97,522.36 L540.27,522.25 L540.57,522.09 L540.88,522.31 L541.18,522.25 L541.49,522.38 L541.79,522.43 L542.10,522.38 L542.40,522.48 L542.70,522.03 L543.01,522.40 L543.31,522.03 L543.62,522.91 L543.92,522.38 L544.22,522.27 L544.53,522.45 L544.83,522.17 L545.14,522.27 L545.44,522.46 L545.74,522.32 L546.05,521.84 L546.35,522.36 L546.66,522.35 L546.96,522.50 L547.26,522.39 L547.57,522.67 L547.87,522.46 L548.18,521.93 L548.48,522.20 L548.78,522.29 L549.09,522.19 L549.39,522.04 L549.70,522.29 L550.00,521.99 L550.30,522.19 L550.61,522.37 L550.91,522.05 L551.22,522.86 L551.52,522.50 L551.82,522.32 L552.13,522.55 L552.43,522.39 L552.74,522.47 L553.04,522.46 L553.34,521.76 L553.65,522.16 L553.95,522.26 L554.26,521.94 L554.56,522.20 L554.87,521.89 L555.17,521.88 L555.47,521.46 L555.78,521.83 L556.08,521.07 L556.39,520.76 L556.69,520.44 L556.99,519.27 L557.30,518.75 L557.60,517.17 L557.91,516.15 L558.21,514.74 L558.51,513.41 L558.82,511.77 L559.12,510.93 L559.43,509.31 L559.73,508.49 L560.03,507.70 L560.34,507.53 L560.64,507.53 L560.95,508.26 L561.25,508.41 L561.55,509.17 L561.86,510.65 L562.16,511.66 L562.47,512.70 L562.77,513.63 L563.07,514.62 L563.38,516.32 L563.68,517.22 L563.99,518.24 L564.29,519.08 L564.59,519.92 L564.90,520.14 L565.20,520.96 L565.51,520.84 L565.81,521.30 L566.12,521.94 L566.42,522.14 L566.72,522.20 L567.03,521.91 L567.33,522.44 L567.64,522.63 L567.94,522.39 L568.24,522.34 L568.55,522.57 L568.85,522.14 L569.16,522.43 L569.46,522.40 L569.76,522.68 L570.07,522.53 L570.37,522.56 L570.68,523.00 L570.98,522.49 L571.28,522.92 L571.59,522.57 L571.89,522.87 L572.20,522.18 L572.50,522.52 L572.80,522.42 L573.11,522.41 L573.41,522.86 L573.72,523.06 L574.02,522.67 L574.32,522.43 L574.63,522.59 L574.93,522.46 L575.24,522.43 L575.54,522.91 L575.84,522.56 L576.15,522.22 L576.45,522.73 L576.76,523.02 L577.06,522.66 L577.36,522.71 L577.67,522.53 L577.97,522.79 L578.28,522.59 L578.58,523.05 L578.89,522.43 L579.19,522.28 L579.49,522.33 L579.80,522.89 L580.10,522.51 L580.41,523.16 L580.71,522.50 L581.01,522.56 L581.32,522.74 L581.62,522.46 L581.93,522.48 L582.23,522.31 L582.53,522.45 L582.84,522.41 L583.14,522.82 L583.45,522.64 L583.75,522.47 L584.05,522.27 L584.36,522.28 L584.66,521.91 L584.97,522.29 L585.27,522.03 L585.57,521.75 L585.88,521.61 L586.18,521.12 L586.49,520.88 L586.79,519.87 L587.09,519.43 L587.40,518.13 L587.70,517.10 L588.01,515.28 L588.31,514.09 L588.61,511.70 L588.92,509.68 L589.22,507.24 L589.53,504.71 L589.83,502.96 L590.13,501.03 L590.44,499.41 L590.74,498.16 L591.05,498.24 L591.35,498.19 L591.66,499.48 L591.96,501.01 L592.26,502.82 L592.57,504.89 L592.87,507.43 L593.18,509.73 L593.48,511.84 L593.78,513.90 L594.09,516.16 L594.39,517.23 L594.70,518.39 L595.00,519.20 L595.30,519.81 L595.61,520.70 L595.91,521.27 L596.22,521.82 L596.52,521.86 L596.82,521.91 L597.13,521.94 L597.43,522.47 L597.74,522.32 L598.04,522.26 L598.34,522.10 L598.65,522.46 L598.95,522.65 L599.26,522.71 L599.56,522.67 L599.86,522.75 L600.17,522.47 L600.47,522.44 L600.78,522.53 L601.08,522.45 L601.38,522.80 L601.69,522.64 L601.99,522.81 L602.30,522.74 L602.60,522.51 L602.91,522.77 L603.21,523.15 L603.51,522.84 L603.82,522.94 L604.12,523.10 L604.43,522.97 L604.73,522.63 L605.03,522.49 L605.34,522.93 L605.64,522.64 L605.95,522.61 L606.25,523.08 L606.55,522.86 L606.86,522.87 L607.16,522.83 L607.47,523.19 L607.77,522.95 L608.07,522.67 L608.38,522.63 L608.68,522.52 L608.99,522.96 L609.29,522.52 L609.59,522.77 L609.90,523.18 L610.20,522.76 L610.51,522.98 L610.81,522.81 L611.11,522.94 L611.42,522.68 L611.72,522.87 L612.03,522.99 L612.33,522.74 L612.63,522.88 L612.94,523.02 L613.24,522.68 L613.55,523.02 L613.85,523.07 L614.15,523.06 L614.46,523.24 L614.76,523.06 L615.07,522.58 L615.37,523.14 L615.68,522.96 L615.98,523.18 L616.28,523.09 L616.59,522.66 L616.89,522.79 L617.20,523.09 L617.50,522.97 L617.80,523.14 L618.11,523.13 L618.41,523.16 L618.72,523.16 L619.02,522.92 L619.32,522.86 L619.63,522.89 L619.93,523.02 L620.24,523.26 L620.54,523.00 L620.84,523.18 L621.15,522.82 L621.45,522.88 L621.76,522.85 L622.06,523.07 L622.36,523.36 L622.67,522.81 L622.97,522.75 L623.28,523.30 L623.58,522.97 L623.88,522.76 L624.19,523.22 L624.49,522.65 L624.80,523.07 L625.10,523.22 L625.40,522.73 L625.71,522.95 L626.01,523.14 L626.32,522.83 L626.62,523.40 L626.93,522.64 L627.23,523.17 L627.53,522.95 L627.84,523.08 L628.14,522.92 L628.45,522.83 L628.75,523.17 L629.05,522.84 L629.36,523.06 L629.66,523.13 L629.97,523.04 L630.27,523.19 L630.57,523.15 L630.88,522.80 L631.18,523.01 L631.49,522.75 L631.79,522.89 L632.09,523.17 L632.40,523.34 L632.70,523.09 L633.01,522.89 L633.31,522.93 L633.61,523.09 L633.92,522.70 L634.22,523.23 L634.53,523.11 L634.83,522.78 L635.13,522.31 L635.44,522.58 L635.74,522.74 L636.05,522.26 L636.35,522.02 L636.65,521.68 L636.96,521.60 L637.26,521.24 L637.57,520.55 L637.87,519.92 L638.17,519.07 L638.48,518.35 L638.78,518.31 L639.09,517.74 L639.39,517.24 L639.70,517.04 L640.00,516.83 L640.30,516.97 L640.61,517.32 L640.91,517.52 L641.22,518.31 L641.52,518.98 L641.82,519.53 L642.13,519.78 L642.43,520.00 L642.74,520.22 L643.04,519.59 L643.34,519.38 L643.65,519.03 L643.95,518.51 L644.26,517.92 L644.56,517.01 L644.86,515.68 L645.17,515.81 L645.47,514.81 L645.78,514.39 L646.08,514.48 L646.38,514.82 L646.69,515.10 L646.99,516.17 L647.30,516.65 L647.60,517.35 L647.90,518.72 L648.21,519.50 L648.51,520.05 L648.82,520.53 L649.12,521.00 L649.42,521.56 L649.73,522.17 L650.03,522.51 L650.34,522.43 L650.64,522.53 L650.94,522.92 L651.25,522.76 L651.55,522.75 L651.86,522.63 L652.16,523.06 L652.47,522.77 L652.77,523.12 L653.07,522.98 L653.38,522.92 L653.68,522.60 L653.99,522.24 L654.29,522.84 L654.59,522.79 L654.90,522.67 L655.20,523.12 L655.51,522.67 L655.81,523.03 L656.11,522.40 L656.42,522.36 L656.72,522.43 L657.03,522.54 L657.33,521.84 L657.63,521.85 L657.94,521.54 L658.24,521.01 L658.55,520.96 L658.85,519.92 L659.15,519.12 L659.46,518.51 L659.76,517.75 L660.07,517.18 L660.37,516.10 L660.67,515.52 L660.98,515.02 L661.28,514.79 L661.59,514.38 L661.89,514.41 L662.19,514.92 L662.50,515.34 L662.80,515.91 L663.11,516.60 L663.41,517.65 L663.72,518.51 L664.02,519.28 L664.32,519.86 L664.63,520.33 L664.93,520.73 L665.24,521.38 L665.54,521.54 L665.84,521.95 L666.15,521.59 L666.45,521.92 L666.76,521.67 L667.06,521.69 L667.36,521.30 L667.67,520.97 L667.97,519.95 L668.28,519.54 L668.58,518.84 L668.88,518.05 L669.19,516.92 L669.49,515.51 L669.80,514.04 L670.10,513.38 L670.40,512.02 L670.71,510.70 L671.01,509.77 L671.32,509.19 L671.62,508.35 L671.92,508.03 L672.23,508.67 L672.53,508.83 L672.84,509.48 L673.14,510.51 L673.44,511.97 L673.75,512.69 L674.05,514.33 L674.36,515.87 L674.66,516.69 L674.96,518.20 L675.27,518.76 L675.57,520.02 L675.88,520.30 L676.18,521.15 L676.49,521.27 L676.79,521.71 L677.09,522.05 L677.40,522.34 L677.70,522.30" fill="none" stroke="#3b7fc0" stroke-width="1.6" stroke-linejoin="round"/>
<path clip-path="url(#gclip)" d="M474.90,569.23 L475.20,569.05 L475.51,569.64 L475.81,568.96 L476.12,569.40 L476.42,569.86 L476.72,569.48 L477.03,568.98 L477.33,569.08 L477.64,569.67 L477.94,568.95 L478.24,569.23 L478.55,569.02 L478.85,569.05 L479.16,569.63 L479.46,569.02 L479.76,569.40 L480.07,568.52 L480.37,568.84 L480.68,569.10 L480.98,569.50 L481.29,569.08 L481.59,569.02 L481.89,569.56 L482.20,568.17 L482.50,568.88 L482.81,568.35 L483.11,569.45 L483.41,568.33 L483.72,569.51 L484.02,569.20 L484.33,568.70 L484.63,568.87 L484.93,569.80 L485.24,569.26 L485.54,568.44 L485.85,567.90 L486.15,568.31 L486.45,568.72 L486.76,568.22 L487.06,568.91 L487.37,568.14 L487.67,568.76 L487.97,568.08 L488.28,567.95 L488.58,567.37 L488.89,567.57 L489.19,566.67 L489.49,566.88 L489.80,566.05 L490.10,565.58 L490.41,566.04 L490.71,564.59 L491.01,563.77 L491.32,563.13 L491.62,561.62 L491.93,560.96 L492.23,558.66 L492.53,556.98 L492.84,555.17 L493.14,552.24 L493.45,550.90 L493.75,548.74 L494.06,546.76 L494.36,544.11 L494.66,542.52 L494.97,539.75 L495.27,538.92 L495.58,537.30 L495.88,535.56 L496.18,535.13 L496.49,534.93 L496.79,534.03 L497.10,534.24 L497.40,533.59 L497.70,533.64 L498.01,533.84 L498.31,533.29 L498.62,533.31 L498.92,534.40 L499.22,535.71 L499.53,536.96 L499.83,539.59 L500.14,541.05 L500.44,543.57 L500.74,544.69 L501.05,548.03 L501.35,550.59 L501.66,551.63 L501.96,553.88 L502.26,555.45 L502.57,556.90 L502.87,558.25 L503.18,559.71 L503.48,560.27 L503.78,561.43 L504.09,562.71 L504.39,563.34 L504.70,564.31 L505.00,564.36 L505.31,564.61 L505.61,564.94 L505.91,565.11 L506.22,565.39 L506.52,564.48 L506.83,564.71 L507.13,563.81 L507.43,562.78 L507.74,560.99 L508.04,559.01 L508.35,555.49 L508.65,553.05 L508.95,550.40 L509.26,546.13 L509.56,542.66 L509.87,538.06 L510.17,534.62 L510.47,532.88 L510.78,531.04 L511.08,531.18 L511.39,532.01 L511.69,533.68 L511.99,537.58 L512.30,541.57 L512.60,544.68 L512.91,548.66 L513.21,552.28 L513.51,555.47 L513.82,559.04 L514.12,561.95 L514.43,562.68 L514.73,564.76 L515.03,566.21 L515.34,567.02 L515.64,566.69 L515.95,567.48 L516.25,567.71 L516.55,567.66 L516.86,568.38 L517.16,568.59 L517.47,568.46 L517.77,568.48 L518.08,568.00 L518.38,568.00 L518.68,567.29 L518.99,567.03 L519.29,566.26 L519.60,565.20 L519.90,563.96 L520.20,562.79 L520.51,562.11 L520.81,560.69 L521.12,559.52 L521.42,557.44 L521.72,555.83 L522.03,555.44 L522.33,553.92 L522.64,553.73 L522.94,553.46 L523.24,553.56 L523.55,554.45 L523.85,554.94 L524.16,557.17 L524.46,558.28 L524.76,559.56 L525.07,561.43 L525.37,562.28 L525.68,564.33 L525.98,564.85 L526.28,566.43 L526.59,566.73 L526.89,567.12 L527.20,566.96 L527.50,567.81 L527.80,567.90 L528.11,568.74 L528.41,568.09 L528.72,569.16 L529.02,569.25 L529.32,569.73 L529.63,569.18 L529.93,568.89 L530.24,569.60 L530.54,569.53 L530.85,569.59 L531.15,569.56 L531.45,569.68 L531.76,570.00 L532.06,568.93 L532.37,570.29 L532.67,569.88 L532.97,569.39 L533.28,569.14 L533.58,569.64 L533.89,569.68 L534.19,569.55 L534.49,569.69 L534.80,569.24 L535.10,569.80 L535.41,570.01 L535.71,569.81 L536.01,569.59 L536.32,569.15 L536.62,569.01 L536.93,569.81 L537.23,570.24 L537.53,570.22 L537.84,568.82 L538.14,569.84 L538.45,569.50 L538.75,568.92 L539.05,569.97 L539.36,569.78 L539.66,569.94 L539.97,570.15 L540.27,569.40 L540.57,569.29 L540.88,570.47 L541.18,569.34 L541.49,569.83 L541.79,569.66 L542.10,569.66 L542.40,570.27 L542.70,569.87 L543.01,570.15 L543.31,568.99 L543.62,568.88 L543.92,569.73 L544.22,570.24 L544.53,569.31 L544.83,569.85 L545.14,569.08 L545.44,568.99 L545.74,569.11 L546.05,569.94 L546.35,570.18 L546.66,570.05 L546.96,569.83 L547.26,570.16 L547.57,569.31 L547.87,569.53 L548.18,569.81 L548.48,569.96 L548.78,569.54 L549.09,569.25 L549.39,570.57 L549.70,569.70 L550.00,569.92 L550.30,570.09 L550.61,569.93 L550.91,569.74 L551.22,569.04 L551.52,569.77 L551.82,569.96 L552.13,570.27 L552.43,569.47 L552.74,570.07 L553.04,569.80 L553.34,569.46 L553.65,569.70 L553.95,569.85 L554.26,569.71 L554.56,569.21 L554.87,569.45 L555.17,569.16 L555.47,568.82 L555.78,568.75 L556.08,568.00 L556.39,567.64 L556.69,566.40 L556.99,565.95 L557.30,566.18 L557.60,565.03 L557.91,564.17 L558.21,564.60 L558.51,564.80 L558.82,564.48 L559.12,565.59 L559.43,565.35 L559.73,565.25 L560.03,565.15 L560.34,565.85 L560.64,565.89 L560.95,564.84 L561.25,565.95 L561.55,566.04 L561.86,565.53 L562.16,567.26 L562.47,568.53 L562.77,567.07 L563.07,568.24 L563.38,568.86 L563.68,568.17 L563.99,569.51 L564.29,569.04 L564.59,569.70 L564.90,569.88 L565.20,569.55 L565.51,569.48 L565.81,569.33 L566.12,569.38 L566.42,570.07 L566.72,569.92 L567.03,569.12 L567.33,569.66 L567.64,569.87 L567.94,569.37 L568.24,569.36 L568.55,569.41 L568.85,570.15 L569.16,570.09 L569.46,569.64 L569.76,569.46 L570.07,570.42 L570.37,570.13 L570.68,570.04 L570.98,569.55 L571.28,570.39 L571.59,568.87 L571.89,569.92 L572.20,569.71 L572.50,569.07 L572.80,569.71 L573.11,569.66 L573.41,570.04 L573.72,569.78 L574.02,570.39 L574.32,570.00 L574.63,569.95 L574.93,570.36 L575.24,569.57 L575.54,569.79 L575.84,570.71 L576.15,569.65 L576.45,570.34 L576.76,569.73 L577.06,570.29 L577.36,570.11 L577.67,569.80 L577.97,569.19 L578.28,570.56 L578.58,570.10 L578.89,570.09 L579.19,569.51 L579.49,570.05 L579.80,569.78 L580.10,569.41 L580.41,569.63 L580.71,570.10 L581.01,570.10 L581.32,570.02 L581.62,569.84 L581.93,570.24 L582.23,569.91 L582.53,569.65 L582.84,570.05 L583.14,570.04 L583.45,569.71 L583.75,569.49 L584.05,570.32 L584.36,570.14 L584.66,569.19 L584.97,569.65 L585.27,569.99 L585.57,569.39 L585.88,568.64 L586.18,569.30 L586.49,569.14 L586.79,568.45 L587.09,567.19 L587.40,567.43 L587.70,566.12 L588.01,564.93 L588.31,563.92 L588.61,562.98 L588.92,561.13 L589.22,559.79 L589.53,558.00 L589.83,556.70 L590.13,555.50 L590.44,555.23 L590.74,553.62 L591.05,553.69 L591.35,554.71 L591.66,554.56 L591.96,555.46 L592.26,556.92 L592.57,559.32 L592.87,560.17 L593.18,561.80 L593.48,563.00 L593.78,565.12 L594.09,565.26 L594.39,566.17 L594.70,566.98 L595.00,567.90 L595.30,568.45 L595.61,568.41 L595.91,568.94 L596.22,569.51 L596.52,569.39 L596.82,569.35 L597.13,569.24 L597.43,569.60 L597.74,570.14 L598.04,570.07 L598.34,569.81 L598.65,569.81 L598.95,569.54 L599.26,570.72 L599.56,570.27 L599.86,570.46 L600.17,569.58 L600.47,569.72 L600.78,569.91 L601.08,569.73 L601.38,570.29 L601.69,569.86 L601.99,570.05 L602.30,570.05 L602.60,570.14 L602.91,569.72 L603.21,569.69 L603.51,570.68 L603.82,570.33 L604.12,570.10 L604.43,569.91 L604.73,570.78 L605.03,570.51 L605.34,570.27 L605.64,569.46 L605.95,570.51 L606.25,570.32 L606.55,570.18 L606.86,570.22 L607.16,570.12 L607.47,570.19 L607.77,570.26 L608.07,570.08 L608.38,570.08 L608.68,570.05 L608.99,570.04 L609.29,570.67 L609.59,570.14 L609.90,570.15 L610.20,569.90 L610.51,569.94 L610.81,569.60 L611.11,570.54 L611.42,570.28 L611.72,570.14 L612.03,570.48 L612.33,570.34 L612.63,570.38 L612.94,570.42 L613.24,569.33 L613.55,570.27 L613.85,569.66 L614.15,570.58 L614.46,570.13 L614.76,570.50 L615.07,570.12 L615.37,569.59 L615.68,569.48 L615.98,569.93 L616.28,570.07 L616.59,570.25 L616.89,570.10 L617.20,569.71 L617.50,570.90 L617.80,570.38 L618.11,570.65 L618.41,569.87 L618.72,570.76 L619.02,569.94 L619.32,570.73 L619.63,570.70 L619.93,569.68 L620.24,569.87 L620.54,570.63 L620.84,570.96 L621.15,570.65 L621.45,570.05 L621.76,570.29 L622.06,570.65 L622.36,570.07 L622.67,569.74 L622.97,570.73 L623.28,570.32 L623.58,570.60 L623.88,569.85 L624.19,570.24 L624.49,570.55 L624.80,570.94 L625.10,570.01 L625.40,570.40 L625.71,570.24 L626.01,570.36 L626.32,570.13 L626.62,570.98 L626.93,570.61 L627.23,570.16 L627.53,569.57 L627.84,570.16 L628.14,570.32 L628.45,570.54 L628.75,570.55 L629.05,570.37 L629.36,570.59 L629.66,570.23 L629.97,570.27 L630.27,569.48 L630.57,570.30 L630.88,569.82 L631.18,570.42 L631.49,569.87 L631.79,569.28 L632.09,570.46 L632.40,570.68 L632.70,569.79 L633.01,570.17 L633.31,570.27 L633.61,569.96 L633.92,569.98 L634.22,569.55 L634.53,569.79 L634.83,570.06 L635.13,570.12 L635.44,570.14 L635.74,569.60 L636.05,568.38 L636.35,568.95 L636.65,567.83 L636.96,566.77 L637.26,566.38 L637.57,565.33 L637.87,564.98 L638.17,564.05 L638.48,564.41 L638.78,564.19 L639.09,562.96 L639.39,563.68 L639.70,564.06 L640.00,564.75 L640.30,564.41 L640.61,565.41 L640.91,565.93 L641.22,566.84 L641.52,566.88 L641.82,567.25 L642.13,567.12 L642.43,566.78 L642.74,566.75 L643.04,566.37 L643.34,565.09 L643.65,565.10 L643.95,563.42 L644.26,562.69 L644.56,563.31 L644.86,561.76 L645.17,562.61 L645.47,561.92 L645.78,563.06 L646.08,563.13 L646.38,564.59 L646.69,564.73 L646.99,565.78 L647.30,565.99 L647.60,567.05 L647.90,568.34 L648.21,568.41 L648.51,569.24 L648.82,569.25 L649.12,568.98 L649.42,569.16 L649.73,569.86 L650.03,570.35 L650.34,570.07 L650.64,569.32 L650.94,570.24 L651.25,570.79 L651.55,570.78 L651.86,570.72 L652.16,569.83 L652.47,570.40 L652.77,570.57 L653.07,570.14 L653.38,569.90 L653.68,570.34 L653.99,570.60 L654.29,570.20 L654.59,569.95 L654.90,570.93 L655.20,570.82 L655.51,569.45 L655.81,570.04 L656.11,570.03 L656.42,570.67 L656.72,570.42 L657.03,570.01 L657.33,569.25 L657.63,569.50 L657.94,569.90 L658.24,568.31 L658.55,567.90 L658.85,567.72 L659.15,568.01 L659.46,567.32 L659.76,566.66 L660.07,566.05 L660.37,565.02 L660.67,566.02 L660.98,565.68 L661.28,565.49 L661.59,565.94 L661.89,566.28 L662.19,567.12 L662.50,567.01 L662.80,567.67 L663.11,567.96 L663.41,568.10 L663.72,568.96 L664.02,569.22 L664.32,569.32 L664.63,569.80 L664.93,569.67 L665.24,570.52 L665.54,570.19 L665.84,569.63 L666.15,569.69 L666.45,569.33 L666.76,570.01 L667.06,569.47 L667.36,568.99 L667.67,568.63 L667.97,568.21 L668.28,567.01 L668.58,567.11 L668.88,566.32 L669.19,565.17 L669.49,564.29 L669.80,563.50 L670.10,561.95 L670.40,561.47 L670.71,560.93 L671.01,560.49 L671.32,559.06 L671.62,559.43 L671.92,558.91 L672.23,559.40 L672.53,558.72 L672.84,559.84 L673.14,561.56 L673.44,561.61 L673.75,563.19 L674.05,563.82 L674.36,564.22 L674.66,565.94 L674.96,566.13 L675.27,567.04 L675.57,567.37 L675.88,568.61 L676.18,568.46 L676.49,569.23 L676.79,568.99 L677.09,569.63 L677.40,569.58 L677.70,569.46" fill="none" stroke="#e32222" stroke-width="1.6" stroke-linejoin="round"/>
<line x1="499.43" y1="416.50" x2="499.43" y2="582.50" stroke="#2a2a2a" stroke-width="1.0" stroke-dasharray="4,2.6"/>
<line x1="511.69" y1="416.50" x2="511.69" y2="582.50" stroke="#2a2a2a" stroke-width="1.0" stroke-dasharray="4,2.6"/>
<line x1="523.65" y1="416.50" x2="523.65" y2="582.50" stroke="#2a2a2a" stroke-width="1.0" stroke-dasharray="4,2.6"/>
<line x1="591.45" y1="416.50" x2="591.45" y2="582.50" stroke="#2a2a2a" stroke-width="1.0" stroke-dasharray="4,2.6"/>
<line x1="639.09" y1="416.50" x2="639.09" y2="582.50" stroke="#2a2a2a" stroke-width="1.0" stroke-dasharray="4,2.6"/>
<line x1="645.98" y1="416.50" x2="645.98" y2="582.50" stroke="#2a2a2a" stroke-width="1.0" stroke-dasharray="4,2.6"/>
<rect x="474.8" y="413.6" width="202.8" height="171.5" fill="none" stroke="#3a3a3a" stroke-width="1.2"/>
<line x1="474.90" y1="585.10" x2="474.90" y2="589.10" stroke="#3a3a3a" stroke-width="1.2" />
<text x="474.90" y="601.00" font-size="12.3" text-anchor="middle" fill="#000" >1.0</text>
<line x1="495.17" y1="585.10" x2="495.17" y2="587.50" stroke="#3a3a3a" stroke-width="1.2" />
<line x1="515.44" y1="585.10" x2="515.44" y2="589.10" stroke="#3a3a3a" stroke-width="1.2" />
<text x="515.44" y="601.00" font-size="12.3" text-anchor="middle" fill="#000" >1.2</text>
<line x1="535.71" y1="585.10" x2="535.71" y2="587.50" stroke="#3a3a3a" stroke-width="1.2" />
<line x1="555.98" y1="585.10" x2="555.98" y2="589.10" stroke="#3a3a3a" stroke-width="1.2" />
<text x="555.98" y="601.00" font-size="12.3" text-anchor="middle" fill="#000" >1.4</text>
<line x1="576.25" y1="585.10" x2="576.25" y2="587.50" stroke="#3a3a3a" stroke-width="1.2" />
<line x1="596.52" y1="585.10" x2="596.52" y2="589.10" stroke="#3a3a3a" stroke-width="1.2" />
<text x="596.52" y="601.00" font-size="12.3" text-anchor="middle" fill="#000" >1.6</text>
<line x1="616.79" y1="585.10" x2="616.79" y2="587.50" stroke="#3a3a3a" stroke-width="1.2" />
<line x1="637.06" y1="585.10" x2="637.06" y2="589.10" stroke="#3a3a3a" stroke-width="1.2" />
<text x="637.06" y="601.00" font-size="12.3" text-anchor="middle" fill="#000" >1.8</text>
<line x1="657.33" y1="585.10" x2="657.33" y2="587.50" stroke="#3a3a3a" stroke-width="1.2" />
<line x1="677.60" y1="585.10" x2="677.60" y2="589.10" stroke="#3a3a3a" stroke-width="1.2" />
<text x="677.60" y="601.00" font-size="12.3" text-anchor="middle" fill="#000" >2.0</text>
<line x1="529.10" y1="422.80" x2="554.80" y2="422.80" stroke="#e54444" stroke-width="1.6" />
<line x1="529.10" y1="436.90" x2="554.80" y2="436.90" stroke="#6fa0d0" stroke-width="1.6" />
<text x="557.60" y="426.60" font-size="11.6" text-anchor="start" fill="#000" >YZr-Q</text>
<text x="557.60" y="440.80" font-size="11.6" text-anchor="start" fill="#000" >YZr-N</text>
<text x="576.20" y="617.20" font-size="13.2" text-anchor="middle" fill="#000" >Q (Å<tspan font-size="8" dy="-5">-1</tspan><tspan dy="5">)</tspan></text>
<text transform="translate(469.6,499.5) rotate(-90)" font-size="13.5" text-anchor="middle">Intensity (a.u.)</text>
</svg>
</body></html>
